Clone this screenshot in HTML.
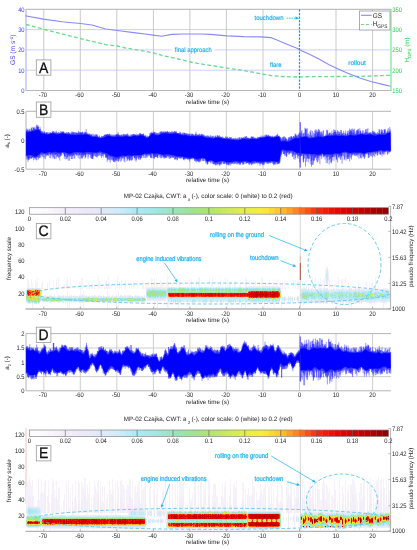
<!DOCTYPE html>
<html><head><meta charset="utf-8"><style>
html,body{margin:0;padding:0;background:#fff;width:417px;height:550px;overflow:hidden}
svg{display:block;filter:blur(0.25px)}
text{font-family:'Liberation Sans',Arial,sans-serif;text-rendering:geometricPrecision}
</style></head><body>
<svg width="417" height="550" viewBox="0 0 417 550">
<rect width="417" height="550" fill="#fff"/>
<line x1="26.0" y1="70.2" x2="391.0" y2="70.2" stroke="#c8c8ff" stroke-width="0.9"/>
<line x1="26.0" y1="49.9" x2="391.0" y2="49.9" stroke="#c8c8ff" stroke-width="0.9"/>
<line x1="26.0" y1="29.6" x2="391.0" y2="29.6" stroke="#c8c8ff" stroke-width="0.9"/>
<line x1="43.8" y1="9.3" x2="43.8" y2="90.5" stroke="#c4c4c4" stroke-width="0.9"/>
<line x1="80.3" y1="9.3" x2="80.3" y2="90.5" stroke="#c4c4c4" stroke-width="0.9"/>
<line x1="116.8" y1="9.3" x2="116.8" y2="90.5" stroke="#c4c4c4" stroke-width="0.9"/>
<line x1="153.4" y1="9.3" x2="153.4" y2="90.5" stroke="#c4c4c4" stroke-width="0.9"/>
<line x1="189.9" y1="9.3" x2="189.9" y2="90.5" stroke="#c4c4c4" stroke-width="0.9"/>
<line x1="226.4" y1="9.3" x2="226.4" y2="90.5" stroke="#c4c4c4" stroke-width="0.9"/>
<line x1="263.0" y1="9.3" x2="263.0" y2="90.5" stroke="#c4c4c4" stroke-width="0.9"/>
<line x1="336.0" y1="9.3" x2="336.0" y2="90.5" stroke="#c4c4c4" stroke-width="0.9"/>
<line x1="372.6" y1="9.3" x2="372.6" y2="90.5" stroke="#c4c4c4" stroke-width="0.9"/>
<line x1="26.0" y1="9.3" x2="391.0" y2="9.3" stroke="#b0b0b0" stroke-width="1"/>
<line x1="26.0" y1="90.5" x2="391.0" y2="90.5" stroke="#b8b8b8" stroke-width="1"/>
<line x1="26.0" y1="9" x2="26.0" y2="91" stroke="#b4b4ff" stroke-width="1.2"/>
<line x1="391.0" y1="9" x2="391.0" y2="91" stroke="#66ee88" stroke-width="1.2"/>
<text transform="translate(24.60,92.85) scale(0.88,1)" font-size="6.6" fill="#3c3cf0" color="#3c3cf0" text-anchor="end" >0</text>
<text transform="translate(24.60,72.55) scale(0.88,1)" font-size="6.6" fill="#3c3cf0" color="#3c3cf0" text-anchor="end" >10</text>
<text transform="translate(24.60,52.25) scale(0.88,1)" font-size="6.6" fill="#3c3cf0" color="#3c3cf0" text-anchor="end" >20</text>
<text transform="translate(24.60,31.95) scale(0.88,1)" font-size="6.6" fill="#3c3cf0" color="#3c3cf0" text-anchor="end" >30</text>
<text transform="translate(24.60,11.65) scale(0.88,1)" font-size="6.6" fill="#3c3cf0" color="#3c3cf0" text-anchor="end" >40</text>
<text transform="translate(392.20,92.85) scale(0.88,1)" font-size="6.6" fill="#22d048" color="#22d048" text-anchor="start" >150</text>
<text transform="translate(392.20,72.55) scale(0.88,1)" font-size="6.6" fill="#22d048" color="#22d048" text-anchor="start" >200</text>
<text transform="translate(392.20,52.25) scale(0.88,1)" font-size="6.6" fill="#22d048" color="#22d048" text-anchor="start" >250</text>
<text transform="translate(392.20,31.95) scale(0.88,1)" font-size="6.6" fill="#22d048" color="#22d048" text-anchor="start" >300</text>
<text transform="translate(392.20,11.65) scale(0.88,1)" font-size="6.6" fill="#22d048" color="#22d048" text-anchor="start" >350</text>
<text transform="translate(42.89,97.45) scale(0.88,1)" font-size="6.6" fill="#222" color="#222" text-anchor="middle" >-70</text>
<text transform="translate(79.42,97.45) scale(0.88,1)" font-size="6.6" fill="#222" color="#222" text-anchor="middle" >-60</text>
<text transform="translate(115.95,97.45) scale(0.88,1)" font-size="6.6" fill="#222" color="#222" text-anchor="middle" >-50</text>
<text transform="translate(152.48,97.45) scale(0.88,1)" font-size="6.6" fill="#222" color="#222" text-anchor="middle" >-40</text>
<text transform="translate(189.01,97.45) scale(0.88,1)" font-size="6.6" fill="#222" color="#222" text-anchor="middle" >-30</text>
<text transform="translate(225.54,97.45) scale(0.88,1)" font-size="6.6" fill="#222" color="#222" text-anchor="middle" >-20</text>
<text transform="translate(262.07,97.45) scale(0.88,1)" font-size="6.6" fill="#222" color="#222" text-anchor="middle" >-10</text>
<text transform="translate(299.50,97.45) scale(0.88,1)" font-size="6.6" fill="#222" color="#222" text-anchor="middle" >0</text>
<text transform="translate(336.03,97.45) scale(0.88,1)" font-size="6.6" fill="#222" color="#222" text-anchor="middle" >10</text>
<text transform="translate(372.56,97.45) scale(0.88,1)" font-size="6.6" fill="#222" color="#222" text-anchor="middle" >20</text>
<text x="207.5" y="104.0" font-size="6.2" fill="#222" color="#222" text-anchor="middle" textLength="43" lengthAdjust="spacingAndGlyphs" >relative time (s)</text>
<text transform="translate(14.9,49.8) rotate(-90)" font-size="6.6" fill="#3c3cf0" color="#3c3cf0" text-anchor="middle">GS (m s<tspan dy="-2" font-size="4.5">-1</tspan><tspan dy="2">)</tspan></text>
<text transform="translate(409,50) rotate(-90)" font-size="6.2" fill="#22d048" color="#22d048" text-anchor="middle">H<tspan dy="1.8" font-size="4.5">GPS</tspan><tspan dy="-1.8"> (m)</tspan></text>
<polyline points="26.0,24.5 43.5,29.2 62.0,33.9 80.4,38.6 98.8,42.9 105.6,44.6 117.3,46.0 125.7,48.0 135.8,49.6 154.0,53.0 162.0,55.4 176.8,58.7 193.6,62.7 210.4,65.4 227.1,68.1 243.9,70.5 260.7,73.8 270.8,75.5 280.8,76.5 297.6,77.0 310.0,76.6 340.0,76.5 360.0,76.4 390.5,75.3" fill="none" stroke="#6ad890" stroke-width="1.3" stroke-dasharray="3.8 2.4"/>
<polyline points="25.0,15.7 43.5,19.1 62.0,21.8 80.4,23.5 92.0,25.0 98.0,26.8 105.6,29.0 117.3,30.5 135.8,32.9 145.0,34.0 153.0,35.1 161.6,36.3 171.7,34.4 183.0,34.0 200.0,34.0 210.4,34.4 227.1,35.9 243.9,36.6 260.7,36.9 270.8,37.6 277.5,40.2 287.6,44.6 297.6,48.6 299.8,50.0 309.4,54.2 319.0,59.0 328.6,64.5 337.0,68.5 347.8,73.3 359.7,78.1 371.7,81.7 383.7,84.6 390.5,86.2" fill="none" stroke="#8a8af5" stroke-width="1.1"/>
<line x1="299.5" y1="9.5" x2="299.5" y2="90.5" stroke="#1890f0" stroke-width="1.2" stroke-dasharray="2.2 1.3"/>
<rect x="171.5" y="47.4" width="43" height="6" fill="#fff"/>
<text x="193.3" y="52.3" font-size="6.6" fill="#18b0f0" color="#18b0f0" text-anchor="middle" textLength="37" lengthAdjust="spacingAndGlyphs" stroke="#18b0f0" stroke-width="0.18">final approach</text>
<text x="269.0" y="20.3" font-size="6.6" fill="#18b0f0" color="#18b0f0" text-anchor="middle" textLength="29" lengthAdjust="spacingAndGlyphs" stroke="#18b0f0" stroke-width="0.18">touchdown</text>
<line x1="286.7" y1="18.2" x2="296" y2="18.2" stroke="#18b0f0" stroke-width="0.8" stroke-dasharray="1.6 0.8"/>
<path d="M299 18.2 L295.5 16.6 L295.5 19.8 Z" fill="#18b0f0"/>
<text x="275.8" y="67.0" font-size="6.6" fill="#18b0f0" color="#18b0f0" text-anchor="middle" textLength="11.5" lengthAdjust="spacingAndGlyphs" stroke="#18b0f0" stroke-width="0.18">flare</text>
<text x="357.0" y="65.2" font-size="6.6" fill="#18b0f0" color="#18b0f0" text-anchor="middle" textLength="17.5" lengthAdjust="spacingAndGlyphs" stroke="#18b0f0" stroke-width="0.18">rollout</text>
<rect x="359.5" y="11" width="30.5" height="19" fill="#fff" stroke="#9a9a9a" stroke-width="0.8"/>
<line x1="361" y1="15.3" x2="371.7" y2="15.3" stroke="#8a8af5" stroke-width="1.1"/>
<line x1="361" y1="24.5" x2="371.7" y2="24.5" stroke="#6ad890" stroke-width="1.2" stroke-dasharray="3 2"/>
<text transform="translate(372.80,17.60) scale(0.95,1)" font-size="6.8" fill="#222" color="#222" text-anchor="start" >GS</text>
<text transform="translate(372.80,26.00) scale(0.92,1)" font-size="6.8" fill="#222" color="#222" text-anchor="start" >H<tspan dy="2.2" font-size="5.2">GPS</tspan></text>
<rect x="36.3" y="59.9" width="14.6" height="15.3" fill="#fff" stroke="#9a9a9a" stroke-width="0.8"/>
<text transform="translate(43.60,72.65) scale(0.92,1)" font-size="15.2" fill="#111" color="#111" text-anchor="middle" stroke="#111" stroke-width="0.3">A</text>
<line x1="43.8" y1="111.3" x2="43.8" y2="169.2" stroke="#c8c8c8" stroke-width="0.9"/>
<line x1="80.3" y1="111.3" x2="80.3" y2="169.2" stroke="#c8c8c8" stroke-width="0.9"/>
<line x1="116.8" y1="111.3" x2="116.8" y2="169.2" stroke="#c8c8c8" stroke-width="0.9"/>
<line x1="153.4" y1="111.3" x2="153.4" y2="169.2" stroke="#c8c8c8" stroke-width="0.9"/>
<line x1="189.9" y1="111.3" x2="189.9" y2="169.2" stroke="#c8c8c8" stroke-width="0.9"/>
<line x1="226.4" y1="111.3" x2="226.4" y2="169.2" stroke="#c8c8c8" stroke-width="0.9"/>
<line x1="263.0" y1="111.3" x2="263.0" y2="169.2" stroke="#c8c8c8" stroke-width="0.9"/>
<line x1="299.5" y1="111.3" x2="299.5" y2="169.2" stroke="#c8c8c8" stroke-width="0.9"/>
<line x1="336.0" y1="111.3" x2="336.0" y2="169.2" stroke="#c8c8c8" stroke-width="0.9"/>
<line x1="372.6" y1="111.3" x2="372.6" y2="169.2" stroke="#c8c8c8" stroke-width="0.9"/>
<path d="M391.0 111.3H26.0V169.2H391.0" fill="none" stroke="#b4b4b4" stroke-width="1"/>
<path d="M26.2 132.2 27.1 132.4 28.0 132.5 28.9 132.3 29.8 132.0 30.7 131.7 31.6 131.4 32.5 131.2 33.4 130.9 34.3 130.7 35.2 130.6 36.1 130.4 37.0 130.1 37.9 129.8 38.8 130.1 39.7 130.4 40.6 132.2 41.5 133.4 42.4 133.6 43.3 133.8 44.2 134.1 45.1 134.3 46.0 134.5 46.9 134.7 47.8 134.8 48.7 134.6 49.6 134.3 50.5 134.0 51.4 133.6 52.3 133.5 53.2 133.5 54.1 133.7 55.0 134.0 55.9 134.2 56.8 134.4 57.7 134.4 58.6 134.3 59.5 134.1 60.4 133.8 61.3 133.5 62.2 133.3 63.1 133.4 64.0 133.7 64.9 134.0 65.8 134.2 66.7 134.3 67.6 134.4 68.5 134.5 69.4 134.6 70.3 134.7 71.2 134.8 72.1 134.9 73.0 134.9 73.9 135.0 74.8 135.0 75.7 135.0 76.6 135.0 77.5 134.9 78.4 134.8 79.3 134.8 80.2 134.8 81.1 134.8 82.0 134.8 82.9 134.8 83.8 134.7 84.7 134.6 85.6 134.5 86.5 134.6 87.4 134.8 88.3 135.0 89.2 135.5 90.1 135.9 91.0 136.4 91.9 136.8 92.8 137.1 93.7 137.1 94.6 137.0 95.5 137.1 96.4 137.1 97.3 137.4 98.2 137.8 99.1 138.1 100.0 138.3 100.9 138.2 101.8 138.1 102.7 138.0 103.6 137.7 104.5 137.3 105.4 136.9 106.3 136.5 107.2 136.2 108.1 136.0 109.0 136.1 109.9 136.2 110.8 136.6 111.7 136.9 112.6 137.1 113.5 137.2 114.4 137.1 115.3 136.9 116.2 136.7 117.1 136.4 118.0 136.4 118.9 136.5 119.8 136.7 120.7 136.9 121.6 137.0 122.5 137.0 123.4 136.9 124.3 136.6 125.2 136.4 126.1 136.3 127.0 136.3 127.9 136.5 128.8 136.9 129.7 137.1 130.6 137.1 131.5 136.8 132.4 136.4 133.3 136.1 134.2 136.0 135.1 136.1 136.0 136.3 136.9 136.4 137.8 136.3 138.7 136.0 139.6 135.7 140.5 135.5 141.4 135.4 142.3 135.7 143.2 136.1 144.1 136.6 145.0 137.2 145.9 137.8 146.8 138.0 147.7 137.9 148.6 137.3 149.5 136.5 150.4 135.5 151.3 134.6 152.2 134.2 153.1 134.1 154.0 134.3 154.9 134.8 155.8 135.2 156.7 135.4 157.6 135.4 158.5 135.3 159.4 135.0 160.3 134.6 161.2 134.1 162.1 133.8 163.0 133.5 163.9 133.4 164.8 133.4 165.7 133.5 166.6 133.6 167.5 133.6 168.4 133.8 169.3 133.9 170.2 133.9 171.1 133.9 172.0 133.9 172.9 133.8 173.8 133.7 174.7 133.7 175.6 133.6 176.5 133.7 177.4 133.8 178.3 134.0 179.2 134.3 180.1 134.5 181.0 135.0 181.9 135.2 182.8 135.4 183.7 135.3 184.6 135.3 185.5 135.2 186.4 135.4 187.3 135.7 188.2 136.0 189.1 136.3 190.0 136.4 190.9 136.3 191.8 136.3 192.7 136.3 193.6 136.2 194.5 136.2 195.4 136.2 196.3 136.3 197.2 136.5 198.1 136.6 199.0 136.5 199.9 136.3 200.8 136.3 201.7 136.3 202.6 136.5 203.5 136.9 204.4 137.3 205.3 137.7 206.2 137.9 207.1 138.1 208.0 138.0 208.9 138.0 209.8 138.1 210.7 138.3 211.6 138.5 212.5 138.6 213.4 138.6 214.3 138.6 215.2 138.3 216.1 138.1 217.0 137.8 217.9 137.7 218.8 137.7 219.7 137.9 220.6 138.2 221.5 138.5 222.4 138.9 223.3 139.1 224.2 139.2 225.1 139.1 226.0 139.1 226.9 139.0 227.8 139.1 228.7 139.4 229.6 139.5 230.5 139.7 231.4 139.8 232.3 139.9 233.2 140.0 234.1 140.1 235.0 140.2 235.9 140.2 236.8 140.2 237.7 140.2 238.6 140.2 239.5 140.1 240.4 139.9 241.3 139.7 242.2 139.3 243.1 139.0 244.0 138.9 244.9 138.9 245.8 139.1 246.7 139.4 247.6 139.6 248.5 139.6 249.4 139.5 250.3 139.2 251.2 139.0 252.1 138.9 253.0 138.9 253.9 139.1 254.8 139.3 255.7 139.4 256.6 139.4 257.5 139.2 258.4 138.8 259.3 138.6 260.2 138.3 261.1 138.1 262.0 137.9 262.9 137.9 263.8 137.7 264.7 137.5 265.6 137.3 266.5 137.0 267.4 136.8 268.3 136.9 269.2 137.2 270.1 137.4 271.0 137.6 271.9 137.7 272.8 137.8 273.7 137.7 274.6 137.5 275.5 137.2 276.4 137.1 277.3 137.0 278.2 136.9 279.1 136.9 280.0 138.7 280.9 141.9 281.8 141.8 282.7 141.5 283.6 141.2 284.5 141.1 285.4 141.4 286.3 141.6 287.2 141.8 288.1 141.9 289.0 141.7 289.9 141.2 290.8 140.6 291.7 140.0 292.6 139.4 293.5 138.9 294.4 138.6 295.3 138.4 296.2 138.2 297.1 138.4 298.0 138.4 298.9 138.3 299.8 138.8 L299.8 153.7 298.9 152.7 298.0 152.8 297.1 152.8 296.2 152.5 295.3 152.0 294.4 151.6 293.5 151.2 292.6 150.8 291.7 150.6 290.8 150.4 289.9 150.3 289.0 150.3 288.1 150.6 287.2 150.6 286.3 150.6 285.4 150.3 284.5 149.9 283.6 149.6 282.7 149.6 281.8 149.9 280.9 150.9 280.0 157.7 279.1 161.5 278.2 161.5 277.3 161.5 276.4 161.5 275.5 161.4 274.6 161.3 273.7 161.2 272.8 161.0 271.9 160.8 271.0 160.9 270.1 161.1 269.2 161.3 268.3 161.4 267.4 161.4 266.5 161.3 265.6 161.3 264.7 161.4 263.8 161.6 262.9 161.7 262.0 161.8 261.1 161.6 260.2 161.5 259.3 161.6 258.4 161.6 257.5 161.6 256.6 161.4 255.7 161.1 254.8 160.9 253.9 160.9 253.0 161.1 252.1 161.4 251.2 161.7 250.3 161.9 249.4 161.9 248.5 161.8 247.6 161.6 246.7 161.3 245.8 161.1 244.9 161.0 244.0 161.0 243.1 161.2 242.2 161.4 241.3 161.5 240.4 161.7 239.5 161.8 238.6 161.6 237.7 161.3 236.8 161.2 235.9 161.0 235.0 161.0 234.1 161.3 233.2 161.4 232.3 161.6 231.4 161.8 230.5 161.9 229.6 161.9 228.7 162.0 227.8 162.1 226.9 162.0 226.0 161.8 225.1 161.4 224.2 161.1 223.3 160.8 222.4 160.8 221.5 160.9 220.6 161.0 219.7 161.2 218.8 161.4 217.9 161.6 217.0 162.0 216.1 162.2 215.2 162.1 214.3 161.8 213.4 161.2 212.5 160.7 211.6 160.3 210.7 160.1 209.8 160.3 208.9 160.7 208.0 161.1 207.1 161.4 206.2 160.3 205.3 158.7 204.4 157.9 203.5 157.7 202.6 157.6 201.7 157.7 200.8 157.9 199.9 158.3 199.0 158.6 198.1 158.9 197.2 159.0 196.3 158.9 195.4 158.5 194.5 158.1 193.6 157.7 192.7 157.4 191.8 157.4 190.9 157.6 190.0 157.8 189.1 157.8 188.2 157.6 187.3 157.4 186.4 157.3 185.5 157.1 184.6 157.0 183.7 156.8 182.8 156.6 181.9 156.5 181.0 156.3 180.1 156.2 179.2 156.3 178.3 156.3 177.4 156.2 176.5 156.1 175.6 155.8 174.7 155.4 173.8 155.2 172.9 155.0 172.0 154.8 171.1 154.7 170.2 154.5 169.3 154.4 168.4 154.2 167.5 154.0 166.6 154.1 165.7 154.3 164.8 154.5 163.9 154.7 163.0 154.7 162.1 154.5 161.2 154.2 160.3 153.9 159.4 153.5 158.5 153.4 157.6 153.3 156.7 153.5 155.8 153.5 154.9 153.5 154.0 153.5 153.1 153.2 152.2 153.1 151.3 153.1 150.4 153.2 149.5 153.3 148.6 153.5 147.7 153.6 146.8 153.4 145.9 153.4 145.0 153.4 144.1 153.6 143.2 154.0 142.3 154.4 141.4 154.8 140.5 154.9 139.6 155.1 138.7 155.1 137.8 155.1 136.9 155.1 136.0 155.1 135.1 155.0 134.2 155.1 133.3 155.3 132.4 155.4 131.5 155.5 130.6 155.5 129.7 155.3 128.8 155.2 127.9 155.3 127.0 155.5 126.1 155.8 125.2 155.8 124.3 155.7 123.4 155.6 122.5 155.5 121.6 155.6 120.7 155.9 119.8 156.2 118.9 156.6 118.0 156.8 117.1 157.0 116.2 157.0 115.3 157.0 114.4 156.6 113.5 156.3 112.6 155.9 111.7 155.5 110.8 155.4 109.9 155.2 109.0 154.8 108.1 154.1 107.2 153.6 106.3 153.1 105.4 152.8 104.5 152.6 103.6 152.5 102.7 152.3 101.8 151.9 100.9 151.5 100.0 151.2 99.1 151.5 98.2 151.9 97.3 152.2 96.4 152.4 95.5 152.4 94.6 152.3 93.7 152.3 92.8 152.2 91.9 152.3 91.0 152.2 90.1 152.1 89.2 151.9 88.3 151.8 87.4 151.7 86.5 151.9 85.6 152.1 84.7 152.3 83.8 152.4 82.9 152.4 82.0 152.3 81.1 152.2 80.2 152.3 79.3 152.1 78.4 152.1 77.5 152.0 76.6 151.9 75.7 151.8 74.8 151.9 73.9 152.1 73.0 152.5 72.1 153.0 71.2 153.4 70.3 153.6 69.4 153.6 68.5 153.4 67.6 153.2 66.7 152.9 65.8 152.5 64.9 152.2 64.0 152.1 63.1 152.0 62.2 152.1 61.3 152.3 60.4 152.5 59.5 152.7 58.6 152.6 57.7 152.4 56.8 152.0 55.9 151.8 55.0 151.7 54.1 151.9 53.2 152.2 52.3 152.3 51.4 152.4 50.5 152.2 49.6 152.1 48.7 152.0 47.8 152.3 46.9 152.7 46.0 153.0 45.1 153.3 44.2 153.2 43.3 152.8 42.4 152.4 41.5 152.0 40.6 152.5 39.7 153.8 38.8 154.4 37.9 155.3 37.0 155.8 36.1 156.4 35.2 156.5 34.3 156.3 33.4 155.8 32.5 155.2 31.6 154.9 30.7 154.8 29.8 154.9 28.9 155.0 28.0 155.1 27.1 155.3 26.2 155.5Z" fill="#0000ff"/><path d="M26.2 131.1V156.5M26.5 130.7V156.1M26.8 128.7V159.3M27.1 128.8V156.1M27.4 129.9V159.5M27.7 130.3V157.9M28.0 131.8V161.9M28.3 131.4V158.6M28.6 130.7V159.7M28.9 129.6V159.8M29.2 128.5V159.5M29.5 130.7V156.5M29.8 131.0V158.2M30.1 129.1V158.6M30.4 130.7V158.4M30.7 131.1V155.4M31.0 130.9V155.5M31.3 127.6V158.8M31.6 127.7V158.2M31.9 129.0V158.4M32.2 130.4V157.8M32.5 130.2V157.1M32.8 126.8V157.3M33.1 130.3V157.0M33.4 127.6V160.4M33.7 127.6V157.7M34.0 127.9V157.3M34.3 129.1V157.9M34.6 127.2V158.0M34.9 129.8V159.7M35.2 129.5V157.7M35.5 128.9V159.1M35.8 128.7V157.3M36.1 126.3V157.3M36.4 129.6V160.5M36.7 124.6V157.4M37.0 125.3V159.9M37.3 126.5V157.2M37.6 127.0V157.3M37.9 125.0V156.0M38.2 126.9V157.5M38.5 126.5V159.5M38.8 129.4V155.4M39.1 129.2V156.6M39.4 129.4V158.0M39.7 129.7V158.2M40.0 126.7V154.7M40.3 130.5V153.8M40.6 128.8V157.7M40.9 131.2V155.1M41.2 130.7V152.8M41.5 132.7V155.4M41.8 131.6V154.1M42.1 130.9V157.3M42.4 132.3V153.5M42.7 131.5V156.3M43.0 133.1V154.9M43.3 133.2V153.5M43.6 131.8V153.7M43.9 133.3V158.7M44.2 132.9V157.3M44.5 131.4V153.9M44.8 131.6V153.9M45.1 132.8V154.0M45.4 133.8V159.2M45.7 132.9V155.0M46.0 133.2V156.7M46.3 132.2V153.5M46.6 132.4V155.3M46.9 132.3V155.8M47.2 133.4V153.6M47.5 132.4V155.2M47.8 133.7V155.1M48.1 134.0V154.9M48.4 132.3V156.3M48.7 133.6V152.9M49.0 133.8V153.6M49.3 133.7V154.6M49.6 132.1V152.7M49.9 133.1V157.9M50.2 133.1V154.1M50.5 132.2V154.7M50.8 133.2V158.2M51.1 132.8V153.8M51.4 132.9V155.2M51.7 132.9V153.4M52.0 132.9V153.3M52.3 130.8V156.4M52.6 132.2V154.6M52.9 132.0V158.5M53.2 131.4V153.0M53.5 131.1V157.6M53.8 132.8V154.4M54.1 133.0V153.4M54.4 131.6V159.0M54.7 132.5V154.2M55.0 133.1V158.8M55.3 132.6V154.8M55.6 133.3V154.9M55.9 131.7V154.0M56.2 130.9V158.7M56.5 132.5V154.0M56.8 133.7V156.5M57.1 132.7V156.5M57.4 132.9V153.3M57.7 133.0V156.6M58.0 133.6V156.5M58.3 132.1V153.9M58.6 133.7V158.1M58.9 131.8V153.2M59.2 132.7V157.3M59.5 133.2V153.9M59.8 133.2V160.5M60.1 133.2V156.9M60.4 130.9V155.9M60.7 133.0V155.4M61.0 132.8V154.1M61.3 132.7V155.6M61.6 131.8V153.3M61.9 131.4V155.3M62.2 132.7V152.9M62.5 131.9V152.9M62.8 131.4V152.8M63.1 131.9V152.7M63.4 131.9V153.1M63.7 131.3V154.0M64.0 132.5V154.9M64.3 132.8V158.8M64.6 133.2V156.0M64.9 133.4V156.4M65.2 132.5V157.0M65.5 133.3V153.0M65.8 133.2V159.6M66.1 133.6V153.6M66.4 132.0V153.8M66.7 133.6V159.0M67.0 133.6V158.6M67.3 132.3V157.3M67.6 133.2V155.0M67.9 133.8V157.0M68.2 132.5V160.7M68.5 132.0V154.4M68.8 133.5V155.9M69.1 132.4V155.1M69.4 133.3V160.7M69.7 133.5V156.2M70.0 132.8V155.0M70.3 134.1V156.5M70.6 134.0V155.6M70.9 132.7V154.3M71.2 134.1V159.0M71.5 131.7V155.7M71.8 133.7V159.0M72.1 133.6V153.6M72.4 131.8V156.1M72.7 133.0V158.9M73.0 131.6V155.2M73.3 132.1V156.0M73.6 132.6V154.3M73.9 134.1V155.0M74.2 132.0V158.1M74.5 133.8V153.4M74.8 132.4V158.8M75.1 133.6V153.2M75.4 132.1V154.0M75.7 134.4V153.9M76.0 132.9V155.2M76.3 133.0V155.3M76.6 132.4V155.5M76.9 133.2V153.4M77.2 133.3V152.6M77.5 133.3V155.3M77.8 134.2V153.5M78.1 132.2V158.1M78.4 130.7V153.3M78.7 132.9V155.7M79.0 133.9V153.0M79.3 131.8V155.0M79.6 133.5V155.0M79.9 132.2V159.2M80.2 132.7V155.4M80.5 132.4V153.1M80.8 133.7V152.8M81.1 132.4V157.4M81.4 132.4V154.9M81.7 132.7V158.5M82.0 132.0V158.6M82.3 133.4V154.2M82.6 131.5V158.2M82.9 132.0V155.0M83.2 133.5V156.2M83.5 134.1V156.6M83.8 133.2V154.5M84.1 133.8V154.7M84.4 133.7V154.1M84.7 131.9V155.5M85.0 132.2V158.5M85.3 132.6V154.3M85.6 131.8V157.3M85.9 133.1V157.4M86.2 129.1V155.0M86.5 132.5V153.4M86.8 134.1V153.2M87.1 134.0V154.6M87.4 133.9V153.5M87.7 132.7V153.4M88.0 134.1V158.8M88.3 133.6V156.7M88.6 134.4V154.0M88.9 134.3V152.6M89.2 134.4V154.3M89.5 133.6V154.4M89.8 134.7V155.0M90.1 134.9V153.8M90.4 134.8V158.0M90.7 133.7V153.3M91.0 135.6V156.3M91.3 134.6V154.7M91.6 134.5V158.8M91.9 135.4V157.7M92.2 133.6V158.9M92.5 136.4V158.9M92.8 135.8V156.4M93.1 136.5V159.1M93.4 136.3V156.4M93.7 134.1V153.2M94.0 135.3V153.7M94.3 136.4V154.3M94.6 134.9V155.8M94.9 135.9V153.0M95.2 136.0V155.9M95.5 134.4V153.0M95.8 136.4V156.5M96.1 134.2V156.7M96.4 134.6V157.4M96.7 134.8V153.8M97.0 136.7V153.4M97.3 134.4V155.6M97.6 136.0V157.4M97.9 135.8V153.0M98.2 137.1V156.1M98.5 137.0V152.8M98.8 137.3V155.5M99.1 136.0V153.2M99.4 135.3V155.4M99.7 137.6V152.9M100.0 136.8V155.5M100.3 137.7V152.5M100.6 137.3V153.2M100.9 137.6V156.5M101.2 137.6V152.3M101.5 135.8V157.9M101.8 137.5V153.7M102.1 136.2V155.8M102.4 136.3V153.8M102.7 137.2V156.0M103.0 136.0V154.1M103.3 136.5V157.3M103.6 135.4V153.9M103.9 136.6V154.8M104.2 136.7V153.2M104.5 134.8V154.6M104.8 135.1V154.0M105.1 134.4V153.6M105.4 135.3V157.3M105.7 134.6V157.4M106.0 134.6V158.0M106.3 134.0V155.5M106.6 135.0V157.3M106.9 134.8V157.6M107.2 134.6V161.8M107.5 133.9V159.7M107.8 134.0V157.6M108.1 135.2V159.0M108.4 134.6V155.5M108.7 134.4V160.2M109.0 134.3V156.1M109.3 133.8V160.3M109.6 133.7V156.0M109.9 135.6V159.3M110.2 135.4V162.7M110.5 135.8V156.7M110.8 134.4V159.6M111.1 134.4V157.2M111.4 136.0V156.4M111.7 135.2V160.3M112.0 136.4V159.5M112.3 136.0V157.3M112.6 135.5V160.7M112.9 134.5V156.7M113.2 135.3V159.8M113.5 136.6V161.8M113.8 134.7V161.9M114.1 136.1V160.8M114.4 135.9V158.5M114.7 134.5V162.5M115.0 136.4V161.5M115.3 134.5V160.0M115.6 135.6V161.3M115.9 135.1V158.2M116.2 134.6V159.9M116.5 134.7V158.4M116.8 134.4V161.1M117.1 133.9V161.0M117.4 134.2V159.3M117.7 134.9V158.9M118.0 132.1V158.0M118.3 134.7V161.0M118.6 133.7V161.8M118.9 134.8V159.2M119.2 135.1V160.5M119.5 135.5V158.8M119.8 135.7V158.1M120.1 134.5V157.0M120.4 136.1V157.6M120.7 135.4V161.7M121.0 135.4V156.6M121.3 135.2V157.5M121.6 134.6V160.7M121.9 135.9V158.8M122.2 134.2V157.2M122.5 136.0V158.0M122.8 135.5V156.4M123.1 136.1V159.3M123.4 133.7V156.5M123.7 134.6V157.7M124.0 135.3V161.4M124.3 134.2V156.6M124.6 135.6V159.0M124.9 134.1V162.4M125.2 135.5V156.6M125.5 134.7V156.7M125.8 134.5V156.6M126.1 135.7V156.8M126.4 134.6V156.4M126.7 133.8V158.1M127.0 135.2V161.3M127.3 135.6V159.3M127.6 133.7V156.0M127.9 133.7V160.4M128.2 135.0V159.3M128.5 135.8V156.5M128.8 136.3V159.0M129.1 135.6V157.6M129.4 136.5V160.3M129.7 135.7V161.3M130.0 135.7V160.3M130.3 134.3V157.9M130.6 136.4V159.6M130.9 136.5V156.2M131.2 135.9V160.1M131.5 134.7V156.9M131.8 135.2V161.0M132.1 134.3V160.0M132.4 135.8V156.1M132.7 134.0V159.4M133.0 135.2V155.9M133.3 133.9V156.5M133.6 134.0V156.1M133.9 135.0V156.0M134.2 135.1V158.1M134.5 134.1V158.0M134.8 134.7V157.6M135.1 134.3V160.3M135.4 134.8V156.2M135.7 134.7V158.8M136.0 135.1V161.7M136.3 135.7V155.9M136.6 134.9V160.1M136.9 133.7V157.8M137.2 135.7V158.5M137.5 134.5V156.2M137.8 135.3V155.7M138.1 135.2V156.0M138.4 134.7V158.4M138.7 134.4V159.1M139.0 135.2V159.9M139.3 133.3V157.2M139.6 133.6V157.4M139.9 133.6V157.5M140.2 134.7V160.0M140.5 132.9V159.0M140.8 134.1V158.1M141.1 134.5V155.8M141.4 134.6V158.1M141.7 133.7V156.3M142.0 134.2V158.1M142.3 134.1V155.2M142.6 134.4V155.5M142.9 135.1V154.8M143.2 133.9V155.9M143.5 133.6V157.8M143.8 133.8V154.7M144.1 136.0V154.3M144.4 135.5V154.5M144.7 135.7V157.9M145.0 136.1V154.4M145.3 135.8V154.5M145.6 134.9V158.1M145.9 137.2V155.7M146.2 136.1V155.3M146.5 137.4V157.6M146.8 137.3V154.6M147.1 135.6V155.7M147.4 137.3V157.6M147.7 136.1V154.3M148.0 137.1V154.9M148.3 136.8V155.8M148.6 136.5V154.1M148.9 136.5V156.4M149.2 136.1V154.0M149.5 135.5V155.5M149.8 133.3V154.9M150.1 135.1V154.5M150.4 132.7V156.6M150.7 133.5V158.0M151.0 133.3V157.9M151.3 132.3V157.5M151.6 133.1V153.8M151.9 131.7V158.2M152.2 133.1V153.9M152.5 132.7V154.5M152.8 133.0V153.9M153.1 133.5V158.3M153.4 131.5V156.0M153.7 132.9V158.2M154.0 132.2V155.4M154.3 132.4V158.4M154.6 132.2V158.5M154.9 132.1V157.0M155.2 133.2V155.6M155.5 134.4V157.0M155.8 132.4V156.5M156.1 134.4V157.2M156.4 132.8V154.1M156.7 134.0V156.5M157.0 134.6V157.4M157.3 133.1V156.8M157.6 133.0V158.1M157.9 134.6V158.1M158.2 134.7V155.2M158.5 132.9V155.4M158.8 134.6V154.2M159.1 132.6V154.2M159.4 134.0V155.0M159.7 132.3V157.4M160.0 134.0V154.5M160.3 131.9V156.5M160.6 132.6V154.6M160.9 131.6V158.7M161.2 131.2V158.0M161.5 131.7V155.9M161.8 132.9V155.1M162.1 131.8V157.9M162.4 132.9V155.3M162.7 132.2V155.8M163.0 131.0V157.0M163.3 132.2V156.8M163.6 132.1V158.4M163.9 132.4V157.3M164.2 130.7V156.3M164.5 132.8V157.5M164.8 132.7V158.8M165.1 131.9V157.8M165.4 132.0V157.0M165.7 131.4V157.5M166.0 131.6V157.4M166.3 131.7V158.1M166.6 132.3V155.2M166.9 131.8V157.9M167.2 132.1V155.8M167.5 130.8V156.1M167.8 131.5V156.5M168.1 132.4V155.5M168.4 132.1V157.4M168.7 132.6V156.7M169.0 131.8V155.0M169.3 133.2V158.9M169.6 131.7V156.3M169.9 133.3V158.8M170.2 132.2V155.4M170.5 132.5V157.9M170.8 132.4V158.2M171.1 132.6V155.5M171.4 131.7V156.0M171.7 133.3V157.3M172.0 130.8V158.0M172.3 131.8V156.2M172.6 133.1V157.0M172.9 132.8V157.5M173.2 131.8V157.9M173.5 132.1V155.8M173.8 133.1V157.7M174.1 131.9V157.8M174.4 130.8V156.0M174.7 131.6V159.6M175.0 132.0V159.7M175.3 131.8V156.7M175.6 131.3V159.2M175.9 133.0V158.9M176.2 131.3V157.5M176.5 131.7V156.7M176.8 133.1V159.3M177.1 133.2V160.4M177.4 133.1V160.1M177.7 133.0V157.3M178.0 133.3V156.9M178.3 133.1V158.0M178.6 133.0V157.2M178.9 133.5V158.3M179.2 133.3V157.1M179.5 133.6V158.6M179.8 131.5V158.0M180.1 133.9V156.9M180.4 133.1V158.4M180.7 132.0V157.7M181.0 133.3V159.2M181.3 134.2V157.4M181.6 134.5V157.7M181.9 134.3V157.1M182.2 133.5V158.4M182.5 134.7V157.2M182.8 132.8V157.3M183.1 132.6V158.8M183.4 134.7V159.3M183.7 134.6V160.1M184.0 132.6V159.1M184.3 132.7V160.4M184.6 133.2V158.4M184.9 133.3V158.5M185.2 133.2V158.6M185.5 134.5V159.3M185.8 134.5V158.0M186.1 133.1V158.8M186.4 133.8V158.4M186.7 133.4V158.4M187.0 134.6V159.5M187.3 134.5V158.3M187.6 133.4V159.3M187.9 134.7V159.2M188.2 135.3V159.6M188.5 134.4V158.9M188.8 133.5V158.8M189.1 134.7V159.6M189.4 133.9V158.7M189.7 133.9V161.6M190.0 135.7V159.7M190.3 135.8V158.7M190.6 135.5V159.1M190.9 133.9V158.9M191.2 133.5V158.9M191.5 134.8V159.2M191.8 135.3V158.1M192.1 133.8V158.1M192.4 134.1V159.5M192.7 133.7V158.3M193.0 135.4V158.2M193.3 134.0V158.6M193.6 135.0V158.6M193.9 135.3V158.7M194.2 135.6V159.3M194.5 135.5V160.4M194.8 134.4V161.2M195.1 135.6V159.2M195.4 133.9V161.5M195.7 133.9V159.7M196.0 131.7V161.4M196.3 135.3V159.7M196.6 133.8V162.4M196.9 135.7V160.3M197.2 134.9V161.1M197.5 135.2V161.2M197.8 134.2V159.9M198.1 135.2V161.8M198.4 135.2V160.9M198.7 135.1V162.2M199.0 133.7V161.7M199.3 133.7V160.9M199.6 135.3V162.3M199.9 135.6V159.7M200.2 134.3V161.5M200.5 135.7V159.9M200.8 135.5V161.3M201.1 133.8V159.5M201.4 135.0V159.0M201.7 133.9V158.6M202.0 134.8V158.8M202.3 134.7V158.9M202.6 134.0V161.0M202.9 135.9V158.3M203.2 135.5V161.0M203.5 134.4V159.2M203.8 135.7V160.7M204.1 135.8V161.3M204.4 136.4V158.5M204.7 134.9V159.1M205.0 135.8V158.9M205.3 137.1V160.2M205.6 136.2V161.7M205.9 136.7V163.5M206.2 136.5V160.9M206.5 136.2V161.4M206.8 135.3V162.6M207.1 137.1V164.7M207.4 135.5V164.3M207.7 137.2V163.0M208.0 135.8V164.2M208.3 136.5V161.7M208.6 135.6V161.6M208.9 137.1V161.4M209.2 137.0V161.3M209.5 136.7V161.3M209.8 137.3V162.0M210.1 136.0V161.4M210.4 135.2V162.4M210.7 137.4V163.4M211.0 137.4V160.8M211.3 137.0V160.8M211.6 135.7V162.2M211.9 137.6V161.0M212.2 137.7V163.9M212.5 136.4V161.6M212.8 135.8V161.7M213.1 137.3V163.8M213.4 135.9V164.4M213.7 137.9V162.2M214.0 138.0V163.9M214.3 137.3V164.9M214.6 137.3V163.9M214.9 135.7V163.4M215.2 136.7V163.4M215.5 136.7V164.9M215.8 135.5V165.7M216.1 136.7V162.8M216.4 137.4V165.0M216.7 136.9V163.4M217.0 137.2V163.6M217.3 135.4V163.9M217.6 135.3V164.4M217.9 135.8V165.3M218.2 136.6V162.3M218.5 136.4V163.9M218.8 136.7V162.2M219.1 135.1V164.6M219.4 135.8V163.7M219.7 137.3V166.0M220.0 137.3V164.9M220.3 136.4V164.6M220.6 137.2V163.9M220.9 137.3V161.6M221.2 136.8V163.3M221.5 137.0V164.6M221.8 138.0V162.4M222.1 137.7V162.3M222.4 136.4V161.4M222.7 137.8V161.9M223.0 138.0V164.1M223.3 137.0V161.5M223.6 138.2V163.5M223.9 138.0V163.5M224.2 138.5V164.2M224.5 138.2V162.3M224.8 137.8V164.1M225.1 137.6V163.2M225.4 138.4V162.2M225.7 136.2V162.4M226.0 138.4V163.4M226.3 136.9V164.6M226.6 138.4V164.2M226.9 137.7V162.7M227.2 136.8V165.0M227.5 138.4V162.9M227.8 136.6V164.5M228.1 138.6V163.8M228.4 138.2V165.6M228.7 138.0V165.2M229.0 138.8V163.6M229.3 138.6V163.1M229.6 136.9V164.7M229.9 138.8V162.6M230.2 137.2V165.5M230.5 137.6V162.6M230.8 138.3V164.1M231.1 137.4V162.9M231.4 137.4V164.3M231.7 139.2V162.4M232.0 139.3V163.8M232.3 138.7V162.8M232.6 138.5V163.6M232.9 139.3V163.0M233.2 138.3V164.1M233.5 139.0V162.1M233.8 138.4V162.1M234.1 138.0V164.1M234.4 139.2V162.4M234.7 139.5V163.8M235.0 138.9V163.2M235.3 138.3V164.0M235.6 139.6V162.0M235.9 137.6V162.7M236.2 138.7V161.7M236.5 139.3V164.4M236.8 139.2V162.3M237.1 138.8V162.3M237.4 137.9V164.0M237.7 139.6V162.6M238.0 139.5V164.2M238.3 139.1V163.4M238.6 137.6V162.7M238.9 139.6V163.2M239.2 137.4V164.5M239.5 137.6V164.6M239.8 139.4V162.7M240.1 137.5V163.6M240.4 139.1V164.4M240.7 138.8V164.8M241.0 138.4V163.1M241.3 137.2V162.2M241.6 138.4V162.8M241.9 137.9V162.5M242.2 137.6V162.1M242.5 138.3V163.6M242.8 138.5V165.0M243.1 138.1V163.8M243.4 137.0V162.7M243.7 138.2V164.2M244.0 137.2V164.5M244.3 138.1V161.7M244.6 137.9V161.8M244.9 136.4V162.0M245.2 136.8V163.8M245.5 136.6V161.9M245.8 138.5V161.7M246.1 138.5V163.6M246.4 136.0V163.0M246.7 136.7V163.4M247.0 137.9V162.5M247.3 138.1V162.6M247.6 137.8V163.0M247.9 137.4V163.4M248.2 138.2V162.7M248.5 138.4V163.8M248.8 137.8V162.5M249.1 138.1V165.1M249.4 138.7V162.7M249.7 138.4V164.7M250.0 138.6V163.4M250.3 138.2V163.9M250.6 138.5V163.1M250.9 136.8V162.7M251.2 138.1V163.8M251.5 136.3V165.2M251.8 137.4V163.3M252.1 136.8V165.0M252.4 137.3V162.6M252.7 136.5V163.8M253.0 136.8V163.2M253.3 138.2V164.3M253.6 136.7V162.6M253.9 138.4V163.0M254.2 138.4V161.5M254.5 137.8V163.6M254.8 137.6V163.1M255.1 138.0V164.1M255.4 137.7V161.8M255.7 138.6V162.6M256.0 138.4V162.2M256.3 138.7V163.3M256.6 137.9V162.6M256.9 138.6V163.3M257.2 138.6V162.7M257.5 137.3V162.2M257.8 138.3V164.5M258.1 136.8V162.4M258.4 137.7V162.5M258.7 137.5V163.3M259.0 137.5V162.7M259.3 136.9V162.6M259.6 137.7V163.8M259.9 136.6V165.9M260.2 137.0V162.8M260.5 137.3V164.0M260.8 136.8V164.2M261.1 135.4V162.8M261.4 137.4V163.8M261.7 137.2V163.1M262.0 136.8V163.0M262.3 137.2V163.7M262.6 135.6V164.8M262.9 137.2V165.4M263.2 137.1V162.3M263.5 137.2V164.2M263.8 136.1V165.2M264.1 135.5V162.5M264.4 137.0V164.4M264.7 136.9V162.0M265.0 135.0V163.1M265.3 136.7V162.3M265.6 136.4V162.6M265.9 134.1V161.9M266.2 135.9V162.3M266.5 134.9V162.2M266.8 135.0V164.0M267.1 135.8V162.2M267.4 136.0V162.6M267.7 136.1V164.0M268.0 134.8V163.1M268.3 134.8V162.1M268.6 136.3V163.7M268.9 135.2V162.9M269.2 136.0V162.4M269.5 136.2V162.5M269.8 136.5V162.4M270.1 135.7V163.5M270.4 136.6V162.1M270.7 136.0V162.8M271.0 137.0V163.1M271.3 136.2V162.6M271.6 137.1V161.5M271.9 136.6V161.4M272.2 136.6V161.9M272.5 135.7V163.7M272.8 137.0V162.5M273.1 136.9V162.2M273.4 137.1V165.4M273.7 136.7V164.2M274.0 136.9V162.7M274.3 135.9V163.9M274.6 136.5V164.5M274.9 136.8V164.6M275.2 136.7V162.0M275.5 136.4V164.4M275.8 135.5V162.2M276.1 136.1V162.5M276.4 134.9V162.5M276.7 136.4V164.4M277.0 135.4V162.3M277.3 134.9V162.2M277.6 133.7V164.3M277.9 136.2V163.9M278.2 136.1V164.0M278.5 136.0V162.9M278.8 135.4V164.1M279.1 136.3V162.6M279.4 135.9V163.0M279.7 136.9V163.5M280.0 137.9V161.9M280.3 137.4V159.2M280.6 137.1V155.4M280.9 139.3V157.0M281.2 140.5V154.5M281.5 139.4V152.8M281.8 137.7V154.7M282.1 140.5V150.4M282.4 137.1V152.1M282.7 139.6V150.7M283.0 137.7V150.5M283.3 137.5V153.9M283.6 136.6V154.1M283.9 140.3V151.0M284.2 136.0V154.4M284.5 140.1V153.7M284.8 137.3V156.0M285.1 137.2V151.6M285.4 138.9V155.4M285.7 137.3V151.3M286.0 138.9V153.2M286.3 139.0V156.6M286.6 138.5V156.8M286.9 140.6V156.3M287.2 141.2V152.7M287.5 141.0V152.8M287.8 139.8V152.6M288.1 138.6V151.9M288.4 139.6V151.6M288.7 137.1V153.9M289.0 137.5V154.9M289.3 138.1V153.9M289.6 136.9V152.8M289.9 140.4V153.0M290.2 140.1V152.3M290.5 137.4V153.3M290.8 136.0V151.2M291.1 138.0V151.2M291.4 136.0V153.8M291.7 136.7V151.6M292.0 136.9V153.0M292.3 137.3V156.8M292.6 138.8V156.8M292.9 137.2V151.5M293.2 138.4V154.4M293.5 136.0V155.2M293.8 136.0V159.1M294.1 137.5V152.2M294.4 136.5V155.5M294.7 137.8V152.4M295.0 133.5V159.8M295.3 135.3V153.9M295.6 134.6V158.1M295.9 133.8V152.9M296.2 137.2V155.0M296.5 135.7V154.4M296.8 135.4V153.6M297.1 136.1V154.5M297.4 137.4V157.6M297.7 134.7V155.4M298.0 137.6V159.0M298.3 135.2V153.4M298.6 134.0V156.4M298.9 137.4V155.6M299.2 133.0V156.1M299.5 135.7V154.8M299.8 132.1V162.0" stroke="#0000ff" stroke-width="0.42" fill="none"/>
<path d="M300.1 137.6 301.0 137.6 301.9 137.5 302.8 137.3 303.7 137.1 304.6 136.9 305.5 136.8 306.4 137.1 307.3 137.5 308.2 138.0 309.1 138.3 310.0 138.5 310.9 138.5 311.8 138.3 312.7 138.2 313.6 138.0 314.5 137.9 315.4 137.6 316.3 137.2 317.2 136.8 318.1 136.6 319.0 136.6 319.9 136.7 320.8 137.1 321.7 137.3 322.6 137.4 323.5 137.3 324.4 136.9 325.3 136.6 326.2 136.3 327.1 136.1 328.0 136.1 328.9 136.2 329.8 136.3 330.7 136.2 331.6 136.1 332.5 135.9 333.4 135.7 334.3 135.5 335.2 135.4 336.1 135.6 337.0 135.8 337.9 136.0 338.8 136.1 339.7 136.1 340.6 135.9 341.5 135.8 342.4 135.9 343.3 135.9 344.2 136.2 345.1 136.3 346.0 136.3 346.9 136.2 347.8 135.9 348.7 135.5 349.6 135.2 350.5 135.1 351.4 135.2 352.3 135.4 353.2 135.6 354.1 135.7 355.0 135.7 355.9 135.6 356.8 135.5 357.7 135.3 358.6 135.1 359.5 134.7 360.4 134.4 361.3 134.3 362.2 134.4 363.1 134.5 364.0 134.8 364.9 134.9 365.8 135.0 366.7 134.9 367.6 134.7 368.5 134.5 369.4 134.4 370.3 134.4 371.2 134.6 372.1 134.9 373.0 135.3 373.9 135.6 374.8 135.7 375.7 135.7 376.6 135.4 377.5 135.1 378.4 134.9 379.3 134.8 380.2 134.7 381.1 134.8 382.0 134.8 382.9 135.0 383.8 135.0 384.7 135.0 385.6 134.6 386.5 134.2 387.4 133.6 388.3 133.2 389.2 132.9 390.1 132.9 L390.7 150.4 389.8 150.6 388.9 150.5 388.0 150.3 387.1 150.2 386.2 150.2 385.3 150.4 384.4 150.7 383.5 150.7 382.6 150.6 381.7 150.3 380.8 150.1 379.9 150.1 379.0 150.3 378.1 150.7 377.2 150.9 376.3 151.1 375.4 151.2 374.5 151.3 373.6 151.4 372.7 151.6 371.8 151.7 370.9 151.8 370.0 151.9 369.1 151.9 368.2 151.9 367.3 152.1 366.4 152.5 365.5 152.9 364.6 153.3 363.7 153.4 362.8 153.2 361.9 152.8 361.0 152.5 360.1 152.4 359.2 152.5 358.3 152.6 357.4 152.6 356.5 152.5 355.6 152.4 354.7 152.2 353.8 152.2 352.9 152.4 352.0 152.6 351.1 152.8 350.2 152.9 349.3 152.9 348.4 152.5 347.5 152.2 346.6 151.9 345.7 151.7 344.8 151.6 343.9 151.7 343.0 151.9 342.1 152.3 341.2 152.9 340.3 153.4 339.4 153.8 338.5 153.8 337.6 153.5 336.7 153.2 335.8 153.0 334.9 153.2 334.0 153.6 333.1 154.0 332.2 154.2 331.3 154.3 330.4 154.2 329.5 154.0 328.6 153.9 327.7 153.9 326.8 154.1 325.9 154.3 325.0 154.4 324.1 154.2 323.2 153.9 322.3 153.6 321.4 153.5 320.5 153.8 319.6 154.2 318.7 154.7 317.8 154.8 316.9 154.6 316.0 154.4 315.1 154.1 314.2 154.1 313.3 154.1 312.4 154.2 311.5 154.1 310.6 153.9 309.7 153.7 308.8 153.6 307.9 153.7 307.0 153.7 306.1 153.7 305.2 153.5 304.3 153.3 303.4 153.2 302.5 153.2 301.6 153.3 300.7 153.4Z" fill="#0000ff"/><path d="M300.1 122.2V167.5M300.4 122.2V167.5M300.7 135.4V156.8M301.0 133.0V155.9M301.3 136.2V155.3M301.6 131.2V155.9M301.9 130.0V154.1M302.2 133.3V156.0M302.5 136.7V154.0M302.8 136.7V154.3M303.1 136.5V160.4M303.4 133.5V162.5M303.7 133.3V162.0M304.0 136.2V159.0M304.3 132.6V157.9M304.6 136.2V155.0M304.9 127.7V154.0M305.2 136.1V154.5M305.5 129.4V166.6M305.8 128.6V154.7M306.1 128.4V155.8M306.4 136.1V161.7M306.7 129.5V154.3M307.0 134.0V159.0M307.3 128.3V158.3M307.6 135.7V156.5M307.9 136.1V158.3M308.2 137.1V162.3M308.5 133.4V158.8M308.8 137.5V154.3M309.1 137.4V158.3M309.4 134.8V154.3M309.7 137.6V159.1M310.0 131.3V154.4M310.3 137.1V164.2M310.6 132.1V156.1M310.9 130.0V154.7M311.2 136.9V161.0M311.5 135.9V166.7M311.8 134.7V164.8M312.1 137.0V160.1M312.4 131.0V155.2M312.7 136.9V165.0M313.0 136.7V156.0M313.3 137.3V164.4M313.6 132.8V160.2M313.9 137.4V161.3M314.2 134.1V154.7M314.5 136.2V160.6M314.8 130.2V158.2M315.1 133.6V158.3M315.4 131.3V157.2M315.7 129.3V157.2M316.0 135.9V157.7M316.3 135.7V155.1M316.6 129.9V160.3M316.9 132.2V156.1M317.2 131.2V162.3M317.5 132.6V158.3M317.8 133.5V162.4M318.1 129.4V155.3M318.4 132.1V157.7M318.7 128.9V160.5M319.0 130.8V155.5M319.3 131.8V155.7M319.6 129.9V156.4M319.9 135.8V164.1M320.2 133.3V155.2M320.5 135.1V156.3M320.8 132.2V154.9M321.1 131.2V155.5M321.4 131.9V156.3M321.7 136.0V159.1M322.0 134.4V154.5M322.3 136.5V154.2M322.6 133.6V154.3M322.9 130.9V154.5M323.2 136.6V157.5M323.5 130.3V156.3M323.8 136.4V156.9M324.1 136.4V154.9M324.4 135.6V156.3M324.7 136.2V156.2M325.0 136.1V159.6M325.3 136.0V156.3M325.6 134.3V155.3M325.9 135.6V155.0M326.2 135.3V162.9M326.5 129.8V157.9M326.8 135.6V154.7M327.1 134.8V157.3M327.4 130.7V163.4M327.7 129.7V156.0M328.0 133.4V160.4M328.3 134.8V156.8M328.6 134.5V155.6M328.9 134.6V154.9M329.2 133.1V164.4M329.5 132.5V159.9M329.8 132.9V155.3M330.1 135.1V159.0M330.4 135.2V158.4M330.7 132.5V162.7M331.0 133.7V154.8M331.3 134.5V162.0M331.6 134.3V163.3M331.9 130.6V157.2M332.2 134.7V160.5M332.5 135.0V157.1M332.8 133.0V157.2M333.1 135.0V157.0M333.4 133.0V156.4M333.7 129.3V154.3M334.0 132.0V160.8M334.3 131.8V154.1M334.6 130.1V157.0M334.9 134.3V154.9M335.2 129.9V154.6M335.5 131.6V154.1M335.8 131.8V156.5M336.1 134.9V159.6M336.4 134.0V158.4M336.7 132.3V160.2M337.0 134.2V153.9M337.3 130.0V154.3M337.6 134.8V162.4M337.9 130.9V154.5M338.2 133.8V154.5M338.5 134.7V156.6M338.8 131.4V157.4M339.1 131.9V158.4M339.4 132.3V155.1M339.7 134.2V156.5M340.0 133.5V156.8M340.3 135.3V155.2M340.6 130.0V159.6M340.9 135.0V159.5M341.2 132.0V155.8M341.5 129.8V156.7M341.8 134.4V156.3M342.1 134.1V163.6M342.4 134.2V153.4M342.7 132.8V155.4M343.0 132.9V152.8M343.3 134.9V153.1M343.6 130.8V156.3M343.9 134.9V152.8M344.2 135.2V160.1M344.5 135.4V159.1M344.8 132.7V152.8M345.1 133.6V152.3M345.4 133.7V152.8M345.7 130.3V157.2M346.0 135.5V160.6M346.3 135.6V152.9M346.6 134.9V153.2M346.9 133.8V158.5M347.2 133.4V153.7M347.5 131.1V159.2M347.8 133.2V157.2M348.1 135.2V159.0M348.4 130.6V158.9M348.7 134.7V153.9M349.0 134.8V157.4M349.3 132.1V155.5M349.6 128.4V161.4M349.9 130.2V153.9M350.2 132.5V153.5M350.5 130.8V153.6M350.8 130.0V158.1M351.1 129.1V156.8M351.4 132.1V159.6M351.7 130.6V154.4M352.0 128.6V154.1M352.3 132.9V155.8M352.6 134.7V154.9M352.9 128.7V153.2M353.2 130.2V154.3M353.5 132.5V154.1M353.8 129.9V153.4M354.1 135.0V155.2M354.4 128.7V155.4M354.7 133.4V153.6M355.0 131.7V156.1M355.3 135.1V154.9M355.6 134.4V153.0M355.9 133.6V156.1M356.2 134.0V153.1M356.5 130.5V155.5M356.8 130.4V154.1M357.1 132.8V155.0M357.4 130.8V156.8M357.7 130.0V153.3M358.0 129.1V154.6M358.3 128.8V153.2M358.6 134.2V154.8M358.9 131.0V158.8M359.2 133.7V153.2M359.5 133.9V153.6M359.8 128.2V155.7M360.1 132.5V153.0M360.4 130.5V158.2M360.7 130.8V157.6M361.0 133.6V153.1M361.3 132.4V153.7M361.6 133.2V158.5M361.9 133.4V154.7M362.2 133.7V154.1M362.5 130.2V154.0M362.8 132.6V157.4M363.1 133.4V155.2M363.4 134.0V156.7M363.7 130.5V156.4M364.0 134.2V155.5M364.3 133.6V158.7M364.6 132.7V158.6M364.9 132.8V154.2M365.2 132.6V156.9M365.5 129.5V153.7M365.8 133.8V153.4M366.1 129.2V153.5M366.4 131.6V154.6M366.7 134.1V153.3M367.0 128.9V153.6M367.3 132.5V152.9M367.6 133.5V153.0M367.9 128.3V154.3M368.2 133.5V158.0M368.5 133.6V155.1M368.8 132.6V158.0M369.1 133.7V152.5M369.4 132.5V157.1M369.7 133.6V153.3M370.0 132.6V152.7M370.3 132.1V154.6M370.6 133.5V156.1M370.9 133.8V152.4M371.2 131.9V153.5M371.5 133.6V156.1M371.8 134.2V152.3M372.1 133.5V152.3M372.4 134.5V157.4M372.7 131.1V153.3M373.0 130.6V152.1M373.3 133.2V152.1M373.6 132.2V155.3M373.9 131.4V155.8M374.2 134.2V152.0M374.5 131.8V152.1M374.8 132.4V156.8M375.1 133.4V152.9M375.4 133.8V153.6M375.7 132.7V154.3M376.0 134.2V151.8M376.3 134.9V152.3M376.6 133.6V152.7M376.9 133.0V155.2M377.2 134.6V152.7M377.5 132.2V155.7M377.8 134.4V152.7M378.1 134.3V154.7M378.4 133.3V152.3M378.7 133.3V151.1M379.0 129.2V151.1M379.3 130.4V152.2M379.6 133.6V154.2M379.9 129.5V151.0M380.2 133.9V154.9M380.5 133.7V154.5M380.8 134.2V150.8M381.1 132.0V154.5M381.4 129.0V150.8M381.7 131.7V151.7M382.0 130.1V156.5M382.3 130.0V151.6M382.6 132.8V154.0M382.9 133.8V152.5M383.2 133.1V154.1M383.5 132.8V151.6M383.8 134.2V155.2M384.1 129.4V152.3M384.4 129.4V152.4M384.7 130.8V151.8M385.0 129.6V154.5M385.3 128.9V151.6M385.6 134.0V152.0M385.9 133.5V151.0M386.2 132.8V150.8M386.5 133.1V152.2M386.8 131.8V150.8M387.1 133.2V151.0M387.4 131.1V154.9M387.7 129.7V153.8M388.0 132.7V151.8M388.3 128.1V150.9M388.6 132.4V152.4M388.9 132.1V153.6M389.2 131.9V151.9M389.5 131.1V152.2M389.8 126.9V151.2M390.1 129.3V152.1M390.4 130.7V151.4M390.7 132.5V151.3" stroke="#0000ff" stroke-width="0.42" fill="none"/>
<text transform="translate(24.60,113.85) scale(0.88,1)" font-size="6.6" fill="#222" color="#222" text-anchor="end" >0.5</text>
<text transform="translate(24.60,142.75) scale(0.88,1)" font-size="6.6" fill="#222" color="#222" text-anchor="end" >0</text>
<text transform="translate(24.60,171.65) scale(0.88,1)" font-size="6.6" fill="#222" color="#222" text-anchor="end" >-0.5</text>
<text transform="translate(42.89,175.85) scale(0.88,1)" font-size="6.6" fill="#222" color="#222" text-anchor="middle" >-70</text>
<text transform="translate(79.42,175.85) scale(0.88,1)" font-size="6.6" fill="#222" color="#222" text-anchor="middle" >-60</text>
<text transform="translate(115.95,175.85) scale(0.88,1)" font-size="6.6" fill="#222" color="#222" text-anchor="middle" >-50</text>
<text transform="translate(152.48,175.85) scale(0.88,1)" font-size="6.6" fill="#222" color="#222" text-anchor="middle" >-40</text>
<text transform="translate(189.01,175.85) scale(0.88,1)" font-size="6.6" fill="#222" color="#222" text-anchor="middle" >-30</text>
<text transform="translate(225.54,175.85) scale(0.88,1)" font-size="6.6" fill="#222" color="#222" text-anchor="middle" >-20</text>
<text transform="translate(262.07,175.85) scale(0.88,1)" font-size="6.6" fill="#222" color="#222" text-anchor="middle" >-10</text>
<text transform="translate(299.50,175.85) scale(0.88,1)" font-size="6.6" fill="#222" color="#222" text-anchor="middle" >0</text>
<text transform="translate(336.03,175.85) scale(0.88,1)" font-size="6.6" fill="#222" color="#222" text-anchor="middle" >10</text>
<text transform="translate(372.56,175.85) scale(0.88,1)" font-size="6.6" fill="#222" color="#222" text-anchor="middle" >20</text>
<text x="207.5" y="182.3" font-size="6.2" fill="#222" color="#222" text-anchor="middle" textLength="43" lengthAdjust="spacingAndGlyphs" >relative time (s)</text>
<text transform="translate(8.6,141) rotate(-90)" font-size="6.2" fill="#222" color="#222" text-anchor="middle">a<tspan dy="1.6" font-size="4.4">x</tspan><tspan dy="-1.6"> (-)</tspan></text>
<rect x="36.3" y="102.0" width="14.6" height="15.3" fill="#fff" stroke="#9a9a9a" stroke-width="0.8"/>
<text transform="translate(43.60,114.75) scale(0.92,1)" font-size="15.2" fill="#111" color="#111" text-anchor="middle" stroke="#111" stroke-width="0.3">B</text>
<line x1="26.0" y1="376.6" x2="391.0" y2="376.6" stroke="#c8c8c8" stroke-width="0.9"/>
<line x1="26.0" y1="362.3" x2="391.0" y2="362.3" stroke="#c8c8c8" stroke-width="0.9"/>
<line x1="26.0" y1="348.0" x2="391.0" y2="348.0" stroke="#c8c8c8" stroke-width="0.9"/>
<line x1="43.8" y1="333.6" x2="43.8" y2="390.8" stroke="#c8c8c8" stroke-width="0.9"/>
<line x1="80.3" y1="333.6" x2="80.3" y2="390.8" stroke="#c8c8c8" stroke-width="0.9"/>
<line x1="116.8" y1="333.6" x2="116.8" y2="390.8" stroke="#c8c8c8" stroke-width="0.9"/>
<line x1="153.4" y1="333.6" x2="153.4" y2="390.8" stroke="#c8c8c8" stroke-width="0.9"/>
<line x1="189.9" y1="333.6" x2="189.9" y2="390.8" stroke="#c8c8c8" stroke-width="0.9"/>
<line x1="226.4" y1="333.6" x2="226.4" y2="390.8" stroke="#c8c8c8" stroke-width="0.9"/>
<line x1="263.0" y1="333.6" x2="263.0" y2="390.8" stroke="#c8c8c8" stroke-width="0.9"/>
<line x1="299.5" y1="333.6" x2="299.5" y2="390.8" stroke="#c8c8c8" stroke-width="0.9"/>
<line x1="336.0" y1="333.6" x2="336.0" y2="390.8" stroke="#c8c8c8" stroke-width="0.9"/>
<line x1="372.6" y1="333.6" x2="372.6" y2="390.8" stroke="#c8c8c8" stroke-width="0.9"/>
<path d="M391.0 333.6H26.0V390.8H391.0" fill="none" stroke="#b4b4b4" stroke-width="1"/>
<path d="M26.2 348.6 27.1 349.2 28.0 349.5 28.9 349.9 29.8 350.6 30.7 350.9 31.6 350.6 32.5 350.0 33.4 350.1 34.3 351.1 35.2 351.7 36.1 351.1 37.0 351.2 37.9 352.1 38.8 353.8 39.7 354.4 40.6 353.0 41.5 351.6 42.4 350.7 43.3 349.5 44.2 348.3 45.1 349.1 46.0 352.0 46.9 354.7 47.8 354.8 48.7 353.4 49.6 352.4 50.5 352.1 51.4 352.1 52.3 351.8 53.2 351.5 54.1 351.2 55.0 350.8 55.9 350.4 56.8 350.4 57.7 351.6 58.6 352.9 59.5 352.5 60.4 350.4 61.3 348.4 62.2 347.4 63.1 347.6 64.0 347.8 64.9 348.2 65.8 349.4 66.7 350.2 67.6 350.8 68.5 351.0 69.4 351.4 70.3 350.9 71.2 350.7 72.1 350.5 73.0 350.9 73.9 351.2 74.8 351.6 75.7 351.7 76.6 351.0 77.5 350.9 78.4 351.6 79.3 351.9 80.2 352.1 81.1 352.6 82.0 353.6 82.9 354.2 83.8 354.3 84.7 352.9 85.6 350.6 86.5 348.8 87.4 350.6 88.3 354.7 89.2 358.3 90.1 358.8 91.0 356.9 91.9 355.6 92.8 356.1 93.7 357.3 94.6 357.8 95.5 357.5 96.4 356.6 97.3 354.9 98.2 352.7 99.1 351.1 100.0 350.5 100.9 350.1 101.8 349.9 102.7 350.1 103.6 350.6 104.5 351.2 105.4 352.0 106.3 352.7 107.2 354.2 108.1 355.0 109.0 354.3 109.9 352.5 110.8 351.4 111.7 352.6 112.6 354.0 113.5 354.5 114.4 353.7 115.3 353.1 116.2 353.6 117.1 354.2 118.0 353.7 118.9 352.9 119.8 353.2 120.7 354.8 121.6 355.8 122.5 354.6 123.4 353.2 124.3 352.2 125.2 350.9 126.1 349.8 127.0 349.1 127.9 348.8 128.8 349.7 129.7 350.8 130.6 352.2 131.5 352.7 132.4 353.2 133.3 353.8 134.2 353.9 135.1 353.3 136.0 351.9 136.9 350.6 137.8 349.7 138.7 350.7 139.6 353.4 140.5 355.7 141.4 356.5 142.3 356.6 143.2 356.8 144.1 357.4 145.0 357.3 145.9 357.2 146.8 356.8 147.7 356.8 148.6 357.4 149.5 358.4 150.4 358.1 151.3 357.4 152.2 357.3 153.1 357.0 154.0 357.0 154.9 356.8 155.8 356.7 156.7 357.6 157.6 359.5 158.5 361.4 159.4 362.1 160.3 361.0 161.2 359.9 162.1 359.9 163.0 359.2 163.9 357.1 164.8 354.6 165.7 353.4 166.6 354.5 167.5 356.1 168.4 355.6 169.3 352.8 170.2 349.7 171.1 349.4 172.0 349.7 172.9 349.6 173.8 348.5 174.7 348.4 175.6 349.7 176.5 351.5 177.4 353.5 178.3 354.0 179.2 353.4 180.1 352.1 181.0 350.7 181.9 349.8 182.8 349.0 183.7 348.8 184.6 350.2 185.5 352.9 186.4 355.0 187.3 355.9 188.2 355.5 189.1 355.3 190.0 354.8 190.9 353.9 191.8 353.2 192.7 354.3 193.6 355.3 194.5 355.7 195.4 354.8 196.3 354.0 197.2 353.3 198.1 352.2 199.0 351.3 199.9 351.7 200.8 352.6 201.7 353.0 202.6 353.1 203.5 353.1 204.4 352.1 205.3 350.0 206.2 348.3 207.1 348.4 208.0 349.6 208.9 350.1 209.8 349.5 210.7 349.8 211.6 350.8 212.5 351.7 213.4 352.2 214.3 353.1 215.2 353.7 216.1 353.8 217.0 353.3 217.9 353.9 218.8 354.1 219.7 353.1 220.6 350.8 221.5 348.5 222.4 347.4 223.3 348.4 224.2 350.3 225.1 351.8 226.0 350.7 226.9 349.4 227.8 348.7 228.7 348.5 229.6 347.3 230.5 346.6 231.4 347.4 232.3 349.5 233.2 351.3 234.1 351.8 235.0 351.4 235.9 351.1 236.8 351.6 237.7 352.7 238.6 353.1 239.5 352.8 240.4 352.5 241.3 351.3 242.2 349.2 243.1 346.3 244.0 344.5 244.9 344.6 245.8 345.5 246.7 346.5 247.6 347.6 248.5 349.3 249.4 350.7 250.3 351.5 251.2 351.4 252.1 351.2 253.0 350.2 253.9 348.9 254.8 348.4 255.7 349.6 256.6 351.0 257.5 351.4 258.4 351.4 259.3 351.8 260.2 352.7 261.1 353.6 262.0 352.6 262.9 351.1 263.8 349.2 264.7 348.3 265.6 348.1 266.5 348.6 267.4 349.4 268.3 350.2 269.2 349.6 270.1 348.7 271.0 347.5 271.9 346.5 272.8 347.0 273.7 348.9 274.6 352.1 275.5 353.0 276.4 351.3 277.3 348.7 278.2 348.1 279.1 349.5 280.0 351.5 280.9 352.6 281.8 353.8 282.7 354.9 283.6 355.4 284.5 355.1 285.4 355.3 286.3 357.0 287.2 358.6 288.1 358.5 289.0 356.3 289.9 354.9 290.8 354.7 291.7 355.1 292.6 355.9 293.5 356.9 294.4 357.7 295.3 357.6 296.2 356.3 297.1 354.8 298.0 353.5 298.9 353.0 299.8 351.3 L299.8 363.8 298.9 361.0 298.0 360.0 297.1 359.8 296.2 361.1 295.3 363.4 294.4 365.6 293.5 366.8 292.6 366.5 291.7 365.0 290.8 362.5 289.9 361.2 289.0 361.4 288.1 363.0 287.2 364.5 286.3 365.2 285.4 365.3 284.5 365.4 283.6 366.1 282.7 365.5 281.8 364.3 280.9 363.3 280.0 363.4 279.1 367.1 278.2 371.1 277.3 373.7 276.4 373.4 275.5 372.3 274.6 371.6 273.7 370.7 272.8 368.9 271.9 367.2 271.0 367.3 270.1 370.4 269.2 374.1 268.3 375.8 267.4 374.5 266.5 372.3 265.6 370.9 264.7 370.8 263.8 371.1 262.9 371.1 262.0 371.0 261.1 371.0 260.2 370.9 259.3 369.8 258.4 367.8 257.5 366.6 256.6 368.3 255.7 370.4 254.8 371.4 253.9 371.4 253.0 372.1 252.1 373.4 251.2 373.6 250.3 372.0 249.4 372.0 248.5 374.1 247.6 375.9 246.7 374.4 245.8 371.0 244.9 369.9 244.0 371.9 243.1 374.2 242.2 374.5 241.3 373.2 240.4 371.4 239.5 370.5 238.6 370.8 237.7 371.9 236.8 373.5 235.9 375.0 235.0 375.8 234.1 375.1 233.2 374.0 232.3 373.6 231.4 375.1 230.5 376.0 229.6 375.3 228.7 373.7 227.8 371.7 226.9 370.9 226.0 371.4 225.1 372.3 224.2 372.8 223.3 372.9 222.4 371.3 221.5 369.5 220.6 368.1 219.7 368.4 218.8 370.3 217.9 371.8 217.0 372.6 216.1 373.5 215.2 375.0 214.3 374.8 213.4 373.5 212.5 373.3 211.6 374.3 210.7 374.7 209.8 374.2 208.9 374.0 208.0 374.8 207.1 375.8 206.2 375.5 205.3 375.1 204.4 375.2 203.5 376.9 202.6 377.6 201.7 376.3 200.8 373.6 199.9 371.5 199.0 370.4 198.1 370.4 197.2 370.1 196.3 371.2 195.4 373.6 194.5 375.9 193.6 376.4 192.7 374.9 191.8 373.0 190.9 372.1 190.0 371.5 189.1 371.7 188.2 372.7 187.3 374.1 186.4 374.6 185.5 374.4 184.6 374.4 183.7 375.0 182.8 375.9 181.9 377.0 181.0 377.2 180.1 376.2 179.2 374.9 178.3 374.8 177.4 376.4 176.5 377.9 175.6 377.8 174.7 375.6 173.8 372.6 172.9 371.6 172.0 373.1 171.1 375.5 170.2 377.0 169.3 376.3 168.4 373.5 167.5 370.6 166.6 369.5 165.7 369.3 164.8 368.3 163.9 366.5 163.0 365.8 162.1 366.7 161.2 369.1 160.3 370.4 159.4 370.6 158.5 369.6 157.6 368.5 156.7 368.8 155.8 370.1 154.9 371.2 154.0 371.1 153.1 370.4 152.2 369.6 151.3 368.6 150.4 367.1 149.5 365.3 148.6 363.7 147.7 363.5 146.8 363.9 145.9 365.0 145.0 365.7 144.1 366.1 143.2 367.0 142.3 367.9 141.4 368.1 140.5 367.6 139.6 366.9 138.7 366.5 137.8 366.6 136.9 367.4 136.0 369.6 135.1 371.9 134.2 373.1 133.3 372.3 132.4 371.1 131.5 368.8 130.6 367.5 129.7 366.0 128.8 365.4 127.9 365.3 127.0 365.2 126.1 365.0 125.2 365.3 124.3 364.9 123.4 364.0 122.5 364.8 121.6 367.5 120.7 370.8 119.8 372.1 118.9 370.9 118.0 369.3 117.1 369.2 116.2 370.2 115.3 370.1 114.4 368.6 113.5 367.1 112.6 366.4 111.7 366.1 110.8 365.7 109.9 366.2 109.0 367.8 108.1 369.7 107.2 371.1 106.3 372.2 105.4 372.6 104.5 371.9 103.6 370.4 102.7 368.1 101.8 365.7 100.9 364.3 100.0 364.4 99.1 365.7 98.2 368.2 97.3 369.5 96.4 369.3 95.5 367.6 94.6 365.0 93.7 363.1 92.8 362.4 91.9 362.8 91.0 363.6 90.1 364.8 89.2 366.7 88.3 368.4 87.4 369.4 86.5 370.2 85.6 370.7 84.7 370.4 83.8 369.3 82.9 368.7 82.0 369.4 81.1 370.1 80.2 369.1 79.3 367.7 78.4 366.5 77.5 366.6 76.6 367.7 75.7 369.3 74.8 370.9 73.9 371.9 73.0 371.5 72.1 370.5 71.2 370.0 70.3 369.6 69.4 369.6 68.5 369.8 67.6 370.6 66.7 371.7 65.8 372.2 64.9 372.6 64.0 373.1 63.1 373.1 62.2 372.1 61.3 371.3 60.4 370.7 59.5 371.4 58.6 372.0 57.7 372.5 56.8 372.1 55.9 371.8 55.0 371.3 54.1 370.2 53.2 368.6 52.3 368.0 51.4 369.3 50.5 371.7 49.6 373.2 48.7 372.7 47.8 370.9 46.9 369.6 46.0 370.4 45.1 371.8 44.2 371.8 43.3 371.0 42.4 370.7 41.5 371.0 40.6 370.7 39.7 369.6 38.8 369.8 37.9 371.5 37.0 373.7 36.1 375.1 35.2 374.7 34.3 374.6 33.4 374.9 32.5 375.0 31.6 375.0 30.7 374.9 29.8 374.8 28.9 374.3 28.0 373.0 27.1 372.0 26.2 372.8Z" fill="#0000ff"/><path d="M26.2 347.3V373.5M26.5 347.3V373.5M26.8 346.6V372.9M27.1 345.9V374.7M27.4 348.7V376.0M27.7 346.1V377.5M28.0 347.7V375.6M28.3 347.8V376.9M28.6 348.9V378.4M28.9 348.0V376.9M29.2 347.2V376.9M29.5 347.1V375.4M29.8 344.3V375.8M30.1 348.9V375.6M30.4 350.2V378.5M30.7 347.4V375.9M31.0 350.2V377.9M31.3 349.6V375.5M31.6 347.9V379.7M31.9 347.3V378.9M32.2 348.6V375.7M32.5 349.1V378.9M32.8 347.6V377.9M33.1 348.9V378.1M33.4 349.4V377.2M33.7 347.5V379.7M34.0 349.2V375.3M34.3 350.2V375.2M34.6 350.7V375.2M34.9 349.7V378.5M35.2 350.6V378.9M35.5 347.7V377.0M35.8 349.2V376.5M36.1 347.8V376.2M36.4 349.5V379.0M36.7 344.5V377.1M37.0 347.9V375.8M37.3 349.2V374.2M37.6 347.3V373.2M37.9 351.3V373.7M38.2 350.4V372.0M38.5 350.7V372.1M38.8 353.2V371.8M39.1 350.1V372.3M39.4 351.4V371.2M39.7 352.9V371.9M40.0 352.9V371.8M40.3 351.1V371.7M40.6 352.1V372.7M40.9 349.4V372.5M41.2 351.6V373.4M41.5 349.3V374.4M41.8 350.0V371.4M42.1 347.9V371.8M42.4 349.3V371.4M42.7 347.6V371.7M43.0 348.8V372.3M43.3 348.9V372.1M43.6 347.9V374.3M43.9 346.9V372.3M44.2 344.3V373.3M44.5 345.5V372.8M44.8 347.9V374.7M45.1 346.2V372.6M45.4 345.6V374.1M45.7 346.8V376.5M46.0 350.0V373.3M46.3 352.2V373.7M46.6 353.3V370.9M46.9 351.3V372.4M47.2 352.4V370.3M47.5 354.2V371.5M47.8 351.9V372.1M48.1 353.3V374.3M48.4 350.1V373.5M48.7 351.1V373.7M49.0 351.8V374.3M49.3 351.7V374.3M49.6 351.8V373.9M49.9 348.4V373.8M50.2 349.2V375.3M50.5 348.7V374.7M50.8 351.0V371.8M51.1 351.3V372.0M51.4 350.6V372.1M51.7 350.2V371.3M52.0 349.6V369.7M52.3 349.9V370.0M52.6 351.1V368.8M52.9 351.0V370.6M53.2 343.0V371.0M53.5 343.0V372.7M53.8 343.0V372.8M54.1 347.4V372.0M54.4 350.4V372.2M54.7 349.9V373.6M55.0 347.0V373.5M55.3 348.7V372.4M55.6 347.9V373.2M55.9 349.8V372.4M56.2 347.3V373.4M56.5 346.5V372.9M56.8 348.7V376.3M57.1 348.4V373.9M57.4 350.6V373.9M57.7 349.9V376.0M58.0 349.2V373.0M58.3 351.4V372.9M58.6 351.8V372.6M58.9 350.5V372.7M59.2 348.7V372.8M59.5 351.3V373.0M59.8 347.4V373.1M60.1 350.3V371.8M60.4 347.6V371.8M60.7 348.0V371.6M61.0 347.9V372.7M61.3 347.7V373.6M61.6 345.9V372.3M61.9 344.4V373.8M62.2 345.1V372.8M62.5 346.8V373.7M62.8 345.3V374.0M63.1 346.4V374.4M63.4 347.0V373.7M63.7 346.8V375.3M64.0 345.0V373.7M64.3 346.3V373.7M64.6 345.9V373.5M64.9 344.8V373.9M65.2 344.8V375.1M65.5 345.7V375.5M65.8 345.2V376.2M66.1 346.2V375.5M66.4 347.3V374.6M66.7 346.0V373.8M67.0 349.0V372.9M67.3 348.3V373.7M67.6 349.5V371.4M67.9 350.1V371.5M68.2 348.4V370.9M68.5 348.9V370.8M68.8 350.2V372.7M69.1 350.3V372.1M69.4 350.8V370.3M69.7 347.1V372.9M70.0 347.7V370.2M70.3 350.0V370.2M70.6 349.0V372.2M70.9 347.0V370.8M71.2 349.2V371.9M71.5 347.6V371.1M71.8 349.7V372.0M72.1 347.0V373.7M72.4 348.6V372.0M72.7 347.3V372.1M73.0 349.3V373.4M73.3 350.2V375.0M73.6 350.1V373.7M73.9 350.6V373.6M74.2 350.2V373.8M74.5 349.1V374.7M74.8 349.3V372.0M75.1 348.4V371.8M75.4 348.8V370.8M75.7 349.0V372.7M76.0 349.9V370.4M76.3 349.5V369.5M76.6 348.7V368.4M76.9 347.9V369.3M77.2 347.0V368.7M77.5 350.2V368.3M77.8 348.7V368.7M78.1 347.5V367.0M78.4 350.1V367.2M78.7 349.8V367.3M79.0 349.0V370.8M79.3 349.5V369.8M79.6 351.3V370.6M79.9 349.5V372.3M80.2 350.0V370.1M80.5 349.3V372.0M80.8 350.2V372.0M81.1 351.2V370.9M81.4 350.3V373.0M81.7 349.8V370.5M82.0 349.9V370.0M82.3 352.9V370.5M82.6 350.2V369.4M82.9 351.8V371.9M83.2 351.9V369.8M83.5 352.3V372.5M83.8 353.2V370.1M84.1 349.6V372.9M84.4 351.5V370.9M84.7 350.6V373.1M85.0 351.2V371.7M85.3 347.5V374.0M85.6 350.0V372.2M85.9 346.1V371.4M86.2 347.0V371.6M86.5 342.8V372.8M86.8 345.0V370.9M87.1 346.9V371.9M87.4 349.0V371.1M87.7 348.7V370.0M88.0 349.7V369.5M88.3 351.6V370.9M88.6 350.6V368.8M88.9 353.7V369.2M89.2 355.3V369.2M89.5 358.3V368.8M89.8 355.7V367.6M90.1 356.8V367.7M90.4 357.6V364.9M90.7 354.0V365.4M91.0 353.9V364.3M91.3 353.5V366.1M91.6 355.0V365.3M91.9 354.8V365.0M92.2 352.6V363.4M92.5 354.8V363.4M92.8 353.8V363.3M93.1 355.4V364.5M93.4 356.1V365.3M93.7 356.5V365.2M94.0 355.7V364.6M94.3 354.0V367.0M94.6 357.1V365.6M94.9 356.0V366.6M95.2 357.1V370.1M95.5 355.0V368.5M95.8 354.3V371.2M96.1 353.8V370.8M96.4 354.7V371.7M96.7 354.3V372.9M97.0 353.2V371.7M97.3 351.1V370.2M97.6 351.3V370.8M97.9 350.8V371.1M98.2 351.3V370.2M98.5 351.6V369.4M98.8 347.3V367.1M99.1 347.5V366.5M99.4 349.9V368.4M99.7 347.0V366.2M100.0 349.8V365.4M100.3 349.2V364.7M100.6 347.2V364.8M100.9 346.1V365.2M101.2 348.2V365.6M101.5 347.8V368.2M101.8 345.9V366.3M102.1 349.0V369.5M102.4 349.0V367.7M102.7 348.5V368.9M103.0 347.9V373.4M103.3 346.6V370.3M103.6 347.3V371.2M103.9 349.4V373.6M104.2 350.5V372.8M104.5 350.6V374.0M104.8 350.1V373.8M105.1 349.4V375.6M105.4 348.8V375.6M105.7 351.4V375.1M106.0 350.8V373.6M106.3 350.6V374.8M106.6 350.9V372.8M106.9 350.9V372.6M107.2 351.1V372.0M107.5 353.1V371.6M107.8 351.6V370.9M108.1 354.3V370.4M108.4 351.7V372.5M108.7 353.1V369.0M109.0 351.9V368.6M109.3 350.7V370.8M109.6 350.1V370.0M109.9 348.6V368.8M110.2 350.6V369.3M110.5 350.5V368.0M110.8 349.9V368.8M111.1 349.4V368.5M111.4 351.2V367.0M111.7 349.2V368.8M112.0 350.7V368.0M112.3 352.8V366.8M112.6 351.0V369.3M112.9 351.7V369.0M113.2 352.6V368.5M113.5 353.8V368.6M113.8 352.3V369.9M114.1 353.1V370.1M114.4 353.0V369.7M114.7 351.0V370.0M115.0 350.4V370.4M115.3 352.3V371.5M115.6 351.7V371.4M115.9 352.3V372.1M116.2 350.9V370.9M116.5 352.7V370.6M116.8 352.4V370.2M117.1 352.9V370.6M117.4 353.3V370.3M117.7 351.0V372.5M118.0 353.0V371.4M118.3 352.3V373.0M118.6 351.5V371.3M118.9 352.1V371.8M119.2 349.1V373.0M119.5 350.3V373.6M119.8 349.9V373.2M120.1 351.2V374.8M120.4 353.4V375.1M120.7 352.0V374.2M121.0 354.2V373.0M121.3 353.6V370.2M121.6 353.1V369.6M121.9 354.6V369.0M122.2 354.3V367.6M122.5 350.7V366.6M122.8 351.2V365.0M123.1 350.8V367.2M123.4 352.2V365.1M123.7 350.4V367.3M124.0 351.5V365.3M124.3 350.2V366.6M124.6 351.0V366.3M124.9 350.6V366.3M125.2 347.4V368.9M125.5 348.2V366.3M125.8 346.9V365.9M126.1 347.1V365.9M126.4 347.6V366.4M126.7 346.1V367.4M127.0 347.8V365.8M127.3 347.5V366.9M127.6 345.9V366.8M127.9 347.2V365.9M128.2 348.5V368.7M128.5 348.7V367.4M128.8 348.0V367.6M129.1 346.6V367.6M129.4 349.2V367.1M129.7 350.2V367.6M130.0 350.7V367.4M130.3 350.7V369.3M130.6 350.3V368.4M130.9 345.0V371.0M131.2 345.0V372.1M131.5 350.0V369.6M131.8 351.8V372.5M132.1 349.6V374.0M132.4 351.8V374.7M132.7 350.9V375.2M133.0 352.9V375.5M133.3 351.1V376.0M133.6 353.4V374.6M133.9 352.6V374.0M134.2 351.2V375.7M134.5 352.9V375.7M134.8 352.1V374.3M135.1 352.6V374.7M135.4 351.7V373.7M135.7 350.4V371.3M136.0 348.4V371.4M136.3 349.0V369.9M136.6 347.7V373.4M136.9 349.4V370.6M137.2 348.7V367.5M137.5 349.2V369.5M137.8 349.1V367.9M138.1 348.6V367.2M138.4 347.8V367.3M138.7 349.9V367.2M139.0 350.7V370.5M139.3 351.8V367.9M139.6 351.5V369.9M139.9 350.8V367.8M140.2 353.5V367.9M140.5 352.3V368.3M140.8 352.4V368.3M141.1 353.6V370.2M141.4 354.7V370.9M141.7 355.5V368.9M142.0 353.3V371.0M142.3 353.6V371.0M142.6 353.9V369.4M142.9 353.0V370.2M143.2 355.3V370.3M143.5 355.9V369.4M143.8 356.1V369.0M144.1 353.6V367.4M144.4 356.2V366.7M144.7 354.0V367.8M145.0 355.9V368.8M145.3 354.5V366.1M145.6 352.5V367.6M145.9 354.2V367.7M146.2 355.1V365.7M146.5 355.3V365.5M146.8 355.8V365.5M147.1 355.7V364.6M147.4 355.0V364.8M147.7 355.8V364.2M148.0 355.1V365.2M148.3 355.4V367.0M148.6 355.3V367.0M148.9 356.0V367.0M149.2 357.5V367.1M149.5 356.0V366.2M149.8 354.6V368.6M150.1 356.6V368.9M150.4 355.9V370.6M150.7 355.7V369.7M151.0 355.4V371.2M151.3 356.7V372.1M151.6 354.1V372.0M151.9 356.7V372.5M152.2 354.2V371.8M152.5 355.1V372.2M152.8 353.4V374.7M153.1 354.3V371.8M153.4 356.5V371.6M153.7 356.2V371.8M154.0 355.6V373.9M154.3 355.1V371.7M154.6 354.2V373.2M154.9 354.0V374.5M155.2 353.6V373.7M155.5 355.1V372.0M155.8 354.1V370.8M156.1 354.0V372.1M156.4 353.1V369.8M156.7 354.7V371.5M157.0 357.4V370.4M157.3 356.9V369.1M157.6 356.9V369.4M157.9 357.7V369.4M158.2 359.3V370.8M158.5 359.9V370.7M158.8 361.2V370.5M159.1 360.5V373.7M159.4 361.4V372.3M159.7 360.8V373.2M160.0 356.6V373.3M160.3 359.3V374.0M160.6 357.0V370.9M160.9 358.5V371.4M161.2 357.2V371.0M161.5 356.3V370.0M161.8 357.5V367.9M162.1 358.8V367.3M162.4 359.1V368.7M162.7 358.2V366.8M163.0 356.5V366.7M163.3 357.0V368.6M163.6 355.0V367.4M163.9 356.4V370.3M164.2 353.9V370.4M164.5 353.6V368.8M164.8 350.9V371.9M165.1 350.1V370.8M165.4 349.2V371.6M165.7 349.7V370.1M166.0 351.6V373.2M166.3 350.7V370.5M166.6 352.1V371.7M166.9 353.4V371.7M167.2 353.0V370.8M167.5 355.3V374.0M167.8 353.1V373.0M168.1 354.2V373.9M168.4 347.0V378.5M168.7 347.0V378.5M169.0 353.1V376.5M169.3 349.1V377.0M169.6 349.8V378.3M169.9 349.0V378.8M170.2 349.0V378.1M170.5 348.5V377.6M170.8 346.1V377.7M171.1 348.8V376.3M171.4 346.4V376.4M171.7 348.0V374.6M172.0 348.9V373.8M172.3 346.3V373.3M172.6 349.0V374.1M172.9 346.5V374.1M173.2 347.0V374.7M173.5 345.7V374.0M173.8 344.5V373.6M174.1 345.2V376.0M174.4 343.2V377.0M174.7 343.2V377.0M175.0 344.5V379.4M175.3 346.4V380.8M175.6 346.8V378.4M175.9 349.4V379.2M176.2 348.5V381.2M176.5 347.3V379.4M176.8 348.8V380.4M177.1 352.2V380.2M177.4 352.8V377.0M177.7 351.9V376.6M178.0 353.3V376.0M178.3 351.8V375.7M178.6 352.1V377.0M178.9 353.0V375.6M179.2 349.8V377.2M179.5 351.3V376.2M179.8 351.6V379.0M180.1 351.0V377.3M180.4 350.5V378.7M180.7 349.1V378.5M181.0 347.3V377.8M181.3 346.6V379.4M181.6 348.3V380.6M181.9 346.9V379.1M182.2 347.5V378.9M182.5 348.0V377.1M182.8 347.4V376.7M183.1 346.3V376.3M183.4 348.0V376.6M183.7 347.9V376.2M184.0 345.1V377.9M184.3 345.4V375.1M184.6 349.4V378.0M184.9 349.3V375.2M185.2 348.2V375.9M185.5 350.9V377.5M185.8 352.1V375.9M186.1 353.6V377.5M186.4 354.2V375.3M186.7 351.9V378.4M187.0 352.2V376.4M187.3 354.9V377.5M187.6 354.0V375.2M187.9 351.1V375.3M188.2 354.0V373.4M188.5 349.3V375.4M188.8 353.1V372.6M189.1 354.1V375.6M189.4 354.2V372.2M189.7 353.6V373.3M190.0 353.9V375.2M190.3 352.8V373.6M190.6 353.5V374.7M190.9 350.4V373.2M191.2 352.6V373.9M191.5 352.8V374.8M191.8 351.9V374.7M192.1 351.2V378.4M192.4 351.8V376.2M192.7 352.6V375.9M193.0 353.4V377.7M193.3 353.8V376.8M193.6 351.8V377.5M193.9 351.8V379.1M194.2 355.0V380.5M194.5 351.7V377.5M194.8 354.7V376.4M195.1 352.5V376.9M195.4 351.2V374.7M195.7 353.5V373.3M196.0 351.0V375.1M196.3 350.8V375.4M196.6 352.1V374.7M196.9 352.6V372.2M197.2 352.4V373.9M197.5 347.7V371.0M197.8 350.9V373.6M198.1 349.0V371.9M198.4 349.3V373.0M198.7 349.5V371.1M199.0 347.7V373.6M199.3 347.2V373.9M199.6 350.5V373.7M199.9 349.8V372.9M200.2 348.8V372.7M200.5 348.3V374.0M200.8 351.9V375.8M201.1 349.7V375.8M201.4 352.2V377.0M201.7 350.6V377.2M202.0 351.4V380.9M202.3 349.2V378.0M202.6 351.6V378.5M202.9 350.5V378.8M203.2 350.4V379.0M203.5 350.7V378.0M203.8 351.1V377.1M204.1 351.7V378.0M204.4 350.2V378.0M204.7 350.4V375.9M205.0 347.8V376.3M205.3 348.8V377.4M205.6 345.3V376.2M205.9 347.9V376.3M206.2 345.3V377.4M206.5 347.1V377.4M206.8 345.2V377.6M207.1 346.4V377.4M207.4 347.4V376.2M207.7 347.7V376.8M208.0 348.9V380.3M208.3 348.8V376.2M208.6 348.6V376.5M208.9 346.5V374.8M209.2 349.2V375.8M209.5 348.9V377.3M209.8 348.2V378.2M210.1 348.5V375.8M210.4 346.2V377.9M210.7 348.0V376.2M211.0 347.9V375.3M211.3 346.9V376.6M211.6 350.1V376.5M211.9 347.1V375.1M212.2 350.3V377.6M212.5 349.0V376.4M212.8 351.2V375.2M213.1 351.4V374.2M213.4 350.7V374.6M213.7 349.9V377.4M214.0 351.1V376.4M214.3 349.4V377.2M214.6 352.7V376.9M214.9 349.8V375.8M215.2 352.5V376.2M215.5 349.9V376.2M215.8 352.8V377.2M216.1 350.9V376.8M216.4 349.7V376.4M216.7 351.0V376.6M217.0 351.5V374.6M217.3 349.5V376.1M217.6 349.9V374.5M217.9 350.1V372.6M218.2 350.5V373.4M218.5 351.8V372.5M218.8 352.3V372.6M219.1 353.4V371.9M219.4 350.5V369.7M219.7 352.5V371.5M220.0 349.8V370.2M220.3 349.6V368.8M220.6 346.8V369.1M220.9 348.3V372.0M221.2 346.6V369.7M221.5 346.2V373.7M221.8 347.2V373.4M222.1 346.8V373.6M222.4 346.8V374.0M222.7 345.4V375.2M223.0 346.3V376.3M223.3 347.7V376.4M223.6 347.8V375.4M223.9 346.0V373.4M224.2 346.6V374.5M224.5 347.8V376.2M224.8 349.9V376.2M225.1 351.0V373.6M225.4 350.9V374.7M225.7 349.5V372.0M226.0 347.2V373.1M226.3 349.7V372.1M226.6 348.7V374.7M226.9 348.8V373.4M227.2 347.5V372.1M227.5 345.4V373.9M227.8 345.1V373.2M228.1 345.1V374.2M228.4 344.5V373.4M228.7 347.8V377.1M229.0 347.6V375.1M229.3 344.2V376.8M229.6 346.0V376.5M229.9 343.7V376.4M230.2 346.0V379.1M230.5 345.0V378.0M230.8 345.6V377.4M231.1 346.3V376.0M231.4 346.5V376.3M231.7 346.5V375.7M232.0 346.6V377.3M232.3 348.5V374.3M232.6 347.8V375.4M232.9 350.1V375.1M233.2 350.6V376.2M233.5 347.5V375.0M233.8 349.0V375.3M234.1 349.6V378.4M234.4 348.9V376.1M234.7 348.7V376.7M235.0 348.9V376.5M235.3 350.3V379.7M235.6 349.5V376.4M235.9 347.1V377.1M236.2 348.7V375.5M236.5 349.5V376.3M236.8 349.0V375.6M237.1 351.0V374.0M237.4 348.5V373.2M237.7 351.7V373.8M238.0 348.5V375.8M238.3 352.2V371.9M238.6 352.4V371.4M238.9 349.3V371.4M239.2 351.8V374.0M239.5 351.3V371.7M239.8 352.0V373.3M240.1 351.9V375.0M240.4 350.7V375.3M240.7 350.9V373.5M241.0 351.2V373.4M241.3 350.1V376.5M241.6 349.1V375.1M241.9 348.6V375.4M242.2 345.4V378.6M242.5 346.6V378.0M242.8 345.6V377.8M243.1 343.7V375.9M243.4 343.3V375.0M243.7 343.9V373.5M244.0 341.9V375.0M244.3 343.7V371.9M244.6 340.6V372.9M244.9 342.6V370.5M245.2 343.7V370.7M245.5 343.7V371.1M245.8 342.7V373.0M246.1 342.0V372.6M246.4 344.1V375.1M246.7 344.7V375.4M247.0 345.9V376.5M247.3 346.0V379.3M247.6 346.4V376.7M247.9 345.9V377.1M248.2 345.0V379.8M248.5 347.7V374.7M248.8 346.2V373.9M249.1 349.2V373.6M249.4 350.1V376.3M249.7 349.9V374.3M250.0 350.1V375.6M250.3 348.4V375.3M250.6 350.1V374.4M250.9 350.3V374.6M251.2 347.5V377.0M251.5 350.7V375.0M251.8 350.3V374.9M252.1 348.2V375.3M252.4 347.1V376.8M252.7 347.2V376.6M253.0 348.7V373.9M253.3 346.0V372.6M253.6 344.4V373.7M253.9 347.2V373.6M254.2 346.8V371.9M254.5 347.4V372.1M254.8 345.6V372.9M255.1 346.0V374.3M255.4 348.4V373.0M255.7 348.7V373.4M256.0 347.7V371.2M256.3 349.0V369.7M256.6 349.7V370.2M256.9 350.0V369.9M257.2 350.3V368.8M257.5 350.6V367.6M257.8 348.5V367.9M258.1 345.0V368.3M258.4 349.7V368.9M258.7 348.2V370.9M259.0 351.1V369.8M259.3 350.0V371.0M259.6 351.1V371.4M259.9 351.6V371.7M260.2 350.5V374.4M260.5 350.2V372.3M260.8 352.7V372.3M261.1 352.6V373.3M261.4 349.6V372.8M261.7 349.3V372.9M262.0 351.8V373.6M262.3 351.1V371.6M262.6 347.8V372.4M262.9 346.9V372.0M263.2 347.3V372.3M263.5 346.3V373.5M263.8 348.5V373.5M264.1 346.5V373.3M264.4 345.5V373.7M264.7 346.8V373.5M265.0 341.7V374.4M265.3 346.5V371.6M265.6 345.4V374.1M265.9 344.7V373.1M266.2 345.1V372.9M266.5 344.8V374.6M266.8 345.9V374.4M267.1 345.8V374.6M267.4 346.9V375.2M267.7 345.6V376.1M268.0 345.7V379.1M268.3 347.4V376.6M268.6 348.7V377.7M268.9 346.8V377.3M269.2 346.0V376.1M269.5 347.6V375.6M269.8 347.1V372.4M270.1 346.0V371.1M270.4 344.2V370.0M270.7 345.4V371.0M271.0 345.4V369.5M271.3 345.5V368.5M271.6 346.0V368.5M271.9 345.0V369.9M272.2 345.7V369.5M272.5 345.6V368.8M272.8 345.5V370.7M273.1 343.6V373.4M273.4 345.5V373.9M273.7 346.5V373.6M274.0 347.5V375.0M274.3 350.3V372.1M274.6 350.2V372.7M274.9 349.6V373.1M275.2 351.8V372.9M275.5 350.5V373.3M275.8 350.5V373.2M276.1 351.2V375.8M276.4 350.3V376.6M276.7 347.3V376.9M277.0 348.7V377.5M277.3 347.4V374.9M277.6 345.2V373.9M277.9 347.2V376.2M278.2 345.4V375.1M278.5 345.3V370.4M278.8 346.5V370.3M279.1 348.8V369.9M279.4 347.6V369.2M279.7 347.3V368.1M280.0 348.9V365.9M280.3 350.0V364.9M280.6 348.6V367.0M280.9 350.8V364.4M281.2 350.2V367.0M281.5 351.8V377.6M281.8 352.0V377.6M282.1 353.4V366.7M282.4 352.9V369.3M282.7 354.2V369.2M283.0 350.3V367.8M283.3 354.1V369.3M283.6 353.4V369.2M283.9 352.8V366.9M284.2 354.1V366.9M284.5 351.8V369.0M284.8 354.2V368.5M285.1 353.3V369.2M285.4 353.8V365.9M285.7 353.6V365.8M286.0 355.4V369.0M286.3 353.6V368.6M286.6 354.4V365.8M286.9 355.4V365.9M287.2 356.0V368.2M287.5 356.8V366.3M287.8 357.0V366.9M288.1 355.3V364.3M288.4 355.4V363.2M288.7 355.3V364.1M289.0 352.9V363.5M289.3 354.9V363.0M289.6 354.7V365.2M289.9 353.0V362.3M290.2 352.8V363.2M290.5 352.6V363.9M290.8 354.0V363.6M291.1 352.6V364.0M291.4 352.9V366.2M291.7 351.9V366.4M292.0 353.0V367.1M292.3 353.3V368.5M292.6 353.6V368.6M292.9 352.9V371.3M293.2 353.8V368.5M293.5 354.2V368.0M293.8 356.4V367.3M294.1 354.4V367.2M294.4 356.1V366.3M294.7 356.0V366.1M295.0 357.1V366.4M295.3 355.7V364.0M295.6 355.2V363.7M295.9 353.9V364.1M296.2 354.0V362.5M296.5 354.3V362.2M296.8 353.2V361.0M297.1 352.1V360.5M297.4 351.5V362.8M297.7 353.2V361.2M298.0 352.8V363.0M298.3 351.4V361.0M298.6 349.9V361.3M298.9 351.4V362.6M299.2 351.7V362.0M299.5 351.4V362.8M299.8 350.3V366.6" stroke="#0000ff" stroke-width="0.42" fill="none"/>
<path d="M300.1 348.8 301.0 348.8 301.9 348.8 302.8 348.5 303.7 348.3 304.6 348.2 305.5 348.6 306.4 349.3 307.3 350.1 308.2 350.5 309.1 350.5 310.0 350.0 310.9 349.5 311.8 348.8 312.7 348.2 313.6 348.0 314.5 348.1 315.4 348.3 316.3 348.5 317.2 348.7 318.1 348.5 319.0 348.2 319.9 347.9 320.8 348.0 321.7 348.5 322.6 348.6 323.5 348.4 324.4 348.2 325.3 348.3 326.2 348.8 327.1 348.9 328.0 348.3 328.9 347.4 329.8 346.6 330.7 346.7 331.6 347.5 332.5 348.5 333.4 349.5 334.3 350.3 335.2 350.7 336.1 350.5 337.0 349.6 337.9 348.9 338.8 348.6 339.7 349.0 340.6 350.0 341.5 351.0 342.4 351.6 343.3 351.9 344.2 351.7 345.1 351.4 346.0 351.2 346.9 351.4 347.8 351.9 348.7 352.4 349.6 352.6 350.5 352.5 351.4 352.7 352.3 352.8 353.2 353.0 354.1 352.9 355.0 352.7 355.9 352.7 356.8 352.8 357.7 352.8 358.6 352.8 359.5 352.6 360.4 352.5 361.3 352.4 362.2 352.2 363.1 351.6 364.0 350.7 364.9 349.9 365.8 349.6 366.7 350.0 367.6 350.7 368.5 351.5 369.4 351.9 370.3 352.2 371.2 352.3 372.1 352.5 373.0 352.8 373.9 353.1 374.8 353.5 375.7 353.6 376.6 353.4 377.5 352.8 378.4 352.3 379.3 352.4 380.2 353.1 381.1 353.7 382.0 353.9 382.9 353.7 383.8 353.3 384.7 353.1 385.6 353.2 386.5 353.2 387.4 353.4 388.3 353.5 389.2 353.3 390.1 353.0 L390.7 367.7 389.8 368.0 388.9 368.1 388.0 367.9 387.1 367.6 386.2 367.1 385.3 366.6 384.4 366.5 383.5 366.5 382.6 366.9 381.7 367.3 380.8 367.7 379.9 368.1 379.0 368.5 378.1 368.6 377.2 368.7 376.3 368.4 375.4 368.3 374.5 368.4 373.6 368.7 372.7 368.8 371.8 368.7 370.9 368.4 370.0 368.2 369.1 368.5 368.2 369.2 367.3 369.9 366.4 370.2 365.5 370.2 364.6 369.6 363.7 368.8 362.8 367.7 361.9 366.7 361.0 366.5 360.1 366.8 359.2 367.7 358.3 368.6 357.4 368.9 356.5 368.7 355.6 368.3 354.7 368.1 353.8 368.0 352.9 367.9 352.0 367.6 351.1 367.4 350.2 367.5 349.3 368.0 348.4 368.0 347.5 367.8 346.6 367.1 345.7 366.7 344.8 366.7 343.9 367.2 343.0 368.0 342.1 368.7 341.2 369.3 340.3 369.7 339.4 369.6 338.5 369.4 337.6 369.4 336.7 369.7 335.8 370.3 334.9 370.7 334.0 370.6 333.1 370.1 332.2 369.5 331.3 369.0 330.4 369.2 329.5 369.8 328.6 370.5 327.7 371.3 326.8 371.7 325.9 371.8 325.0 371.2 324.1 370.0 323.2 368.8 322.3 368.2 321.4 368.3 320.5 369.2 319.6 369.8 318.7 369.6 317.8 369.0 316.9 368.2 316.0 367.4 315.1 367.1 314.2 367.3 313.3 367.9 312.4 369.1 311.5 369.9 310.6 370.1 309.7 369.9 308.8 369.6 307.9 369.5 307.0 370.0 306.1 370.2 305.2 370.3 304.3 370.2 303.4 370.1 302.5 370.0 301.6 370.2 300.7 370.2Z" fill="#0000ff"/><path d="M300.1 336.5V381.0M300.4 336.5V381.0M300.7 348.2V382.1M301.0 346.1V371.3M301.3 342.1V370.9M301.6 342.5V377.3M301.9 346.2V371.7M302.2 347.3V379.7M302.5 344.0V370.6M302.8 342.8V372.2M303.1 345.9V372.7M303.4 347.1V373.7M303.7 345.3V385.2M304.0 344.6V375.7M304.3 343.8V370.9M304.6 345.1V385.3M304.9 340.3V373.7M305.2 344.9V375.7M305.5 347.4V372.1M305.8 343.8V370.9M306.1 344.2V370.8M306.4 343.6V370.8M306.7 339.7V377.2M307.0 344.3V379.5M307.3 349.0V379.8M307.6 349.2V371.4M307.9 343.0V375.3M308.2 349.7V370.2M308.5 349.0V370.9M308.8 339.4V372.3M309.1 346.6V371.9M309.4 349.8V375.9M309.7 349.7V371.6M310.0 341.6V374.3M310.3 344.7V370.9M310.6 349.0V371.8M310.9 341.7V370.7M311.2 347.0V371.0M311.5 347.2V370.6M311.8 347.3V374.5M312.1 340.9V375.8M312.4 340.6V370.7M312.7 344.2V372.3M313.0 344.0V377.1M313.3 338.6V381.0M313.6 344.0V379.7M313.9 345.9V368.7M314.2 344.2V377.6M314.5 347.0V377.2M314.8 347.5V369.0M315.1 342.1V368.1M315.4 338.7V370.6M315.7 347.7V370.0M316.0 345.2V372.3M316.3 347.2V376.6M316.6 343.2V377.7M316.9 340.0V372.4M317.2 346.1V370.9M317.5 339.8V369.4M317.8 342.4V369.6M318.1 340.8V380.5M318.4 346.2V370.4M318.7 347.6V377.1M319.0 341.9V377.8M319.3 347.4V371.3M319.6 338.1V370.4M319.9 344.6V379.8M320.2 344.9V370.9M320.5 347.3V378.6M320.8 338.2V377.0M321.1 347.4V376.6M321.4 340.2V369.1M321.7 347.4V377.3M322.0 339.9V371.4M322.3 339.4V371.0M322.6 344.0V374.3M322.9 347.7V369.1M323.2 347.9V371.2M323.5 346.8V377.4M323.8 345.9V373.7M324.1 343.7V371.5M324.4 344.9V372.8M324.7 347.5V373.7M325.0 345.7V373.4M325.3 346.1V373.1M325.6 344.1V376.1M325.9 346.9V376.4M326.2 341.8V375.2M326.5 348.1V373.0M326.8 348.4V377.6M327.1 348.0V377.3M327.4 348.2V384.4M327.7 347.6V372.9M328.0 347.7V376.2M328.3 347.0V375.6M328.6 339.7V375.3M328.9 338.6V371.4M329.2 345.7V372.8M329.5 342.0V372.2M329.8 341.9V383.6M330.1 342.2V381.2M330.4 342.0V370.7M330.7 345.4V379.5M331.0 340.7V372.0M331.3 346.3V375.8M331.6 343.8V372.6M331.9 346.9V381.8M332.2 347.4V376.3M332.5 343.3V379.0M332.8 348.2V375.6M333.1 347.4V370.8M333.4 348.9V370.9M333.7 347.0V371.4M334.0 344.1V378.3M334.3 349.2V372.3M334.6 348.9V372.1M334.9 348.4V376.0M335.2 345.4V375.8M335.5 344.0V371.8M335.8 349.4V373.6M336.1 349.8V372.6M336.4 346.8V378.5M336.7 348.7V371.2M337.0 344.8V372.2M337.3 348.3V377.0M337.6 345.1V370.0M337.9 344.5V371.2M338.2 344.9V372.2M338.5 346.3V371.8M338.8 342.2V378.3M339.1 348.0V370.9M339.4 347.4V374.4M339.7 347.8V371.0M340.0 348.3V376.5M340.3 347.0V371.2M340.6 349.4V374.6M340.9 348.5V371.3M341.2 348.5V370.6M341.5 346.2V371.1M341.8 350.4V369.6M342.1 350.1V373.2M342.4 349.3V370.2M342.7 347.5V368.8M343.0 351.2V370.9M343.3 351.3V372.1M343.6 348.5V368.4M343.9 351.1V369.6M344.2 349.6V369.8M344.5 346.9V367.8M344.8 344.4V371.4M345.1 350.6V370.2M345.4 350.6V367.4M345.7 350.0V374.5M346.0 346.9V373.4M346.3 345.4V368.9M346.6 347.1V373.9M346.9 348.0V371.2M347.2 348.2V368.1M347.5 351.1V369.9M347.8 351.2V371.4M348.1 345.5V370.5M348.4 348.1V368.9M348.7 351.7V373.0M349.0 348.4V369.0M349.3 351.8V371.5M349.6 351.5V372.7M349.9 348.9V372.7M350.2 351.5V373.5M350.5 350.2V372.6M350.8 351.4V373.5M351.1 348.4V368.1M351.4 351.8V374.1M351.7 348.5V372.6M352.0 352.1V371.8M352.3 352.1V375.3M352.6 351.4V377.0M352.9 348.1V368.6M353.2 352.2V370.9M353.5 351.8V368.6M353.8 347.1V368.8M354.1 347.8V368.9M354.4 352.1V370.3M354.7 348.8V368.9M355.0 349.3V368.9M355.3 349.3V373.9M355.6 351.0V369.1M355.9 347.4V370.3M356.2 347.8V373.6M356.5 352.0V369.4M356.8 351.4V375.8M357.1 352.1V369.8M357.4 352.0V371.2M357.7 351.8V371.1M358.0 351.7V370.0M358.3 349.1V371.9M358.6 352.0V372.4M358.9 350.7V372.2M359.2 351.8V368.8M359.5 350.8V369.8M359.8 346.7V372.3M360.1 350.8V367.8M360.4 351.6V370.5M360.7 346.6V369.2M361.0 349.5V367.1M361.3 346.2V367.8M361.6 347.7V367.1M361.9 349.6V367.3M362.2 349.6V368.0M362.5 351.2V369.8M362.8 351.1V368.8M363.1 346.7V373.1M363.4 350.4V369.1M363.7 347.7V369.7M364.0 346.6V369.7M364.3 349.5V376.6M364.6 348.7V370.2M364.9 349.2V374.3M365.2 348.6V370.6M365.5 346.5V370.9M365.8 342.8V370.9M366.1 346.8V371.6M366.4 348.3V376.5M366.7 346.0V373.8M367.0 345.3V371.1M367.3 349.8V372.9M367.6 346.9V370.7M367.9 344.4V372.6M368.2 346.3V373.4M368.5 345.2V371.3M368.8 345.5V370.9M369.1 349.5V375.7M369.4 349.1V371.0M369.7 348.4V369.0M370.0 351.3V368.9M370.3 347.0V369.6M370.6 348.2V368.9M370.9 351.3V369.3M371.2 351.2V369.0M371.5 351.4V372.0M371.8 351.9V370.3M372.1 350.4V372.6M372.4 346.8V370.4M372.7 352.0V374.3M373.0 350.0V369.6M373.3 351.8V370.8M373.6 351.5V376.3M373.9 351.0V373.7M374.2 351.6V369.1M374.5 351.5V369.4M374.8 352.4V372.1M375.1 351.7V370.9M375.4 348.1V375.4M375.7 350.9V372.8M376.0 351.8V369.3M376.3 349.3V371.9M376.6 352.4V374.6M376.9 352.3V372.9M377.2 349.9V373.5M377.5 349.4V372.5M377.8 349.4V374.3M378.1 348.2V373.6M378.4 350.5V371.3M378.7 350.7V371.2M379.0 351.7V370.6M379.3 346.0V369.0M379.6 348.4V369.9M379.9 350.4V373.4M380.2 349.9V373.9M380.5 350.1V369.2M380.8 352.8V374.7M381.1 353.0V372.0M381.4 349.9V372.6M381.7 353.0V373.9M382.0 347.2V373.4M382.3 351.0V371.1M382.6 353.1V373.8M382.9 351.9V368.5M383.2 351.5V370.3M383.5 351.5V371.1M383.8 352.3V367.4M384.1 352.5V372.3M384.4 350.8V372.0M384.7 352.5V370.8M385.0 348.4V367.3M385.3 352.2V367.4M385.6 351.9V370.0M385.9 348.1V368.4M386.2 352.5V370.6M386.5 350.8V373.6M386.8 352.7V368.1M387.1 351.7V369.6M387.4 349.9V374.2M387.7 349.9V370.3M388.0 348.7V369.1M388.3 352.0V368.8M388.6 352.7V369.9M388.9 352.6V373.0M389.2 348.8V369.8M389.5 352.7V372.4M389.8 347.4V373.5M390.1 352.1V368.7M390.4 352.2V370.5M390.7 352.1V373.6" stroke="#0000ff" stroke-width="0.42" fill="none"/>
<text transform="translate(24.60,336.05) scale(0.88,1)" font-size="6.6" fill="#222" color="#222" text-anchor="end" >2</text>
<text transform="translate(24.60,350.35) scale(0.88,1)" font-size="6.6" fill="#222" color="#222" text-anchor="end" >1.5</text>
<text transform="translate(24.60,364.65) scale(0.88,1)" font-size="6.6" fill="#222" color="#222" text-anchor="end" >1</text>
<text transform="translate(24.60,378.95) scale(0.88,1)" font-size="6.6" fill="#222" color="#222" text-anchor="end" >0.5</text>
<text transform="translate(24.60,393.25) scale(0.88,1)" font-size="6.6" fill="#222" color="#222" text-anchor="end" >0</text>
<text transform="translate(42.89,397.45) scale(0.88,1)" font-size="6.6" fill="#222" color="#222" text-anchor="middle" >-70</text>
<text transform="translate(79.42,397.45) scale(0.88,1)" font-size="6.6" fill="#222" color="#222" text-anchor="middle" >-60</text>
<text transform="translate(115.95,397.45) scale(0.88,1)" font-size="6.6" fill="#222" color="#222" text-anchor="middle" >-50</text>
<text transform="translate(152.48,397.45) scale(0.88,1)" font-size="6.6" fill="#222" color="#222" text-anchor="middle" >-40</text>
<text transform="translate(189.01,397.45) scale(0.88,1)" font-size="6.6" fill="#222" color="#222" text-anchor="middle" >-30</text>
<text transform="translate(225.54,397.45) scale(0.88,1)" font-size="6.6" fill="#222" color="#222" text-anchor="middle" >-20</text>
<text transform="translate(262.07,397.45) scale(0.88,1)" font-size="6.6" fill="#222" color="#222" text-anchor="middle" >-10</text>
<text transform="translate(299.50,397.45) scale(0.88,1)" font-size="6.6" fill="#222" color="#222" text-anchor="middle" >0</text>
<text transform="translate(336.03,397.45) scale(0.88,1)" font-size="6.6" fill="#222" color="#222" text-anchor="middle" >10</text>
<text transform="translate(372.56,397.45) scale(0.88,1)" font-size="6.6" fill="#222" color="#222" text-anchor="middle" >20</text>
<text x="207.5" y="404.0" font-size="6.2" fill="#222" color="#222" text-anchor="middle" textLength="43" lengthAdjust="spacingAndGlyphs" >relative time (s)</text>
<text transform="translate(8.9,363) rotate(-90)" font-size="6.2" fill="#222" color="#222" text-anchor="middle">a<tspan dy="1.6" font-size="4.4">z</tspan><tspan dy="-1.6"> (-)</tspan></text>
<rect x="36.3" y="327.2" width="14.6" height="15.3" fill="#fff" stroke="#9a9a9a" stroke-width="0.8"/>
<text transform="translate(43.60,339.95) scale(0.92,1)" font-size="15.2" fill="#111" color="#111" text-anchor="middle" stroke="#111" stroke-width="0.3">D</text>
<path fill="#f6f2fa" d="M27 278v10h1v-10zM28 280v8h1v-8zM29 285v3h1v-3zM31 279v9h1v-9zM32 283v5h1v-5zM35 280v8h1v-8zM36 282v6h1v-6zM37 278v10h1v-10zM41 284v5h1v-5zM42 281v8h1v-8zM42 295v1h1v-1zM42 302v1h1v-1zM44 295v1h1v-1zM44 302v1h1v-1zM45 295v1h1v-1zM45 302v1h1v-1zM46 296v1h1v-1zM47 283v6h1v-6zM49 279v10h1v-10zM50 295v1h1v-1zM50 302v1h1v-1zM51 288v1h1v-1zM51 295v1h1v-1zM51 302v1h1v-1zM53 280v9h1v-9zM54 295v1h1v-1zM54 302v1h1v-1zM55 287v2h1v-2zM56 279v10h1v-10zM56 296v1h1v-1zM58 277v12h1v-12zM63 285v4h1v-4zM64 284v5h1v-5zM64 296v1h1v-1zM64 301v1h1v-1zM65 295v1h1v-1zM65 302v1h1v-1zM66 280v9h1v-9zM67 278v11h1v-11zM67 291v5h1v-5zM67 302v6h1v-6zM68 285v4h1v-4zM70 277v12h1v-12zM75 295v1h1v-1zM75 302v1h1v-1zM79 282v7h1v-7zM80 284v12h1v-12zM80 302v6h1v-6zM81 278v11h1v-11zM82 278v11h1v-11zM83 290v2h1v-2zM84 295v1h1v-1zM84 302v1h1v-1zM87 284v5h1v-5zM87 296v1h1v-1zM88 282v7h1v-7zM89 287v2h1v-2zM91 286v3h1v-3zM92 283v6h1v-6zM94 284v5h1v-5zM95 288v1h1v-1zM96 296v1h1v-1zM98 277v12h1v-12zM98 295v1h1v-1zM98 302v1h1v-1zM99 280v9h1v-9zM101 285v4h1v-4zM102 296v1h1v-1zM104 287v2h1v-2zM105 281v8h1v-8zM106 280v9h1v-9zM107 287v2h1v-2zM107 290v2h1v-2zM108 277v12h1v-12zM109 283v6h1v-6zM109 295v1h1v-1zM109 302v1h1v-1zM111 284v5h1v-5zM113 296v1h1v-1zM114 296v1h1v-1zM115 282v7h1v-7zM116 303v5h1v-5zM117 277v12h1v-12zM117 296v1h1v-1zM118 291v2h1v-2zM119 282v7h1v-7zM121 281v8h1v-8zM124 283v6h1v-6zM125 280v9h1v-9zM126 296v1h1v-1zM126 301v1h1v-1zM127 295v1h1v-1zM127 302v1h1v-1zM128 295v1h1v-1zM128 302v1h1v-1zM129 285v4h1v-4zM131 284v5h1v-5zM133 282v7h1v-7zM133 296v1h1v-1zM134 283v6h1v-6zM136 295v1h1v-1zM136 302v1h1v-1zM137 281v8h1v-8zM140 296v1h1v-1zM142 286v3h1v-3zM142 295v1h1v-1zM142 302v1h1v-1zM143 282v7h1v-7zM144 295v1h1v-1zM144 302v1h1v-1zM145 286v3h1v-3zM146 284v5h1v-5zM147 287v1h1v-1zM147 300v1h1v-1zM148 281v6h1v-6zM151 278v9h1v-9zM152 279v8h1v-8zM154 278v7h1v-7zM156 278v9h1v-9zM157 285v2h1v-2zM160 280v7h1v-7zM161 282v5h1v-5zM162 283v4h1v-4zM163 284v3h1v-3zM165 287v1h1v-1zM165 300v1h1v-1zM166 281v8h1v-8zM167 277v10h1v-10zM168 281v6h1v-6zM168 303v5h1v-5zM172 286v1h1v-1zM174 302v1h1v-1zM177 287v1h1v-1zM178 302v6h1v-6zM179 284v3h1v-3zM180 282v5h1v-5zM189 278v10h1v-10zM190 287v1h1v-1zM191 280v7h1v-7zM196 280v7h1v-7zM198 277v10h1v-10zM199 277v10h1v-10zM203 287v1h1v-1zM209 277v10h1v-10zM211 282v5h1v-5zM212 277v11h1v-11zM214 287v1h1v-1zM216 302v1h1v-1zM217 287v1h1v-1zM218 283v4h1v-4zM220 279v9h1v-9zM222 284v3h1v-3zM223 302v1h1v-1zM224 287v1h1v-1zM225 277v10h1v-10zM225 302v1h1v-1zM227 279v8h1v-8zM227 302v6h1v-6zM229 283v4h1v-4zM230 281v6h1v-6zM231 287v1h1v-1zM233 287v1h1v-1zM234 282v5h1v-5zM235 281v6h1v-6zM239 285v2h1v-2zM240 283v4h1v-4zM245 277v10h1v-10zM246 279v8h1v-8zM248 286v1h1v-1zM248 302v1h1v-1zM249 281v6h1v-6zM253 283v3h1v-3zM255 281v5h1v-5zM259 282v4h1v-4zM261 277v9h1v-9zM262 277v9h1v-9zM265 282v4h1v-4zM267 303v5h1v-5zM269 280v6h1v-6zM273 279v7h1v-7zM274 303v5h1v-5zM277 279v7h1v-7zM278 286v1h1v-1zM280 284v4h1v-4zM281 287v2h1v-2zM281 297v2h1v-2zM282 283v6h1v-6zM282 296v1h1v-1zM282 301v1h1v-1zM284 279v10h1v-10zM285 287v2h1v-2zM287 298v2h1v-2zM288 285v4h1v-4zM291 297v1h1v-1zM291 300v1h1v-1zM293 279v10h1v-10zM295 280v9h1v-9zM297 281v8h1v-8zM298 278v11h1v-11zM300 297v1h1v-1zM303 286v2h1v-2zM304 281v7h1v-7zM306 285v4h1v-4zM307 289v1h1v-1zM308 284v4h1v-4zM309 302v1h1v-1zM310 289v1h1v-1zM312 278v12h1v-12zM315 278v10h1v-10zM315 303v1h1v-1zM316 302v1h1v-1zM318 279v10h1v-10zM319 284v4h1v-4zM319 303v1h1v-1zM320 278v10h1v-10zM321 288v1h1v-1zM322 302v1h1v-1zM324 278v10h1v-10zM325 270v4h1v-4zM325 279v4h1v-4zM325 303v1h1v-1zM326 267v1h1v-1zM326 285v1h1v-1zM327 267v1h1v-1zM327 285v1h1v-1zM328 270v4h1v-4zM328 279v4h1v-4zM329 279v10h1v-10zM330 289v1h1v-1zM333 288v1h1v-1zM334 284v5h1v-5zM336 303v1h1v-1zM338 277v11h1v-11zM341 279v10h1v-10zM341 302v1h1v-1zM342 279v9h1v-9zM343 303v1h1v-1zM344 288v2h1v-2zM345 277v12h1v-12zM345 302v1h1v-1zM346 288v1h1v-1zM348 283v6h1v-6zM350 303v1h1v-1zM351 303v5h1v-5zM352 289v1h1v-1zM353 289v1h1v-1zM355 287v1h1v-1zM356 289v1h1v-1zM358 280v9h1v-9zM358 302v1h1v-1zM360 289v1h1v-1zM362 302v1h1v-1zM364 302v1h1v-1zM365 289v1h1v-1zM366 281v8h1v-8zM366 302v1h1v-1zM368 288v1h1v-1zM369 282v6h1v-6zM370 287v1h1v-1zM371 283v5h1v-5zM371 303v1h1v-1zM372 282v7h1v-7zM374 303v1h1v-1zM375 277v12h1v-12zM375 302v1h1v-1zM376 302v1h1v-1zM377 302v1h1v-1zM378 285v4h1v-4zM379 302v1h1v-1zM380 302v1h1v-1zM384 303v1h1v-1zM385 288v1h1v-1zM386 303v1h1v-1zM388 289v1h1v-1zM389 278v11h1v-11zM389 302v1h1v-1z"/>
<path fill="#f3edf8" d="M26 302v1h1v-1zM30 303v1h1v-1zM32 304v4h1v-4zM40 288v1h1v-1zM49 295v1h1v-1zM49 302v1h1v-1zM53 296v1h1v-1zM55 296v1h1v-1zM58 295v1h1v-1zM58 302v1h1v-1zM59 295v1h1v-1zM59 302v1h1v-1zM68 296v1h1v-1zM69 303v5h1v-5zM73 295v1h1v-1zM73 302v1h1v-1zM78 296v1h1v-1zM83 292v2h1v-2zM89 295v1h1v-1zM89 302v1h1v-1zM91 296v1h1v-1zM95 295v1h1v-1zM95 302v1h1v-1zM104 296v1h1v-1zM106 296v1h1v-1zM107 292v4h1v-4zM107 302v6h1v-6zM112 295v1h1v-1zM112 302v1h1v-1zM115 296v1h1v-1zM116 295v1h1v-1zM116 302v1h1v-1zM118 293v4h1v-4zM118 302v6h1v-6zM121 295v1h1v-1zM121 302v1h1v-1zM124 295v1h1v-1zM124 302v1h1v-1zM125 295v1h1v-1zM125 302v1h1v-1zM135 295v1h1v-1zM135 302v1h1v-1zM148 287v1h1v-1zM148 300v1h1v-1zM149 287v1h1v-1zM149 300v1h1v-1zM150 287v1h1v-1zM150 300v1h1v-1zM154 285v2h1v-2zM154 301v7h1v-7zM157 301v7h1v-7zM162 287v1h1v-1zM162 300v1h1v-1zM163 287v1h1v-1zM163 300v1h1v-1zM164 287v1h1v-1zM164 300v1h1v-1zM166 298v1h1v-1zM167 287v1h1v-1zM167 299v1h1v-1zM167 301v7h1v-7zM169 301v1h1v-1zM196 287v1h1v-1zM198 287v1h1v-1zM202 302v1h1v-1zM208 301v1h1v-1zM209 287v1h1v-1zM211 287v1h1v-1zM222 301v1h1v-1zM226 301v1h1v-1zM227 287v1h1v-1zM241 302v6h1v-6zM244 287v1h1v-1zM245 302v6h1v-6zM249 302v1h1v-1zM250 286v1h1v-1zM251 286v1h1v-1zM252 286v1h1v-1zM253 286v1h1v-1zM254 286v1h1v-1zM255 286v1h1v-1zM256 286v1h1v-1zM257 286v1h1v-1zM258 286v1h1v-1zM259 286v1h1v-1zM260 286v1h1v-1zM261 286v1h1v-1zM262 286v1h1v-1zM263 286v1h1v-1zM264 286v1h1v-1zM264 303v5h1v-5zM265 286v1h1v-1zM266 286v1h1v-1zM267 286v1h1v-1zM268 286v1h1v-1zM269 286v1h1v-1zM270 286v1h1v-1zM271 286v1h1v-1zM272 286v1h1v-1zM273 286v1h1v-1zM274 286v1h1v-1zM275 286v1h1v-1zM276 286v1h1v-1zM277 286v1h1v-1zM277 302v1h1v-1zM278 302v1h1v-1zM280 299v1h1v-1zM281 299v9h1v-9zM298 296v1h1v-1zM298 301v1h1v-1zM300 296v1h1v-1zM301 302v1h1v-1zM302 288v1h1v-1zM303 303v1h1v-1zM304 303v1h1v-1zM305 288v1h1v-1zM307 301v1h1v-1zM308 303v1h1v-1zM311 303v1h1v-1zM313 302v1h1v-1zM314 302v1h1v-1zM315 288v1h1v-1zM317 302v1h1v-1zM318 302v1h1v-1zM322 289v1h1v-1zM323 303v1h1v-1zM324 288v1h1v-1zM325 274v5h1v-5zM326 268v1h1v-1zM326 284v1h1v-1zM326 303v1h1v-1zM327 268v1h1v-1zM327 284v1h1v-1zM327 303v1h1v-1zM328 274v5h1v-5zM328 289v1h1v-1zM329 301v1h1v-1zM331 302v1h1v-1zM332 302v1h1v-1zM334 302v1h1v-1zM336 288v1h1v-1zM337 289v1h1v-1zM338 288v1h1v-1zM340 302v1h1v-1zM342 303v1h1v-1zM344 301v1h1v-1zM345 289v1h1v-1zM347 302v1h1v-1zM351 288v1h1v-1zM354 289v1h1v-1zM354 302v1h1v-1zM356 301v1h1v-1zM357 288v1h1v-1zM361 303v1h1v-1zM362 289v1h1v-1zM363 288v2h1v-2zM366 289v1h1v-1zM367 302v1h1v-1zM372 302v1h1v-1zM373 302v1h1v-1zM375 289v1h1v-1zM376 289v1h1v-1zM379 289v1h1v-1zM381 302v1h1v-1zM382 302v1h1v-1zM383 288v1h1v-1zM383 303v5h1v-5zM384 288v1h1v-1zM386 288v1h1v-1zM389 289v1h1v-1zM390 302v1h1v-1z"/>
<path fill="#efebf8" d="M43 296v1h1v-1zM61 296v1h1v-1zM62 295v1h1v-1zM62 302v1h1v-1zM63 295v1h1v-1zM63 302v1h1v-1zM69 295v1h1v-1zM69 302v1h1v-1zM71 295v1h1v-1zM71 302v1h1v-1zM72 296v1h1v-1zM72 301v1h1v-1zM79 295v1h1v-1zM79 302v1h1v-1zM83 294v3h1v-3zM83 302v6h1v-6zM86 295v1h1v-1zM86 302v1h1v-1zM93 296v1h1v-1zM94 295v1h1v-1zM94 302v1h1v-1zM97 296v1h1v-1zM99 295v1h1v-1zM99 302v1h1v-1zM103 295v1h1v-1zM103 302v1h1v-1zM108 296v1h1v-1zM119 296v1h1v-1zM122 296v1h1v-1zM129 295v1h1v-1zM129 302v1h1v-1zM130 295v1h1v-1zM130 302v1h1v-1zM131 296v1h1v-1zM138 295v1h1v-1zM138 302v1h1v-1zM151 287v1h1v-1zM151 300v1h1v-1zM152 287v1h1v-1zM152 300v1h1v-1zM153 300v1h1v-1zM154 287v1h1v-1zM154 300v1h1v-1zM155 287v1h1v-1zM155 300v1h1v-1zM156 287v1h1v-1zM156 300v1h1v-1zM157 287v1h1v-1zM157 300v1h1v-1zM158 287v1h1v-1zM158 300v1h1v-1zM159 287v1h1v-1zM159 300v1h1v-1zM160 300v1h1v-1zM161 287v1h1v-1zM161 300v1h1v-1zM170 287v1h1v-1zM195 287v1h1v-1zM196 301v1h1v-1zM199 302v1h1v-1zM212 302v1h1v-1zM214 301v1h1v-1zM218 301v1h1v-1zM219 301v1h1v-1zM223 287v1h1v-1zM224 301v1h1v-1zM236 301v1h1v-1zM237 287v1h1v-1zM242 287v1h1v-1zM244 301v1h1v-1zM250 302v1h1v-1zM251 302v1h1v-1zM253 302v1h1v-1zM257 302v1h1v-1zM259 302v1h1v-1zM261 302v1h1v-1zM263 302v1h1v-1zM265 302v1h1v-1zM266 302v1h1v-1zM267 302v1h1v-1zM269 302v1h1v-1zM270 302v1h1v-1zM271 302v1h1v-1zM274 302v1h1v-1zM276 302v1h1v-1zM286 298v2h1v-2zM289 297v1h1v-1zM289 300v1h1v-1zM290 296v1h1v-1zM290 301v1h1v-1zM292 296v1h1v-1zM292 301v1h1v-1zM296 298v2h1v-2zM304 288v1h1v-1zM309 289v1h1v-1zM310 301v1h1v-1zM312 301v1h1v-1zM313 289v1h1v-1zM313 301v1h1v-1zM314 289v1h1v-1zM316 289v1h1v-1zM319 288v1h1v-1zM320 303v1h1v-1zM321 302v1h1v-1zM325 288v1h1v-1zM328 301v1h1v-1zM329 290v1h1v-1zM330 301v1h1v-1zM332 289v1h1v-1zM333 302v1h1v-1zM334 289v1h1v-1zM337 301v1h1v-1zM342 288v1h1v-1zM343 288v1h1v-1zM346 302v1h1v-1zM347 289v1h1v-1zM348 302v1h1v-1zM349 303v1h1v-1zM350 288v1h1v-1zM352 301v1h1v-1zM355 303v1h1v-1zM359 303v1h1v-1zM360 301v1h1v-1zM367 289v1h1v-1zM369 303v1h1v-1zM370 303v1h1v-1zM371 288v1h1v-1zM372 289v1h1v-1zM373 289v1h1v-1zM374 288v1h1v-1zM377 289v1h1v-1zM378 289v2h1v-2zM378 301v1h1v-1zM380 289v1h1v-1zM382 289v1h1v-1zM385 302v1h1v-1zM387 289v1h1v-1zM387 301v1h1v-1zM388 301v1h1v-1z"/>
<path fill="#ece9f8" d="M43 301v1h1v-1zM57 296v1h1v-1zM64 297v1h1v-1zM67 296v1h1v-1zM74 296v1h1v-1zM81 295v1h1v-1zM81 302v1h1v-1zM82 295v1h1v-1zM82 302v1h1v-1zM88 296v1h1v-1zM92 295v1h1v-1zM92 302v1h1v-1zM100 296v1h1v-1zM105 296v1h1v-1zM105 301v1h1v-1zM108 301v1h1v-1zM111 296v1h1v-1zM111 301v1h1v-1zM117 297v1h1v-1zM118 297v1h1v-1zM120 295v1h1v-1zM120 302v1h1v-1zM123 296v1h1v-1zM123 301v1h1v-1zM139 296v1h1v-1zM147 299v1h1v-1zM160 287v1h1v-1zM165 299v1h1v-1zM166 289v1h1v-1zM168 302v1h1v-1zM173 287v1h1v-1zM185 301v1h1v-1zM194 302v1h1v-1zM195 302v1h1v-1zM197 287v1h1v-1zM197 301v1h1v-1zM203 302v1h1v-1zM204 302v1h1v-1zM210 302v1h1v-1zM231 302v1h1v-1zM236 287v1h1v-1zM241 301v1h1v-1zM264 302v1h1v-1zM273 302v1h1v-1zM283 297v1h1v-1zM283 300v1h1v-1zM288 296v1h1v-1zM288 301v1h1v-1zM301 289v1h1v-1zM302 302v1h1v-1zM303 288v1h1v-1zM305 302v1h1v-1zM306 289v1h1v-1zM308 288v1h1v-1zM311 288v1h1v-1zM317 289v1h1v-1zM318 289v1h1v-1zM321 289v1h1v-1zM322 301v1h1v-1zM323 288v1h1v-1zM324 302v1h1v-1zM326 269v1h1v-1zM326 283v1h1v-1zM326 288v1h1v-1zM327 269v1h1v-1zM327 283v1h1v-1zM327 288v1h1v-1zM330 290v1h1v-1zM331 289v1h1v-1zM333 289v1h1v-1zM336 302v1h1v-1zM338 302v1h1v-1zM339 301v1h1v-1zM340 289v1h1v-1zM345 301v1h1v-1zM346 289v1h1v-1zM349 288v1h1v-1zM351 302v1h1v-1zM354 301v1h1v-1zM356 290v1h1v-1zM357 302v1h1v-1zM358 301v1h1v-1zM359 288v1h1v-1zM361 288v1h1v-1zM366 301v1h1v-1zM368 302v1h1v-1zM375 301v1h1v-1zM376 301v1h1v-1zM379 301v1h1v-1zM381 289v1h1v-1zM383 302v1h1v-1zM384 302v1h1v-1zM385 289v1h1v-1zM386 302v1h1v-1zM389 301v1h1v-1zM390 289v1h1v-1z"/>
<path fill="#e7e9f9" d="M28 303v1h1v-1zM48 296v1h1v-1zM55 297v1h1v-1zM56 297v1h1v-1zM60 296v1h1v-1zM66 296v1h1v-1zM70 296v1h1v-1zM76 296v1h1v-1zM76 301v1h1v-1zM77 296v1h1v-1zM77 301v1h1v-1zM78 297v1h1v-1zM85 296v1h1v-1zM90 296v1h1v-1zM100 301v1h1v-1zM101 296v1h1v-1zM113 297v1h1v-1zM126 297v1h1v-1zM132 296v1h1v-1zM134 296v1h1v-1zM137 296v1h1v-1zM140 297v1h1v-1zM146 289v1h1v-1zM153 287v1h1v-1zM167 300v1h1v-1zM170 301v1h1v-1zM172 287v1h1v-1zM172 301v1h1v-1zM176 287v1h1v-1zM184 301v1h1v-1zM186 287v1h1v-1zM187 302v1h1v-1zM208 287v1h1v-1zM209 301v1h1v-1zM211 302v1h1v-1zM215 287v1h1v-1zM220 302v1h1v-1zM221 302v1h1v-1zM222 287v1h1v-1zM230 302v1h1v-1zM232 287v1h1v-1zM235 287v1h1v-1zM240 302v1h1v-1zM246 302v1h1v-1zM248 287v1h1v-1zM252 302v1h1v-1zM272 302v1h1v-1zM275 302v1h1v-1zM280 288v1h1v-1zM291 298v2h1v-2zM307 290v1h1v-1zM307 300v1h1v-1zM309 301v1h1v-1zM315 302v1h1v-1zM316 301v1h1v-1zM320 288v1h1v-1zM325 302v1h1v-1zM326 270v1h1v-1zM326 282v1h1v-1zM327 270v1h1v-1zM327 282v1h1v-1zM329 300v1h1v-1zM332 301v1h1v-1zM334 301v1h1v-1zM335 301v1h1v-1zM337 290v1h1v-1zM339 289v1h1v-1zM345 290v1h1v-1zM348 289v1h1v-1zM350 302v1h1v-1zM352 290v1h1v-1zM353 301v1h1v-1zM355 288v1h1v-1zM360 290v1h1v-1zM365 301v1h1v-1zM366 290v1h1v-1zM368 289v1h1v-1zM369 288v1h1v-1zM370 288v1h1v-1zM372 301v1h1v-1zM374 302v1h1v-1zM376 290v1h1v-1zM377 301v1h1v-1zM379 290v1h1v-1zM380 301v1h1v-1zM382 301v1h1v-1zM388 290v1h1v-1z"/>
<path fill="#e2eafa" d="M26 301v1h1v-1zM29 303v1h1v-1zM30 288v1h1v-1zM31 288v1h1v-1zM32 303v1h1v-1zM41 296v1h1v-1zM42 296v1h1v-1zM42 301v1h1v-1zM43 297v1h1v-1zM44 296v1h1v-1zM45 296v1h1v-1zM47 296v1h1v-1zM48 301v1h1v-1zM50 296v1h1v-1zM51 296v1h1v-1zM52 296v1h1v-1zM53 297v1h1v-1zM54 296v1h1v-1zM55 301v1h1v-1zM58 296v1h1v-1zM59 296v1h1v-1zM61 297v1h1v-1zM65 296v1h1v-1zM65 301v1h1v-1zM66 301v1h1v-1zM68 297v1h1v-1zM68 301v1h1v-1zM70 301v1h1v-1zM72 297v1h1v-1zM73 296v1h1v-1zM73 301v1h1v-1zM75 296v1h1v-1zM75 301v1h1v-1zM80 296v1h1v-1zM84 296v1h1v-1zM89 296v1h1v-1zM95 296v1h1v-1zM97 297v1h1v-1zM98 296v1h1v-1zM98 301v1h1v-1zM100 297v1h1v-1zM102 297v1h1v-1zM104 297v1h1v-1zM105 297v1h1v-1zM107 296v1h1v-1zM107 301v1h1v-1zM108 297v1h1v-1zM109 296v1h1v-1zM117 301v1h1v-1zM122 297v1h1v-1zM122 301v1h1v-1zM124 296v1h1v-1zM125 296v1h1v-1zM125 301v1h1v-1zM127 296v1h1v-1zM128 296v1h1v-1zM133 297v1h1v-1zM134 301v1h1v-1zM135 296v1h1v-1zM136 296v1h1v-1zM136 301v1h1v-1zM139 301v1h1v-1zM140 301v1h1v-1zM141 296v1h1v-1zM142 296v1h1v-1zM142 301v1h1v-1zM144 296v1h1v-1zM146 297v1h1v-1zM147 288v1h1v-1zM148 299v1h1v-1zM149 299v1h1v-1zM150 288v1h1v-1zM150 299v1h1v-1zM151 288v1h1v-1zM151 299v1h1v-1zM152 299v1h1v-1zM153 299v1h1v-1zM154 299v1h1v-1zM155 299v1h1v-1zM156 288v1h1v-1zM156 299v1h1v-1zM157 288v1h1v-1zM157 299v1h1v-1zM158 299v1h1v-1zM159 288v1h1v-1zM159 299v1h1v-1zM160 288v1h1v-1zM160 299v1h1v-1zM161 288v1h1v-1zM161 299v1h1v-1zM162 299v1h1v-1zM163 299v1h1v-1zM164 288v1h1v-1zM164 299v1h1v-1zM167 298v1h1v-1zM168 287v1h1v-1zM169 300v1h1v-1zM171 302v1h1v-1zM172 300v1h1v-1zM173 302v1h1v-1zM175 287v1h1v-1zM175 302v1h1v-1zM177 302v1h1v-1zM179 302v1h1v-1zM180 302v1h1v-1zM182 301v1h1v-1zM184 300v1h1v-1zM185 287v1h1v-1zM185 300v1h1v-1zM189 301v1h1v-1zM191 301v1h1v-1zM192 302v1h1v-1zM193 302v1h1v-1zM196 300v1h1v-1zM197 300v1h1v-1zM201 301v1h1v-1zM205 302v1h1v-1zM206 287v1h1v-1zM206 302v1h1v-1zM207 287v1h1v-1zM207 301v1h1v-1zM208 300v1h1v-1zM214 300v1h1v-1zM217 302v1h1v-1zM218 300v1h1v-1zM219 300v1h1v-1zM221 287v1h1v-1zM222 300v1h1v-1zM224 300v1h1v-1zM226 300v1h1v-1zM228 287v1h1v-1zM228 302v1h1v-1zM229 302v1h1v-1zM233 302v1h1v-1zM234 287v1h1v-1zM235 302v1h1v-1zM236 300v1h1v-1zM238 301v1h1v-1zM239 302v1h1v-1zM241 300v1h1v-1zM243 301v1h1v-1zM244 300v1h1v-1zM247 301v1h1v-1zM248 301v1h1v-1zM249 301v1h1v-1zM250 287v1h1v-1zM252 287v1h1v-1zM254 287v1h1v-1zM254 302v1h1v-1zM255 302v1h1v-1zM256 302v1h1v-1zM258 287v1h1v-1zM258 302v1h1v-1zM259 287v1h1v-1zM259 301v1h1v-1zM260 287v1h1v-1zM260 302v1h1v-1zM261 287v1h1v-1zM262 302v1h1v-1zM263 301v1h1v-1zM264 287v1h1v-1zM266 287v1h1v-1zM266 301v1h1v-1zM268 287v1h1v-1zM268 302v1h1v-1zM270 287v1h1v-1zM270 301v1h1v-1zM271 287v1h1v-1zM271 301v1h1v-1zM275 287v1h1v-1zM276 287v1h1v-1zM277 287v1h1v-1zM279 301v1h1v-1zM280 298v1h1v-1zM283 298v2h1v-2zM284 296v1h1v-1zM284 301v1h1v-1zM285 297v1h1v-1zM285 300v1h1v-1zM289 298v2h1v-2zM294 297v1h1v-1zM294 300v1h1v-1zM297 296v1h1v-1zM297 301v1h1v-1zM300 295v1h1v-1zM301 290v1h1v-1zM301 301v1h1v-1zM302 289v1h1v-1zM303 302v1h1v-1zM304 302v1h1v-1zM305 289v1h1v-1zM305 301v1h1v-1zM308 302v1h1v-1zM309 290v1h1v-1zM310 290v2h1v-2zM310 300v1h1v-1zM311 302v1h1v-1zM313 290v1h1v-1zM313 300v1h1v-1zM314 290v1h1v-1zM314 301v1h1v-1zM315 289v1h1v-1zM316 290v1h1v-1zM317 290v1h1v-1zM317 301v1h1v-1zM318 290v1h1v-1zM318 301v1h1v-1zM319 289v1h1v-1zM319 302v1h1v-1zM320 302v1h1v-1zM321 301v1h1v-1zM322 300v1h1v-1zM323 302v1h1v-1zM324 289v1h1v-1zM325 289v1h1v-1zM326 271v1h1v-1zM326 281v1h1v-1zM326 302v1h1v-1zM327 271v1h1v-1zM327 281v1h1v-1zM327 302v1h1v-1zM328 290v1h1v-1zM328 300v1h1v-1zM330 291v1h1v-1zM330 300v1h1v-1zM331 290v1h1v-1zM331 301v1h1v-1zM332 290v1h1v-1zM333 290v1h1v-1zM333 301v1h1v-1zM335 290v1h1v-1zM335 300v1h1v-1zM336 289v1h1v-1zM337 300v1h1v-1zM338 289v1h1v-1zM339 290v1h1v-1zM339 300v1h1v-1zM340 290v1h1v-1zM340 301v1h1v-1zM341 289v1h1v-1zM342 289v1h1v-1zM342 302v1h1v-1zM343 289v1h1v-1zM343 302v1h1v-1zM344 290v1h1v-1zM345 300v1h1v-1zM346 301v1h1v-1zM347 290v1h1v-1zM347 301v1h1v-1zM348 301v1h1v-1zM349 302v1h1v-1zM350 289v1h1v-1zM351 289v1h1v-1zM352 300v1h1v-1zM353 300v1h1v-1zM355 302v1h1v-1zM356 291v1h1v-1zM356 300v1h1v-1zM357 289v1h1v-1zM357 301v1h1v-1zM358 289v2h1v-2zM359 302v1h1v-1zM360 291v1h1v-1zM360 300v1h1v-1zM361 302v1h1v-1zM362 290v1h1v-1zM362 300v2h1v-2zM363 301v1h1v-1zM364 289v2h1v-2zM364 301v1h1v-1zM365 290v1h1v-1zM367 301v1h1v-1zM368 301v1h1v-1zM369 302v1h1v-1zM370 302v1h1v-1zM371 289v1h1v-1zM371 302v1h1v-1zM372 290v1h1v-1zM373 290v1h1v-1zM373 301v1h1v-1zM374 289v1h1v-1zM375 290v1h1v-1zM377 290v1h1v-1zM379 300v1h1v-1zM380 290v1h1v-1zM381 290v1h1v-1zM381 301v1h1v-1zM383 289v1h1v-1zM384 289v1h1v-1zM385 301v1h1v-1zM386 289v1h1v-1zM387 300v1h1v-1zM388 300v1h1v-1zM389 290v1h1v-1zM389 300v1h1v-1zM390 290v1h1v-1zM390 301v1h1v-1z"/>
<path fill="#d7ebfa" d="M27 288v1h1v-1zM27 302v1h1v-1zM28 288v1h1v-1zM29 288v1h1v-1zM31 302v1h1v-1zM33 288v1h1v-1zM34 288v1h1v-1zM34 303v1h1v-1zM35 303v1h1v-1zM37 288v1h1v-1zM37 302v1h1v-1zM38 288v1h1v-1zM38 303v1h1v-1zM39 288v1h1v-1zM40 301v1h1v-1zM41 295v1h1v-1zM41 297v1h1v-1zM42 297v1h1v-1zM44 297v1h1v-1zM44 301v1h1v-1zM45 297v1h1v-1zM45 301v1h1v-1zM46 297v1h1v-1zM48 297v1h1v-1zM49 296v1h1v-1zM49 301v1h1v-1zM50 297v1h1v-1zM52 297v1h1v-1zM54 297v1h1v-1zM57 297v1h1v-1zM60 297v1h1v-1zM60 301v1h1v-1zM61 301v1h1v-1zM62 296v1h1v-1zM62 301v1h1v-1zM63 296v1h1v-1zM63 301v1h1v-1zM65 297v1h1v-1zM66 297v1h1v-1zM67 297v1h1v-1zM69 296v1h1v-1zM69 301v1h1v-1zM70 297v1h1v-1zM71 296v1h1v-1zM71 301v1h1v-1zM73 297v1h1v-1zM74 297v1h1v-1zM75 297v1h1v-1zM76 297v2h1v-2zM77 297v1h1v-1zM79 296v1h1v-1zM80 297v1h1v-1zM81 296v1h1v-1zM81 301v1h1v-1zM82 296v1h1v-1zM83 297v1h1v-1zM84 297v1h1v-1zM85 297v1h1v-1zM86 296v1h1v-1zM86 301v1h1v-1zM89 297v1h1v-1zM90 297v1h1v-1zM91 297v1h1v-1zM92 296v1h1v-1zM94 296v1h1v-1zM95 297v1h1v-1zM98 297v1h1v-1zM99 296v1h1v-1zM99 301v1h1v-1zM101 297v1h1v-1zM101 301v1h1v-1zM102 301v1h1v-1zM103 296v1h1v-1zM104 301v1h1v-1zM107 297v1h1v-1zM109 297v1h1v-1zM110 297v1h1v-1zM111 297v1h1v-1zM112 296v1h1v-1zM112 301v1h1v-1zM116 296v1h1v-1zM119 297v1h1v-1zM120 296v1h1v-1zM121 296v1h1v-1zM123 297v1h1v-1zM124 297v1h1v-1zM124 301v1h1v-1zM128 297v1h1v-1zM129 296v1h1v-1zM130 296v1h1v-1zM133 301v1h1v-1zM134 297v1h1v-1zM135 301v1h1v-1zM136 297v1h1v-1zM138 296v1h1v-1zM139 297v1h1v-1zM141 297v1h1v-1zM141 301v1h1v-1zM142 297v1h1v-1zM144 297v1h1v-1zM145 298v1h1v-1zM146 290v1h1v-1zM146 296v1h1v-1zM147 298v1h1v-1zM148 288v1h1v-1zM148 298v1h1v-1zM149 288v1h1v-1zM149 298v1h1v-1zM150 298v1h1v-1zM151 298v1h1v-1zM152 288v1h1v-1zM152 298v1h1v-1zM153 298v1h1v-1zM156 298v1h1v-1zM157 298v1h1v-1zM158 288v1h1v-1zM158 298v1h1v-1zM159 298v1h1v-1zM161 298v1h1v-1zM162 288v1h1v-1zM162 298v1h1v-1zM163 288v1h1v-1zM163 298v1h1v-1zM164 298v1h1v-1zM165 288v1h1v-1zM165 298v1h1v-1zM166 297v1h1v-1zM169 299v1h1v-1zM170 300v1h1v-1zM174 287v1h1v-1zM176 301v1h1v-1zM178 287v1h1v-1zM178 301v1h1v-1zM181 287v1h1v-1zM181 300v2h1v-2zM182 300v1h1v-1zM183 300v2h1v-2zM184 287v1h1v-1zM186 301v1h1v-1zM187 287v1h1v-1zM188 287v1h1v-1zM188 300v2h1v-2zM189 300v1h1v-1zM190 300v2h1v-2zM191 300v1h1v-1zM192 287v1h1v-1zM193 287v1h1v-1zM194 287v1h1v-1zM198 301v1h1v-1zM200 287v1h1v-1zM200 301v1h1v-1zM201 300v1h1v-1zM204 287v1h1v-1zM207 300v1h1v-1zM209 300v1h1v-1zM213 287v1h1v-1zM213 301v1h1v-1zM215 301v1h1v-1zM219 287v1h1v-1zM225 287v1h1v-1zM225 301v1h1v-1zM227 301v1h1v-1zM230 287v1h1v-1zM232 301v1h1v-1zM234 301v1h1v-1zM237 300v2h1v-2zM238 287v1h1v-1zM238 300v1h1v-1zM241 287v1h1v-1zM242 301v1h1v-1zM243 287v1h1v-1zM243 300v1h1v-1zM245 287v1h1v-1zM247 300v1h1v-1zM251 287v1h1v-1zM253 287v1h1v-1zM255 287v1h1v-1zM256 287v1h1v-1zM261 301v1h1v-1zM262 287v1h1v-1zM265 301v1h1v-1zM267 287v1h1v-1zM267 301v1h1v-1zM273 287v1h1v-1zM274 287v1h1v-1zM274 301v1h1v-1zM276 301v1h1v-1zM278 301v1h1v-1zM279 287v1h1v-1zM281 293v4h1v-4zM282 297v1h1v-1zM282 300v1h1v-1zM285 298v2h1v-2zM288 297v1h1v-1zM288 300v1h1v-1zM290 297v1h1v-1zM290 300v1h1v-1zM292 297v1h1v-1zM292 300v1h1v-1zM294 298v2h1v-2zM298 297v1h1v-1zM298 300v1h1v-1zM300 294v1h1v-1zM301 291v1h1v-1zM301 300v1h1v-1zM302 290v1h1v-1zM302 300v2h1v-2zM303 289v1h1v-1zM303 301v1h1v-1zM304 289v1h1v-1zM304 301v1h1v-1zM305 290v1h1v-1zM305 300v1h1v-1zM306 301v1h1v-1zM308 289v1h1v-1zM308 301v1h1v-1zM309 291v1h1v-1zM309 299v2h1v-2zM310 299v1h1v-1zM311 289v1h1v-1zM311 301v1h1v-1zM312 290v1h1v-1zM312 299v2h1v-2zM313 291v1h1v-1zM313 299v1h1v-1zM314 291v1h1v-1zM314 300v1h1v-1zM315 290v1h1v-1zM315 301v1h1v-1zM316 291v1h1v-1zM316 299v2h1v-2zM317 291v1h1v-1zM317 300v1h1v-1zM318 300v1h1v-1zM319 290v1h1v-1zM319 301v1h1v-1zM320 289v1h1v-1zM320 301v1h1v-1zM321 290v1h1v-1zM321 300v1h1v-1zM322 290v3h1v-3zM323 289v1h1v-1zM323 301v1h1v-1zM324 290v1h1v-1zM324 300v2h1v-2zM325 290v1h1v-1zM325 301v1h1v-1zM326 272v2h1v-2zM326 279v2h1v-2zM326 289v1h1v-1zM326 301v1h1v-1zM327 272v2h1v-2zM327 279v2h1v-2zM327 289v1h1v-1zM327 301v1h1v-1zM328 299v1h1v-1zM329 291v2h1v-2zM329 297v1h1v-1zM329 299v1h1v-1zM330 292v1h1v-1zM330 299v1h1v-1zM331 291v1h1v-1zM331 300v1h1v-1zM332 300v1h1v-1zM333 291v1h1v-1zM333 300v1h1v-1zM334 290v2h1v-2zM334 300v1h1v-1zM335 291v1h1v-1zM336 290v1h1v-1zM336 301v1h1v-1zM337 291v1h1v-1zM337 299v1h1v-1zM338 290v1h1v-1zM338 301v1h1v-1zM340 300v1h1v-1zM341 290v1h1v-1zM341 301v1h1v-1zM342 290v1h1v-1zM342 301v1h1v-1zM343 290v1h1v-1zM343 301v1h1v-1zM344 300v1h1v-1zM345 291v1h1v-1zM346 290v1h1v-1zM347 291v1h1v-1zM347 300v1h1v-1zM348 290v1h1v-1zM348 300v1h1v-1zM349 289v1h1v-1zM349 301v1h1v-1zM350 290v1h1v-1zM350 301v1h1v-1zM351 290v1h1v-1zM351 300v2h1v-2zM352 292v1h1v-1zM353 290v2h1v-2zM353 299v1h1v-1zM354 290v2h1v-2zM355 289v1h1v-1zM355 301v1h1v-1zM357 290v1h1v-1zM357 300v1h1v-1zM358 300v1h1v-1zM359 289v1h1v-1zM359 301v1h1v-1zM360 292v1h1v-1zM360 298v2h1v-2zM361 289v1h1v-1zM361 301v1h1v-1zM363 290v1h1v-1zM364 291v1h1v-1zM364 299v2h1v-2zM366 299v1h1v-1zM367 291v1h1v-1zM368 300v1h1v-1zM369 289v1h1v-1zM369 301v1h1v-1zM370 289v1h1v-1zM370 301v1h1v-1zM371 290v1h1v-1zM371 301v1h1v-1zM372 291v1h1v-1zM372 300v1h1v-1zM373 291v1h1v-1zM373 300v1h1v-1zM374 290v1h1v-1zM374 301v1h1v-1zM375 300v1h1v-1zM376 299v2h1v-2zM377 300v1h1v-1zM378 300v1h1v-1zM379 291v1h1v-1zM380 291v1h1v-1zM380 299v2h1v-2zM381 291v1h1v-1zM381 300v1h1v-1zM383 290v1h1v-1zM383 301v1h1v-1zM384 290v1h1v-1zM384 301v1h1v-1zM385 290v1h1v-1zM385 300v1h1v-1zM386 290v1h1v-1zM386 301v1h1v-1zM387 290v2h1v-2zM388 291v1h1v-1zM389 292v1h1v-1zM389 299v1h1v-1zM390 291v1h1v-1zM390 300v1h1v-1z"/>
<path fill="#cdecfa" d="M32 288v1h1v-1zM33 302v1h1v-1zM35 288v1h1v-1zM36 288v1h1v-1zM36 303v1h1v-1zM39 302v1h1v-1zM40 289v1h1v-1zM41 290v5h1v-5zM41 300v1h1v-1zM46 301v1h1v-1zM49 297v1h1v-1zM50 301v1h1v-1zM52 301v1h1v-1zM53 301v1h1v-1zM56 301v1h1v-1zM57 301v1h1v-1zM58 297v1h1v-1zM62 297v1h1v-1zM63 297v2h1v-2zM63 300v1h1v-1zM67 301v1h1v-1zM69 297v1h1v-1zM71 297v1h1v-1zM74 301v1h1v-1zM77 300v1h1v-1zM78 301v1h1v-1zM81 297v1h1v-1zM82 297v1h1v-1zM82 301v1h1v-1zM85 301v1h1v-1zM86 297v1h1v-1zM89 301v1h1v-1zM90 301v1h1v-1zM92 297v1h1v-1zM92 301v1h1v-1zM94 297v1h1v-1zM94 301v1h1v-1zM97 301v1h1v-1zM99 297v1h1v-1zM103 297v1h1v-1zM103 301v1h1v-1zM106 297v1h1v-1zM112 297v2h1v-2zM113 301v1h1v-1zM115 297v1h1v-1zM116 297v1h1v-1zM116 301v1h1v-1zM118 301v1h1v-1zM120 297v1h1v-1zM120 301v1h1v-1zM121 297v1h1v-1zM125 297v1h1v-1zM127 297v1h1v-1zM129 297v1h1v-1zM129 301v1h1v-1zM130 297v1h1v-1zM131 297v1h1v-1zM131 301v1h1v-1zM135 297v1h1v-1zM137 297v1h1v-1zM137 301v1h1v-1zM138 297v1h1v-1zM138 301v1h1v-1zM143 297v1h1v-1zM144 301v1h1v-1zM146 291v1h1v-1zM146 295v1h1v-1zM147 289v1h1v-1zM147 297v1h1v-1zM151 289v1h1v-1zM153 288v1h1v-1zM154 288v1h1v-1zM154 298v1h1v-1zM155 288v1h1v-1zM155 298v1h1v-1zM156 289v1h1v-1zM159 289v1h1v-1zM159 297v1h1v-1zM160 298v1h1v-1zM161 289v1h1v-1zM163 289v1h1v-1zM164 289v1h1v-1zM165 289v1h1v-1zM165 297v1h1v-1zM166 290v1h1v-1zM166 296v1h1v-1zM167 297v1h1v-1zM168 298v2h1v-2zM169 287v1h1v-1zM170 299v1h1v-1zM171 287v1h1v-1zM172 299v1h1v-1zM174 299v1h1v-1zM174 301v1h1v-1zM176 299v2h1v-2zM177 288v1h1v-1zM178 299v2h1v-2zM179 287v1h1v-1zM180 287v1h1v-1zM181 299v1h1v-1zM182 287v1h1v-1zM182 299v1h1v-1zM183 287v1h1v-1zM183 299v1h1v-1zM184 299v1h1v-1zM185 299v1h1v-1zM186 299v2h1v-2zM187 299v1h1v-1zM188 299v1h1v-1zM189 299v1h1v-1zM190 288v1h1v-1zM190 299v1h1v-1zM191 287v1h1v-1zM191 299v1h1v-1zM194 299v1h1v-1zM195 299v1h1v-1zM196 299v1h1v-1zM197 299v1h1v-1zM198 299v2h1v-2zM199 287v1h1v-1zM199 299v1h1v-1zM199 301v1h1v-1zM200 299v2h1v-2zM201 287v1h1v-1zM201 299v1h1v-1zM202 287v1h1v-1zM202 299v1h1v-1zM202 301v1h1v-1zM203 299v1h1v-1zM204 299v1h1v-1zM205 287v1h1v-1zM207 299v1h1v-1zM208 299v1h1v-1zM209 299v1h1v-1zM210 287v1h1v-1zM210 299v1h1v-1zM212 288v1h1v-1zM212 299v1h1v-1zM212 301v1h1v-1zM213 299v2h1v-2zM214 288v1h1v-1zM214 299v1h1v-1zM215 299v2h1v-2zM216 287v1h1v-1zM216 299v1h1v-1zM216 301v1h1v-1zM217 288v1h1v-1zM218 287v1h1v-1zM218 299v1h1v-1zM219 299v1h1v-1zM220 288v1h1v-1zM220 299v1h1v-1zM221 299v1h1v-1zM222 299v1h1v-1zM223 299v1h1v-1zM223 301v1h1v-1zM224 288v1h1v-1zM224 299v1h1v-1zM225 299v2h1v-2zM226 287v1h1v-1zM226 299v1h1v-1zM227 299v2h1v-2zM229 287v1h1v-1zM230 299v1h1v-1zM231 288v1h1v-1zM231 299v1h1v-1zM232 299v2h1v-2zM233 288v1h1v-1zM234 299v2h1v-2zM236 299v1h1v-1zM237 299v1h1v-1zM238 299v1h1v-1zM239 287v1h1v-1zM240 287v1h1v-1zM240 299v1h1v-1zM241 299v1h1v-1zM242 299v2h1v-2zM243 299v1h1v-1zM244 299v1h1v-1zM245 299v1h1v-1zM245 301v1h1v-1zM246 287v1h1v-1zM247 287v1h1v-1zM247 299v1h1v-1zM249 287v1h1v-1zM250 301v1h1v-1zM251 301v1h1v-1zM253 301v1h1v-1zM257 287v1h1v-1zM257 301v1h1v-1zM261 300v1h1v-1zM263 287v1h1v-1zM263 300v1h1v-1zM265 287v1h1v-1zM267 300v1h1v-1zM269 287v1h1v-1zM269 301v1h1v-1zM270 300v1h1v-1zM271 288v1h1v-1zM271 300v1h1v-1zM272 287v1h1v-1zM274 300v1h1v-1zM277 301v1h1v-1zM278 287v1h1v-1zM278 300v1h1v-1zM280 289v2h1v-2zM282 298v2h1v-2zM284 297v1h1v-1zM284 300v1h1v-1zM288 298v2h1v-2zM290 298v2h1v-2zM292 298v2h1v-2zM297 297v1h1v-1zM297 300v1h1v-1zM298 298v2h1v-2zM301 292v1h1v-1zM301 299v1h1v-1zM303 300v1h1v-1zM304 290v1h1v-1zM304 300v1h1v-1zM306 290v1h1v-1zM306 300v1h1v-1zM308 290v1h1v-1zM308 300v1h1v-1zM310 297v2h1v-2zM311 290v1h1v-1zM311 300v1h1v-1zM312 291v1h1v-1zM314 292v1h1v-1zM314 299v1h1v-1zM315 291v1h1v-1zM315 299v2h1v-2zM316 292v1h1v-1zM316 297v2h1v-2zM317 298v2h1v-2zM318 291v1h1v-1zM318 298v2h1v-2zM319 291v1h1v-1zM319 300v1h1v-1zM320 290v1h1v-1zM320 300v1h1v-1zM323 290v1h1v-1zM323 300v1h1v-1zM324 299v1h1v-1zM325 300v1h1v-1zM326 274v5h1v-5zM326 290v1h1v-1zM327 274v5h1v-5zM327 290v1h1v-1zM327 300v1h1v-1zM328 291v1h1v-1zM329 293v1h1v-1zM330 297v2h1v-2zM331 292v1h1v-1zM331 298v2h1v-2zM332 291v1h1v-1zM332 299v1h1v-1zM333 299v1h1v-1zM334 298v2h1v-2zM336 291v1h1v-1zM336 299v2h1v-2zM337 295v1h1v-1zM338 291v1h1v-1zM338 299v2h1v-2zM341 300v1h1v-1zM342 300v1h1v-1zM343 291v1h1v-1zM343 300v1h1v-1zM344 291v1h1v-1zM344 297v1h1v-1zM345 298v2h1v-2zM346 291v1h1v-1zM346 300v1h1v-1zM347 298v2h1v-2zM348 291v1h1v-1zM348 299v1h1v-1zM349 290v1h1v-1zM349 300v1h1v-1zM350 291v1h1v-1zM350 300v1h1v-1zM351 291v1h1v-1zM351 299v1h1v-1zM352 291v1h1v-1zM352 293v1h1v-1zM354 299v1h1v-1zM355 290v1h1v-1zM357 299v1h1v-1zM359 290v1h1v-1zM359 300v1h1v-1zM361 290v1h1v-1zM361 300v1h1v-1zM363 299v2h1v-2zM365 291v1h1v-1zM365 299v2h1v-2zM366 300v1h1v-1zM367 290v1h1v-1zM368 290v1h1v-1zM369 290v1h1v-1zM370 290v1h1v-1zM370 300v1h1v-1zM371 291v1h1v-1zM371 300v1h1v-1zM372 292v1h1v-1zM372 298v2h1v-2zM373 292v1h1v-1zM373 298v2h1v-2zM374 291v1h1v-1zM374 300v1h1v-1zM376 291v1h1v-1zM377 291v2h1v-2zM377 298v1h1v-1zM378 298v2h1v-2zM379 299v1h1v-1zM380 292v1h1v-1zM380 297v2h1v-2zM381 292v1h1v-1zM381 298v2h1v-2zM382 290v1h1v-1zM382 300v1h1v-1zM383 291v1h1v-1zM383 299v2h1v-2zM384 291v1h1v-1zM384 299v2h1v-2zM385 292v1h1v-1zM385 299v1h1v-1zM386 299v2h1v-2zM387 298v2h1v-2zM388 298v2h1v-2zM389 291v1h1v-1zM389 293v1h1v-1zM390 292v1h1v-1zM390 298v2h1v-2z"/>
<path fill="#bceaf8" d="M30 302v1h1v-1zM40 300v1h1v-1zM41 298v1h1v-1zM47 297v1h1v-1zM49 298v1h1v-1zM51 297v1h1v-1zM54 301v1h1v-1zM59 297v1h1v-1zM59 301v1h1v-1zM64 298v1h1v-1zM73 298v1h1v-1zM73 300v1h1v-1zM76 299v1h1v-1zM77 298v1h1v-1zM79 297v1h1v-1zM79 301v1h1v-1zM80 301v1h1v-1zM83 301v1h1v-1zM84 301v1h1v-1zM87 297v1h1v-1zM91 301v1h1v-1zM93 297v1h1v-1zM96 297v1h1v-1zM106 301v1h1v-1zM109 301v1h1v-1zM110 301v1h1v-1zM112 300v1h1v-1zM114 297v1h1v-1zM114 301v1h1v-1zM115 301v1h1v-1zM119 301v1h1v-1zM121 301v1h1v-1zM123 298v1h1v-1zM126 300v1h1v-1zM127 301v1h1v-1zM128 301v1h1v-1zM130 301v1h1v-1zM132 297v1h1v-1zM132 301v1h1v-1zM143 301v1h1v-1zM145 300v1h1v-1zM146 294v1h1v-1zM148 289v1h1v-1zM150 289v1h1v-1zM151 297v1h1v-1zM154 289v1h1v-1zM155 289v1h1v-1zM156 297v1h1v-1zM157 289v1h1v-1zM158 289v1h1v-1zM158 297v1h1v-1zM160 289v1h1v-1zM162 289v1h1v-1zM162 297v1h1v-1zM167 288v1h1v-1zM168 301v1h1v-1zM169 298v1h1v-1zM170 288v1h1v-1zM170 298v1h1v-1zM171 298v2h1v-2zM172 298v1h1v-1zM173 288v1h1v-1zM173 298v2h1v-2zM173 301v1h1v-1zM174 298v1h1v-1zM174 300v1h1v-1zM175 298v2h1v-2zM176 298v1h1v-1zM177 298v2h1v-2zM177 301v1h1v-1zM178 298v1h1v-1zM179 298v2h1v-2zM180 298v2h1v-2zM180 301v1h1v-1zM181 298v1h1v-1zM182 298v1h1v-1zM183 298v1h1v-1zM184 298v1h1v-1zM185 298v1h1v-1zM186 298v1h1v-1zM187 298v1h1v-1zM187 301v1h1v-1zM188 298v1h1v-1zM189 288v1h1v-1zM189 298v1h1v-1zM190 298v1h1v-1zM191 298v1h1v-1zM192 298v2h1v-2zM193 298v2h1v-2zM193 301v1h1v-1zM194 298v1h1v-1zM194 301v1h1v-1zM195 288v1h1v-1zM195 298v1h1v-1zM195 301v1h1v-1zM196 288v1h1v-1zM196 298v1h1v-1zM197 298v1h1v-1zM198 288v1h1v-1zM198 298v1h1v-1zM199 298v1h1v-1zM199 300v1h1v-1zM200 298v1h1v-1zM201 298v1h1v-1zM202 298v1h1v-1zM202 300v1h1v-1zM203 288v1h1v-1zM203 298v1h1v-1zM203 301v1h1v-1zM204 298v1h1v-1zM204 301v1h1v-1zM205 298v2h1v-2zM205 301v1h1v-1zM206 298v2h1v-2zM206 301v1h1v-1zM207 298v1h1v-1zM208 298v1h1v-1zM209 288v1h1v-1zM209 298v1h1v-1zM210 298v1h1v-1zM210 301v1h1v-1zM211 288v1h1v-1zM211 298v2h1v-2zM211 301v1h1v-1zM212 298v1h1v-1zM212 300v1h1v-1zM213 298v1h1v-1zM214 298v1h1v-1zM215 298v1h1v-1zM216 298v1h1v-1zM216 300v1h1v-1zM217 298v2h1v-2zM218 298v1h1v-1zM219 298v1h1v-1zM220 298v1h1v-1zM220 301v1h1v-1zM221 298v1h1v-1zM221 301v1h1v-1zM222 298v1h1v-1zM223 288v1h1v-1zM223 298v1h1v-1zM223 300v1h1v-1zM224 298v1h1v-1zM225 298v1h1v-1zM226 298v1h1v-1zM227 288v1h1v-1zM227 298v1h1v-1zM228 298v2h1v-2zM228 301v1h1v-1zM229 298v2h1v-2zM230 298v1h1v-1zM230 301v1h1v-1zM231 298v1h1v-1zM231 301v1h1v-1zM232 298v1h1v-1zM233 298v2h1v-2zM234 298v1h1v-1zM235 298v2h1v-2zM235 301v1h1v-1zM236 298v1h1v-1zM237 288v1h1v-1zM237 298v1h1v-1zM238 298v1h1v-1zM239 298v2h1v-2zM240 298v1h1v-1zM240 301v1h1v-1zM241 298v1h1v-1zM242 288v1h1v-1zM242 298v1h1v-1zM243 298v1h1v-1zM244 288v1h1v-1zM244 298v1h1v-1zM245 298v1h1v-1zM245 300v1h1v-1zM246 298v2h1v-2zM246 301v1h1v-1zM247 298v1h1v-1zM248 288v1h1v-1zM248 300v1h1v-1zM250 299v2h1v-2zM251 299v2h1v-2zM252 301v1h1v-1zM253 299v2h1v-2zM254 299v1h1v-1zM254 301v1h1v-1zM256 301v1h1v-1zM257 299v2h1v-2zM258 288v1h1v-1zM260 299v1h1v-1zM260 301v1h1v-1zM261 288v1h1v-1zM261 299v1h1v-1zM263 299v1h1v-1zM264 299v1h1v-1zM264 301v1h1v-1zM266 288v1h1v-1zM267 299v1h1v-1zM268 299v1h1v-1zM268 301v1h1v-1zM270 299v1h1v-1zM271 299v1h1v-1zM272 301v1h1v-1zM273 301v1h1v-1zM275 301v1h1v-1zM276 288v1h1v-1zM277 299v2h1v-2zM278 299v1h1v-1zM284 298v2h1v-2zM297 298v2h1v-2zM301 294v1h1v-1zM301 296v3h1v-3zM302 291v2h1v-2zM302 299v1h1v-1zM303 290v2h1v-2zM303 299v1h1v-1zM304 291v2h1v-2zM304 299v1h1v-1zM305 291v1h1v-1zM305 299v1h1v-1zM306 291v1h1v-1zM307 298v1h1v-1zM308 291v1h1v-1zM308 299v1h1v-1zM309 298v1h1v-1zM310 292v1h1v-1zM311 291v1h1v-1zM311 299v1h1v-1zM315 292v1h1v-1zM317 294v1h1v-1zM317 296v1h1v-1zM318 292v1h1v-1zM319 292v1h1v-1zM319 298v2h1v-2zM320 291v1h1v-1zM320 299v1h1v-1zM322 298v2h1v-2zM323 291v2h1v-2zM323 299v1h1v-1zM324 291v2h1v-2zM324 298v1h1v-1zM325 299v1h1v-1zM326 291v1h1v-1zM326 300v1h1v-1zM327 291v1h1v-1zM328 297v2h1v-2zM329 295v2h1v-2zM329 298v1h1v-1zM331 297v1h1v-1zM332 292v1h1v-1zM333 292v3h1v-3zM333 296v1h1v-1zM333 298v1h1v-1zM334 294v1h1v-1zM335 293v1h1v-1zM335 298v2h1v-2zM336 292v1h1v-1zM336 298v1h1v-1zM337 296v2h1v-2zM339 291v1h1v-1zM340 292v1h1v-1zM340 294v1h1v-1zM340 298v2h1v-2zM342 291v1h1v-1zM342 299v1h1v-1zM343 292v1h1v-1zM343 299v1h1v-1zM344 294v1h1v-1zM344 299v1h1v-1zM345 293v1h1v-1zM346 298v2h1v-2zM347 294v2h1v-2zM347 297v1h1v-1zM348 292v3h1v-3zM348 296v3h1v-3zM349 291v1h1v-1zM349 299v1h1v-1zM350 292v1h1v-1zM350 299v1h1v-1zM351 292v1h1v-1zM351 298v1h1v-1zM352 299v1h1v-1zM353 298v1h1v-1zM354 300v1h1v-1zM355 299v2h1v-2zM356 299v1h1v-1zM357 291v3h1v-3zM358 291v1h1v-1zM359 291v1h1v-1zM359 299v1h1v-1zM361 291v2h1v-2zM361 299v1h1v-1zM362 291v1h1v-1zM362 299v1h1v-1zM363 291v1h1v-1zM366 291v2h1v-2zM367 292v1h1v-1zM367 298v1h1v-1zM367 300v1h1v-1zM369 299v2h1v-2zM370 291v1h1v-1zM370 299v1h1v-1zM373 294v4h1v-4zM374 292v1h1v-1zM374 299v1h1v-1zM375 291v1h1v-1zM375 299v1h1v-1zM377 299v1h1v-1zM378 291v1h1v-1zM378 294v1h1v-1zM379 298v1h1v-1zM382 293v1h1v-1zM382 299v1h1v-1zM383 292v2h1v-2zM384 292v1h1v-1zM384 298v1h1v-1zM385 291v1h1v-1zM385 298v1h1v-1zM386 291v1h1v-1zM386 293v1h1v-1zM388 296v1h1v-1zM389 298v1h1v-1zM390 294v2h1v-2z"/>
<path fill="#ace8f6" d="M26 290v2h1v-2zM26 293v1h1v-1zM28 302v1h1v-1zM30 289v1h1v-1zM31 289v1h1v-1zM31 301v1h1v-1zM32 302v1h1v-1zM47 301v1h1v-1zM51 301v1h1v-1zM58 301v1h1v-1zM61 298v1h1v-1zM63 299v1h1v-1zM64 300v1h1v-1zM70 298v1h1v-1zM71 298v1h1v-1zM72 298v1h1v-1zM72 300v1h1v-1zM76 300v1h1v-1zM81 298v1h1v-1zM88 297v1h1v-1zM93 301v1h1v-1zM95 301v1h1v-1zM96 301v1h1v-1zM108 298v1h1v-1zM123 300v1h1v-1zM126 298v1h1v-1zM134 298v1h1v-1zM136 298v1h1v-1zM141 298v1h1v-1zM146 292v2h1v-2zM147 290v1h1v-1zM147 296v1h1v-1zM149 289v1h1v-1zM151 290v1h1v-1zM152 289v1h1v-1zM152 297v1h1v-1zM153 289v1h1v-1zM153 297v1h1v-1zM155 297v1h1v-1zM163 297v1h1v-1zM164 297v1h1v-1zM166 292v2h1v-2zM166 295v1h1v-1zM167 291v1h1v-1zM168 288v1h1v-1zM168 300v1h1v-1zM171 301v1h1v-1zM172 288v1h1v-1zM173 300v1h1v-1zM175 301v1h1v-1zM176 288v1h1v-1zM177 291v1h1v-1zM179 301v1h1v-1zM180 300v1h1v-1zM186 288v1h1v-1zM187 300v1h1v-1zM189 291v1h1v-1zM190 291v1h1v-1zM192 301v1h1v-1zM194 300v1h1v-1zM195 300v1h1v-1zM196 291v1h1v-1zM197 288v1h1v-1zM198 291v1h1v-1zM203 291v1h1v-1zM203 300v1h1v-1zM204 300v1h1v-1zM205 300v1h1v-1zM206 288v1h1v-1zM208 288v1h1v-1zM209 291v1h1v-1zM210 300v1h1v-1zM211 291v1h1v-1zM211 300v1h1v-1zM212 291v1h1v-1zM214 291v1h1v-1zM215 288v1h1v-1zM217 291v1h1v-1zM217 301v1h1v-1zM220 291v1h1v-1zM220 300v1h1v-1zM221 300v1h1v-1zM222 288v1h1v-1zM224 291v1h1v-1zM227 291v1h1v-1zM228 288v1h1v-1zM228 300v1h1v-1zM229 301v1h1v-1zM230 300v1h1v-1zM231 291v1h1v-1zM231 300v1h1v-1zM232 288v1h1v-1zM233 291v1h1v-1zM233 301v1h1v-1zM234 288v1h1v-1zM235 288v1h1v-1zM235 300v1h1v-1zM236 288v1h1v-1zM239 301v1h1v-1zM240 300v1h1v-1zM244 291v1h1v-1zM246 300v1h1v-1zM249 300v1h1v-1zM250 288v1h1v-1zM252 288v1h1v-1zM254 288v1h1v-1zM255 301v1h1v-1zM258 301v1h1v-1zM259 288v1h1v-1zM260 288v1h1v-1zM262 301v1h1v-1zM264 288v1h1v-1zM264 300v1h1v-1zM265 300v1h1v-1zM266 300v1h1v-1zM268 288v1h1v-1zM268 300v1h1v-1zM270 288v1h1v-1zM273 300v1h1v-1zM274 299v1h1v-1zM275 288v1h1v-1zM275 300v1h1v-1zM301 295v1h1v-1zM305 292v1h1v-1zM305 297v1h1v-1zM306 292v1h1v-1zM307 291v1h1v-1zM308 293v1h1v-1zM308 298v1h1v-1zM309 292v1h1v-1zM311 293v1h1v-1zM312 298v1h1v-1zM313 293v1h1v-1zM313 297v1h1v-1zM315 294v1h1v-1zM315 296v3h1v-3zM316 293v1h1v-1zM317 292v1h1v-1zM319 297v1h1v-1zM320 293v1h1v-1zM320 298v1h1v-1zM321 291v2h1v-2zM323 294v1h1v-1zM323 298v1h1v-1zM325 291v1h1v-1zM326 292v1h1v-1zM328 292v1h1v-1zM330 293v1h1v-1zM331 293v2h1v-2zM332 298v1h1v-1zM334 297v1h1v-1zM335 296v1h1v-1zM336 294v1h1v-1zM336 297v1h1v-1zM337 292v1h1v-1zM337 294v1h1v-1zM337 298v1h1v-1zM338 297v1h1v-1zM340 291v1h1v-1zM341 291v1h1v-1zM341 297v1h1v-1zM341 299v1h1v-1zM342 297v2h1v-2zM343 293v2h1v-2zM343 296v1h1v-1zM343 298v1h1v-1zM344 293v1h1v-1zM344 295v1h1v-1zM344 298v1h1v-1zM345 292v1h1v-1zM345 296v1h1v-1zM346 296v1h1v-1zM347 292v2h1v-2zM348 295v1h1v-1zM349 292v1h1v-1zM349 298v1h1v-1zM350 298v1h1v-1zM351 296v1h1v-1zM352 294v5h1v-5zM353 295v1h1v-1zM357 294v2h1v-2zM358 299v1h1v-1zM359 292v2h1v-2zM359 298v1h1v-1zM360 297v1h1v-1zM361 293v1h1v-1zM361 297v2h1v-2zM362 292v1h1v-1zM363 297v2h1v-2zM364 292v2h1v-2zM365 293v1h1v-1zM365 296v1h1v-1zM366 293v2h1v-2zM367 299v1h1v-1zM368 291v1h1v-1zM369 291v1h1v-1zM369 298v1h1v-1zM370 298v1h1v-1zM371 292v1h1v-1zM371 298v2h1v-2zM372 297v1h1v-1zM373 293v1h1v-1zM374 293v1h1v-1zM374 297v2h1v-2zM375 295v1h1v-1zM376 292v1h1v-1zM376 294v1h1v-1zM376 296v3h1v-3zM377 293v1h1v-1zM377 297v1h1v-1zM378 293v1h1v-1zM379 292v1h1v-1zM379 294v1h1v-1zM379 297v1h1v-1zM382 291v1h1v-1zM383 295v2h1v-2zM384 294v4h1v-4zM385 293v1h1v-1zM387 295v2h1v-2zM388 295v1h1v-1zM390 297v1h1v-1z"/>
<path fill="#a6e8ed" d="M26 292v1h1v-1zM26 300v1h1v-1zM27 301v1h1v-1zM29 302v1h1v-1zM33 289v1h1v-1zM33 301v1h1v-1zM34 289v1h1v-1zM35 302v1h1v-1zM37 301v1h1v-1zM38 289v1h1v-1zM38 302v1h1v-1zM39 289v1h1v-1zM39 301v1h1v-1zM40 299v1h1v-1zM41 299v1h1v-1zM42 298v1h1v-1zM43 298v1h1v-1zM49 300v1h1v-1zM55 298v1h1v-1zM65 298v1h1v-1zM69 298v1h1v-1zM87 301v1h1v-1zM98 300v1h1v-1zM100 298v1h1v-1zM107 298v1h1v-1zM112 299v1h1v-1zM117 298v1h1v-1zM125 298v1h1v-1zM125 300v1h1v-1zM133 298v1h1v-1zM140 298v1h1v-1zM140 300v1h1v-1zM148 290v1h1v-1zM148 297v1h1v-1zM149 297v1h1v-1zM150 297v1h1v-1zM154 297v1h1v-1zM156 296v1h1v-1zM157 290v1h1v-1zM157 297v1h1v-1zM158 290v1h1v-1zM159 290v1h1v-1zM159 296v1h1v-1zM160 297v1h1v-1zM161 290v1h1v-1zM161 297v1h1v-1zM162 296v1h1v-1zM163 290v1h1v-1zM164 290v1h1v-1zM166 291v1h1v-1zM166 294v1h1v-1zM167 292v1h1v-1zM168 297v1h1v-1zM170 291v1h1v-1zM171 300v1h1v-1zM172 291v1h1v-1zM173 291v1h1v-1zM173 297v1h1v-1zM174 297v1h1v-1zM175 288v1h1v-1zM175 297v1h1v-1zM175 300v1h1v-1zM176 297v1h1v-1zM177 289v1h1v-1zM177 297v1h1v-1zM177 300v1h1v-1zM178 297v1h1v-1zM179 297v1h1v-1zM179 300v1h1v-1zM180 297v1h1v-1zM184 297v1h1v-1zM185 288v1h1v-1zM185 297v1h1v-1zM187 297v1h1v-1zM188 297v1h1v-1zM190 289v1h1v-1zM192 288v1h1v-1zM192 300v1h1v-1zM193 288v1h1v-1zM193 300v1h1v-1zM194 297v1h1v-1zM195 291v1h1v-1zM195 297v1h1v-1zM196 297v1h1v-1zM197 291v1h1v-1zM197 297v1h1v-1zM198 297v1h1v-1zM202 297v1h1v-1zM204 297v1h1v-1zM206 300v1h1v-1zM207 288v1h1v-1zM207 297v1h1v-1zM210 297v1h1v-1zM213 297v1h1v-1zM214 289v1h1v-1zM214 297v1h1v-1zM215 291v1h1v-1zM216 297v1h1v-1zM217 289v1h1v-1zM217 297v1h1v-1zM217 300v1h1v-1zM220 289v1h1v-1zM220 297v1h1v-1zM221 288v1h1v-1zM223 291v1h1v-1zM223 297v1h1v-1zM224 289v1h1v-1zM224 297v1h1v-1zM225 288v1h1v-1zM225 297v1h1v-1zM226 297v1h1v-1zM227 297v1h1v-1zM229 297v1h1v-1zM229 300v1h1v-1zM230 288v1h1v-1zM231 289v1h1v-1zM232 291v1h1v-1zM232 297v1h1v-1zM233 289v1h1v-1zM233 297v1h1v-1zM233 300v1h1v-1zM235 291v1h1v-1zM235 297v1h1v-1zM236 291v1h1v-1zM236 297v1h1v-1zM237 291v1h1v-1zM238 297v1h1v-1zM239 297v1h1v-1zM239 300v1h1v-1zM240 297v1h1v-1zM241 297v1h1v-1zM242 291v1h1v-1zM243 297v1h1v-1zM244 297v1h1v-1zM245 297v1h1v-1zM246 297v1h1v-1zM254 300v1h1v-1zM256 300v1h1v-1zM258 300v1h1v-1zM260 300v1h1v-1zM267 288v1h1v-1zM271 289v1h1v-1zM273 288v1h1v-1zM274 288v1h1v-1zM277 288v1h1v-1zM279 300v1h1v-1zM301 293v1h1v-1zM302 298v1h1v-1zM303 292v1h1v-1zM306 299v1h1v-1zM307 299v1h1v-1zM308 292v1h1v-1zM308 294v1h1v-1zM309 293v1h1v-1zM309 296v2h1v-2zM310 293v1h1v-1zM311 292v1h1v-1zM311 297v2h1v-2zM312 297v1h1v-1zM313 295v2h1v-2zM314 295v1h1v-1zM315 295v1h1v-1zM316 295v2h1v-2zM317 293v1h1v-1zM317 295v1h1v-1zM317 297v1h1v-1zM318 297v1h1v-1zM320 292v1h1v-1zM320 296v2h1v-2zM321 297v1h1v-1zM321 299v1h1v-1zM322 294v1h1v-1zM322 297v1h1v-1zM323 293v1h1v-1zM323 295v3h1v-3zM324 293v1h1v-1zM324 296v1h1v-1zM325 294v1h1v-1zM326 298v2h1v-2zM327 292v1h1v-1zM330 294v1h1v-1zM331 296v1h1v-1zM332 296v1h1v-1zM333 297v1h1v-1zM334 292v2h1v-2zM336 295v2h1v-2zM337 293v1h1v-1zM338 292v1h1v-1zM338 298v1h1v-1zM339 299v1h1v-1zM340 297v1h1v-1zM341 293v1h1v-1zM341 295v1h1v-1zM342 292v1h1v-1zM344 292v1h1v-1zM349 297v1h1v-1zM350 297v1h1v-1zM351 293v1h1v-1zM351 297v1h1v-1zM353 292v1h1v-1zM353 294v1h1v-1zM353 297v1h1v-1zM354 297v1h1v-1zM355 291v1h1v-1zM355 294v1h1v-1zM356 292v1h1v-1zM356 297v2h1v-2zM357 298v1h1v-1zM358 297v1h1v-1zM359 297v1h1v-1zM361 296v1h1v-1zM362 293v1h1v-1zM362 297v2h1v-2zM363 294v2h1v-2zM364 297v1h1v-1zM367 294v1h1v-1zM368 293v1h1v-1zM368 299v1h1v-1zM369 293v1h1v-1zM369 296v2h1v-2zM375 292v1h1v-1zM375 298v1h1v-1zM378 292v1h1v-1zM378 295v1h1v-1zM380 293v1h1v-1zM380 296v1h1v-1zM382 296v3h1v-3zM383 298v1h1v-1zM384 293v1h1v-1zM386 292v1h1v-1zM386 296v1h1v-1zM387 292v1h1v-1zM388 292v2h1v-2zM389 295v1h1v-1z"/>
<path fill="#a0e8e4" d="M26 294v1h1v-1zM27 289v1h1v-1zM27 299v2h1v-2zM29 289v1h1v-1zM32 289v1h1v-1zM33 299v1h1v-1zM34 302v1h1v-1zM37 289v1h1v-1zM37 300v1h1v-1zM40 298v1h1v-1zM42 300v1h1v-1zM44 298v1h1v-1zM45 298v1h1v-1zM48 300v1h1v-1zM49 299v1h1v-1zM55 300v1h1v-1zM56 298v1h1v-1zM62 300v1h1v-1zM66 298v1h1v-1zM67 298v1h1v-1zM69 300v1h1v-1zM70 300v1h1v-1zM75 300v1h1v-1zM77 299v1h1v-1zM78 300v1h1v-1zM82 298v1h1v-1zM82 300v1h1v-1zM88 301v1h1v-1zM98 298v1h1v-1zM99 298v1h1v-1zM101 298v1h1v-1zM102 298v1h1v-1zM104 298v1h1v-1zM105 298v1h1v-1zM108 300v1h1v-1zM109 298v1h1v-1zM111 298v1h1v-1zM111 300v1h1v-1zM113 298v1h1v-1zM120 298v1h1v-1zM123 299v1h1v-1zM124 298v1h1v-1zM135 298v1h1v-1zM135 300v1h1v-1zM140 299v1h1v-1zM145 299v1h1v-1zM147 291v1h1v-1zM148 296v1h1v-1zM149 290v1h1v-1zM150 290v1h1v-1zM151 296v1h1v-1zM152 290v1h1v-1zM154 290v1h1v-1zM155 290v1h1v-1zM156 290v1h1v-1zM158 296v1h1v-1zM162 290v1h1v-1zM163 296v1h1v-1zM164 296v1h1v-1zM165 290v1h1v-1zM165 296v1h1v-1zM167 289v2h1v-2zM168 291v1h1v-1zM169 297v1h1v-1zM170 297v1h1v-1zM171 297v1h1v-1zM172 297v1h1v-1zM174 288v1h1v-1zM176 291v1h1v-1zM177 290v1h1v-1zM178 288v1h1v-1zM181 288v1h1v-1zM181 297v1h1v-1zM182 297v1h1v-1zM183 297v1h1v-1zM184 288v1h1v-1zM185 291v1h1v-1zM186 291v1h1v-1zM186 297v1h1v-1zM187 288v1h1v-1zM188 288v1h1v-1zM189 289v2h1v-2zM189 297v1h1v-1zM190 290v1h1v-1zM190 297v1h1v-1zM191 297v1h1v-1zM192 297v1h1v-1zM193 297v1h1v-1zM194 288v1h1v-1zM196 289v2h1v-2zM198 289v2h1v-2zM199 297v1h1v-1zM200 288v1h1v-1zM200 297v1h1v-1zM201 297v1h1v-1zM203 289v2h1v-2zM203 297v1h1v-1zM204 288v1h1v-1zM205 297v1h1v-1zM206 291v1h1v-1zM206 297v1h1v-1zM207 291v1h1v-1zM208 291v1h1v-1zM208 297v1h1v-1zM209 289v2h1v-2zM209 297v1h1v-1zM211 289v2h1v-2zM211 297v1h1v-1zM212 289v2h1v-2zM212 297v1h1v-1zM213 288v1h1v-1zM214 290v1h1v-1zM215 297v1h1v-1zM217 290v1h1v-1zM218 297v1h1v-1zM219 288v1h1v-1zM219 297v1h1v-1zM220 290v1h1v-1zM221 297v1h1v-1zM222 291v1h1v-1zM222 297v1h1v-1zM224 290v1h1v-1zM227 289v2h1v-2zM228 291v1h1v-1zM228 297v1h1v-1zM230 297v1h1v-1zM231 290v1h1v-1zM231 297v1h1v-1zM233 290v1h1v-1zM234 291v1h1v-1zM234 297v1h1v-1zM237 289v1h1v-1zM237 297v1h1v-1zM238 288v1h1v-1zM241 288v1h1v-1zM242 297v1h1v-1zM243 288v1h1v-1zM244 289v2h1v-2zM245 288v1h1v-1zM250 298v1h1v-1zM251 288v1h1v-1zM253 288v1h1v-1zM255 288v1h1v-1zM255 300v1h1v-1zM256 288v1h1v-1zM258 289v1h1v-1zM259 300v1h1v-1zM261 289v1h1v-1zM262 288v1h1v-1zM266 289v1h1v-1zM271 290v1h1v-1zM272 300v1h1v-1zM276 300v1h1v-1zM278 298v1h1v-1zM302 293v1h1v-1zM302 297v1h1v-1zM303 298v1h1v-1zM306 293v2h1v-2zM307 294v1h1v-1zM307 297v1h1v-1zM308 296v1h1v-1zM310 296v1h1v-1zM312 292v2h1v-2zM312 296v1h1v-1zM313 292v1h1v-1zM313 298v1h1v-1zM314 294v1h1v-1zM315 293v1h1v-1zM316 294v1h1v-1zM318 293v1h1v-1zM318 296v1h1v-1zM319 293v1h1v-1zM319 296v1h1v-1zM321 293v1h1v-1zM321 295v2h1v-2zM321 298v1h1v-1zM322 293v1h1v-1zM322 295v1h1v-1zM325 292v1h1v-1zM325 296v1h1v-1zM326 294v1h1v-1zM327 299v1h1v-1zM329 294v1h1v-1zM330 295v2h1v-2zM332 294v1h1v-1zM333 295v1h1v-1zM334 296v1h1v-1zM338 293v1h1v-1zM339 293v1h1v-1zM340 296v1h1v-1zM341 296v1h1v-1zM341 298v1h1v-1zM343 295v1h1v-1zM343 297v1h1v-1zM344 296v1h1v-1zM345 294v1h1v-1zM345 297v1h1v-1zM346 292v1h1v-1zM346 295v1h1v-1zM349 293v1h1v-1zM349 296v1h1v-1zM350 293v1h1v-1zM350 296v1h1v-1zM351 294v1h1v-1zM354 298v1h1v-1zM355 292v1h1v-1zM355 297v1h1v-1zM356 294v1h1v-1zM358 298v1h1v-1zM359 296v1h1v-1zM363 292v1h1v-1zM365 292v1h1v-1zM365 297v2h1v-2zM368 292v1h1v-1zM368 298v1h1v-1zM369 292v1h1v-1zM370 292v1h1v-1zM370 297v1h1v-1zM371 297v1h1v-1zM374 295v1h1v-1zM376 295v1h1v-1zM377 294v1h1v-1zM379 293v1h1v-1zM381 293v1h1v-1zM381 297v1h1v-1zM382 292v1h1v-1zM385 294v2h1v-2zM386 295v1h1v-1zM386 297v2h1v-2zM387 293v1h1v-1zM389 294v1h1v-1zM389 296v2h1v-2zM390 293v1h1v-1zM390 296v1h1v-1z"/>
<path fill="#9ee6d1" d="M26 295v1h1v-1zM28 289v1h1v-1zM29 296v1h1v-1zM30 301v1h1v-1zM31 300v1h1v-1zM33 300v1h1v-1zM35 289v1h1v-1zM36 289v1h1v-1zM36 302v1h1v-1zM43 300v1h1v-1zM44 300v1h1v-1zM48 298v1h1v-1zM50 300v1h1v-1zM60 298v1h1v-1zM61 300v1h1v-1zM62 298v1h1v-1zM64 299v1h1v-1zM65 300v1h1v-1zM67 300v1h1v-1zM71 300v1h1v-1zM75 298v1h1v-1zM78 298v1h1v-1zM81 299v2h1v-2zM86 298v1h1v-1zM94 298v1h1v-1zM99 300v1h1v-1zM101 300v1h1v-1zM104 300v1h1v-1zM117 300v1h1v-1zM120 300v1h1v-1zM121 298v1h1v-1zM122 298v1h1v-1zM131 298v1h1v-1zM136 300v1h1v-1zM137 298v1h1v-1zM139 298v1h1v-1zM141 299v1h1v-1zM144 300v1h1v-1zM147 292v1h1v-1zM147 295v1h1v-1zM148 291v1h1v-1zM149 296v1h1v-1zM151 295v1h1v-1zM152 296v1h1v-1zM153 296v1h1v-1zM154 296v1h1v-1zM157 291v1h1v-1zM157 296v1h1v-1zM158 295v1h1v-1zM159 291v1h1v-1zM159 295v1h1v-1zM160 290v1h1v-1zM160 296v1h1v-1zM161 295v2h1v-2zM164 294v2h1v-2zM170 289v2h1v-2zM171 288v1h1v-1zM172 289v1h1v-1zM173 289v2h1v-2zM175 291v1h1v-1zM176 289v1h1v-1zM179 288v1h1v-1zM182 288v1h1v-1zM186 289v1h1v-1zM191 288v1h1v-1zM192 291v1h1v-1zM193 291v1h1v-1zM195 289v2h1v-2zM197 289v1h1v-1zM199 288v1h1v-1zM201 288v1h1v-1zM202 288v1h1v-1zM205 288v1h1v-1zM210 288v1h1v-1zM213 291v1h1v-1zM215 289v1h1v-1zM216 288v1h1v-1zM218 288v1h1v-1zM221 291v1h1v-1zM223 289v2h1v-2zM225 291v1h1v-1zM226 288v1h1v-1zM229 288v1h1v-1zM230 291v1h1v-1zM232 289v1h1v-1zM235 289v1h1v-1zM236 289v1h1v-1zM237 290v1h1v-1zM239 288v1h1v-1zM240 288v1h1v-1zM242 289v2h1v-2zM246 288v1h1v-1zM248 289v2h1v-2zM249 288v1h1v-1zM251 298v1h1v-1zM252 300v1h1v-1zM253 298v1h1v-1zM254 298v1h1v-1zM256 299v1h1v-1zM257 298v1h1v-1zM258 290v1h1v-1zM258 299v1h1v-1zM260 289v1h1v-1zM261 290v1h1v-1zM261 298v1h1v-1zM262 300v1h1v-1zM263 288v1h1v-1zM263 298v1h1v-1zM264 298v1h1v-1zM265 288v1h1v-1zM266 290v1h1v-1zM267 298v1h1v-1zM268 289v1h1v-1zM268 298v1h1v-1zM269 288v1h1v-1zM269 300v1h1v-1zM270 289v1h1v-1zM270 298v1h1v-1zM271 298v1h1v-1zM272 288v1h1v-1zM273 299v1h1v-1zM275 289v2h1v-2zM275 299v1h1v-1zM276 289v2h1v-2zM277 298v1h1v-1zM278 288v1h1v-1zM279 288v1h1v-1zM302 295v1h1v-1zM303 295v1h1v-1zM304 294v1h1v-1zM305 293v1h1v-1zM305 295v1h1v-1zM307 292v1h1v-1zM308 297v1h1v-1zM311 294v1h1v-1zM312 294v1h1v-1zM314 293v1h1v-1zM314 297v2h1v-2zM321 294v1h1v-1zM322 296v1h1v-1zM324 294v2h1v-2zM324 297v1h1v-1zM325 298v1h1v-1zM326 297v1h1v-1zM327 293v1h1v-1zM327 296v2h1v-2zM328 293v1h1v-1zM328 296v1h1v-1zM331 295v1h1v-1zM332 293v1h1v-1zM334 295v1h1v-1zM335 292v1h1v-1zM335 294v2h1v-2zM336 293v1h1v-1zM339 292v1h1v-1zM339 298v1h1v-1zM340 293v1h1v-1zM341 292v1h1v-1zM342 293v2h1v-2zM346 293v2h1v-2zM346 297v1h1v-1zM351 295v1h1v-1zM353 293v1h1v-1zM354 292v1h1v-1zM354 296v1h1v-1zM355 295v1h1v-1zM356 293v1h1v-1zM358 292v1h1v-1zM359 294v2h1v-2zM361 294v2h1v-2zM364 294v3h1v-3zM364 298v1h1v-1zM365 294v1h1v-1zM366 295v1h1v-1zM366 298v1h1v-1zM367 293v1h1v-1zM367 296v1h1v-1zM368 294v1h1v-1zM369 294v1h1v-1zM370 293v1h1v-1zM370 295v1h1v-1zM371 293v1h1v-1zM371 296v1h1v-1zM372 293v1h1v-1zM372 296v1h1v-1zM374 296v1h1v-1zM375 293v1h1v-1zM376 293v1h1v-1zM377 296v1h1v-1zM382 295v1h1v-1zM383 294v1h1v-1zM383 297v1h1v-1zM387 297v1h1v-1zM388 294v1h1v-1zM388 297v1h1v-1z"/>
<path fill="#9ce4be" d="M26 299v1h1v-1zM28 301v1h1v-1zM29 297v1h1v-1zM39 300v1h1v-1zM40 296v1h1v-1zM45 300v1h1v-1zM50 298v1h1v-1zM52 298v1h1v-1zM62 299v1h1v-1zM66 300v1h1v-1zM68 298v1h1v-1zM68 300v1h1v-1zM70 299v1h1v-1zM72 299v1h1v-1zM74 298v1h1v-1zM83 298v1h1v-1zM83 300v1h1v-1zM85 300v1h1v-1zM86 300v1h1v-1zM89 298v1h1v-1zM90 298v1h1v-1zM94 300v1h1v-1zM97 298v1h1v-1zM99 299v1h1v-1zM100 300v1h1v-1zM105 300v1h1v-1zM111 299v1h1v-1zM113 300v1h1v-1zM116 298v1h1v-1zM118 298v1h1v-1zM118 300v1h1v-1zM122 300v1h1v-1zM124 299v2h1v-2zM126 299v1h1v-1zM127 298v1h1v-1zM130 298v1h1v-1zM133 300v1h1v-1zM138 298v1h1v-1zM141 300v1h1v-1zM142 300v1h1v-1zM143 300v1h1v-1zM144 298v1h1v-1zM149 291v1h1v-1zM149 295v1h1v-1zM150 291v1h1v-1zM150 296v1h1v-1zM151 291v1h1v-1zM151 294v1h1v-1zM153 290v1h1v-1zM155 296v1h1v-1zM156 292v1h1v-1zM158 292v1h1v-1zM160 291v1h1v-1zM161 291v1h1v-1zM162 291v1h1v-1zM163 294v2h1v-2zM164 291v1h1v-1zM165 291v1h1v-1zM165 294v2h1v-2zM168 289v1h1v-1zM168 292v1h1v-1zM169 288v1h1v-1zM172 290v1h1v-1zM174 291v1h1v-1zM175 289v1h1v-1zM176 290v1h1v-1zM180 288v1h1v-1zM181 291v1h1v-1zM183 288v1h1v-1zM184 291v1h1v-1zM185 289v1h1v-1zM186 290v1h1v-1zM187 291v1h1v-1zM188 291v2h1v-2zM194 291v1h1v-1zM197 290v1h1v-1zM198 292v1h1v-1zM200 291v1h1v-1zM204 291v1h1v-1zM206 289v2h1v-2zM207 289v1h1v-1zM208 289v2h1v-2zM215 290v1h1v-1zM222 289v2h1v-2zM228 289v1h1v-1zM232 290v1h1v-1zM234 289v2h1v-2zM235 290v1h1v-1zM236 290v1h1v-1zM239 292v1h1v-1zM241 291v1h1v-1zM245 291v1h1v-1zM247 288v1h1v-1zM250 289v2h1v-2zM252 289v1h1v-1zM254 289v1h1v-1zM257 288v1h1v-1zM259 289v1h1v-1zM260 290v1h1v-1zM260 298v1h1v-1zM264 289v1h1v-1zM268 290v1h1v-1zM270 290v1h1v-1zM274 298v1h1v-1zM277 289v1h1v-1zM280 291v1h1v-1zM280 297v1h1v-1zM302 294v1h1v-1zM303 293v1h1v-1zM303 296v1h1v-1zM304 293v1h1v-1zM305 294v1h1v-1zM305 298v1h1v-1zM307 295v1h1v-1zM308 295v1h1v-1zM313 294v1h1v-1zM314 296v1h1v-1zM320 294v2h1v-2zM325 293v1h1v-1zM325 295v1h1v-1zM325 297v1h1v-1zM326 293v1h1v-1zM327 298v1h1v-1zM332 297v1h1v-1zM335 297v1h1v-1zM338 296v1h1v-1zM339 296v1h1v-1zM342 296v1h1v-1zM345 295v1h1v-1zM347 296v1h1v-1zM353 296v1h1v-1zM354 294v1h1v-1zM355 296v1h1v-1zM355 298v1h1v-1zM357 297v1h1v-1zM358 293v1h1v-1zM358 296v1h1v-1zM360 293v1h1v-1zM360 296v1h1v-1zM363 293v1h1v-1zM363 296v1h1v-1zM366 296v1h1v-1zM367 297v1h1v-1zM375 294v1h1v-1zM375 297v1h1v-1zM378 296v2h1v-2zM379 296v1h1v-1zM381 296v1h1v-1zM382 294v1h1v-1zM385 296v2h1v-2z"/>
<path fill="#9ee3a9" d="M26 298v1h1v-1zM27 296v1h1v-1zM27 298v1h1v-1zM28 299v1h1v-1zM29 298v1h1v-1zM29 301v1h1v-1zM32 301v1h1v-1zM37 299v1h1v-1zM47 298v1h1v-1zM53 300v1h1v-1zM55 299v1h1v-1zM57 300v1h1v-1zM58 298v1h1v-1zM60 299v1h1v-1zM73 299v1h1v-1zM80 298v1h1v-1zM84 300v1h1v-1zM100 299v1h1v-1zM101 299v1h1v-1zM107 299v1h1v-1zM108 299v1h1v-1zM127 300v1h1v-1zM129 298v1h1v-1zM134 300v1h1v-1zM136 299v1h1v-1zM142 298v1h1v-1zM147 294v1h1v-1zM148 295v1h1v-1zM150 295v1h1v-1zM153 291v1h1v-1zM154 292v1h1v-1zM155 294v2h1v-2zM156 293v1h1v-1zM156 295v1h1v-1zM157 293v1h1v-1zM157 295v1h1v-1zM158 291v1h1v-1zM159 292v2h1v-2zM160 292v1h1v-1zM160 295v1h1v-1zM162 292v1h1v-1zM163 291v1h1v-1zM164 292v2h1v-2zM168 290v1h1v-1zM171 292v1h1v-1zM172 292v1h1v-1zM173 292v1h1v-1zM174 292v1h1v-1zM175 290v1h1v-1zM178 291v2h1v-2zM179 291v2h1v-2zM180 292v1h1v-1zM182 291v1h1v-1zM184 292v1h1v-1zM185 290v1h1v-1zM185 292v1h1v-1zM187 292v1h1v-1zM190 292v1h1v-1zM191 291v1h1v-1zM192 289v1h1v-1zM193 289v1h1v-1zM193 292v1h1v-1zM195 292v1h1v-1zM197 292v1h1v-1zM200 292v1h1v-1zM202 292v1h1v-1zM204 292v1h1v-1zM205 291v1h1v-1zM206 292v1h1v-1zM207 290v1h1v-1zM207 292v1h1v-1zM210 291v2h1v-2zM213 292v1h1v-1zM214 292v1h1v-1zM216 291v2h1v-2zM217 292v1h1v-1zM218 291v1h1v-1zM219 291v1h1v-1zM220 292v1h1v-1zM221 289v2h1v-2zM221 292v1h1v-1zM222 292v1h1v-1zM223 292v1h1v-1zM224 292v1h1v-1zM225 289v1h1v-1zM225 292v1h1v-1zM226 292v1h1v-1zM227 292v1h1v-1zM228 290v1h1v-1zM228 292v1h1v-1zM229 291v2h1v-2zM230 289v2h1v-2zM232 292v1h1v-1zM234 292v1h1v-1zM235 292v1h1v-1zM236 292v1h1v-1zM238 291v2h1v-2zM239 291v1h1v-1zM240 291v1h1v-1zM241 292v1h1v-1zM243 291v2h1v-2zM244 292v1h1v-1zM245 292v1h1v-1zM246 291v2h1v-2zM252 290v1h1v-1zM254 290v1h1v-1zM256 298v1h1v-1zM258 298v1h1v-1zM259 290v1h1v-1zM264 290v1h1v-1zM267 289v1h1v-1zM273 289v1h1v-1zM273 298v1h1v-1zM274 289v1h1v-1zM275 298v1h1v-1zM277 290v1h1v-1zM302 296v1h1v-1zM304 295v1h1v-1zM304 298v1h1v-1zM305 296v1h1v-1zM306 298v1h1v-1zM307 293v1h1v-1zM307 296v1h1v-1zM332 295v1h1v-1zM339 297v1h1v-1zM341 294v1h1v-1zM342 295v1h1v-1zM354 293v1h1v-1zM354 295v1h1v-1zM356 295v2h1v-2zM357 296v1h1v-1zM358 294v1h1v-1zM362 296v1h1v-1zM366 297v1h1v-1zM368 295v3h1v-3zM374 294v1h1v-1zM375 296v1h1v-1zM377 295v1h1v-1zM379 295v1h1v-1zM386 294v1h1v-1zM387 294v1h1v-1z"/>
<path fill="#a0e296" d="M26 296v1h1v-1zM28 296v1h1v-1zM28 300v1h1v-1zM29 299v1h1v-1zM30 300v1h1v-1zM31 299v1h1v-1zM33 298v1h1v-1zM34 301v1h1v-1zM35 301v1h1v-1zM38 301v1h1v-1zM40 297v1h1v-1zM42 299v1h1v-1zM46 298v1h1v-1zM46 300v1h1v-1zM48 299v1h1v-1zM52 300v1h1v-1zM53 298v1h1v-1zM54 298v1h1v-1zM56 300v1h1v-1zM60 300v1h1v-1zM61 299v1h1v-1zM65 299v1h1v-1zM66 299v1h1v-1zM67 299v1h1v-1zM71 299v1h1v-1zM85 298v1h1v-1zM86 299v1h1v-1zM90 300v1h1v-1zM95 298v1h1v-1zM95 300v1h1v-1zM98 299v1h1v-1zM104 299v1h1v-1zM107 300v1h1v-1zM110 298v1h1v-1zM116 300v1h1v-1zM119 298v1h1v-1zM121 299v2h1v-2zM125 299v1h1v-1zM128 298v1h1v-1zM128 300v1h1v-1zM129 300v1h1v-1zM132 298v1h1v-1zM139 299v2h1v-2zM142 299v1h1v-1zM143 298v1h1v-1zM147 293v1h1v-1zM148 293v2h1v-2zM149 292v1h1v-1zM149 294v1h1v-1zM150 292v1h1v-1zM150 294v1h1v-1zM151 292v2h1v-2zM152 291v1h1v-1zM152 293v1h1v-1zM152 295v1h1v-1zM154 293v1h1v-1zM154 295v1h1v-1zM155 291v2h1v-2zM156 291v1h1v-1zM156 294v1h1v-1zM157 294v1h1v-1zM158 293v2h1v-2zM160 293v1h1v-1zM161 294v1h1v-1zM162 293v3h1v-3zM163 293v1h1v-1zM165 292v2h1v-2zM169 291v2h1v-2zM170 292v1h1v-1zM171 291v1h1v-1zM174 289v1h1v-1zM175 292v1h1v-1zM176 292v1h1v-1zM177 292v1h1v-1zM180 291v1h1v-1zM181 289v2h1v-2zM181 292v1h1v-1zM182 292v1h1v-1zM183 291v2h1v-2zM186 292v1h1v-1zM187 289v1h1v-1zM188 289v2h1v-2zM189 292v1h1v-1zM191 292v1h1v-1zM192 290v1h1v-1zM192 292v1h1v-1zM193 290v1h1v-1zM194 289v1h1v-1zM194 292v1h1v-1zM196 292v1h1v-1zM199 291v2h1v-2zM200 289v2h1v-2zM201 291v2h1v-2zM202 291v1h1v-1zM203 292v1h1v-1zM205 292v1h1v-1zM208 292v1h1v-1zM209 292v1h1v-1zM211 292v1h1v-1zM212 292v1h1v-1zM213 289v2h1v-2zM215 292v1h1v-1zM218 292v1h1v-1zM219 292v1h1v-1zM225 290v1h1v-1zM226 291v1h1v-1zM230 292v1h1v-1zM231 292v1h1v-1zM233 292v1h1v-1zM237 292v1h1v-1zM240 292v1h1v-1zM241 289v2h1v-2zM242 292v1h1v-1zM251 289v2h1v-2zM253 289v1h1v-1zM255 289v1h1v-1zM256 289v2h1v-2zM262 289v1h1v-1zM267 290v1h1v-1zM273 290v1h1v-1zM274 290v1h1v-1zM280 292v1h1v-1zM304 297v1h1v-1zM306 297v1h1v-1zM311 295v2h1v-2zM312 295v1h1v-1zM340 295v1h1v-1zM355 293v1h1v-1zM362 294v1h1v-1zM365 295v1h1v-1zM370 296v1h1v-1z"/>
<path fill="#a8e383" d="M27 297v1h1v-1zM28 297v1h1v-1zM29 300v1h1v-1zM32 300v1h1v-1zM37 298v1h1v-1zM38 296v1h1v-1zM38 298v1h1v-1zM43 299v1h1v-1zM44 299v1h1v-1zM46 299v1h1v-1zM50 299v1h1v-1zM53 299v1h1v-1zM54 299v2h1v-2zM56 299v1h1v-1zM57 298v1h1v-1zM58 300v1h1v-1zM68 299v1h1v-1zM69 299v1h1v-1zM74 300v1h1v-1zM75 299v1h1v-1zM80 300v1h1v-1zM84 298v1h1v-1zM85 299v1h1v-1zM87 298v1h1v-1zM89 300v1h1v-1zM91 298v2h1v-2zM97 300v1h1v-1zM102 299v2h1v-2zM103 298v1h1v-1zM106 298v1h1v-1zM109 300v1h1v-1zM115 298v1h1v-1zM117 299v1h1v-1zM120 299v1h1v-1zM131 300v1h1v-1zM134 299v1h1v-1zM137 299v2h1v-2zM143 299v1h1v-1zM152 292v1h1v-1zM153 294v2h1v-2zM154 291v1h1v-1zM154 294v1h1v-1zM155 293v1h1v-1zM157 292v1h1v-1zM159 294v1h1v-1zM161 292v2h1v-2zM163 292v1h1v-1zM174 290v1h1v-1zM178 289v2h1v-2zM179 289v1h1v-1zM182 289v1h1v-1zM184 289v2h1v-2zM187 290v1h1v-1zM191 289v2h1v-2zM194 290v1h1v-1zM204 289v2h1v-2zM218 289v1h1v-1zM219 289v2h1v-2zM229 289v1h1v-1zM238 289v2h1v-2zM239 289v1h1v-1zM240 289v1h1v-1zM243 289v2h1v-2zM245 289v2h1v-2zM246 289v1h1v-1zM248 299v1h1v-1zM249 289v1h1v-1zM249 299v1h1v-1zM253 290v1h1v-1zM255 290v1h1v-1zM262 290v1h1v-1zM265 289v2h1v-2zM265 299v1h1v-1zM266 299v1h1v-1zM272 289v2h1v-2zM278 289v2h1v-2zM279 289v2h1v-2zM303 294v1h1v-1zM303 297v1h1v-1zM304 296v1h1v-1zM306 295v2h1v-2zM326 295v2h1v-2zM358 295v1h1v-1zM362 295v1h1v-1zM369 295v1h1v-1z"/>
<path fill="#b0e470" d="M28 298v1h1v-1zM31 297v2h1v-2zM34 298v2h1v-2zM35 300v1h1v-1zM36 301v1h1v-1zM38 297v1h1v-1zM38 299v2h1v-2zM39 299v1h1v-1zM45 299v1h1v-1zM51 300v1h1v-1zM78 299v1h1v-1zM82 299v1h1v-1zM83 299v1h1v-1zM88 298v1h1v-1zM91 300v1h1v-1zM92 298v1h1v-1zM92 300v1h1v-1zM93 298v1h1v-1zM103 300v1h1v-1zM105 299v1h1v-1zM106 300v1h1v-1zM113 299v1h1v-1zM115 300v1h1v-1zM130 300v1h1v-1zM132 300v1h1v-1zM133 299v1h1v-1zM135 299v1h1v-1zM138 300v1h1v-1zM144 299v1h1v-1zM148 292v1h1v-1zM150 293v1h1v-1zM152 294v1h1v-1zM153 292v1h1v-1zM160 294v1h1v-1zM169 289v1h1v-1zM171 289v1h1v-1zM179 290v1h1v-1zM180 289v1h1v-1zM182 290v1h1v-1zM183 289v1h1v-1zM199 289v1h1v-1zM201 289v1h1v-1zM202 289v2h1v-2zM205 289v2h1v-2zM210 289v2h1v-2zM216 289v2h1v-2zM218 290v1h1v-1zM226 289v1h1v-1zM229 290v1h1v-1zM239 290v1h1v-1zM240 290v1h1v-1zM246 290v1h1v-1zM247 289v1h1v-1zM249 290v1h1v-1zM257 289v1h1v-1zM263 289v2h1v-2zM269 289v2h1v-2zM309 294v2h1v-2zM310 294v2h1v-2zM367 295v1h1v-1zM370 294v1h1v-1z"/>
<path fill="#bde766" d="M33 296v1h1v-1zM34 296v1h1v-1zM34 300v1h1v-1zM36 299v1h1v-1zM40 295v1h1v-1zM51 298v1h1v-1zM52 299v1h1v-1zM59 298v1h1v-1zM74 299v1h1v-1zM79 298v2h1v-2zM84 299v1h1v-1zM87 300v1h1v-1zM88 300v1h1v-1zM92 299v1h1v-1zM96 298v1h1v-1zM97 299v1h1v-1zM103 299v1h1v-1zM106 299v1h1v-1zM109 299v1h1v-1zM114 298v2h1v-2zM118 299v1h1v-1zM122 299v1h1v-1zM131 299v1h1v-1zM153 293v1h1v-1zM169 290v1h1v-1zM171 290v1h1v-1zM180 290v1h1v-1zM183 290v1h1v-1zM199 290v1h1v-1zM201 290v1h1v-1zM226 290v1h1v-1zM247 290v1h1v-1zM248 298v1h1v-1zM257 290v1h1v-1zM380 294v2h1v-2zM381 294v2h1v-2z"/>
<path fill="#ccea5c" d="M36 296v1h1v-1zM36 300v1h1v-1zM39 296v1h1v-1zM39 298v1h1v-1zM47 300v1h1v-1zM57 299v1h1v-1zM59 300v1h1v-1zM79 300v1h1v-1zM80 299v1h1v-1zM90 299v1h1v-1zM93 299v1h1v-1zM95 299v1h1v-1zM110 299v2h1v-2zM114 300v1h1v-1zM127 299v1h1v-1zM129 299v1h1v-1zM149 293v1h1v-1zM249 298v1h1v-1zM265 298v1h1v-1zM266 298v1h1v-1zM279 299v1h1v-1zM318 294v2h1v-2zM319 294v2h1v-2zM338 294v2h1v-2zM339 294v2h1v-2zM349 294v2h1v-2zM350 294v2h1v-2z"/>
<path fill="#d8ec51" d="M26 297v1h1v-1zM30 298v2h1v-2zM32 296v1h1v-1zM33 297v1h1v-1zM35 296v1h1v-1zM37 296v1h1v-1zM89 299v1h1v-1zM93 300v1h1v-1zM96 300v1h1v-1zM119 300v1h1v-1zM128 299v1h1v-1zM138 299v1h1v-1zM255 299v1h1v-1zM259 299v1h1v-1zM272 299v1h1v-1zM276 299v1h1v-1zM280 296v1h1v-1zM327 294v2h1v-2zM328 294v2h1v-2zM371 294v2h1v-2zM372 294v2h1v-2z"/>
<path fill="#e4ee48" d="M31 296v1h1v-1zM32 299v1h1v-1zM35 299v1h1v-1zM36 298v1h1v-1zM37 297v1h1v-1zM40 290v2h1v-2zM40 293v1h1v-1zM47 299v1h1v-1zM94 299v1h1v-1zM130 299v1h1v-1zM132 299v1h1v-1zM167 296v1h1v-1zM247 291v1h1v-1zM247 297v1h1v-1zM360 294v2h1v-2z"/>
<path fill="#efed42" d="M34 297v1h1v-1zM35 297v1h1v-1zM36 297v1h1v-1zM39 297v1h1v-1zM51 299v1h1v-1zM58 299v1h1v-1zM96 299v1h1v-1zM115 299v1h1v-1zM116 299v1h1v-1zM119 299v1h1v-1zM167 293v1h1v-1zM167 295v1h1v-1zM252 299v1h1v-1zM262 299v1h1v-1zM269 299v1h1v-1zM279 298v1h1v-1zM280 293v2h1v-2z"/>
<path fill="#faec3c" d="M40 292v1h1v-1zM40 294v1h1v-1zM167 294v1h1v-1zM247 292v1h1v-1zM255 298v1h1v-1zM259 298v1h1v-1zM272 298v1h1v-1zM276 298v1h1v-1zM280 295v1h1v-1z"/>
<path fill="#fcd836" d="M32 290v1h1v-1zM32 297v2h1v-2zM33 290v1h1v-1zM59 299v1h1v-1zM279 291v1h1v-1zM279 297v1h1v-1z"/>
<path fill="#ffc430" d="M31 295v1h1v-1zM34 290v1h1v-1zM34 295v1h1v-1zM35 298v1h1v-1zM87 299v1h1v-1zM88 299v1h1v-1zM252 298v1h1v-1zM262 298v1h1v-1zM269 298v1h1v-1z"/>
<path fill="#ff9f27" d="M27 295v1h1v-1zM30 296v1h1v-1zM31 290v1h1v-1zM31 293v2h1v-2zM33 292v1h1v-1zM37 295v1h1v-1zM39 294v2h1v-2zM168 296v1h1v-1zM248 291v1h1v-1zM248 297v1h1v-1z"/>
<path fill="#ff7a1e" d="M27 294v1h1v-1zM28 290v1h1v-1zM29 290v1h1v-1zM29 295v1h1v-1zM30 290v2h1v-2zM30 294v2h1v-2zM30 297v1h1v-1zM31 291v1h1v-1zM32 293v1h1v-1zM32 295v1h1v-1zM33 293v1h1v-1zM33 295v1h1v-1zM34 291v2h1v-2zM35 294v1h1v-1zM36 290v1h1v-1zM38 290v2h1v-2zM38 294v2h1v-2zM39 290v1h1v-1zM39 293v1h1v-1zM198 296v1h1v-1zM235 296v1h1v-1zM250 291v1h1v-1zM263 297v1h1v-1zM268 291v1h1v-1zM269 291v1h1v-1zM269 297v1h1v-1zM271 291v1h1v-1zM278 291v1h1v-1zM278 297v1h1v-1zM279 292v1h1v-1zM279 296v1h1v-1z"/>
<path fill="#fc5317" d="M27 290v1h1v-1zM29 291v1h1v-1zM29 293v1h1v-1zM31 292v1h1v-1zM32 292v1h1v-1zM34 294v1h1v-1zM35 295v1h1v-1zM39 291v2h1v-2zM168 295v1h1v-1zM175 296v1h1v-1zM176 296v1h1v-1zM180 296v1h1v-1zM184 296v1h1v-1zM185 296v1h1v-1zM187 296v1h1v-1zM189 296v1h1v-1zM190 296v1h1v-1zM196 296v1h1v-1zM197 296v1h1v-1zM200 296v1h1v-1zM207 296v1h1v-1zM216 296v1h1v-1zM217 296v1h1v-1zM224 296v1h1v-1zM226 296v1h1v-1zM229 296v1h1v-1zM236 296v1h1v-1zM246 296v1h1v-1zM249 291v1h1v-1zM250 297v1h1v-1zM252 297v1h1v-1zM255 291v1h1v-1zM257 297v1h1v-1zM258 297v1h1v-1zM259 291v1h1v-1zM259 297v1h1v-1zM261 297v1h1v-1zM262 297v1h1v-1zM263 291v1h1v-1zM264 297v1h1v-1zM267 291v1h1v-1zM267 297v1h1v-1zM268 297v1h1v-1zM270 297v1h1v-1zM271 297v1h1v-1zM274 291v1h1v-1zM275 297v1h1v-1zM276 297v1h1v-1z"/>
<path fill="#fa2c10" d="M28 292v1h1v-1zM28 295v1h1v-1zM29 294v1h1v-1zM30 292v2h1v-2zM32 291v1h1v-1zM33 294v1h1v-1zM34 293v1h1v-1zM35 290v2h1v-2zM35 293v1h1v-1zM37 290v3h1v-3zM38 293v1h1v-1zM168 293v2h1v-2zM169 296v1h1v-1zM171 296v1h1v-1zM172 296v1h1v-1zM174 293v1h1v-1zM174 296v1h1v-1zM177 296v1h1v-1zM179 296v1h1v-1zM180 294v1h1v-1zM184 293v1h1v-1zM184 295v1h1v-1zM185 293v1h1v-1zM186 296v1h1v-1zM187 293v1h1v-1zM188 296v1h1v-1zM195 296v1h1v-1zM197 293v1h1v-1zM198 295v1h1v-1zM199 296v1h1v-1zM201 296v1h1v-1zM202 293v1h1v-1zM202 296v1h1v-1zM204 293v1h1v-1zM204 296v1h1v-1zM206 296v1h1v-1zM208 296v1h1v-1zM213 296v1h1v-1zM214 296v1h1v-1zM215 296v1h1v-1zM216 294v1h1v-1zM217 293v1h1v-1zM220 293v1h1v-1zM220 296v1h1v-1zM221 296v1h1v-1zM225 296v1h1v-1zM227 293v1h1v-1zM227 295v2h1v-2zM228 296v1h1v-1zM229 293v1h1v-1zM232 296v1h1v-1zM233 296v1h1v-1zM234 296v1h1v-1zM235 293v1h1v-1zM238 296v1h1v-1zM239 295v2h1v-2zM241 296v1h1v-1zM242 296v1h1v-1zM243 296v1h1v-1zM244 296v1h1v-1zM245 296v1h1v-1zM248 292v1h1v-1zM248 296v1h1v-1zM251 297v1h1v-1zM252 291v1h1v-1zM253 291v1h1v-1zM254 297v1h1v-1zM255 297v1h1v-1zM258 291v1h1v-1zM260 297v1h1v-1zM261 291v1h1v-1zM262 291v1h1v-1zM264 291v1h1v-1zM265 291v1h1v-1zM265 297v1h1v-1zM266 291v1h1v-1zM270 291v1h1v-1zM273 297v1h1v-1zM274 297v1h1v-1zM275 291v1h1v-1zM276 291v1h1v-1zM277 297v1h1v-1zM279 293v3h1v-3z"/>
<path fill="#f31a0a" d="M27 291v3h1v-3zM28 291v1h1v-1zM28 294v1h1v-1zM32 294v1h1v-1zM33 291v1h1v-1zM36 291v1h1v-1zM37 293v2h1v-2zM38 292v1h1v-1zM170 293v1h1v-1zM170 296v1h1v-1zM171 293v2h1v-2zM173 296v1h1v-1zM174 294v2h1v-2zM176 293v1h1v-1zM179 293v1h1v-1zM179 295v1h1v-1zM180 293v1h1v-1zM180 295v1h1v-1zM181 295v2h1v-2zM182 296v1h1v-1zM183 296v1h1v-1zM185 294v1h1v-1zM186 293v1h1v-1zM187 294v2h1v-2zM188 293v1h1v-1zM190 293v1h1v-1zM190 295v1h1v-1zM191 296v1h1v-1zM192 296v1h1v-1zM193 296v1h1v-1zM194 296v1h1v-1zM195 293v2h1v-2zM197 295v1h1v-1zM198 293v1h1v-1zM199 293v1h1v-1zM200 295v1h1v-1zM202 295v1h1v-1zM203 296v1h1v-1zM204 294v1h1v-1zM205 296v1h1v-1zM206 293v1h1v-1zM209 296v1h1v-1zM210 296v1h1v-1zM211 296v1h1v-1zM212 296v1h1v-1zM213 293v2h1v-2zM214 293v1h1v-1zM216 293v1h1v-1zM217 295v1h1v-1zM218 296v1h1v-1zM219 296v1h1v-1zM220 294v2h1v-2zM222 296v1h1v-1zM223 293v1h1v-1zM223 296v1h1v-1zM224 293v1h1v-1zM225 293v2h1v-2zM226 293v1h1v-1zM226 295v1h1v-1zM227 294v1h1v-1zM228 293v1h1v-1zM228 295v1h1v-1zM229 294v2h1v-2zM230 296v1h1v-1zM231 296v1h1v-1zM232 293v1h1v-1zM233 293v2h1v-2zM235 295v1h1v-1zM237 296v1h1v-1zM238 293v1h1v-1zM239 293v1h1v-1zM240 296v1h1v-1zM241 293v1h1v-1zM243 295v1h1v-1zM245 293v1h1v-1zM246 293v1h1v-1zM246 295v1h1v-1zM247 296v1h1v-1zM248 293v1h1v-1zM249 297v1h1v-1zM251 291v1h1v-1zM253 297v1h1v-1zM254 291v1h1v-1zM256 297v1h1v-1zM257 291v1h1v-1zM259 296v1h1v-1zM260 291v1h1v-1zM263 292v1h1v-1zM263 296v1h1v-1zM266 297v1h1v-1zM269 295v1h1v-1zM271 292v1h1v-1zM272 291v1h1v-1zM272 297v1h1v-1zM273 291v1h1v-1zM277 291v1h1v-1zM278 292v1h1v-1z"/>
<path fill="#ec0804" d="M29 292v1h1v-1zM36 295v1h1v-1zM172 293v2h1v-2zM173 293v1h1v-1zM173 295v1h1v-1zM175 293v2h1v-2zM176 295v1h1v-1zM177 293v1h1v-1zM178 296v1h1v-1zM179 294v1h1v-1zM181 293v2h1v-2zM184 294v1h1v-1zM185 295v1h1v-1zM186 295v1h1v-1zM188 294v2h1v-2zM189 293v1h1v-1zM189 295v1h1v-1zM190 294v1h1v-1zM191 295v1h1v-1zM192 293v1h1v-1zM193 293v1h1v-1zM194 295v1h1v-1zM195 295v1h1v-1zM196 293v1h1v-1zM197 294v1h1v-1zM198 294v1h1v-1zM199 294v2h1v-2zM200 293v2h1v-2zM203 295v1h1v-1zM204 295v1h1v-1zM206 294v1h1v-1zM207 293v1h1v-1zM208 293v1h1v-1zM209 293v1h1v-1zM210 293v1h1v-1zM210 295v1h1v-1zM212 293v1h1v-1zM213 295v1h1v-1zM214 294v2h1v-2zM216 295v1h1v-1zM217 294v1h1v-1zM221 293v2h1v-2zM222 293v1h1v-1zM224 294v2h1v-2zM225 295v1h1v-1zM226 294v1h1v-1zM228 294v1h1v-1zM230 293v2h1v-2zM231 293v2h1v-2zM232 294v1h1v-1zM233 295v1h1v-1zM234 295v1h1v-1zM235 294v1h1v-1zM236 293v3h1v-3zM237 295v1h1v-1zM238 294v2h1v-2zM239 294v1h1v-1zM241 295v1h1v-1zM242 294v2h1v-2zM243 293v2h1v-2zM244 294v2h1v-2zM245 294v2h1v-2zM246 294v1h1v-1zM247 293v1h1v-1zM248 295v1h1v-1zM250 292v1h1v-1zM250 295v2h1v-2zM252 292v1h1v-1zM252 295v1h1v-1zM256 291v1h1v-1zM258 296v1h1v-1zM259 292v1h1v-1zM261 292v1h1v-1zM261 295v1h1v-1zM267 292v1h1v-1zM267 296v1h1v-1zM268 292v1h1v-1zM268 295v2h1v-2zM269 292v1h1v-1zM269 294v1h1v-1zM269 296v1h1v-1zM271 293v1h1v-1zM271 295v2h1v-2zM276 296v1h1v-1zM278 293v2h1v-2zM278 296v1h1v-1z"/>
<path fill="#df0301" d="M28 293v1h1v-1zM35 292v1h1v-1zM36 293v1h1v-1zM169 293v1h1v-1zM169 295v1h1v-1zM170 295v1h1v-1zM171 295v1h1v-1zM172 295v1h1v-1zM173 294v1h1v-1zM175 295v1h1v-1zM176 294v1h1v-1zM177 294v2h1v-2zM178 293v1h1v-1zM178 295v1h1v-1zM183 293v3h1v-3zM189 294v1h1v-1zM191 293v2h1v-2zM192 294v1h1v-1zM194 293v2h1v-2zM196 294v2h1v-2zM201 293v1h1v-1zM201 295v1h1v-1zM202 294v1h1v-1zM203 293v1h1v-1zM205 293v3h1v-3zM206 295v1h1v-1zM207 294v2h1v-2zM208 294v2h1v-2zM209 295v1h1v-1zM210 294v1h1v-1zM211 293v1h1v-1zM211 295v1h1v-1zM212 294v1h1v-1zM215 295v1h1v-1zM218 293v1h1v-1zM219 293v3h1v-3zM221 295v1h1v-1zM222 295v1h1v-1zM223 294v2h1v-2zM230 295v1h1v-1zM231 295v1h1v-1zM232 295v1h1v-1zM234 293v1h1v-1zM237 293v2h1v-2zM240 293v1h1v-1zM240 295v1h1v-1zM241 294v1h1v-1zM242 293v1h1v-1zM244 293v1h1v-1zM248 294v1h1v-1zM249 292v2h1v-2zM249 296v1h1v-1zM250 293v1h1v-1zM251 292v1h1v-1zM252 293v1h1v-1zM252 296v1h1v-1zM253 292v1h1v-1zM253 296v1h1v-1zM254 292v1h1v-1zM254 296v1h1v-1zM255 295v1h1v-1zM258 292v4h1v-4zM259 293v1h1v-1zM261 294v1h1v-1zM261 296v1h1v-1zM262 296v1h1v-1zM263 295v1h1v-1zM264 293v2h1v-2zM264 296v1h1v-1zM265 292v1h1v-1zM265 296v1h1v-1zM266 296v1h1v-1zM267 294v1h1v-1zM268 293v2h1v-2zM269 293v1h1v-1zM270 293v1h1v-1zM271 294v1h1v-1zM272 293v1h1v-1zM272 296v1h1v-1zM274 296v1h1v-1zM275 292v1h1v-1zM276 292v1h1v-1zM276 294v1h1v-1zM277 292v1h1v-1zM278 295v1h1v-1z"/>
<path fill="#d40000" d="M36 294v1h1v-1zM169 294v1h1v-1zM170 294v1h1v-1zM178 294v1h1v-1zM182 293v1h1v-1zM182 295v1h1v-1zM186 294v1h1v-1zM192 295v1h1v-1zM193 294v2h1v-2zM201 294v1h1v-1zM209 294v1h1v-1zM211 294v1h1v-1zM212 295v1h1v-1zM215 293v2h1v-2zM218 295v1h1v-1zM222 294v1h1v-1zM234 294v1h1v-1zM240 294v1h1v-1zM247 295v1h1v-1zM250 294v1h1v-1zM251 293v1h1v-1zM251 295v2h1v-2zM252 294v1h1v-1zM254 293v1h1v-1zM254 295v1h1v-1zM257 292v2h1v-2zM257 296v1h1v-1zM259 295v1h1v-1zM260 293v2h1v-2zM260 296v1h1v-1zM261 293v1h1v-1zM262 292v1h1v-1zM263 293v2h1v-2zM264 292v1h1v-1zM264 295v1h1v-1zM265 295v1h1v-1zM266 292v2h1v-2zM267 293v1h1v-1zM267 295v1h1v-1zM270 292v1h1v-1zM270 294v3h1v-3zM272 292v1h1v-1zM272 295v1h1v-1zM273 292v3h1v-3zM273 296v1h1v-1zM274 292v1h1v-1zM274 294v2h1v-2zM275 295v1h1v-1zM276 293v1h1v-1zM276 295v1h1v-1zM277 294v3h1v-3z"/>
<path fill="#c30000" d="M36 292v1h1v-1zM182 294v1h1v-1zM203 294v1h1v-1zM218 294v1h1v-1zM247 294v1h1v-1zM249 294v2h1v-2zM253 293v3h1v-3zM254 294v1h1v-1zM255 292v3h1v-3zM255 296v1h1v-1zM256 292v1h1v-1zM256 294v1h1v-1zM256 296v1h1v-1zM257 295v1h1v-1zM259 294v1h1v-1zM260 292v1h1v-1zM260 295v1h1v-1zM262 293v3h1v-3zM265 293v2h1v-2zM266 295v1h1v-1zM273 295v1h1v-1zM274 293v1h1v-1zM275 293v2h1v-2zM275 296v1h1v-1zM277 293v1h1v-1z"/>
<path fill="#b20000" d="M251 294v1h1v-1zM256 293v1h1v-1zM256 295v1h1v-1zM257 294v1h1v-1zM266 294v1h1v-1zM272 294v1h1v-1z"/>
<line x1="300.3" y1="206" x2="300.3" y2="309" stroke="#b8b8b8" stroke-width="0.7" opacity="0.8"/>
<line x1="25.5" y1="309" x2="391" y2="309" stroke="#b4b4b4" stroke-width="1.3"/>
<line x1="390.6" y1="206" x2="390.6" y2="309" stroke="#b4b4b4" stroke-width="1"/>
<line x1="43.8" y1="306.5" x2="43.8" y2="309" stroke="#999" stroke-width="0.7"/>
<line x1="80.3" y1="306.5" x2="80.3" y2="309" stroke="#999" stroke-width="0.7"/>
<line x1="116.8" y1="306.5" x2="116.8" y2="309" stroke="#999" stroke-width="0.7"/>
<line x1="153.4" y1="306.5" x2="153.4" y2="309" stroke="#999" stroke-width="0.7"/>
<line x1="189.9" y1="306.5" x2="189.9" y2="309" stroke="#999" stroke-width="0.7"/>
<line x1="226.4" y1="306.5" x2="226.4" y2="309" stroke="#999" stroke-width="0.7"/>
<line x1="263.0" y1="306.5" x2="263.0" y2="309" stroke="#999" stroke-width="0.7"/>
<line x1="299.5" y1="306.5" x2="299.5" y2="309" stroke="#999" stroke-width="0.7"/>
<line x1="336.0" y1="306.5" x2="336.0" y2="309" stroke="#999" stroke-width="0.7"/>
<line x1="372.6" y1="306.5" x2="372.6" y2="309" stroke="#999" stroke-width="0.7"/>
<line x1="388.4" y1="206.3" x2="390.6" y2="206.3" stroke="#999" stroke-width="0.7"/>
<text transform="translate(392.00,208.63) scale(0.88,1)" font-size="6.6" fill="#222" color="#222" text-anchor="start" >7.87</text>
<line x1="388.4" y1="231.4" x2="390.6" y2="231.4" stroke="#999" stroke-width="0.7"/>
<text transform="translate(392.00,233.80) scale(0.88,1)" font-size="6.6" fill="#222" color="#222" text-anchor="start" >10.42</text>
<line x1="388.4" y1="257.4" x2="390.6" y2="257.4" stroke="#999" stroke-width="0.7"/>
<text transform="translate(392.00,259.78) scale(0.88,1)" font-size="6.6" fill="#222" color="#222" text-anchor="start" >15.63</text>
<line x1="388.4" y1="283.4" x2="390.6" y2="283.4" stroke="#999" stroke-width="0.7"/>
<text transform="translate(392.00,285.77) scale(0.88,1)" font-size="6.6" fill="#222" color="#222" text-anchor="start" >31.25</text>
<line x1="388.4" y1="308.6" x2="390.6" y2="308.6" stroke="#999" stroke-width="0.7"/>
<text transform="translate(392.00,310.94) scale(0.88,1)" font-size="6.6" fill="#222" color="#222" text-anchor="start" >1000</text>
<text transform="translate(24.60,295.51) scale(0.88,1)" font-size="6.6" fill="#222" color="#222" text-anchor="end" >20</text>
<text transform="translate(24.60,279.27) scale(0.88,1)" font-size="6.6" fill="#222" color="#222" text-anchor="end" >40</text>
<text transform="translate(24.60,263.03) scale(0.88,1)" font-size="6.6" fill="#222" color="#222" text-anchor="end" >60</text>
<text transform="translate(24.60,246.79) scale(0.88,1)" font-size="6.6" fill="#222" color="#222" text-anchor="end" >80</text>
<text transform="translate(24.60,230.55) scale(0.88,1)" font-size="6.6" fill="#222" color="#222" text-anchor="end" >100</text>
<text transform="translate(24.60,214.31) scale(0.88,1)" font-size="6.6" fill="#222" color="#222" text-anchor="end" >120</text>
<text transform="translate(42.89,315.55) scale(0.88,1)" font-size="6.6" fill="#222" color="#222" text-anchor="middle" >-70</text>
<text transform="translate(79.42,315.55) scale(0.88,1)" font-size="6.6" fill="#222" color="#222" text-anchor="middle" >-60</text>
<text transform="translate(115.95,315.55) scale(0.88,1)" font-size="6.6" fill="#222" color="#222" text-anchor="middle" >-50</text>
<text transform="translate(152.48,315.55) scale(0.88,1)" font-size="6.6" fill="#222" color="#222" text-anchor="middle" >-40</text>
<text transform="translate(189.01,315.55) scale(0.88,1)" font-size="6.6" fill="#222" color="#222" text-anchor="middle" >-30</text>
<text transform="translate(225.54,315.55) scale(0.88,1)" font-size="6.6" fill="#222" color="#222" text-anchor="middle" >-20</text>
<text transform="translate(262.07,315.55) scale(0.88,1)" font-size="6.6" fill="#222" color="#222" text-anchor="middle" >-10</text>
<text transform="translate(299.50,315.55) scale(0.88,1)" font-size="6.6" fill="#222" color="#222" text-anchor="middle" >0</text>
<text transform="translate(336.03,315.55) scale(0.88,1)" font-size="6.6" fill="#222" color="#222" text-anchor="middle" >10</text>
<text transform="translate(372.56,315.55) scale(0.88,1)" font-size="6.6" fill="#222" color="#222" text-anchor="middle" >20</text>
<text x="207.5" y="321.7" font-size="6.2" fill="#222" color="#222" text-anchor="middle" textLength="43" lengthAdjust="spacingAndGlyphs" >relative time (s)</text>
<text transform="translate(10.6,258.5) rotate(-90)" font-size="6.2" fill="#222" color="#222" text-anchor="middle" textLength="43" lengthAdjust="spacingAndGlyphs">frequency scale</text>
<text transform="translate(413.0,256.2) rotate(-90)" font-size="6.2" fill="#222" color="#222" text-anchor="middle" textLength="61.5" lengthAdjust="spacingAndGlyphs">pseudo frequency (Hz)</text>
<text x="123.8" y="198.3" font-size="6.3" fill="#222" color="#222" text-anchor="start" textLength="62.6" lengthAdjust="spacingAndGlyphs" >MP-02 Czajka, CWT: a</text>
<text x="188.1" y="201.2" font-size="4.6" fill="#222" color="#222" text-anchor="start" >x</text>
<text x="191.4" y="198.3" font-size="6.3" fill="#222" color="#222" text-anchor="start" textLength="101.2" lengthAdjust="spacingAndGlyphs" > (-), color scale: 0 (white) to 0.2 (red)</text>
<rect x="29.40" y="207.7" width="6.28" height="6.5" fill="#fefdfe"/>
<rect x="35.38" y="207.7" width="6.28" height="6.5" fill="#fcfbfd"/>
<rect x="41.37" y="207.7" width="6.28" height="6.5" fill="#faf9fc"/>
<rect x="47.35" y="207.7" width="6.28" height="6.5" fill="#f8f6fb"/>
<rect x="53.33" y="207.7" width="6.28" height="6.5" fill="#f6f2fa"/>
<rect x="59.32" y="207.7" width="6.28" height="6.5" fill="#f4eef8"/>
<rect x="65.30" y="207.7" width="6.28" height="6.5" fill="#f1ecf8"/>
<rect x="71.28" y="207.7" width="6.28" height="6.5" fill="#efebf8"/>
<rect x="77.27" y="207.7" width="6.28" height="6.5" fill="#ede9f8"/>
<rect x="83.25" y="207.7" width="6.28" height="6.5" fill="#eae9f8"/>
<rect x="89.23" y="207.7" width="6.28" height="6.5" fill="#e7e9f9"/>
<rect x="95.22" y="207.7" width="6.28" height="6.5" fill="#e3e9f9"/>
<rect x="101.20" y="207.7" width="6.28" height="6.5" fill="#deeafa"/>
<rect x="107.18" y="207.7" width="6.28" height="6.5" fill="#d7ebfa"/>
<rect x="113.17" y="207.7" width="6.28" height="6.5" fill="#d0ebfa"/>
<rect x="119.15" y="207.7" width="6.28" height="6.5" fill="#c7ebf9"/>
<rect x="125.13" y="207.7" width="6.28" height="6.5" fill="#bceaf8"/>
<rect x="131.12" y="207.7" width="6.28" height="6.5" fill="#b1e8f6"/>
<rect x="137.10" y="207.7" width="6.28" height="6.5" fill="#aae8f2"/>
<rect x="143.08" y="207.7" width="6.28" height="6.5" fill="#a6e8ed"/>
<rect x="149.07" y="207.7" width="6.28" height="6.5" fill="#a2e8e7"/>
<rect x="155.05" y="207.7" width="6.28" height="6.5" fill="#9fe7dd"/>
<rect x="161.03" y="207.7" width="6.28" height="6.5" fill="#9ee6d0"/>
<rect x="167.02" y="207.7" width="6.28" height="6.5" fill="#9ce4c4"/>
<rect x="173.00" y="207.7" width="6.28" height="6.5" fill="#9ce3b7"/>
<rect x="178.98" y="207.7" width="6.28" height="6.5" fill="#9ee3a9"/>
<rect x="184.97" y="207.7" width="6.28" height="6.5" fill="#9fe29c"/>
<rect x="190.95" y="207.7" width="6.28" height="6.5" fill="#a2e28f"/>
<rect x="196.93" y="207.7" width="6.28" height="6.5" fill="#a8e383"/>
<rect x="202.92" y="207.7" width="6.28" height="6.5" fill="#ade376"/>
<rect x="208.90" y="207.7" width="6.28" height="6.5" fill="#b4e56c"/>
<rect x="214.88" y="207.7" width="6.28" height="6.5" fill="#bee765"/>
<rect x="220.87" y="207.7" width="6.28" height="6.5" fill="#c7e95f"/>
<rect x="226.85" y="207.7" width="6.28" height="6.5" fill="#d0ea58"/>
<rect x="232.83" y="207.7" width="6.28" height="6.5" fill="#d7ec52"/>
<rect x="238.82" y="207.7" width="6.28" height="6.5" fill="#e0ed4b"/>
<rect x="244.80" y="207.7" width="6.28" height="6.5" fill="#e7ed46"/>
<rect x="250.78" y="207.7" width="6.28" height="6.5" fill="#efed42"/>
<rect x="256.77" y="207.7" width="6.28" height="6.5" fill="#f6ec3d"/>
<rect x="262.75" y="207.7" width="6.28" height="6.5" fill="#fae539"/>
<rect x="268.73" y="207.7" width="6.28" height="6.5" fill="#fcd836"/>
<rect x="274.72" y="207.7" width="6.28" height="6.5" fill="#feca32"/>
<rect x="280.70" y="207.7" width="6.28" height="6.5" fill="#ffb72c"/>
<rect x="286.68" y="207.7" width="6.28" height="6.5" fill="#ff9f27"/>
<rect x="292.67" y="207.7" width="6.28" height="6.5" fill="#ff8620"/>
<rect x="298.65" y="207.7" width="6.28" height="6.5" fill="#fe6c1b"/>
<rect x="304.63" y="207.7" width="6.28" height="6.5" fill="#fc5216"/>
<rect x="310.62" y="207.7" width="6.28" height="6.5" fill="#fa3912"/>
<rect x="316.60" y="207.7" width="6.28" height="6.5" fill="#f7250d"/>
<rect x="322.58" y="207.7" width="6.28" height="6.5" fill="#f31a0a"/>
<rect x="328.57" y="207.7" width="6.28" height="6.5" fill="#ee0e06"/>
<rect x="334.55" y="207.7" width="6.28" height="6.5" fill="#e80603"/>
<rect x="340.53" y="207.7" width="6.28" height="6.5" fill="#df0301"/>
<rect x="346.52" y="207.7" width="6.28" height="6.5" fill="#d70100"/>
<rect x="352.50" y="207.7" width="6.28" height="6.5" fill="#ce0000"/>
<rect x="358.48" y="207.7" width="6.28" height="6.5" fill="#c20000"/>
<rect x="364.47" y="207.7" width="6.28" height="6.5" fill="#b70000"/>
<rect x="370.45" y="207.7" width="6.28" height="6.5" fill="#ab0000"/>
<rect x="376.43" y="207.7" width="6.28" height="6.5" fill="#9f0000"/>
<rect x="382.42" y="207.7" width="6.28" height="6.5" fill="#920000"/>
<line x1="65.3" y1="207.7" x2="65.3" y2="214.2" stroke="#555" stroke-width="0.6"/>
<line x1="101.2" y1="207.7" x2="101.2" y2="214.2" stroke="#555" stroke-width="0.6"/>
<line x1="137.1" y1="207.7" x2="137.1" y2="214.2" stroke="#555" stroke-width="0.6"/>
<line x1="173.0" y1="207.7" x2="173.0" y2="214.2" stroke="#555" stroke-width="0.6"/>
<line x1="208.9" y1="207.7" x2="208.9" y2="214.2" stroke="#555" stroke-width="0.6"/>
<line x1="244.8" y1="207.7" x2="244.8" y2="214.2" stroke="#555" stroke-width="0.6"/>
<line x1="280.7" y1="207.7" x2="280.7" y2="214.2" stroke="#555" stroke-width="0.6"/>
<line x1="316.6" y1="207.7" x2="316.6" y2="214.2" stroke="#555" stroke-width="0.6"/>
<line x1="352.5" y1="207.7" x2="352.5" y2="214.2" stroke="#555" stroke-width="0.6"/>
<rect x="29.4" y="207.7" width="359.0" height="6.5" fill="none" stroke="#888" stroke-width="0.7"/>
<text transform="translate(29.40,220.65) scale(0.88,1)" font-size="6.6" fill="#222" color="#222" text-anchor="middle" >0</text>
<text transform="translate(65.30,220.65) scale(0.88,1)" font-size="6.6" fill="#222" color="#222" text-anchor="middle" >0.02</text>
<text transform="translate(101.20,220.65) scale(0.88,1)" font-size="6.6" fill="#222" color="#222" text-anchor="middle" >0.04</text>
<text transform="translate(137.10,220.65) scale(0.88,1)" font-size="6.6" fill="#222" color="#222" text-anchor="middle" >0.06</text>
<text transform="translate(173.00,220.65) scale(0.88,1)" font-size="6.6" fill="#222" color="#222" text-anchor="middle" >0.08</text>
<text transform="translate(208.90,220.65) scale(0.88,1)" font-size="6.6" fill="#222" color="#222" text-anchor="middle" >0.1</text>
<text transform="translate(244.80,220.65) scale(0.88,1)" font-size="6.6" fill="#222" color="#222" text-anchor="middle" >0.12</text>
<text transform="translate(280.70,220.65) scale(0.88,1)" font-size="6.6" fill="#222" color="#222" text-anchor="middle" >0.14</text>
<text transform="translate(316.60,220.65) scale(0.88,1)" font-size="6.6" fill="#222" color="#222" text-anchor="middle" >0.16</text>
<text transform="translate(352.50,220.65) scale(0.88,1)" font-size="6.6" fill="#222" color="#222" text-anchor="middle" >0.18</text>
<text transform="translate(388.40,220.65) scale(0.88,1)" font-size="6.6" fill="#222" color="#222" text-anchor="middle" >0.2</text>
<defs><clipPath id="cc0"><rect x="26" y="206" width="365" height="103"/></clipPath></defs>
<g clip-path="url(#cc0)" fill="none" stroke="#5ac4ee" stroke-width="0.9" stroke-dasharray="3.4 2.2">
<ellipse cx="212" cy="293.5" rx="178" ry="10.5"/>
<ellipse cx="344.5" cy="264" rx="36.5" ry="40.5"/>
</g>
<text x="168.9" y="260.6" font-size="6.9" fill="#18b0f0" color="#18b0f0" text-anchor="middle" textLength="65.2" lengthAdjust="spacingAndGlyphs" stroke="#18b0f0" stroke-width="0.22">engine induced vibrations</text>
<line x1="164.4" y1="262.8" x2="175.8" y2="279.7" stroke="#18b0f0" stroke-width="0.7"/>
<path d="M177.6 282.4L174.6 280.6L177.1 278.9Z" fill="#18b0f0"/>
<text x="237.0" y="237.4" font-size="6.9" fill="#18b0f0" color="#18b0f0" text-anchor="middle" textLength="54" lengthAdjust="spacingAndGlyphs" stroke="#18b0f0" stroke-width="0.22">rolling on the ground</text>
<line x1="269" y1="235.5" x2="304.5" y2="249.8" stroke="#18b0f0" stroke-width="0.7"/>
<path d="M307.5 251.0L304.0 251.2L305.1 248.4Z" fill="#18b0f0"/>
<text x="264.3" y="260.4" font-size="6.9" fill="#18b0f0" color="#18b0f0" text-anchor="middle" textLength="28.6" lengthAdjust="spacingAndGlyphs" stroke="#18b0f0" stroke-width="0.22">touchdown</text>
<line x1="280.5" y1="260.6" x2="293.2" y2="265.5" stroke="#18b0f0" stroke-width="0.7"/>
<path d="M296.2 266.6L292.7 266.9L293.7 264.1Z" fill="#18b0f0"/>
<line x1="300.3" y1="256" x2="300.3" y2="263" stroke="#d2bca8" stroke-width="0.9"/>
<line x1="300.3" y1="263" x2="300.3" y2="280" stroke="#a8503c" stroke-width="1.0"/>
<rect x="36.3" y="223.5" width="14.6" height="15.3" fill="#fff" stroke="#9a9a9a" stroke-width="0.8"/>
<text transform="translate(43.60,236.25) scale(0.92,1)" font-size="15.2" fill="#111" color="#111" text-anchor="middle" stroke="#111" stroke-width="0.3">C</text>
<line x1="26" y1="428" x2="26" y2="504" stroke="#f2c2c2" stroke-width="1"/>
<path fill="#f6f2fa" d="M26 487v19h1v-19zM27 482v17h1v-17zM28 480v16h1v-16zM29 477v15h1v-15zM30 482v16h1v-16zM31 486v19h1v-19zM32 480v17h1v-17zM33 496v10h1v-10zM35 506v1h1v-1zM36 506v1h1v-1zM37 500v7h1v-7zM38 478v16h1v-16zM39 500v7h1v-7zM39 527v1h1v-1zM40 493v15h1v-15zM41 479v15h1v-15zM42 491v22h1v-22zM43 493v20h1v-20zM44 482v16h1v-16zM44 528v1h1v-1zM45 480v15h1v-15zM45 528v1h1v-1zM46 514v1h1v-1zM46 528v2h1v-2zM47 496v17h1v-17zM47 528v1h1v-1zM48 480v16h1v-16zM48 528v1h1v-1zM49 502v11h1v-11zM49 528v1h1v-1zM51 494v19h1v-19zM51 528v1h1v-1zM52 478v16h1v-16zM52 528v1h1v-1zM53 482v17h1v-17zM53 528v1h1v-1zM54 490v23h1v-23zM55 497v16h1v-16zM55 528v1h1v-1zM56 481v17h1v-17zM56 528v1h1v-1zM57 500v13h1v-13zM57 528v1h1v-1zM58 489v24h1v-24zM58 528v1h1v-1zM59 487v18h1v-18zM59 528v1h1v-1zM60 528v1h1v-1zM61 507v6h1v-6zM61 528v1h1v-1zM62 528v1h1v-1zM63 501v12h1v-12zM63 528v1h1v-1zM64 494v19h1v-19zM64 528v1h1v-1zM65 528v1h1v-1zM66 482v17h1v-17zM66 528v1h1v-1zM67 528v1h1v-1zM68 480v16h1v-16zM68 528v1h1v-1zM69 508v5h1v-5zM69 528v1h1v-1zM70 493v20h1v-20zM70 528v1h1v-1zM71 528v1h1v-1zM72 484v18h1v-18zM73 507v8h1v-8zM73 528v2h1v-2zM74 498v15h1v-15zM74 528v1h1v-1zM75 481v16h1v-16zM75 528v1h1v-1zM76 500v13h1v-13zM76 528v1h1v-1zM77 528v1h1v-1zM78 480v16h1v-16zM78 528v1h1v-1zM79 483v18h1v-18zM79 528v1h1v-1zM80 528v1h1v-1zM81 481v16h1v-16zM81 528v1h1v-1zM82 484v17h1v-17zM82 528v1h1v-1zM83 488v19h1v-19zM83 528v1h1v-1zM84 478v16h1v-16zM84 528v1h1v-1zM85 478v16h1v-16zM85 528v1h1v-1zM86 498v15h1v-15zM86 528v1h1v-1zM87 484v17h1v-17zM87 513v2h1v-2zM87 528v2h1v-2zM88 494v19h1v-19zM88 528v1h1v-1zM89 481v16h1v-16zM89 528v1h1v-1zM90 528v1h1v-1zM91 498v15h1v-15zM91 528v1h1v-1zM92 528v1h1v-1zM93 495v18h1v-18zM93 514v1h1v-1zM94 481v16h1v-16zM94 528v1h1v-1zM95 486v18h1v-18zM95 528v1h1v-1zM96 492v21h1v-21zM96 528v1h1v-1zM97 482v17h1v-17zM97 528v1h1v-1zM98 479v15h1v-15zM98 528v1h1v-1zM99 528v1h1v-1zM100 481v16h1v-16zM100 528v1h1v-1zM101 501v14h1v-14zM102 486v19h1v-19zM102 528v1h1v-1zM103 502v11h1v-11zM103 528v1h1v-1zM104 486v18h1v-18zM104 528v1h1v-1zM105 528v1h1v-1zM106 499v14h1v-14zM106 528v1h1v-1zM107 494v19h1v-19zM107 528v1h1v-1zM108 528v1h1v-1zM109 481v16h1v-16zM109 528v1h1v-1zM110 490v23h1v-23zM110 528v1h1v-1zM111 494v21h1v-21zM111 528v2h1v-2zM112 479v16h1v-16zM112 528v1h1v-1zM113 490v23h1v-23zM113 528v1h1v-1zM114 528v1h1v-1zM115 483v17h1v-17zM116 528v1h1v-1zM117 482v17h1v-17zM117 528v1h1v-1zM118 486v19h1v-19zM118 528v1h1v-1zM119 528v1h1v-1zM120 481v17h1v-17zM120 528v1h1v-1zM121 479v16h1v-16zM121 528v1h1v-1zM122 484v18h1v-18zM122 528v1h1v-1zM123 485v18h1v-18zM123 528v1h1v-1zM124 489v24h1v-24zM124 528v1h1v-1zM125 507v6h1v-6zM125 528v1h1v-1zM126 489v19h1v-19zM126 528v1h1v-1zM127 485v18h1v-18zM127 528v1h1v-1zM128 486v18h1v-18zM128 514v1h1v-1zM128 528v1h1v-1zM129 479v16h1v-16zM129 528v1h1v-1zM130 479v15h1v-15zM130 528v1h1v-1zM131 498v11h1v-11zM131 528v1h1v-1zM132 482v17h1v-17zM132 528v2h1v-2zM133 528v1h1v-1zM134 488v19h1v-19zM134 528v1h1v-1zM135 486v18h1v-18zM135 528v1h1v-1zM136 492v18h1v-18zM136 528v1h1v-1zM137 487v19h1v-19zM137 528v1h1v-1zM138 483v17h1v-17zM138 528v1h1v-1zM139 480v16h1v-16zM139 528v1h1v-1zM140 503v6h1v-6zM140 528v1h1v-1zM141 482v17h1v-17zM141 528v1h1v-1zM142 490v20h1v-20zM142 528v1h1v-1zM143 488v20h1v-20zM144 485v18h1v-18zM145 479v15h1v-15zM145 526v1h1v-1zM148 518v1h1v-1zM148 523v1h1v-1zM149 488v19h1v-19zM149 515v1h1v-1zM150 481v16h1v-16zM153 490v24h1v-24zM154 481v16h1v-16zM156 494v20h1v-20zM156 519v1h1v-1zM156 522v1h1v-1zM157 488v19h1v-19zM158 510v1h1v-1zM158 516v1h1v-1zM158 518v1h1v-1zM158 523v1h1v-1zM159 520v2h1v-2zM160 505v5h1v-5zM160 517v2h1v-2zM160 523v7h1v-7zM161 502v8h1v-8zM161 518v1h1v-1zM161 523v1h1v-1zM162 490v22h1v-22zM163 489v19h1v-19zM164 510v1h1v-1zM164 516v1h1v-1zM165 480v16h1v-16zM166 505v9h1v-9zM166 519v4h1v-4zM166 527v3h1v-3zM169 482v17h1v-17zM172 484v18h1v-18zM173 528v1h1v-1zM174 507v4h1v-4zM175 484v17h1v-17zM177 478v15h1v-15zM178 529v1h1v-1zM179 482v17h1v-17zM180 483v17h1v-17zM181 481v16h1v-16zM182 484v17h1v-17zM182 529v1h1v-1zM183 479v16h1v-16zM185 510v1h1v-1zM187 505v6h1v-6zM189 489v18h1v-18zM190 501v9h1v-9zM191 499v11h1v-11zM192 494v17h1v-17zM194 481v16h1v-16zM195 478v15h1v-15zM198 486v18h1v-18zM200 482v17h1v-17zM201 478v16h1v-16zM202 507v3h1v-3zM203 484v17h1v-17zM204 490v21h1v-21zM205 481v17h1v-17zM208 480v16h1v-16zM209 478v15h1v-15zM209 528v1h1v-1zM212 495v16h1v-16zM213 484v17h1v-17zM214 484v17h1v-17zM215 484v18h1v-18zM216 496v15h1v-15zM217 497v13h1v-13zM218 507v4h1v-4zM219 503v8h1v-8zM221 496v15h1v-15zM222 484v17h1v-17zM222 528v2h1v-2zM223 498v13h1v-13zM224 486v19h1v-19zM225 482v16h1v-16zM225 528v1h1v-1zM226 510v1h1v-1zM227 501v10h1v-10zM229 496v15h1v-15zM230 479v15h1v-15zM230 529v1h1v-1zM231 505v6h1v-6zM231 528v1h1v-1zM233 483v17h1v-17zM233 528v1h1v-1zM234 484v17h1v-17zM235 487v19h1v-19zM236 481v16h1v-16zM237 507v2h1v-2zM238 510v1h1v-1zM241 503v7h1v-7zM242 482v17h1v-17zM243 483v17h1v-17zM245 490v21h1v-21zM247 494v18h1v-18zM248 488v20h1v-20zM249 496v15h1v-15zM250 497v14h1v-14zM251 495v16h1v-16zM252 478v15h1v-15zM253 486v18h1v-18zM254 487v18h1v-18zM256 492v19h1v-19zM257 500v11h1v-11zM258 500v11h1v-11zM259 496v15h1v-15zM260 484v17h1v-17zM261 490v21h1v-21zM262 495v16h1v-16zM263 488v19h1v-19zM264 487v19h1v-19zM265 479v16h1v-16zM268 487v19h1v-19zM269 487v18h1v-18zM270 504v7h1v-7zM270 529v1h1v-1zM271 481v17h1v-17zM272 504v7h1v-7zM273 490v21h1v-21zM276 497v12h1v-12zM277 478v15h1v-15zM278 500v11h1v-11zM279 503v8h1v-8zM280 501v12h1v-12zM281 485v17h1v-17zM282 486v18h1v-18zM283 516v1h1v-1zM283 521v1h1v-1zM286 487v19h1v-19zM286 517v1h1v-1zM286 520v1h1v-1zM287 482v17h1v-17zM288 480v16h1v-16zM289 494v19h1v-19zM290 481v16h1v-16zM291 483v17h1v-17zM291 518v2h1v-2zM294 488v19h1v-19zM294 513v1h1v-1zM295 497v16h1v-16zM296 481v17h1v-17zM296 515v1h1v-1zM296 522v1h1v-1zM297 481v17h1v-17zM298 481v16h1v-16zM300 469v1h1v-1zM301 512v1h1v-1zM302 480v16h1v-16zM302 528v2h1v-2zM303 498v14h1v-14zM304 485v17h1v-17zM305 506v4h1v-4zM306 491v20h1v-20zM307 494v18h1v-18zM308 497v14h1v-14zM309 486v18h1v-18zM310 482v17h1v-17zM311 497v15h1v-15zM312 481v16h1v-16zM313 485v18h1v-18zM315 486v19h1v-19zM317 478v15h1v-15zM318 489v19h1v-19zM319 489v23h1v-23zM320 500v11h1v-11zM321 500v12h1v-12zM322 483v17h1v-17zM323 477v15h1v-15zM324 482v17h1v-17zM324 528v2h1v-2zM325 499v13h1v-13zM326 484v18h1v-18zM327 487v19h1v-19zM328 493v19h1v-19zM329 488v19h1v-19zM331 496v16h1v-16zM332 495v17h1v-17zM333 498v14h1v-14zM334 481v16h1v-16zM335 490v20h1v-20zM337 501v11h1v-11zM339 478v16h1v-16zM342 486v18h1v-18zM342 529v1h1v-1zM343 494v18h1v-18zM343 528v1h1v-1zM345 480v16h1v-16zM346 507v5h1v-5zM347 492v20h1v-20zM348 485v17h1v-17zM350 485v18h1v-18zM351 484v17h1v-17zM352 479v15h1v-15zM353 479v15h1v-15zM354 481v16h1v-16zM355 487v19h1v-19zM356 494v18h1v-18zM357 501v11h1v-11zM359 492v16h1v-16zM360 483v18h1v-18zM361 484v18h1v-18zM362 497v15h1v-15zM363 478v16h1v-16zM364 480v16h1v-16zM367 483v17h1v-17zM369 482v17h1v-17zM370 478v15h1v-15zM371 486v18h1v-18zM373 497v15h1v-15zM375 503v9h1v-9zM376 481v17h1v-17zM377 479v15h1v-15zM378 477v15h1v-15zM379 500v12h1v-12zM380 480v16h1v-16zM381 478v14h1v-14zM383 478v15h1v-15zM384 488v20h1v-20zM385 505v7h1v-7zM386 480v15h1v-15zM387 507v5h1v-5zM388 483v17h1v-17zM389 490v22h1v-22zM389 528v2h1v-2zM390 512v1h1v-1z"/>
<path fill="#f3edf8" d="M26 506v3h1v-3zM27 499v9h1v-9zM27 527v1h1v-1zM28 496v10h1v-10zM29 492v14h1v-14zM30 498v8h1v-8zM31 505v2h1v-2zM32 497v10h1v-10zM33 527v1h1v-1zM37 528v2h1v-2zM38 494v13h1v-13zM38 527v1h1v-1zM40 508v1h1v-1zM40 514v2h1v-2zM40 527v3h1v-3zM41 494v19h1v-19zM41 526v1h1v-1zM43 515v1h1v-1zM44 498v15h1v-15zM45 495v18h1v-18zM46 515v1h1v-1zM47 515v1h1v-1zM48 496v17h1v-17zM48 515v1h1v-1zM50 515v1h1v-1zM50 528v2h1v-2zM51 515v1h1v-1zM52 494v19h1v-19zM53 499v14h1v-14zM53 515v1h1v-1zM54 515v1h1v-1zM54 528v2h1v-2zM56 498v15h1v-15zM56 515v1h1v-1zM58 515v1h1v-1zM59 505v8h1v-8zM66 499v14h1v-14zM66 515v1h1v-1zM67 515v1h1v-1zM68 496v17h1v-17zM68 515v1h1v-1zM69 515v1h1v-1zM72 502v13h1v-13zM72 528v2h1v-2zM73 515v1h1v-1zM75 497v16h1v-16zM75 515v1h1v-1zM76 515v1h1v-1zM78 496v17h1v-17zM79 501v12h1v-12zM79 515v1h1v-1zM80 515v1h1v-1zM81 497v16h1v-16zM81 515v1h1v-1zM82 501v12h1v-12zM83 507v6h1v-6zM83 515v1h1v-1zM84 494v19h1v-19zM84 515v1h1v-1zM85 494v19h1v-19zM86 515v1h1v-1zM87 501v12h1v-12zM87 515v1h1v-1zM88 515v1h1v-1zM89 497v16h1v-16zM89 515v1h1v-1zM90 515v1h1v-1zM91 515v1h1v-1zM92 515v1h1v-1zM93 515v1h1v-1zM93 528v2h1v-2zM94 497v16h1v-16zM94 515v1h1v-1zM95 504v9h1v-9zM96 515v1h1v-1zM97 499v14h1v-14zM98 494v19h1v-19zM100 497v16h1v-16zM100 515v1h1v-1zM101 515v1h1v-1zM101 528v2h1v-2zM102 505v8h1v-8zM102 515v1h1v-1zM104 504v9h1v-9zM104 515v1h1v-1zM105 515v1h1v-1zM108 515v1h1v-1zM109 497v16h1v-16zM109 515v1h1v-1zM110 515v1h1v-1zM111 515v1h1v-1zM112 495v18h1v-18zM112 515v1h1v-1zM115 500v15h1v-15zM115 528v2h1v-2zM117 499v14h1v-14zM117 515v1h1v-1zM118 505v8h1v-8zM119 515v1h1v-1zM120 498v15h1v-15zM121 495v18h1v-18zM121 515v1h1v-1zM122 502v11h1v-11zM122 515v1h1v-1zM123 503v10h1v-10zM123 515v1h1v-1zM125 515v1h1v-1zM126 508v5h1v-5zM126 515v1h1v-1zM127 503v10h1v-10zM127 515v1h1v-1zM128 504v10h1v-10zM129 495v15h1v-15zM130 494v16h1v-16zM132 499v10h1v-10zM133 509v1h1v-1zM134 507v2h1v-2zM135 504v5h1v-5zM137 506v4h1v-4zM138 500v10h1v-10zM139 496v13h1v-13zM140 509v1h1v-1zM141 499v10h1v-10zM143 508v1h1v-1zM144 503v7h1v-7zM145 494v17h1v-17zM149 507v5h1v-5zM150 497v13h1v-13zM153 519v1h1v-1zM153 522v1h1v-1zM154 497v13h1v-13zM157 507v3h1v-3zM162 512v1h1v-1zM162 514v1h1v-1zM163 508v3h1v-3zM165 496v19h1v-19zM167 511v1h1v-1zM169 499v12h1v-12zM171 510v1h1v-1zM172 502v9h1v-9zM173 510v1h1v-1zM175 501v10h1v-10zM177 493v18h1v-18zM178 528v1h1v-1zM179 499v11h1v-11zM180 500v11h1v-11zM181 497v14h1v-14zM182 501v10h1v-10zM183 495v16h1v-16zM185 528v1h1v-1zM187 529v1h1v-1zM189 507v2h1v-2zM191 510v1h1v-1zM191 529v1h1v-1zM192 528v2h1v-2zM194 497v14h1v-14zM195 493v17h1v-17zM197 510v1h1v-1zM197 528v2h1v-2zM198 504v7h1v-7zM198 529v1h1v-1zM200 499v12h1v-12zM201 494v17h1v-17zM203 501v10h1v-10zM203 528v1h1v-1zM205 498v13h1v-13zM208 496v15h1v-15zM209 493v17h1v-17zM213 501v10h1v-10zM214 501v10h1v-10zM215 502v9h1v-9zM222 501v10h1v-10zM224 505v5h1v-5zM224 529v1h1v-1zM225 498v12h1v-12zM230 494v17h1v-17zM233 500v11h1v-11zM234 501v10h1v-10zM235 506v5h1v-5zM235 529v1h1v-1zM236 497v14h1v-14zM237 509v2h1v-2zM237 529v1h1v-1zM241 510v1h1v-1zM242 499v12h1v-12zM243 500v11h1v-11zM247 527v1h1v-1zM248 508v3h1v-3zM252 493v18h1v-18zM253 504v7h1v-7zM254 505v6h1v-6zM260 501v10h1v-10zM263 507v4h1v-4zM264 506v5h1v-5zM265 495v16h1v-16zM268 506v5h1v-5zM269 505v6h1v-6zM271 498v13h1v-13zM276 509v2h1v-2zM276 529v1h1v-1zM277 493v18h1v-18zM277 529v1h1v-1zM280 527v1h1v-1zM281 502v11h1v-11zM282 504v9h1v-9zM286 506v7h1v-7zM286 518v2h1v-2zM287 499v14h1v-14zM288 496v14h1v-14zM290 497v16h1v-16zM290 517v1h1v-1zM290 520v1h1v-1zM291 500v13h1v-13zM293 516v1h1v-1zM293 521v1h1v-1zM294 507v6h1v-6zM294 514v16h1v-16zM296 498v15h1v-15zM297 498v15h1v-15zM298 497v16h1v-16zM300 512v1h1v-1zM301 528v2h1v-2zM302 496v17h1v-17zM303 512v1h1v-1zM304 502v9h1v-9zM305 510v1h1v-1zM305 527v1h1v-1zM307 512v1h1v-1zM308 511v2h1v-2zM308 528v1h1v-1zM309 504v8h1v-8zM310 499v13h1v-13zM312 497v16h1v-16zM313 503v10h1v-10zM314 512v1h1v-1zM315 505v8h1v-8zM316 512v1h1v-1zM317 493v20h1v-20zM318 508v4h1v-4zM320 511v1h1v-1zM322 500v12h1v-12zM323 492v15h1v-15zM323 527v1h1v-1zM324 499v14h1v-14zM325 512v1h1v-1zM325 528v2h1v-2zM326 502v11h1v-11zM326 527v1h1v-1zM327 506v7h1v-7zM328 512v1h1v-1zM328 528v2h1v-2zM329 507v6h1v-6zM329 527v1h1v-1zM330 512v1h1v-1zM333 512v1h1v-1zM334 497v16h1v-16zM334 527v1h1v-1zM335 510v3h1v-3zM335 527v3h1v-3zM339 494v19h1v-19zM339 527v1h1v-1zM340 512v1h1v-1zM340 527v1h1v-1zM341 512v1h1v-1zM342 504v9h1v-9zM343 512v1h1v-1zM344 512v1h1v-1zM345 496v17h1v-17zM346 512v1h1v-1zM347 527v1h1v-1zM348 502v11h1v-11zM348 527v1h1v-1zM349 512v1h1v-1zM349 527v1h1v-1zM350 503v10h1v-10zM350 527v1h1v-1zM351 501v11h1v-11zM352 494v19h1v-19zM352 527v1h1v-1zM353 494v19h1v-19zM353 527v1h1v-1zM354 497v16h1v-16zM354 527v3h1v-3zM355 506v7h1v-7zM355 527v1h1v-1zM356 512v1h1v-1zM356 527v1h1v-1zM357 512v1h1v-1zM358 528v1h1v-1zM359 508v4h1v-4zM359 528v2h1v-2zM360 501v11h1v-11zM361 502v11h1v-11zM361 527v1h1v-1zM362 512v1h1v-1zM362 527v1h1v-1zM363 494v19h1v-19zM363 527v1h1v-1zM364 496v16h1v-16zM364 527v1h1v-1zM365 512v1h1v-1zM365 527v3h1v-3zM366 512v1h1v-1zM366 527v1h1v-1zM367 500v11h1v-11zM367 527v1h1v-1zM368 527v1h1v-1zM369 499v14h1v-14zM370 493v20h1v-20zM371 504v9h1v-9zM371 527v1h1v-1zM372 512v1h1v-1zM372 527v1h1v-1zM373 527v1h1v-1zM374 512v1h1v-1zM374 527v1h1v-1zM375 527v1h1v-1zM376 498v15h1v-15zM376 527v3h1v-3zM377 494v19h1v-19zM377 527v1h1v-1zM378 492v15h1v-15zM378 527v1h1v-1zM379 512v1h1v-1zM379 527v1h1v-1zM380 496v16h1v-16zM380 527v1h1v-1zM381 492v15h1v-15zM381 527v1h1v-1zM382 512v1h1v-1zM383 493v15h1v-15zM383 527v1h1v-1zM384 508v5h1v-5zM384 527v1h1v-1zM385 512v1h1v-1zM385 527v1h1v-1zM386 495v18h1v-18zM386 527v1h1v-1zM387 512v1h1v-1zM387 527v1h1v-1zM388 500v12h1v-12zM389 512v1h1v-1z"/>
<path fill="#efebf8" d="M26 509v1h1v-1zM26 513v1h1v-1zM33 506v1h1v-1zM45 515v1h1v-1zM57 515v1h1v-1zM65 515v1h1v-1zM82 515v1h1v-1zM114 515v1h1v-1zM130 510v1h1v-1zM136 510v1h1v-1zM144 510v1h1v-1zM145 515v1h1v-1zM147 510v1h1v-1zM147 516v1h1v-1zM148 511v1h1v-1zM148 515v1h1v-1zM149 512v1h1v-1zM149 514v1h1v-1zM150 510v1h1v-1zM150 516v1h1v-1zM151 510v1h1v-1zM151 516v1h1v-1zM151 520v2h1v-2zM154 510v1h1v-1zM154 516v1h1v-1zM155 520v2h1v-2zM157 519v1h1v-1zM157 522v1h1v-1zM160 510v1h1v-1zM160 516v1h1v-1zM162 513v1h1v-1zM162 519v1h1v-1zM162 522v1h1v-1zM163 511v1h1v-1zM163 515v1h1v-1zM163 520v2h1v-2zM164 511v1h1v-1zM164 515v1h1v-1zM183 511v1h1v-1zM189 509v2h1v-2zM189 529v1h1v-1zM190 510v1h1v-1zM193 511v1h1v-1zM202 510v1h1v-1zM204 528v1h1v-1zM217 510v1h1v-1zM225 510v1h1v-1zM230 511v1h1v-1zM236 528v1h1v-1zM242 528v1h1v-1zM244 510v1h1v-1zM248 511v1h1v-1zM279 511v1h1v-1zM283 517v1h1v-1zM283 520v1h1v-1zM288 510v6h1v-6zM288 522v8h1v-8zM290 518v2h1v-2zM297 516v1h1v-1zM297 521v1h1v-1zM298 516v1h1v-1zM298 521v1h1v-1zM302 527v1h1v-1zM320 528v2h1v-2zM323 507v5h1v-5zM347 512v1h1v-1zM351 512v1h1v-1zM360 512v1h1v-1zM378 507v6h1v-6zM381 507v5h1v-5zM383 508v4h1v-4z"/>
<path fill="#ece9f8" d="M28 506v1h1v-1zM38 507v1h1v-1zM42 515v1h1v-1zM42 527v1h1v-1zM77 515v1h1v-1zM78 515v1h1v-1zM115 515v1h1v-1zM118 515v1h1v-1zM138 510v1h1v-1zM143 509v1h1v-1zM144 527v1h1v-1zM149 513v1h1v-1zM154 519v1h1v-1zM154 522v1h1v-1zM158 511v1h1v-1zM158 515v1h1v-1zM159 510v1h1v-1zM159 516v1h1v-1zM161 510v1h1v-1zM161 516v1h1v-1zM179 510v1h1v-1zM182 528v1h1v-1zM195 510v1h1v-1zM209 510v1h1v-1zM210 510v1h1v-1zM219 528v1h1v-1zM228 510v1h1v-1zM288 516v1h1v-1zM288 521v1h1v-1zM304 511v1h1v-1zM310 527v1h1v-1zM311 527v1h1v-1zM323 512v1h1v-1zM373 512v1h1v-1zM375 512v1h1v-1zM382 527v1h1v-1zM388 527v1h1v-1z"/>
<path fill="#e7e9f9" d="M26 510v1h1v-1zM26 512v1h1v-1zM26 526v1h1v-1zM28 527v1h1v-1zM29 506v1h1v-1zM30 506v1h1v-1zM31 527v1h1v-1zM32 527v1h1v-1zM35 527v1h1v-1zM37 527v1h1v-1zM39 507v1h1v-1zM44 515v1h1v-1zM49 515v1h1v-1zM55 515v1h1v-1zM61 515v1h1v-1zM72 515v1h1v-1zM85 515v1h1v-1zM95 515v1h1v-1zM97 515v1h1v-1zM103 515v1h1v-1zM113 515v1h1v-1zM135 509v1h1v-1zM139 509v1h1v-1zM141 509v1h1v-1zM144 515v1h1v-1zM145 511v1h1v-1zM148 512v1h1v-1zM148 514v1h1v-1zM156 520v2h1v-2zM157 510v1h1v-1zM157 516v1h1v-1zM163 512v1h1v-1zM163 514v1h1v-1zM184 528v1h1v-1zM187 511v1h1v-1zM187 528v1h1v-1zM193 528v1h1v-1zM201 511v1h1v-1zM211 511v1h1v-1zM212 528v1h1v-1zM224 510v1h1v-1zM226 528v1h1v-1zM227 511v1h1v-1zM239 510v1h1v-1zM283 518v2h1v-2zM293 517v1h1v-1zM293 520v1h1v-1zM296 516v1h1v-1zM296 521v1h1v-1zM300 470v1h1v-1zM300 511v1h1v-1zM300 523v1h1v-1zM309 512v1h1v-1zM312 527v1h1v-1zM314 527v1h1v-1zM318 512v1h1v-1zM322 512v1h1v-1zM331 512v1h1v-1zM338 512v1h1v-1zM357 527v1h1v-1zM359 527v1h1v-1zM360 527v1h1v-1zM364 512v1h1v-1zM390 513v1h1v-1zM390 528v1h1v-1z"/>
<path fill="#e2eafa" d="M26 511v1h1v-1zM27 508v1h1v-1zM27 514v1h1v-1zM29 527v1h1v-1zM30 527v1h1v-1zM34 507v1h1v-1zM34 527v1h1v-1zM35 507v1h1v-1zM36 507v1h1v-1zM36 527v1h1v-1zM37 507v1h1v-1zM40 509v2h1v-2zM40 512v2h1v-2zM41 517v1h1v-1zM43 527v1h1v-1zM44 527v1h1v-1zM45 527v1h1v-1zM46 527v1h1v-1zM47 527v1h1v-1zM48 527v1h1v-1zM49 527v1h1v-1zM50 527v1h1v-1zM51 527v1h1v-1zM52 515v1h1v-1zM52 527v1h1v-1zM53 527v1h1v-1zM54 527v1h1v-1zM55 527v1h1v-1zM56 527v1h1v-1zM57 527v1h1v-1zM58 527v1h1v-1zM59 515v1h1v-1zM59 527v1h1v-1zM60 515v1h1v-1zM60 527v1h1v-1zM61 527v1h1v-1zM62 515v1h1v-1zM62 527v1h1v-1zM63 515v1h1v-1zM63 527v1h1v-1zM64 515v1h1v-1zM64 527v1h1v-1zM65 527v1h1v-1zM66 527v1h1v-1zM67 527v1h1v-1zM68 527v1h1v-1zM69 527v1h1v-1zM70 515v1h1v-1zM70 527v1h1v-1zM71 515v1h1v-1zM71 527v1h1v-1zM72 527v1h1v-1zM73 527v1h1v-1zM74 515v1h1v-1zM74 527v1h1v-1zM75 527v1h1v-1zM76 527v1h1v-1zM77 527v1h1v-1zM78 527v1h1v-1zM79 527v1h1v-1zM80 527v1h1v-1zM81 527v1h1v-1zM82 527v1h1v-1zM83 527v1h1v-1zM84 527v1h1v-1zM85 527v1h1v-1zM86 527v1h1v-1zM87 527v1h1v-1zM88 527v1h1v-1zM89 527v1h1v-1zM90 527v1h1v-1zM91 527v1h1v-1zM92 527v1h1v-1zM93 527v1h1v-1zM94 527v1h1v-1zM95 527v1h1v-1zM96 527v1h1v-1zM97 527v1h1v-1zM98 515v1h1v-1zM98 527v1h1v-1zM99 515v1h1v-1zM99 527v1h1v-1zM100 527v1h1v-1zM101 527v1h1v-1zM102 527v1h1v-1zM103 527v1h1v-1zM104 527v1h1v-1zM105 527v1h1v-1zM106 515v1h1v-1zM106 527v1h1v-1zM107 515v1h1v-1zM107 527v1h1v-1zM108 527v1h1v-1zM109 527v1h1v-1zM110 527v1h1v-1zM111 527v1h1v-1zM112 527v1h1v-1zM113 527v1h1v-1zM114 527v1h1v-1zM115 527v1h1v-1zM116 515v1h1v-1zM116 527v1h1v-1zM117 527v1h1v-1zM118 527v1h1v-1zM119 527v1h1v-1zM120 515v1h1v-1zM120 527v1h1v-1zM121 527v1h1v-1zM122 527v1h1v-1zM123 527v1h1v-1zM124 515v1h1v-1zM124 527v1h1v-1zM125 527v1h1v-1zM126 527v1h1v-1zM127 527v1h1v-1zM128 515v1h1v-1zM128 527v1h1v-1zM129 510v1h1v-1zM129 515v1h1v-1zM129 527v1h1v-1zM130 511v1h1v-1zM130 515v1h1v-1zM130 527v1h1v-1zM131 509v1h1v-1zM131 527v1h1v-1zM132 509v1h1v-1zM132 527v1h1v-1zM133 510v1h1v-1zM133 527v1h1v-1zM134 509v1h1v-1zM134 527v1h1v-1zM135 527v1h1v-1zM136 511v1h1v-1zM136 515v1h1v-1zM136 527v1h1v-1zM137 510v1h1v-1zM137 527v1h1v-1zM138 515v1h1v-1zM138 527v1h1v-1zM139 527v1h1v-1zM140 510v1h1v-1zM140 527v1h1v-1zM141 527v1h1v-1zM142 510v1h1v-1zM142 515v1h1v-1zM142 527v1h1v-1zM143 527v1h1v-1zM144 511v1h1v-1zM144 516v1h1v-1zM145 512v3h1v-3zM147 511v1h1v-1zM147 515v1h1v-1zM148 513v1h1v-1zM149 519v1h1v-1zM149 522v1h1v-1zM150 511v1h1v-1zM150 515v1h1v-1zM150 519v1h1v-1zM150 522v1h1v-1zM151 511v1h1v-1zM151 515v1h1v-1zM153 520v2h1v-2zM154 511v1h1v-1zM154 515v1h1v-1zM157 520v2h1v-2zM158 512v3h1v-3zM159 511v1h1v-1zM159 515v1h1v-1zM160 511v1h1v-1zM160 515v1h1v-1zM160 519v1h1v-1zM160 522v1h1v-1zM161 511v1h1v-1zM161 515v1h1v-1zM162 520v2h1v-2zM163 513v1h1v-1zM164 512v3h1v-3zM165 519v1h1v-1zM165 522v1h1v-1zM170 511v1h1v-1zM172 511v1h1v-1zM175 511v1h1v-1zM175 528v1h1v-1zM177 528v1h1v-1zM178 511v1h1v-1zM179 528v1h1v-1zM180 528v1h1v-1zM186 511v1h1v-1zM198 511v1h1v-1zM199 511v1h1v-1zM200 528v1h1v-1zM210 528v1h1v-1zM211 528v1h1v-1zM214 528v1h1v-1zM220 511v1h1v-1zM228 528v1h1v-1zM229 511v1h1v-1zM230 528v1h1v-1zM235 528v1h1v-1zM237 528v1h1v-1zM240 511v1h1v-1zM246 528v1h1v-1zM247 512v1h1v-1zM248 528v1h1v-1zM249 511v1h1v-1zM250 511v1h1v-1zM251 511v1h1v-1zM252 511v1h1v-1zM253 511v1h1v-1zM254 511v1h1v-1zM255 511v1h1v-1zM256 511v1h1v-1zM257 511v1h1v-1zM258 511v1h1v-1zM259 511v1h1v-1zM260 511v1h1v-1zM261 511v1h1v-1zM262 511v1h1v-1zM263 511v1h1v-1zM264 511v1h1v-1zM265 511v1h1v-1zM266 511v1h1v-1zM267 511v1h1v-1zM268 511v1h1v-1zM269 511v1h1v-1zM270 511v1h1v-1zM271 511v1h1v-1zM272 511v1h1v-1zM273 511v1h1v-1zM274 511v1h1v-1zM275 511v1h1v-1zM276 511v1h1v-1zM277 511v1h1v-1zM278 511v1h1v-1zM288 517v1h1v-1zM288 520v1h1v-1zM293 518v2h1v-2zM297 517v4h1v-4zM298 517v1h1v-1zM298 520v1h1v-1zM300 514v1h1v-1zM302 513v1h1v-1zM303 513v1h1v-1zM304 527v1h1v-1zM306 511v1h1v-1zM307 513v1h1v-1zM308 527v1h1v-1zM314 513v1h1v-1zM317 513v1h1v-1zM319 512v1h1v-1zM323 513v1h1v-1zM323 526v1h1v-1zM324 513v1h1v-1zM324 527v1h1v-1zM325 513v1h1v-1zM326 513v1h1v-1zM328 513v1h1v-1zM328 527v1h1v-1zM329 513v1h1v-1zM330 513v1h1v-1zM331 527v1h1v-1zM332 512v1h1v-1zM332 527v1h1v-1zM333 513v1h1v-1zM334 513v1h1v-1zM335 513v1h1v-1zM336 512v1h1v-1zM337 512v1h1v-1zM339 513v1h1v-1zM340 513v1h1v-1zM340 526v1h1v-1zM341 513v1h1v-1zM342 513v1h1v-1zM344 513v1h1v-1zM345 513v1h1v-1zM346 513v1h1v-1zM346 527v1h1v-1zM347 513v1h1v-1zM348 513v1h1v-1zM348 526v1h1v-1zM349 513v1h1v-1zM349 526v1h1v-1zM350 513v1h1v-1zM350 526v1h1v-1zM351 527v1h1v-1zM353 526v1h1v-1zM354 513v1h1v-1zM354 526v1h1v-1zM355 513v1h1v-1zM356 513v1h1v-1zM356 526v1h1v-1zM357 513v1h1v-1zM357 526v1h1v-1zM358 527v1h1v-1zM359 512v1h1v-1zM362 513v1h1v-1zM362 526v1h1v-1zM363 526v1h1v-1zM364 526v1h1v-1zM365 513v1h1v-1zM365 526v1h1v-1zM366 526v1h1v-1zM368 511v1h1v-1zM368 526v1h1v-1zM369 513v1h1v-1zM370 513v1h1v-1zM371 513v1h1v-1zM372 513v1h1v-1zM373 513v1h1v-1zM373 526v1h1v-1zM374 526v1h1v-1zM375 526v1h1v-1zM376 513v1h1v-1zM376 526v1h1v-1zM377 513v1h1v-1zM378 513v1h1v-1zM379 513v1h1v-1zM379 526v1h1v-1zM381 512v1h1v-1zM381 526v1h1v-1zM382 526v1h1v-1zM384 513v1h1v-1zM384 526v1h1v-1zM385 526v1h1v-1zM386 526v1h1v-1zM387 526v1h1v-1zM388 512v1h1v-1zM389 513v1h1v-1z"/>
<path fill="#d7ebfa" d="M26 516v1h1v-1zM27 509v1h1v-1zM27 513v1h1v-1zM27 515v1h1v-1zM28 507v1h1v-1zM28 515v1h1v-1zM29 507v1h1v-1zM29 515v1h1v-1zM30 507v1h1v-1zM31 507v1h1v-1zM32 507v1h1v-1zM32 515v1h1v-1zM33 507v1h1v-1zM34 508v1h1v-1zM34 514v1h1v-1zM37 515v1h1v-1zM38 508v1h1v-1zM38 514v2h1v-2zM39 508v1h1v-1zM39 514v2h1v-2zM40 511v1h1v-1zM40 526v1h1v-1zM42 526v1h1v-1zM43 516v1h1v-1zM46 516v1h1v-1zM47 516v1h1v-1zM48 516v1h1v-1zM50 516v1h1v-1zM51 516v1h1v-1zM53 516v1h1v-1zM54 516v1h1v-1zM56 516v1h1v-1zM57 516v1h1v-1zM58 516v1h1v-1zM66 516v1h1v-1zM67 516v1h1v-1zM68 516v1h1v-1zM69 516v1h1v-1zM73 516v1h1v-1zM75 516v1h1v-1zM76 516v1h1v-1zM79 516v1h1v-1zM80 516v1h1v-1zM81 516v1h1v-1zM83 516v1h1v-1zM84 516v1h1v-1zM86 516v1h1v-1zM87 516v1h1v-1zM88 516v1h1v-1zM89 516v1h1v-1zM90 516v1h1v-1zM91 516v1h1v-1zM92 516v1h1v-1zM93 516v1h1v-1zM94 516v1h1v-1zM96 516v1h1v-1zM100 516v1h1v-1zM101 516v1h1v-1zM102 516v1h1v-1zM104 516v1h1v-1zM105 516v1h1v-1zM108 516v1h1v-1zM109 516v1h1v-1zM110 516v1h1v-1zM111 516v1h1v-1zM112 516v1h1v-1zM114 516v1h1v-1zM117 516v1h1v-1zM119 516v1h1v-1zM121 516v1h1v-1zM122 516v1h1v-1zM123 516v1h1v-1zM125 516v1h1v-1zM126 516v1h1v-1zM127 516v1h1v-1zM129 511v4h1v-4zM130 512v3h1v-3zM132 510v1h1v-1zM133 511v1h1v-1zM133 515v2h1v-2zM134 516v1h1v-1zM135 510v1h1v-1zM136 512v3h1v-3zM137 511v1h1v-1zM137 515v1h1v-1zM138 511v4h1v-4zM139 510v1h1v-1zM139 516v1h1v-1zM140 511v1h1v-1zM140 515v1h1v-1zM141 510v1h1v-1zM141 516v1h1v-1zM142 511v1h1v-1zM142 514v1h1v-1zM143 510v1h1v-1zM143 515v2h1v-2zM144 512v3h1v-3zM144 526v1h1v-1zM145 517v1h1v-1zM145 525v1h1v-1zM146 524v1h1v-1zM147 512v3h1v-3zM148 519v1h1v-1zM148 522v1h1v-1zM149 520v2h1v-2zM150 512v3h1v-3zM150 520v2h1v-2zM151 512v3h1v-3zM152 519v1h1v-1zM152 522v1h1v-1zM154 512v3h1v-3zM154 520v2h1v-2zM157 511v5h1v-5zM158 519v1h1v-1zM158 522v1h1v-1zM159 512v3h1v-3zM160 512v3h1v-3zM161 512v3h1v-3zM161 519v1h1v-1zM161 522v1h1v-1zM165 520v2h1v-2zM166 514v2h1v-2zM166 517v2h1v-2zM166 526v1h1v-1zM167 520v1h1v-1zM167 527v1h1v-1zM172 528v1h1v-1zM176 511v1h1v-1zM176 528v1h1v-1zM182 511v1h1v-1zM183 528v1h1v-1zM184 511v1h1v-1zM186 528v1h1v-1zM188 511v1h1v-1zM188 528v1h1v-1zM190 528v1h1v-1zM192 511v1h1v-1zM195 528v1h1v-1zM196 511v1h1v-1zM196 528v1h1v-1zM198 528v1h1v-1zM207 528v1h1v-1zM208 528v1h1v-1zM213 511v1h1v-1zM215 528v1h1v-1zM218 528v1h1v-1zM219 511v1h1v-1zM221 511v1h1v-1zM221 528v1h1v-1zM223 511v1h1v-1zM223 528v1h1v-1zM231 511v1h1v-1zM234 511v1h1v-1zM236 511v1h1v-1zM237 511v1h1v-1zM243 511v1h1v-1zM244 528v1h1v-1zM245 511v1h1v-1zM246 511v1h1v-1zM249 528v1h1v-1zM256 528v1h1v-1zM261 528v1h1v-1zM263 528v1h1v-1zM265 528v1h1v-1zM266 528v1h1v-1zM271 528v1h1v-1zM279 528v1h1v-1zM288 518v2h1v-2zM296 517v4h1v-4zM298 518v2h1v-2zM300 522v1h1v-1zM300 525v1h1v-1zM301 513v1h1v-1zM301 527v1h1v-1zM302 514v1h1v-1zM303 514v1h1v-1zM305 526v1h1v-1zM309 513v1h1v-1zM310 512v1h1v-1zM312 513v1h1v-1zM313 513v2h1v-2zM315 513v1h1v-1zM315 527v1h1v-1zM316 513v2h1v-2zM316 527v1h1v-1zM317 514v1h1v-1zM325 514v1h1v-1zM326 514v1h1v-1zM326 526v1h1v-1zM327 513v1h1v-1zM328 514v1h1v-1zM329 525v1h1v-1zM331 513v1h1v-1zM333 514v1h1v-1zM337 527v1h1v-1zM338 513v1h1v-1zM339 514v1h1v-1zM340 525v1h1v-1zM343 513v1h1v-1zM344 514v1h1v-1zM345 514v1h1v-1zM346 514v1h1v-1zM347 514v1h1v-1zM347 526v1h1v-1zM348 525v1h1v-1zM349 514v1h1v-1zM349 525v1h1v-1zM350 514v1h1v-1zM351 513v1h1v-1zM352 513v1h1v-1zM353 513v1h1v-1zM354 514v1h1v-1zM355 526v1h1v-1zM356 514v1h1v-1zM357 525v1h1v-1zM358 512v1h1v-1zM358 526v1h1v-1zM359 526v1h1v-1zM360 513v1h1v-1zM361 513v1h1v-1zM362 514v1h1v-1zM362 525v1h1v-1zM363 513v1h1v-1zM364 513v1h1v-1zM365 525v1h1v-1zM366 525v1h1v-1zM367 511v1h1v-1zM367 526v1h1v-1zM369 527v1h1v-1zM370 514v1h1v-1zM370 527v1h1v-1zM371 526v1h1v-1zM374 525v1h1v-1zM375 525v1h1v-1zM376 525v1h1v-1zM377 514v1h1v-1zM377 526v1h1v-1zM378 514v1h1v-1zM380 512v1h1v-1zM380 526v1h1v-1zM381 525v1h1v-1zM383 512v2h1v-2zM383 526v1h1v-1zM384 525v1h1v-1zM385 525v1h1v-1zM386 525v1h1v-1zM389 527v1h1v-1zM390 514v1h1v-1z"/>
<path fill="#cdecfa" d="M27 510v3h1v-3zM30 515v1h1v-1zM31 508v1h1v-1zM31 514v1h1v-1zM32 508v1h1v-1zM32 514v1h1v-1zM33 508v1h1v-1zM33 514v1h1v-1zM34 509v1h1v-1zM34 513v1h1v-1zM35 508v1h1v-1zM35 514v1h1v-1zM36 508v1h1v-1zM36 514v2h1v-2zM37 508v1h1v-1zM37 514v1h1v-1zM38 509v2h1v-2zM38 512v2h1v-2zM39 509v1h1v-1zM39 513v1h1v-1zM39 526v1h1v-1zM41 525v1h1v-1zM42 516v1h1v-1zM43 526v1h1v-1zM44 516v1h1v-1zM44 526v1h1v-1zM45 516v1h1v-1zM46 526v1h1v-1zM47 526v1h1v-1zM48 526v1h1v-1zM49 516v1h1v-1zM49 526v1h1v-1zM50 526v1h1v-1zM51 526v1h1v-1zM52 526v1h1v-1zM53 526v1h1v-1zM54 526v1h1v-1zM55 516v1h1v-1zM55 526v1h1v-1zM56 526v1h1v-1zM57 526v1h1v-1zM58 526v1h1v-1zM59 526v1h1v-1zM60 526v1h1v-1zM61 516v1h1v-1zM61 526v1h1v-1zM62 526v1h1v-1zM63 526v1h1v-1zM64 526v1h1v-1zM65 516v1h1v-1zM65 526v1h1v-1zM66 526v1h1v-1zM67 526v1h1v-1zM68 526v1h1v-1zM69 526v1h1v-1zM70 516v1h1v-1zM70 526v1h1v-1zM71 526v1h1v-1zM72 516v1h1v-1zM72 526v1h1v-1zM73 526v1h1v-1zM74 526v1h1v-1zM75 526v1h1v-1zM76 526v1h1v-1zM77 516v1h1v-1zM77 526v1h1v-1zM78 516v1h1v-1zM78 526v1h1v-1zM80 526v1h1v-1zM81 526v1h1v-1zM82 516v1h1v-1zM82 526v1h1v-1zM83 526v1h1v-1zM85 516v1h1v-1zM85 526v1h1v-1zM86 526v1h1v-1zM87 526v1h1v-1zM88 526v1h1v-1zM89 526v1h1v-1zM90 526v1h1v-1zM91 526v1h1v-1zM92 526v1h1v-1zM93 526v1h1v-1zM95 516v1h1v-1zM95 526v1h1v-1zM96 526v1h1v-1zM97 516v1h1v-1zM97 526v1h1v-1zM98 526v1h1v-1zM99 526v1h1v-1zM100 526v1h1v-1zM102 526v1h1v-1zM103 516v1h1v-1zM103 526v1h1v-1zM104 526v1h1v-1zM105 526v1h1v-1zM106 526v1h1v-1zM107 526v1h1v-1zM108 526v1h1v-1zM109 526v1h1v-1zM110 526v1h1v-1zM111 526v1h1v-1zM113 516v1h1v-1zM113 526v1h1v-1zM114 526v1h1v-1zM115 516v1h1v-1zM115 526v1h1v-1zM116 526v1h1v-1zM117 526v1h1v-1zM118 516v1h1v-1zM118 526v1h1v-1zM119 526v1h1v-1zM120 526v1h1v-1zM121 526v1h1v-1zM122 526v1h1v-1zM123 526v1h1v-1zM124 516v1h1v-1zM124 526v1h1v-1zM125 526v1h1v-1zM126 526v1h1v-1zM127 526v1h1v-1zM128 526v1h1v-1zM129 516v1h1v-1zM129 526v1h1v-1zM130 526v1h1v-1zM131 510v1h1v-1zM131 515v1h1v-1zM131 526v1h1v-1zM132 515v1h1v-1zM133 512v3h1v-3zM133 526v1h1v-1zM134 510v1h1v-1zM134 515v1h1v-1zM134 526v1h1v-1zM135 511v1h1v-1zM135 515v2h1v-2zM135 526v1h1v-1zM136 526v1h1v-1zM137 512v3h1v-3zM137 516v1h1v-1zM137 526v1h1v-1zM138 516v1h1v-1zM138 526v1h1v-1zM139 511v1h1v-1zM139 515v1h1v-1zM139 526v1h1v-1zM140 512v3h1v-3zM140 516v1h1v-1zM140 526v1h1v-1zM141 511v1h1v-1zM141 515v1h1v-1zM141 526v1h1v-1zM142 512v2h1v-2zM142 516v1h1v-1zM142 526v1h1v-1zM143 511v1h1v-1zM143 514v1h1v-1zM143 526v1h1v-1zM146 519v5h1v-5zM148 520v2h1v-2zM152 520v2h1v-2zM158 520v2h1v-2zM160 520v2h1v-2zM161 520v2h1v-2zM166 516v1h1v-1zM166 523v3h1v-3zM168 511v1h1v-1zM168 528v1h1v-1zM169 511v1h1v-1zM169 528v1h1v-1zM171 528v1h1v-1zM174 528v1h1v-1zM177 511v1h1v-1zM181 511v1h1v-1zM181 528v1h1v-1zM189 528v1h1v-1zM191 528v1h1v-1zM199 528v1h1v-1zM200 511v1h1v-1zM201 528v1h1v-1zM204 511v1h1v-1zM205 528v1h1v-1zM206 511v1h1v-1zM207 511v1h1v-1zM216 511v1h1v-1zM218 511v1h1v-1zM224 528v1h1v-1zM227 528v1h1v-1zM229 528v1h1v-1zM232 528v1h1v-1zM233 511v1h1v-1zM234 528v1h1v-1zM235 511v1h1v-1zM238 528v1h1v-1zM239 528v1h1v-1zM240 528v1h1v-1zM241 528v1h1v-1zM245 528v1h1v-1zM246 521v1h1v-1zM247 513v1h1v-1zM250 528v1h1v-1zM251 528v1h1v-1zM252 528v1h1v-1zM253 528v1h1v-1zM254 528v1h1v-1zM255 528v1h1v-1zM257 528v1h1v-1zM258 528v1h1v-1zM259 528v1h1v-1zM260 528v1h1v-1zM262 528v1h1v-1zM264 528v1h1v-1zM267 528v1h1v-1zM268 528v1h1v-1zM269 528v1h1v-1zM270 528v1h1v-1zM272 528v1h1v-1zM273 528v1h1v-1zM274 528v1h1v-1zM275 528v1h1v-1zM276 528v1h1v-1zM277 528v1h1v-1zM278 528v1h1v-1zM280 513v1h1v-1zM300 471v40h1v-40zM305 511v1h1v-1zM307 527v1h1v-1zM308 513v1h1v-1zM311 512v1h1v-1zM313 515v1h1v-1zM314 514v1h1v-1zM315 514v1h1v-1zM317 515v1h1v-1zM320 512v1h1v-1zM320 527v1h1v-1zM321 512v1h1v-1zM324 514v1h1v-1zM328 524v1h1v-1zM329 524v1h1v-1zM332 513v1h1v-1zM333 527v1h1v-1zM341 527v1h1v-1zM342 528v1h1v-1zM343 527v1h1v-1zM345 527v1h1v-1zM348 514v1h1v-1zM349 515v1h1v-1zM349 524v1h1v-1zM352 526v1h1v-1zM353 525v1h1v-1zM355 514v1h1v-1zM358 513v1h1v-1zM359 513v1h1v-1zM361 526v1h1v-1zM364 525v1h1v-1zM366 513v1h1v-1zM367 525v1h1v-1zM372 526v1h1v-1zM373 525v1h1v-1zM374 513v1h1v-1zM378 526v1h1v-1zM382 513v1h1v-1zM385 513v1h1v-1zM385 524v1h1v-1zM386 524v1h1v-1zM387 525v1h1v-1zM388 525v2h1v-2zM389 514v1h1v-1z"/>
<path fill="#bceaf8" d="M26 518v2h1v-2zM27 526v1h1v-1zM28 508v1h1v-1zM28 514v1h1v-1zM29 508v1h1v-1zM29 514v1h1v-1zM30 508v1h1v-1zM30 514v1h1v-1zM31 509v1h1v-1zM31 513v1h1v-1zM31 515v1h1v-1zM32 509v1h1v-1zM32 513v1h1v-1zM33 515v1h1v-1zM34 510v1h1v-1zM34 512v1h1v-1zM34 515v1h1v-1zM34 526v1h1v-1zM35 509v1h1v-1zM35 513v1h1v-1zM35 515v1h1v-1zM36 509v2h1v-2zM36 512v2h1v-2zM37 509v2h1v-2zM37 512v2h1v-2zM38 511v1h1v-1zM38 526v1h1v-1zM39 510v3h1v-3zM42 517v1h1v-1zM45 526v1h1v-1zM52 516v1h1v-1zM59 516v1h1v-1zM60 516v1h1v-1zM62 516v1h1v-1zM63 516v1h1v-1zM64 516v1h1v-1zM65 517v1h1v-1zM67 517v1h1v-1zM71 516v1h1v-1zM73 517v1h1v-1zM74 516v1h1v-1zM79 526v1h1v-1zM84 526v1h1v-1zM94 526v1h1v-1zM98 516v1h1v-1zM99 516v1h1v-1zM101 526v1h1v-1zM106 516v1h1v-1zM107 516v1h1v-1zM108 517v1h1v-1zM112 526v1h1v-1zM116 516v1h1v-1zM120 516v1h1v-1zM128 516v1h1v-1zM130 516v1h1v-1zM131 511v1h1v-1zM131 514v1h1v-1zM131 516v1h1v-1zM132 511v4h1v-4zM132 516v1h1v-1zM132 526v1h1v-1zM134 511v1h1v-1zM134 514v1h1v-1zM135 512v3h1v-3zM136 516v1h1v-1zM139 512v3h1v-3zM141 512v3h1v-3zM143 512v2h1v-2zM167 512v2h1v-2zM167 521v1h1v-1zM168 521v1h1v-1zM168 527v1h1v-1zM170 528v1h1v-1zM176 527v1h1v-1zM183 512v1h1v-1zM184 527v1h1v-1zM187 527v1h1v-1zM193 512v1h1v-1zM194 511v1h1v-1zM203 527v1h1v-1zM205 511v1h1v-1zM206 528v1h1v-1zM207 527v1h1v-1zM208 511v1h1v-1zM210 527v1h1v-1zM212 511v1h1v-1zM213 528v1h1v-1zM215 511v1h1v-1zM217 528v1h1v-1zM220 528v1h1v-1zM222 511v1h1v-1zM222 527v1h1v-1zM230 512v1h1v-1zM232 511v1h1v-1zM233 527v1h1v-1zM239 527v1h1v-1zM242 511v1h1v-1zM242 527v1h1v-1zM243 528v1h1v-1zM246 520v1h1v-1zM246 527v1h1v-1zM248 512v1h1v-1zM279 512v1h1v-1zM300 521v1h1v-1zM304 512v1h1v-1zM310 526v1h1v-1zM311 526v1h1v-1zM317 527v1h1v-1zM319 527v1h1v-1zM321 527v1h1v-1zM322 513v1h1v-1zM322 527v1h1v-1zM323 514v1h1v-1zM323 525v1h1v-1zM324 524v1h1v-1zM325 515v2h1v-2zM327 514v1h1v-1zM327 527v1h1v-1zM328 523v1h1v-1zM329 523v1h1v-1zM330 514v1h1v-1zM332 514v1h1v-1zM334 514v1h1v-1zM334 525v1h1v-1zM335 525v1h1v-1zM336 527v1h1v-1zM339 515v1h1v-1zM339 525v1h1v-1zM340 524v1h1v-1zM341 514v1h1v-1zM342 514v1h1v-1zM346 515v1h1v-1zM347 515v1h1v-1zM350 525v1h1v-1zM353 514v1h1v-1zM355 515v1h1v-1zM356 515v1h1v-1zM358 514v1h1v-1zM361 514v1h1v-1zM364 514v1h1v-1zM365 514v1h1v-1zM365 524v1h1v-1zM369 514v1h1v-1zM371 514v1h1v-1zM372 514v1h1v-1zM373 514v1h1v-1zM374 524v1h1v-1zM376 514v1h1v-1zM379 514v2h1v-2zM379 525v1h1v-1zM380 525v1h1v-1zM381 513v1h1v-1zM384 524v1h1v-1zM387 513v1h1v-1z"/>
<path fill="#ace8f6" d="M26 517v1h1v-1zM26 525v1h1v-1zM28 509v1h1v-1zM28 513v1h1v-1zM29 509v1h1v-1zM29 513v1h1v-1zM29 526v1h1v-1zM30 509v1h1v-1zM30 513v1h1v-1zM31 510v3h1v-3zM31 526v1h1v-1zM32 510v1h1v-1zM32 512v1h1v-1zM32 526v1h1v-1zM33 509v2h1v-2zM33 512v2h1v-2zM33 526v1h1v-1zM34 511v1h1v-1zM35 510v3h1v-3zM35 526v1h1v-1zM36 511v1h1v-1zM36 526v1h1v-1zM37 511v1h1v-1zM37 526v1h1v-1zM40 516v1h1v-1zM40 519v1h1v-1zM43 517v1h1v-1zM44 517v1h1v-1zM46 517v1h1v-1zM48 517v1h1v-1zM49 517v1h1v-1zM51 517v1h1v-1zM53 517v1h1v-1zM56 517v1h1v-1zM57 517v1h1v-1zM59 517v1h1v-1zM60 517v1h1v-1zM61 517v1h1v-1zM62 517v1h1v-1zM63 517v1h1v-1zM64 517v1h1v-1zM68 517v1h1v-1zM70 517v1h1v-1zM71 517v1h1v-1zM72 517v1h1v-1zM74 517v1h1v-1zM75 517v1h1v-1zM77 517v1h1v-1zM78 517v1h1v-1zM86 517v1h1v-1zM89 517v1h1v-1zM90 517v1h1v-1zM92 517v1h1v-1zM93 517v1h1v-1zM95 517v1h1v-1zM97 517v1h1v-1zM98 517v1h1v-1zM99 517v1h1v-1zM100 517v1h1v-1zM101 517v1h1v-1zM102 517v1h1v-1zM104 517v1h1v-1zM106 517v1h1v-1zM109 517v1h1v-1zM111 517v1h1v-1zM113 517v1h1v-1zM115 517v1h1v-1zM116 517v1h1v-1zM121 517v1h1v-1zM126 517v1h1v-1zM127 517v1h1v-1zM128 517v1h1v-1zM131 512v2h1v-2zM131 517v1h1v-1zM132 517v1h1v-1zM133 517v1h1v-1zM134 512v2h1v-2zM134 517v1h1v-1zM136 517v1h1v-1zM141 517v1h1v-1zM142 517v1h1v-1zM143 517v1h1v-1zM144 517v1h1v-1zM145 518v1h1v-1zM169 520v2h1v-2zM169 527v1h1v-1zM170 512v1h1v-1zM170 520v2h1v-2zM170 527v1h1v-1zM171 521v1h1v-1zM171 527v1h1v-1zM172 512v1h1v-1zM172 527v1h1v-1zM173 527v1h1v-1zM174 511v1h1v-1zM174 521v1h1v-1zM174 527v1h1v-1zM175 527v1h1v-1zM177 527v1h1v-1zM178 512v1h1v-1zM178 521v1h1v-1zM178 527v1h1v-1zM179 527v1h1v-1zM180 511v1h1v-1zM180 521v1h1v-1zM180 527v1h1v-1zM182 520v2h1v-2zM182 527v1h1v-1zM183 527v1h1v-1zM184 520v2h1v-2zM185 511v1h1v-1zM185 527v1h1v-1zM186 512v1h1v-1zM186 520v1h1v-1zM186 527v1h1v-1zM187 512v1h1v-1zM188 521v1h1v-1zM188 527v1h1v-1zM189 511v1h1v-1zM189 527v1h1v-1zM190 521v1h1v-1zM190 527v1h1v-1zM191 527v1h1v-1zM192 527v1h1v-1zM193 521v1h1v-1zM193 527v1h1v-1zM194 521v1h1v-1zM194 527v1h1v-1zM195 527v1h1v-1zM197 520v1h1v-1zM198 512v1h1v-1zM198 527v1h1v-1zM199 512v1h1v-1zM199 521v1h1v-1zM201 512v1h1v-1zM201 521v1h1v-1zM201 527v1h1v-1zM202 521v1h1v-1zM202 527v1h1v-1zM203 520v1h1v-1zM204 527v1h1v-1zM205 520v2h1v-2zM206 521v1h1v-1zM206 527v1h1v-1zM208 521v1h1v-1zM210 521v1h1v-1zM211 512v1h1v-1zM211 520v2h1v-2zM212 521v1h1v-1zM214 511v1h1v-1zM214 520v2h1v-2zM215 521v1h1v-1zM215 527v1h1v-1zM216 520v1h1v-1zM216 527v1h1v-1zM217 527v1h1v-1zM218 521v1h1v-1zM218 527v1h1v-1zM219 527v1h1v-1zM220 512v1h1v-1zM220 521v1h1v-1zM220 527v1h1v-1zM221 527v1h1v-1zM222 520v2h1v-2zM223 520v2h1v-2zM223 527v1h1v-1zM224 520v1h1v-1zM224 527v1h1v-1zM225 520v1h1v-1zM226 511v1h1v-1zM227 512v1h1v-1zM227 520v2h1v-2zM228 520v2h1v-2zM228 527v1h1v-1zM229 520v1h1v-1zM229 527v1h1v-1zM230 521v1h1v-1zM230 527v1h1v-1zM231 527v1h1v-1zM232 521v1h1v-1zM232 527v1h1v-1zM233 521v1h1v-1zM234 527v1h1v-1zM235 521v1h1v-1zM236 527v1h1v-1zM237 527v1h1v-1zM238 527v1h1v-1zM239 520v2h1v-2zM240 512v1h1v-1zM240 521v1h1v-1zM240 527v1h1v-1zM243 520v2h1v-2zM243 527v1h1v-1zM244 520v2h1v-2zM245 521v1h1v-1zM245 527v1h1v-1zM248 527v1h1v-1zM257 512v1h1v-1zM258 512v1h1v-1zM260 512v1h1v-1zM261 512v1h1v-1zM262 512v1h1v-1zM263 512v1h1v-1zM264 512v1h1v-1zM265 512v1h1v-1zM266 512v1h1v-1zM267 512v1h1v-1zM278 512v1h1v-1zM279 527v1h1v-1zM300 515v1h1v-1zM300 526v1h1v-1zM305 525v1h1v-1zM306 512v1h1v-1zM307 514v1h1v-1zM308 514v1h1v-1zM309 514v1h1v-1zM312 514v1h1v-1zM313 527v1h1v-1zM314 526v1h1v-1zM316 515v1h1v-1zM318 513v1h1v-1zM318 524v1h1v-1zM318 527v1h1v-1zM319 513v1h1v-1zM319 524v1h1v-1zM322 524v1h1v-1zM326 515v1h1v-1zM326 525v1h1v-1zM327 515v1h1v-1zM329 526v1h1v-1zM331 514v1h1v-1zM331 526v1h1v-1zM332 526v1h1v-1zM334 524v1h1v-1zM335 514v1h1v-1zM335 526v1h1v-1zM336 513v1h1v-1zM337 513v1h1v-1zM338 514v1h1v-1zM339 516v1h1v-1zM340 514v1h1v-1zM343 514v1h1v-1zM344 527v1h1v-1zM346 526v1h1v-1zM347 525v1h1v-1zM348 515v1h1v-1zM348 524v1h1v-1zM349 516v1h1v-1zM350 515v1h1v-1zM351 514v1h1v-1zM352 514v1h1v-1zM354 515v1h1v-1zM354 525v1h1v-1zM356 525v1h1v-1zM357 514v1h1v-1zM360 526v1h1v-1zM362 524v1h1v-1zM364 515v1h1v-1zM368 512v1h1v-1zM368 525v1h1v-1zM373 515v1h1v-1zM374 523v1h1v-1zM375 513v1h1v-1zM375 524v1h1v-1zM376 524v1h1v-1zM382 514v1h1v-1zM382 524v2h1v-2zM383 525v1h1v-1zM385 523v1h1v-1zM386 513v1h1v-1zM386 523v1h1v-1zM387 524v1h1v-1zM389 515v1h1v-1zM389 526v1h1v-1zM390 527v1h1v-1z"/>
<path fill="#a6e8ed" d="M28 510v3h1v-3zM28 526v1h1v-1zM29 510v1h1v-1zM29 512v1h1v-1zM29 516v1h1v-1zM30 510v3h1v-3zM30 526v1h1v-1zM32 511v1h1v-1zM32 516v1h1v-1zM33 511v1h1v-1zM40 525v1h1v-1zM41 518v1h1v-1zM42 525v1h1v-1zM43 525v1h1v-1zM47 517v1h1v-1zM50 517v1h1v-1zM52 517v1h1v-1zM54 517v1h1v-1zM55 517v1h1v-1zM58 517v1h1v-1zM59 525v1h1v-1zM61 525v1h1v-1zM65 525v1h1v-1zM69 517v1h1v-1zM69 525v1h1v-1zM71 525v1h1v-1zM74 525v1h1v-1zM76 517v1h1v-1zM79 517v1h1v-1zM80 517v1h1v-1zM80 525v1h1v-1zM81 517v1h1v-1zM82 517v1h1v-1zM83 517v1h1v-1zM84 517v1h1v-1zM85 517v1h1v-1zM87 517v1h1v-1zM88 517v1h1v-1zM91 517v1h1v-1zM91 525v1h1v-1zM92 525v1h1v-1zM94 517v1h1v-1zM96 517v1h1v-1zM100 525v1h1v-1zM103 517v1h1v-1zM105 517v1h1v-1zM106 525v1h1v-1zM107 517v1h1v-1zM108 525v1h1v-1zM110 517v1h1v-1zM114 517v1h1v-1zM116 525v1h1v-1zM117 517v1h1v-1zM118 517v1h1v-1zM119 517v1h1v-1zM120 517v1h1v-1zM121 525v1h1v-1zM122 517v1h1v-1zM123 517v1h1v-1zM124 517v1h1v-1zM125 517v1h1v-1zM128 525v1h1v-1zM129 517v1h1v-1zM130 517v1h1v-1zM131 525v1h1v-1zM135 517v1h1v-1zM137 517v1h1v-1zM138 517v1h1v-1zM139 517v1h1v-1zM140 517v1h1v-1zM142 525v1h1v-1zM167 522v1h1v-1zM168 520v1h1v-1zM171 511v1h1v-1zM171 520v1h1v-1zM172 520v2h1v-2zM173 511v1h1v-1zM174 520v1h1v-1zM175 512v1h1v-1zM176 512v1h1v-1zM177 520v1h1v-1zM181 527v1h1v-1zM184 512v1h1v-1zM187 520v1h1v-1zM188 520v1h1v-1zM189 520v1h1v-1zM190 511v1h1v-1zM190 520v1h1v-1zM191 511v1h1v-1zM192 512v1h1v-1zM192 520v1h1v-1zM194 520v1h1v-1zM195 520v2h1v-2zM196 512v1h1v-1zM196 527v1h1v-1zM197 511v1h1v-1zM197 527v1h1v-1zM199 520v1h1v-1zM199 527v1h1v-1zM200 527v1h1v-1zM201 520v1h1v-1zM202 511v1h1v-1zM202 520v1h1v-1zM203 511v1h1v-1zM204 520v1h1v-1zM205 527v1h1v-1zM207 520v1h1v-1zM208 520v1h1v-1zM208 527v1h1v-1zM209 527v1h1v-1zM210 520v1h1v-1zM211 527v1h1v-1zM212 527v1h1v-1zM213 527v1h1v-1zM214 527v1h1v-1zM215 520v1h1v-1zM216 521v1h1v-1zM217 511v1h1v-1zM218 520v1h1v-1zM221 512v1h1v-1zM223 512v1h1v-1zM225 511v1h1v-1zM225 527v1h1v-1zM226 527v1h1v-1zM227 527v1h1v-1zM229 512v1h1v-1zM229 521v1h1v-1zM230 513v1h1v-1zM231 512v1h1v-1zM232 520v1h1v-1zM234 521v1h1v-1zM235 527v1h1v-1zM237 512v1h1v-1zM237 521v1h1v-1zM238 511v1h1v-1zM240 520v1h1v-1zM241 511v1h1v-1zM241 527v1h1v-1zM244 511v1h1v-1zM244 527v1h1v-1zM245 520v1h1v-1zM246 512v1h1v-1zM249 512v1h1v-1zM250 512v1h1v-1zM251 512v1h1v-1zM252 512v1h1v-1zM253 512v1h1v-1zM254 512v1h1v-1zM255 512v1h1v-1zM256 512v1h1v-1zM259 512v1h1v-1zM268 512v1h1v-1zM269 512v1h1v-1zM270 512v1h1v-1zM271 512v1h1v-1zM272 512v1h1v-1zM273 512v1h1v-1zM274 512v1h1v-1zM275 512v1h1v-1zM276 512v1h1v-1zM277 512v1h1v-1zM301 524v1h1v-1zM302 515v1h1v-1zM304 526v1h1v-1zM306 527v1h1v-1zM308 525v1h1v-1zM310 513v1h1v-1zM311 513v1h1v-1zM316 524v1h1v-1zM317 524v1h1v-1zM323 524v1h1v-1zM324 525v1h1v-1zM329 514v1h1v-1zM333 515v1h1v-1zM337 526v1h1v-1zM339 526v1h1v-1zM347 524v1h1v-1zM349 523v1h1v-1zM351 526v1h1v-1zM353 524v1h1v-1zM358 525v1h1v-1zM359 514v1h1v-1zM359 525v1h1v-1zM360 514v1h1v-1zM362 523v1h1v-1zM363 514v1h1v-1zM363 524v2h1v-2zM367 512v1h1v-1zM370 515v1h1v-1zM370 526v1h1v-1zM375 523v1h1v-1zM377 515v1h1v-1zM378 515v1h1v-1zM380 513v1h1v-1zM381 524v1h1v-1zM384 523v1h1v-1zM385 522v1h1v-1zM388 513v1h1v-1zM390 515v1h1v-1z"/>
<path fill="#a0e8e4" d="M29 511v1h1v-1zM37 516v1h1v-1zM39 516v1h1v-1zM40 518v1h1v-1zM44 525v1h1v-1zM45 517v1h1v-1zM46 525v1h1v-1zM47 525v1h1v-1zM48 525v1h1v-1zM49 525v1h1v-1zM51 525v1h1v-1zM53 525v1h1v-1zM54 525v1h1v-1zM55 525v1h1v-1zM56 525v1h1v-1zM57 525v1h1v-1zM58 525v1h1v-1zM60 525v1h1v-1zM62 525v1h1v-1zM64 525v1h1v-1zM66 517v1h1v-1zM67 525v1h1v-1zM68 525v1h1v-1zM70 525v1h1v-1zM72 525v1h1v-1zM73 525v1h1v-1zM75 525v1h1v-1zM76 525v1h1v-1zM77 525v1h1v-1zM78 525v1h1v-1zM85 525v1h1v-1zM86 525v1h1v-1zM87 525v1h1v-1zM89 525v1h1v-1zM93 525v1h1v-1zM95 525v1h1v-1zM97 525v1h1v-1zM98 525v1h1v-1zM99 525v1h1v-1zM101 525v1h1v-1zM102 525v1h1v-1zM103 525v1h1v-1zM104 525v1h1v-1zM107 525v1h1v-1zM109 525v1h1v-1zM110 525v1h1v-1zM111 525v1h1v-1zM112 517v1h1v-1zM112 525v1h1v-1zM113 525v1h1v-1zM119 525v1h1v-1zM125 525v1h1v-1zM126 525v1h1v-1zM127 525v1h1v-1zM129 525v1h1v-1zM130 525v1h1v-1zM133 525v1h1v-1zM134 525v1h1v-1zM135 525v1h1v-1zM136 525v1h1v-1zM137 525v1h1v-1zM138 525v1h1v-1zM139 525v1h1v-1zM141 525v1h1v-1zM143 525v1h1v-1zM144 525v1h1v-1zM169 512v1h1v-1zM170 513v1h1v-1zM172 513v1h1v-1zM175 521v1h1v-1zM176 521v1h1v-1zM177 512v1h1v-1zM178 513v1h1v-1zM179 511v1h1v-1zM180 520v1h1v-1zM181 520v1h1v-1zM182 512v1h1v-1zM184 513v1h1v-1zM186 513v1h1v-1zM187 513v1h1v-1zM187 521v1h1v-1zM188 512v1h1v-1zM192 513v1h1v-1zM192 521v1h1v-1zM195 511v1h1v-1zM198 513v1h1v-1zM198 520v1h1v-1zM200 520v2h1v-2zM204 512v1h1v-1zM209 511v1h1v-1zM210 511v1h1v-1zM211 513v1h1v-1zM212 520v1h1v-1zM213 512v1h1v-1zM213 521v1h1v-1zM219 512v1h1v-1zM221 513v1h1v-1zM223 513v1h1v-1zM224 511v1h1v-1zM224 521v1h1v-1zM225 521v1h1v-1zM227 513v1h1v-1zM228 511v1h1v-1zM229 513v1h1v-1zM231 513v1h1v-1zM233 520v1h1v-1zM234 512v1h1v-1zM235 520v1h1v-1zM236 512v1h1v-1zM237 513v1h1v-1zM239 511v1h1v-1zM240 513v1h1v-1zM243 512v1h1v-1zM245 512v1h1v-1zM246 513v1h1v-1zM249 527v1h1v-1zM250 527v1h1v-1zM251 527v1h1v-1zM255 527v1h1v-1zM259 527v1h1v-1zM260 527v1h1v-1zM261 527v1h1v-1zM262 527v1h1v-1zM263 527v1h1v-1zM264 527v1h1v-1zM265 527v1h1v-1zM266 527v1h1v-1zM267 527v1h1v-1zM270 527v1h1v-1zM271 527v1h1v-1zM277 527v1h1v-1zM301 523v1h1v-1zM302 525v1h1v-1zM303 515v1h1v-1zM304 513v1h1v-1zM305 512v1h1v-1zM306 524v1h1v-1zM307 515v1h1v-1zM307 524v1h1v-1zM308 524v1h1v-1zM308 526v1h1v-1zM315 515v1h1v-1zM320 513v1h1v-1zM322 514v1h1v-1zM323 523v1h1v-1zM326 516v1h1v-1zM328 522v1h1v-1zM328 525v1h1v-1zM329 522v1h1v-1zM333 516v1h1v-1zM333 524v1h1v-1zM338 515v1h1v-1zM339 517v1h1v-1zM342 515v1h1v-1zM344 515v2h1v-2zM345 515v1h1v-1zM347 523v1h1v-1zM352 515v1h1v-1zM352 525v1h1v-1zM355 525v1h1v-1zM356 516v1h1v-1zM357 524v1h1v-1zM358 524v1h1v-1zM359 524v1h1v-1zM361 525v1h1v-1zM362 515v1h1v-1zM363 523v1h1v-1zM366 514v1h1v-1zM366 524v1h1v-1zM369 515v1h1v-1zM369 526v1h1v-1zM371 525v1h1v-1zM372 525v1h1v-1zM373 524v1h1v-1zM376 523v1h1v-1zM377 525v1h1v-1zM382 523v1h1v-1zM384 514v1h1v-1zM387 522v2h1v-2zM388 524v1h1v-1z"/>
<path fill="#9ee6d1" d="M26 520v1h1v-1zM27 516v1h1v-1zM27 519v1h1v-1zM28 516v1h1v-1zM38 516v1h1v-1zM39 519v1h1v-1zM40 517v1h1v-1zM45 525v1h1v-1zM50 525v1h1v-1zM52 525v1h1v-1zM63 525v1h1v-1zM66 525v1h1v-1zM79 525v1h1v-1zM81 525v1h1v-1zM82 525v1h1v-1zM83 525v1h1v-1zM84 525v1h1v-1zM88 525v1h1v-1zM90 525v1h1v-1zM94 525v1h1v-1zM96 525v1h1v-1zM105 525v1h1v-1zM114 525v1h1v-1zM115 525v1h1v-1zM117 525v1h1v-1zM118 525v1h1v-1zM120 525v1h1v-1zM122 525v1h1v-1zM123 525v1h1v-1zM124 525v1h1v-1zM132 525v1h1v-1zM140 525v1h1v-1zM167 519v1h1v-1zM168 512v1h1v-1zM175 513v1h1v-1zM175 520v1h1v-1zM176 513v1h1v-1zM177 513v1h1v-1zM181 512v1h1v-1zM182 513v1h1v-1zM183 513v1h1v-1zM185 521v1h1v-1zM186 521v1h1v-1zM188 513v1h1v-1zM193 513v1h1v-1zM196 513v1h1v-1zM199 513v1h1v-1zM201 513v1h1v-1zM206 520v1h1v-1zM207 512v1h1v-1zM213 513v1h1v-1zM213 520v1h1v-1zM216 512v1h1v-1zM218 512v1h1v-1zM219 513v1h1v-1zM220 513v1h1v-1zM230 520v1h1v-1zM234 513v1h1v-1zM234 520v1h1v-1zM236 513v1h1v-1zM243 513v1h1v-1zM245 513v1h1v-1zM246 522v1h1v-1zM252 527v1h1v-1zM253 527v1h1v-1zM254 527v1h1v-1zM256 527v1h1v-1zM257 527v1h1v-1zM258 527v1h1v-1zM268 527v1h1v-1zM269 527v1h1v-1zM272 527v1h1v-1zM273 527v1h1v-1zM274 527v1h1v-1zM275 527v1h1v-1zM276 527v1h1v-1zM278 527v1h1v-1zM280 519v3h1v-3zM280 526v1h1v-1zM300 520v1h1v-1zM301 514v1h1v-1zM301 525v1h1v-1zM306 513v1h1v-1zM308 515v1h1v-1zM309 515v1h1v-1zM309 524v1h1v-1zM310 525v1h1v-1zM311 525v1h1v-1zM312 515v1h1v-1zM314 515v1h1v-1zM316 525v1h1v-1zM317 516v1h1v-1zM318 523v1h1v-1zM320 524v1h1v-1zM321 513v1h1v-1zM321 524v1h1v-1zM327 524v1h1v-1zM328 515v1h1v-1zM328 521v1h1v-1zM330 524v1h1v-1zM330 527v1h1v-1zM335 524v1h1v-1zM338 527v1h1v-1zM340 523v1h1v-1zM343 515v1h1v-1zM345 526v1h1v-1zM346 516v1h1v-1zM348 516v1h1v-1zM348 523v1h1v-1zM350 516v1h1v-1zM350 524v1h1v-1zM357 515v1h1v-1zM357 523v1h1v-1zM359 515v1h1v-1zM361 515v1h1v-1zM364 524v1h1v-1zM365 523v1h1v-1zM367 524v1h1v-1zM368 524v1h1v-1zM374 514v1h1v-1zM376 515v1h1v-1zM378 525v1h1v-1zM379 516v1h1v-1zM379 524v1h1v-1zM380 524v1h1v-1zM383 514v1h1v-1zM386 522v1h1v-1zM388 523v1h1v-1zM389 516v1h1v-1zM390 516v1h1v-1z"/>
<path fill="#9ce4be" d="M29 517v3h1v-3zM30 516v1h1v-1zM32 518v2h1v-2zM33 519v1h1v-1zM36 516v1h1v-1zM38 519v1h1v-1zM40 520v1h1v-1zM42 518v1h1v-1zM168 513v1h1v-1zM169 513v1h1v-1zM180 522v1h1v-1zM181 513v1h1v-1zM181 521v1h1v-1zM184 522v1h1v-1zM187 522v1h1v-1zM189 521v1h1v-1zM192 522v1h1v-1zM194 512v1h1v-1zM196 520v2h1v-2zM200 512v1h1v-1zM203 521v1h1v-1zM204 513v1h1v-1zM206 512v1h1v-1zM207 513v1h1v-1zM207 521v1h1v-1zM212 512v1h1v-1zM215 512v1h1v-1zM216 513v1h1v-1zM218 513v1h1v-1zM218 522v1h1v-1zM220 520v1h1v-1zM223 522v1h1v-1zM226 521v1h1v-1zM231 521v2h1v-2zM233 512v1h1v-1zM233 522v1h1v-1zM234 522v1h1v-1zM235 512v1h1v-1zM236 522v1h1v-1zM237 520v1h1v-1zM242 521v1h1v-1zM247 519v3h1v-3zM247 526v1h1v-1zM300 516v1h1v-1zM301 522v1h1v-1zM303 527v1h1v-1zM305 524v1h1v-1zM307 525v1h1v-1zM309 527v1h1v-1zM313 516v1h1v-1zM313 518v1h1v-1zM315 525v1h1v-1zM318 514v1h1v-1zM319 523v1h1v-1zM322 523v1h1v-1zM324 515v1h1v-1zM324 523v1h1v-1zM325 524v1h1v-1zM325 527v1h1v-1zM327 516v1h1v-1zM331 515v1h1v-1zM332 515v1h1v-1zM332 525v1h1v-1zM333 525v1h1v-1zM334 515v1h1v-1zM334 526v1h1v-1zM336 514v1h1v-1zM342 527v1h1v-1zM347 517v1h1v-1zM355 516v1h1v-1zM364 516v1h1v-1zM364 522v2h1v-2zM365 515v1h1v-1zM368 513v1h1v-1zM371 515v1h1v-1zM375 522v1h1v-1zM381 514v1h1v-1zM382 522v1h1v-1zM383 523v2h1v-2zM384 521v2h1v-2zM385 514v1h1v-1z"/>
<path fill="#9ee3a9" d="M26 524v1h1v-1zM27 525v1h1v-1zM28 519v1h1v-1zM29 525v1h1v-1zM30 519v1h1v-1zM31 516v1h1v-1zM31 519v1h1v-1zM32 517v1h1v-1zM33 516v1h1v-1zM34 516v1h1v-1zM34 519v1h1v-1zM35 516v1h1v-1zM35 519v1h1v-1zM36 519v1h1v-1zM37 518v1h1v-1zM38 525v1h1v-1zM39 518v1h1v-1zM39 525v1h1v-1zM67 518v1h1v-1zM100 518v1h1v-1zM128 518v1h1v-1zM168 522v1h1v-1zM169 522v1h1v-1zM170 522v1h1v-1zM172 522v1h1v-1zM173 522v1h1v-1zM174 522v1h1v-1zM176 522v1h1v-1zM177 522v1h1v-1zM178 520v1h1v-1zM178 522v1h1v-1zM179 522v1h1v-1zM183 522v1h1v-1zM186 522v1h1v-1zM188 522v1h1v-1zM189 522v1h1v-1zM194 522v1h1v-1zM195 522v1h1v-1zM197 521v1h1v-1zM198 522v1h1v-1zM199 522v1h1v-1zM200 513v1h1v-1zM200 522v1h1v-1zM202 522v1h1v-1zM203 522v1h1v-1zM205 512v1h1v-1zM206 513v1h1v-1zM207 522v1h1v-1zM208 512v1h1v-1zM209 521v1h1v-1zM210 522v1h1v-1zM212 513v1h1v-1zM215 513v1h1v-1zM215 522v1h1v-1zM216 522v1h1v-1zM217 521v2h1v-2zM221 522v1h1v-1zM222 512v1h1v-1zM222 522v1h1v-1zM226 522v1h1v-1zM229 522v1h1v-1zM232 512v1h1v-1zM232 522v1h1v-1zM233 513v1h1v-1zM235 513v1h1v-1zM236 520v1h1v-1zM238 522v1h1v-1zM239 522v1h1v-1zM241 522v1h1v-1zM242 512v1h1v-1zM242 520v1h1v-1zM242 522v1h1v-1zM243 522v1h1v-1zM245 522v1h1v-1zM246 519v1h1v-1zM248 513v1h1v-1zM279 513v1h1v-1zM280 518v1h1v-1zM302 526v1h1v-1zM304 514v1h1v-1zM306 523v1h1v-1zM308 523v1h1v-1zM316 516v1h1v-1zM316 523v1h1v-1zM319 514v1h1v-1zM320 525v1h1v-1zM323 515v1h1v-1zM325 517v1h1v-1zM331 525v1h1v-1zM333 517v1h1v-1zM337 514v1h1v-1zM341 525v1h1v-1zM342 516v1h1v-1zM343 516v1h1v-1zM343 525v1h1v-1zM346 525v1h1v-1zM347 516v1h1v-1zM347 522v1h1v-1zM351 515v1h1v-1zM353 515v1h1v-1zM353 523v1h1v-1zM354 524v1h1v-1zM356 524v1h1v-1zM359 523v1h1v-1zM360 525v1h1v-1zM363 522v1h1v-1zM367 513v1h1v-1zM372 515v1h1v-1zM373 516v1h1v-1zM374 522v1h1v-1zM376 522v1h1v-1zM377 516v1h1v-1zM379 517v1h1v-1zM381 523v1h1v-1zM382 515v1h1v-1zM387 514v1h1v-1zM389 517v1h1v-1zM389 525v1h1v-1zM390 526v1h1v-1z"/>
<path fill="#a0e296" d="M27 518v1h1v-1zM28 518v1h1v-1zM28 525v1h1v-1zM30 525v1h1v-1zM31 525v1h1v-1zM32 525v1h1v-1zM33 525v1h1v-1zM34 525v1h1v-1zM37 517v1h1v-1zM37 519v1h1v-1zM38 518v1h1v-1zM39 517v1h1v-1zM40 524v1h1v-1zM43 518v1h1v-1zM44 518v1h1v-1zM48 518v1h1v-1zM50 518v1h1v-1zM55 518v1h1v-1zM56 518v1h1v-1zM57 518v1h1v-1zM59 518v1h1v-1zM65 518v1h1v-1zM69 518v1h1v-1zM70 518v1h1v-1zM71 518v1h1v-1zM73 518v1h1v-1zM76 518v1h1v-1zM77 518v1h1v-1zM78 518v1h1v-1zM80 518v1h1v-1zM88 518v1h1v-1zM90 518v1h1v-1zM93 518v1h1v-1zM95 518v1h1v-1zM99 518v1h1v-1zM102 518v1h1v-1zM103 518v1h1v-1zM106 518v1h1v-1zM108 518v1h1v-1zM109 518v1h1v-1zM113 518v1h1v-1zM116 518v1h1v-1zM126 518v1h1v-1zM127 518v1h1v-1zM129 518v1h1v-1zM130 518v1h1v-1zM131 518v1h1v-1zM132 518v1h1v-1zM133 518v1h1v-1zM134 518v1h1v-1zM136 518v1h1v-1zM137 518v1h1v-1zM142 518v1h1v-1zM144 518v1h1v-1zM171 522v1h1v-1zM174 512v1h1v-1zM175 522v1h1v-1zM181 522v1h1v-1zM182 522v1h1v-1zM185 520v1h1v-1zM185 522v1h1v-1zM189 512v1h1v-1zM190 522v1h1v-1zM191 520v1h1v-1zM191 522v1h1v-1zM193 522v1h1v-1zM194 513v1h1v-1zM196 522v1h1v-1zM197 522v1h1v-1zM201 522v1h1v-1zM204 522v1h1v-1zM205 513v1h1v-1zM208 513v1h1v-1zM208 522v1h1v-1zM211 522v1h1v-1zM212 522v1h1v-1zM214 512v1h1v-1zM219 522v1h1v-1zM221 520v1h1v-1zM224 522v1h1v-1zM227 522v1h1v-1zM228 522v1h1v-1zM230 522v1h1v-1zM232 513v1h1v-1zM242 513v1h1v-1zM247 514v1h1v-1zM247 518v1h1v-1zM247 522v1h1v-1zM247 525v1h1v-1zM259 520v1h1v-1zM264 520v1h1v-1zM277 513v1h1v-1zM278 513v1h1v-1zM279 520v1h1v-1zM280 514v2h1v-2zM280 522v1h1v-1zM280 524v2h1v-2zM300 519v1h1v-1zM301 521v1h1v-1zM302 516v1h1v-1zM302 524v1h1v-1zM304 525v1h1v-1zM305 513v1h1v-1zM307 516v1h1v-1zM308 522v1h1v-1zM309 523v1h1v-1zM310 514v1h1v-1zM311 514v1h1v-1zM312 516v1h1v-1zM312 526v1h1v-1zM313 517v1h1v-1zM313 524v1h1v-1zM314 525v1h1v-1zM317 525v1h1v-1zM322 525v1h1v-1zM324 522v1h1v-1zM327 517v1h1v-1zM327 525v1h1v-1zM330 515v1h1v-1zM333 523v1h1v-1zM334 523v1h1v-1zM335 515v1h1v-1zM336 525v1h1v-1zM337 525v1h1v-1zM338 516v1h1v-1zM339 518v1h1v-1zM339 524v1h1v-1zM341 515v1h1v-1zM343 526v1h1v-1zM344 517v1h1v-1zM350 517v1h1v-1zM350 523v1h1v-1zM351 525v1h1v-1zM352 524v1h1v-1zM354 516v1h1v-1zM358 515v1h1v-1zM358 523v1h1v-1zM368 523v1h1v-1zM370 516v1h1v-1zM370 525v1h1v-1zM373 523v1h1v-1zM375 514v1h1v-1zM378 516v1h1v-1zM380 514v1h1v-1zM383 522v1h1v-1zM385 521v1h1v-1zM388 522v1h1v-1z"/>
<path fill="#a8e383" d="M27 517v1h1v-1zM28 517v1h1v-1zM35 525v1h1v-1zM36 518v1h1v-1zM36 525v1h1v-1zM38 517v1h1v-1zM46 518v1h1v-1zM49 518v1h1v-1zM53 518v1h1v-1zM54 518v1h1v-1zM58 518v1h1v-1zM60 518v1h1v-1zM61 518v1h1v-1zM62 518v1h1v-1zM63 518v1h1v-1zM68 518v1h1v-1zM72 518v1h1v-1zM74 518v1h1v-1zM75 518v1h1v-1zM84 518v1h1v-1zM85 518v1h1v-1zM86 518v1h1v-1zM87 518v1h1v-1zM89 518v1h1v-1zM91 518v1h1v-1zM92 518v1h1v-1zM94 518v1h1v-1zM97 518v1h1v-1zM98 518v1h1v-1zM101 518v1h1v-1zM105 518v1h1v-1zM107 518v1h1v-1zM110 518v1h1v-1zM114 518v1h1v-1zM115 518v1h1v-1zM117 518v1h1v-1zM118 518v1h1v-1zM119 518v1h1v-1zM120 518v1h1v-1zM121 518v1h1v-1zM122 518v1h1v-1zM124 518v1h1v-1zM138 518v1h1v-1zM139 518v1h1v-1zM141 518v1h1v-1zM143 518v1h1v-1zM169 519v1h1v-1zM173 512v1h1v-1zM173 521v1h1v-1zM174 513v1h1v-1zM177 519v1h1v-1zM178 519v1h1v-1zM180 512v1h1v-1zM185 512v1h1v-1zM186 519v1h1v-1zM189 513v1h1v-1zM191 512v1h1v-1zM191 519v1h1v-1zM193 519v1h1v-1zM197 512v1h1v-1zM197 519v1h1v-1zM198 519v1h1v-1zM204 521v1h1v-1zM205 522v1h1v-1zM206 519v1h1v-1zM206 522v1h1v-1zM207 519v1h1v-1zM209 522v1h1v-1zM211 519v1h1v-1zM213 519v1h1v-1zM213 522v1h1v-1zM214 513v1h1v-1zM214 522v1h1v-1zM217 519v1h1v-1zM220 522v1h1v-1zM221 519v1h1v-1zM222 513v1h1v-1zM223 519v1h1v-1zM225 522v1h1v-1zM226 512v1h1v-1zM228 519v1h1v-1zM229 519v1h1v-1zM235 519v1h1v-1zM235 522v1h1v-1zM237 522v1h1v-1zM238 512v1h1v-1zM238 520v1h1v-1zM240 522v1h1v-1zM241 519v1h1v-1zM244 522v1h1v-1zM247 515v3h1v-3zM247 523v2h1v-2zM249 513v1h1v-1zM249 520v1h1v-1zM250 513v1h1v-1zM251 513v1h1v-1zM252 513v1h1v-1zM253 513v1h1v-1zM254 520v1h1v-1zM255 513v1h1v-1zM256 513v1h1v-1zM258 513v1h1v-1zM259 513v1h1v-1zM260 513v1h1v-1zM261 513v1h1v-1zM262 513v1h1v-1zM263 513v1h1v-1zM264 513v1h1v-1zM266 513v1h1v-1zM268 513v1h1v-1zM269 520v1h1v-1zM270 513v1h1v-1zM271 513v1h1v-1zM272 513v1h1v-1zM273 513v1h1v-1zM274 513v1h1v-1zM275 513v1h1v-1zM276 513v1h1v-1zM278 520v1h1v-1zM280 516v2h1v-2zM280 523v1h1v-1zM300 517v1h1v-1zM306 514v1h1v-1zM307 523v1h1v-1zM309 516v1h1v-1zM313 525v1h1v-1zM315 516v1h1v-1zM316 517v1h1v-1zM317 523v1h1v-1zM319 525v1h1v-1zM321 525v1h1v-1zM322 515v1h1v-1zM322 522v1h1v-1zM324 526v1h1v-1zM326 524v1h1v-1zM328 520v1h1v-1zM329 521v1h1v-1zM330 523v1h1v-1zM338 524v1h1v-1zM340 522v1h1v-1zM344 525v1h1v-1zM345 516v1h1v-1zM347 518v1h1v-1zM349 517v1h1v-1zM352 516v1h1v-1zM356 517v1h1v-1zM357 516v1h1v-1zM360 515v1h1v-1zM361 524v1h1v-1zM362 520v3h1v-3zM364 520v2h1v-2zM369 525v1h1v-1zM374 521v1h1v-1zM376 516v1h1v-1zM376 520v2h1v-2zM377 524v1h1v-1zM379 523v1h1v-1zM389 518v1h1v-1z"/>
<path fill="#b0e470" d="M30 518v1h1v-1zM31 518v1h1v-1zM33 518v1h1v-1zM36 517v1h1v-1zM37 525v1h1v-1zM41 524v1h1v-1zM45 518v1h1v-1zM47 518v1h1v-1zM51 518v1h1v-1zM52 518v1h1v-1zM64 518v1h1v-1zM66 518v1h1v-1zM79 518v1h1v-1zM81 518v1h1v-1zM82 518v1h1v-1zM83 518v1h1v-1zM96 518v1h1v-1zM104 518v1h1v-1zM111 518v1h1v-1zM112 518v1h1v-1zM123 518v1h1v-1zM125 518v1h1v-1zM135 518v1h1v-1zM140 518v1h1v-1zM145 524v1h1v-1zM168 519v1h1v-1zM170 519v1h1v-1zM171 512v1h1v-1zM171 519v1h1v-1zM172 519v1h1v-1zM174 519v1h1v-1zM176 519v1h1v-1zM177 521v1h1v-1zM180 513v1h1v-1zM180 519v1h1v-1zM182 519v1h1v-1zM183 519v1h1v-1zM184 519v1h1v-1zM185 513v1h1v-1zM185 519v1h1v-1zM187 519v1h1v-1zM189 519v1h1v-1zM190 512v1h1v-1zM192 519v1h1v-1zM196 519v1h1v-1zM201 519v1h1v-1zM202 512v1h1v-1zM203 512v1h1v-1zM203 519v1h1v-1zM205 519v1h1v-1zM209 519v2h1v-2zM214 519v1h1v-1zM216 519v1h1v-1zM217 512v1h1v-1zM217 520v1h1v-1zM219 520v1h1v-1zM222 519v1h1v-1zM224 519v1h1v-1zM225 512v1h1v-1zM225 519v1h1v-1zM226 513v1h1v-1zM226 519v2h1v-2zM227 519v1h1v-1zM230 519v1h1v-1zM232 519v1h1v-1zM233 519v1h1v-1zM234 519v1h1v-1zM236 521v1h1v-1zM237 519v1h1v-1zM238 513v1h1v-1zM239 519v1h1v-1zM241 512v1h1v-1zM242 519v1h1v-1zM243 519v1h1v-1zM244 512v1h1v-1zM244 519v1h1v-1zM245 519v1h1v-1zM250 520v1h1v-1zM254 513v1h1v-1zM257 513v1h1v-1zM265 513v1h1v-1zM267 513v1h1v-1zM269 513v1h1v-1zM273 520v1h1v-1zM274 520v1h1v-1zM300 518v1h1v-1zM303 516v1h1v-1zM307 517v1h1v-1zM307 521v1h1v-1zM310 524v1h1v-1zM311 524v1h1v-1zM312 525v1h1v-1zM313 519v1h1v-1zM315 526v1h1v-1zM317 517v1h1v-1zM318 522v1h1v-1zM318 525v1h1v-1zM320 514v1h1v-1zM320 523v1h1v-1zM323 522v1h1v-1zM326 517v1h1v-1zM328 526v1h1v-1zM333 518v1h1v-1zM333 522v1h1v-1zM335 523v1h1v-1zM340 515v1h1v-1zM340 521v1h1v-1zM341 524v1h1v-1zM344 524v1h1v-1zM346 517v1h1v-1zM347 521v1h1v-1zM357 521v2h1v-2zM359 522v1h1v-1zM361 516v1h1v-1zM362 516v1h1v-1zM363 515v1h1v-1zM363 521v1h1v-1zM364 517v3h1v-3zM366 515v1h1v-1zM366 523v1h1v-1zM367 523v1h1v-1zM369 516v1h1v-1zM371 524v1h1v-1zM372 524v1h1v-1zM373 517v1h1v-1zM374 515v1h1v-1zM380 523v1h1v-1zM381 515v1h1v-1zM382 521v1h1v-1zM386 514v1h1v-1zM387 521v1h1v-1zM388 514v1h1v-1z"/>
<path fill="#bde766" d="M26 521v1h1v-1zM30 517v1h1v-1zM34 518v1h1v-1zM35 518v1h1v-1zM171 513v1h1v-1zM173 513v1h1v-1zM173 519v1h1v-1zM175 519v1h1v-1zM179 512v1h1v-1zM179 519v1h1v-1zM181 519v1h1v-1zM183 521v1h1v-1zM188 519v1h1v-1zM190 513v1h1v-1zM190 519v1h1v-1zM191 513v1h1v-1zM193 520v1h1v-1zM194 519v1h1v-1zM195 512v1h1v-1zM195 519v1h1v-1zM197 513v1h1v-1zM199 519v1h1v-1zM200 519v1h1v-1zM202 513v1h1v-1zM202 519v1h1v-1zM203 513v1h1v-1zM204 519v1h1v-1zM208 519v1h1v-1zM209 512v1h1v-1zM210 512v1h1v-1zM210 519v1h1v-1zM212 519v1h1v-1zM215 519v1h1v-1zM217 513v1h1v-1zM218 519v1h1v-1zM219 519v1h1v-1zM220 519v1h1v-1zM228 512v1h1v-1zM231 519v1h1v-1zM236 519v1h1v-1zM238 519v1h1v-1zM240 519v1h1v-1zM241 513v1h1v-1zM244 513v1h1v-1zM268 520v1h1v-1zM279 521v1h1v-1zM302 517v1h1v-1zM304 515v1h1v-1zM305 523v1h1v-1zM306 522v1h1v-1zM307 520v1h1v-1zM309 522v1h1v-1zM312 517v1h1v-1zM314 516v1h1v-1zM316 526v1h1v-1zM318 515v1h1v-1zM319 522v1h1v-1zM321 514v1h1v-1zM321 523v1h1v-1zM327 523v1h1v-1zM328 516v1h1v-1zM331 516v1h1v-1zM332 516v1h1v-1zM332 524v1h1v-1zM336 515v1h1v-1zM338 517v1h1v-1zM341 526v1h1v-1zM343 517v1h1v-1zM343 524v1h1v-1zM345 525v1h1v-1zM346 524v1h1v-1zM348 517v1h1v-1zM349 522v1h1v-1zM350 518v1h1v-1zM350 522v1h1v-1zM355 524v1h1v-1zM365 516v1h1v-1zM365 522v1h1v-1zM368 514v1h1v-1zM375 521v1h1v-1zM376 517v1h1v-1zM376 519v1h1v-1zM378 524v1h1v-1zM379 518v1h1v-1zM382 520v1h1v-1zM384 515v1h1v-1zM388 521v1h1v-1zM389 524v1h1v-1zM390 517v1h1v-1z"/>
<path fill="#ccea5c" d="M26 523v1h1v-1zM27 520v1h1v-1zM31 517v1h1v-1zM33 517v1h1v-1zM34 517v1h1v-1zM35 517v1h1v-1zM40 521v1h1v-1zM173 520v1h1v-1zM179 513v1h1v-1zM179 520v2h1v-2zM183 520v1h1v-1zM195 513v1h1v-1zM198 521v1h1v-1zM209 513v1h1v-1zM210 513v1h1v-1zM224 512v1h1v-1zM225 513v1h1v-1zM228 513v1h1v-1zM239 512v1h1v-1zM255 520v1h1v-1zM264 521v1h1v-1zM269 521v1h1v-1zM278 521v1h1v-1zM279 519v1h1v-1zM301 515v1h1v-1zM301 526v1h1v-1zM302 518v1h1v-1zM306 525v1h1v-1zM307 522v1h1v-1zM309 521v1h1v-1zM310 515v1h1v-1zM311 515v1h1v-1zM315 524v1h1v-1zM322 516v1h1v-1zM324 516v1h1v-1zM325 523v1h1v-1zM327 518v1h1v-1zM329 515v1h1v-1zM330 522v1h1v-1zM331 524v1h1v-1zM333 519v1h1v-1zM333 521v1h1v-1zM334 516v1h1v-1zM337 515v1h1v-1zM342 517v1h1v-1zM347 519v2h1v-2zM352 517v1h1v-1zM358 522v1h1v-1zM359 516v1h1v-1zM359 521v1h1v-1zM362 519v1h1v-1zM367 514v1h1v-1zM371 516v1h1v-1zM373 522v1h1v-1zM376 518v1h1v-1zM377 517v1h1v-1zM381 522v1h1v-1zM382 516v1h1v-1zM385 515v1h1v-1zM386 521v1h1v-1zM390 525v1h1v-1z"/>
<path fill="#d8ec51" d="M26 522v1h1v-1zM27 524v1h1v-1zM32 520v1h1v-1zM33 520v1h1v-1zM38 520v1h1v-1zM39 520v1h1v-1zM39 524v1h1v-1zM40 523v1h1v-1zM41 519v1h1v-1zM219 521v1h1v-1zM224 513v1h1v-1zM231 520v1h1v-1zM239 513v1h1v-1zM241 521v1h1v-1zM249 521v1h1v-1zM250 521v1h1v-1zM254 521v1h1v-1zM259 521v1h1v-1zM260 520v1h1v-1zM264 519v1h1v-1zM273 521v1h1v-1zM274 521v1h1v-1zM278 519v1h1v-1zM302 523v1h1v-1zM304 524v1h1v-1zM305 514v1h1v-1zM306 515v1h1v-1zM307 518v2h1v-2zM307 526v1h1v-1zM313 523v1h1v-1zM319 515v1h1v-1zM322 521v1h1v-1zM325 518v1h1v-1zM333 520v1h1v-1zM336 524v1h1v-1zM337 524v1h1v-1zM341 523v1h1v-1zM343 518v1h1v-1zM343 523v1h1v-1zM344 518v1h1v-1zM348 522v1h1v-1zM350 519v1h1v-1zM350 521v1h1v-1zM351 516v1h1v-1zM351 524v1h1v-1zM352 523v1h1v-1zM354 523v1h1v-1zM355 517v1h1v-1zM356 523v1h1v-1zM360 524v1h1v-1zM368 522v1h1v-1zM370 517v1h1v-1zM370 524v1h1v-1zM372 516v1h1v-1zM374 520v1h1v-1zM379 522v1h1v-1zM380 515v1h1v-1zM383 521v1h1v-1zM389 519v1h1v-1z"/>
<path fill="#e4ee48" d="M28 520v1h1v-1zM31 520v1h1v-1zM36 520v1h1v-1zM38 524v1h1v-1zM41 523v1h1v-1zM145 519v2h1v-2zM145 522v1h1v-1zM167 523v1h1v-1zM167 526v1h1v-1zM241 520v1h1v-1zM258 520v1h1v-1zM259 519v1h1v-1zM263 520v1h1v-1zM268 521v1h1v-1zM269 519v1h1v-1zM304 516v1h1v-1zM306 521v1h1v-1zM308 516v1h1v-1zM308 521v1h1v-1zM310 523v1h1v-1zM311 523v1h1v-1zM312 518v1h1v-1zM313 520v1h1v-1zM314 524v1h1v-1zM323 516v1h1v-1zM324 521v1h1v-1zM330 520v2h1v-2zM333 526v1h1v-1zM334 522v1h1v-1zM335 516v1h1v-1zM338 518v1h1v-1zM343 520v1h1v-1zM344 523v1h1v-1zM350 520v1h1v-1zM354 517v1h1v-1zM357 520v1h1v-1zM361 523v1h1v-1zM362 517v2h1v-2zM363 520v1h1v-1zM373 518v1h1v-1zM377 523v1h1v-1zM378 517v1h1v-1zM379 519v1h1v-1zM381 516v1h1v-1zM382 519v1h1v-1zM383 515v1h1v-1zM384 520v1h1v-1zM385 520v1h1v-1zM387 515v1h1v-1zM387 520v1h1v-1zM389 523v1h1v-1z"/>
<path fill="#efed42" d="M29 520v1h1v-1zM33 524v1h1v-1zM34 520v1h1v-1zM35 520v1h1v-1zM40 522v1h1v-1zM41 521v2h1v-2zM42 524v1h1v-1zM145 521v1h1v-1zM145 523v1h1v-1zM167 514v1h1v-1zM167 525v1h1v-1zM176 520v1h1v-1zM238 521v1h1v-1zM248 520v1h1v-1zM249 519v1h1v-1zM250 519v1h1v-1zM254 519v1h1v-1zM255 521v1h1v-1zM260 521v1h1v-1zM263 521v1h1v-1zM265 520v1h1v-1zM273 519v1h1v-1zM274 519v1h1v-1zM302 519v1h1v-1zM305 522v1h1v-1zM309 520v1h1v-1zM315 517v1h1v-1zM318 521v1h1v-1zM320 515v1h1v-1zM320 526v1h1v-1zM328 519v1h1v-1zM330 525v1h1v-1zM336 526v1h1v-1zM338 525v1h1v-1zM339 519v1h1v-1zM341 521v2h1v-2zM343 519v1h1v-1zM343 521v2h1v-2zM345 517v1h1v-1zM346 518v1h1v-1zM353 516v1h1v-1zM353 522v1h1v-1zM356 518v1h1v-1zM357 517v1h1v-1zM358 521v1h1v-1zM360 516v1h1v-1zM361 517v1h1v-1zM365 517v1h1v-1zM365 521v1h1v-1zM367 522v1h1v-1zM369 517v1h1v-1zM369 524v1h1v-1zM373 521v1h1v-1zM374 516v1h1v-1zM375 515v1h1v-1zM379 521v1h1v-1zM380 522v1h1v-1z"/>
<path fill="#faec3c" d="M29 524v1h1v-1zM30 520v1h1v-1zM32 524v1h1v-1zM37 520v1h1v-1zM41 520v1h1v-1zM167 524v1h1v-1zM191 521v1h1v-1zM253 520v1h1v-1zM255 519v1h1v-1zM270 520v1h1v-1zM301 520v1h1v-1zM302 522v1h1v-1zM303 517v1h1v-1zM303 525v1h1v-1zM304 517v1h1v-1zM306 516v1h1v-1zM309 517v1h1v-1zM309 525v1h1v-1zM313 521v2h1v-2zM316 522v1h1v-1zM317 526v1h1v-1zM318 516v1h1v-1zM319 521v1h1v-1zM320 522v1h1v-1zM322 517v1h1v-1zM322 520v1h1v-1zM322 526v1h1v-1zM323 521v1h1v-1zM325 525v1h1v-1zM328 517v1h1v-1zM330 516v1h1v-1zM331 517v1h1v-1zM332 517v1h1v-1zM332 523v1h1v-1zM335 522v1h1v-1zM336 516v1h1v-1zM339 523v1h1v-1zM341 516v1h1v-1zM341 520v1h1v-1zM342 525v1h1v-1zM344 519v1h1v-1zM346 523v1h1v-1zM352 518v1h1v-1zM352 522v1h1v-1zM368 515v1h1v-1zM371 523v1h1v-1zM373 519v1h1v-1zM379 520v1h1v-1zM381 521v1h1v-1zM382 517v1h1v-1zM389 520v1h1v-1zM389 522v1h1v-1zM390 518v1h1v-1z"/>
<path fill="#fcd836" d="M31 524v1h1v-1zM34 524v1h1v-1zM36 524v1h1v-1zM46 524v1h1v-1zM56 524v1h1v-1zM57 524v1h1v-1zM59 524v1h1v-1zM61 524v1h1v-1zM69 524v1h1v-1zM73 524v1h1v-1zM74 524v1h1v-1zM108 524v1h1v-1zM109 524v1h1v-1zM127 524v1h1v-1zM131 524v1h1v-1zM144 524v1h1v-1zM167 515v4h1v-4zM248 519v1h1v-1zM248 521v1h1v-1zM248 526v1h1v-1zM251 520v1h1v-1zM258 519v1h1v-1zM260 519v1h1v-1zM265 521v1h1v-1zM268 519v1h1v-1zM277 520v1h1v-1zM302 520v2h1v-2zM304 518v1h1v-1zM306 520v1h1v-1zM310 516v1h1v-1zM311 516v1h1v-1zM313 526v1h1v-1zM314 517v1h1v-1zM315 523v1h1v-1zM316 518v1h1v-1zM319 516v1h1v-1zM319 526v1h1v-1zM321 515v1h1v-1zM321 522v1h1v-1zM321 526v1h1v-1zM322 518v2h1v-2zM324 517v1h1v-1zM325 522v1h1v-1zM326 523v1h1v-1zM327 519v1h1v-1zM327 522v1h1v-1zM327 526v1h1v-1zM328 518v1h1v-1zM331 523v1h1v-1zM334 517v1h1v-1zM337 516v1h1v-1zM338 519v1h1v-1zM344 522v1h1v-1zM345 524v1h1v-1zM349 518v1h1v-1zM357 519v1h1v-1zM358 516v1h1v-1zM359 520v1h1v-1zM366 516v1h1v-1zM366 522v1h1v-1zM367 515v1h1v-1zM372 523v1h1v-1zM373 520v1h1v-1zM374 519v1h1v-1zM377 518v1h1v-1zM378 523v1h1v-1zM381 517v1h1v-1zM382 518v1h1v-1zM383 520v1h1v-1zM389 521v1h1v-1z"/>
<path fill="#ffc430" d="M28 524v1h1v-1zM30 524v1h1v-1zM35 524v1h1v-1zM37 524v1h1v-1zM43 524v1h1v-1zM44 524v1h1v-1zM51 524v1h1v-1zM55 524v1h1v-1zM58 524v1h1v-1zM60 524v1h1v-1zM65 524v1h1v-1zM67 524v1h1v-1zM68 524v1h1v-1zM70 524v1h1v-1zM77 524v1h1v-1zM78 524v1h1v-1zM80 524v1h1v-1zM89 524v1h1v-1zM90 524v1h1v-1zM93 524v1h1v-1zM95 524v1h1v-1zM100 524v1h1v-1zM102 524v1h1v-1zM103 524v1h1v-1zM106 524v1h1v-1zM107 524v1h1v-1zM110 524v1h1v-1zM111 524v1h1v-1zM114 524v1h1v-1zM116 524v1h1v-1zM119 524v1h1v-1zM126 524v1h1v-1zM128 524v1h1v-1zM129 524v1h1v-1zM130 524v1h1v-1zM134 524v1h1v-1zM136 524v1h1v-1zM137 524v1h1v-1zM138 524v1h1v-1zM141 524v1h1v-1zM142 524v1h1v-1zM143 524v1h1v-1zM168 526v1h1v-1zM180 526v1h1v-1zM210 526v1h1v-1zM221 521v1h1v-1zM223 526v1h1v-1zM234 526v1h1v-1zM253 521v1h1v-1zM258 521v1h1v-1zM263 519v1h1v-1zM265 519v1h1v-1zM270 521v1h1v-1zM272 520v1h1v-1zM275 520v1h1v-1zM277 521v1h1v-1zM279 526v1h1v-1zM303 524v1h1v-1zM304 523v1h1v-1zM305 515v1h1v-1zM306 517v1h1v-1zM312 524v1h1v-1zM318 526v1h1v-1zM325 519v1h1v-1zM326 518v1h1v-1zM336 523v1h1v-1zM337 523v1h1v-1zM338 523v1h1v-1zM340 520v1h1v-1zM342 518v1h1v-1zM344 520v2h1v-2zM344 526v1h1v-1zM346 519v1h1v-1zM349 521v1h1v-1zM351 517v1h1v-1zM354 518v1h1v-1zM354 522v1h1v-1zM355 523v1h1v-1zM356 522v1h1v-1zM357 518v1h1v-1zM359 517v1h1v-1zM363 516v1h1v-1zM368 521v1h1v-1zM370 518v1h1v-1zM370 523v1h1v-1zM371 517v1h1v-1zM374 517v1h1v-1zM375 520v1h1v-1zM380 516v1h1v-1zM381 520v1h1v-1zM385 516v1h1v-1zM386 515v1h1v-1zM388 515v1h1v-1zM390 524v1h1v-1z"/>
<path fill="#ff9f27" d="M27 521v1h1v-1zM33 521v1h1v-1zM45 524v1h1v-1zM48 524v1h1v-1zM49 524v1h1v-1zM53 524v1h1v-1zM54 524v1h1v-1zM62 524v1h1v-1zM66 524v1h1v-1zM72 524v1h1v-1zM91 524v1h1v-1zM98 524v1h1v-1zM105 524v1h1v-1zM113 524v1h1v-1zM115 524v1h1v-1zM117 524v1h1v-1zM120 524v1h1v-1zM122 524v1h1v-1zM123 524v1h1v-1zM132 524v1h1v-1zM133 524v1h1v-1zM135 524v1h1v-1zM170 526v1h1v-1zM183 526v1h1v-1zM188 526v1h1v-1zM189 526v1h1v-1zM192 526v1h1v-1zM198 526v1h1v-1zM201 526v1h1v-1zM207 526v1h1v-1zM216 526v1h1v-1zM217 526v1h1v-1zM231 526v1h1v-1zM232 526v1h1v-1zM233 526v1h1v-1zM236 526v1h1v-1zM243 526v1h1v-1zM245 526v1h1v-1zM246 514v1h1v-1zM246 526v1h1v-1zM251 519v1h1v-1zM253 519v1h1v-1zM256 520v1h1v-1zM267 521v1h1v-1zM270 519v1h1v-1zM275 521v1h1v-1zM277 519v1h1v-1zM279 522v1h1v-1zM301 516v1h1v-1zM306 518v2h1v-2zM310 522v1h1v-1zM311 522v1h1v-1zM317 518v1h1v-1zM317 522v1h1v-1zM318 520v1h1v-1zM324 520v1h1v-1zM329 520v1h1v-1zM334 521v1h1v-1zM340 516v1h1v-1zM346 522v1h1v-1zM348 518v1h1v-1zM351 523v1h1v-1zM352 519v1h1v-1zM352 521v1h1v-1zM356 519v1h1v-1zM361 522v1h1v-1zM365 518v1h1v-1zM365 520v1h1v-1zM372 517v1h1v-1zM374 518v1h1v-1zM377 522v1h1v-1zM380 521v1h1v-1zM381 518v1h1v-1zM384 516v1h1v-1zM385 519v1h1v-1zM388 520v1h1v-1z"/>
<path fill="#ff7a1e" d="M32 521v1h1v-1zM38 521v1h1v-1zM39 521v1h1v-1zM42 519v1h1v-1zM63 524v1h1v-1zM64 524v1h1v-1zM71 524v1h1v-1zM75 524v1h1v-1zM79 524v1h1v-1zM83 524v1h1v-1zM84 524v1h1v-1zM85 524v1h1v-1zM86 524v1h1v-1zM88 524v1h1v-1zM92 524v1h1v-1zM94 524v1h1v-1zM96 524v1h1v-1zM97 524v1h1v-1zM99 524v1h1v-1zM101 524v1h1v-1zM104 524v1h1v-1zM121 524v1h1v-1zM140 524v1h1v-1zM169 526v1h1v-1zM170 523v1h1v-1zM171 526v1h1v-1zM172 525v2h1v-2zM173 526v1h1v-1zM174 526v1h1v-1zM178 514v1h1v-1zM184 526v1h1v-1zM185 514v1h1v-1zM185 526v1h1v-1zM186 514v1h1v-1zM186 526v1h1v-1zM187 526v1h1v-1zM190 526v1h1v-1zM191 526v1h1v-1zM192 523v1h1v-1zM192 525v1h1v-1zM194 526v1h1v-1zM200 526v1h1v-1zM202 526v1h1v-1zM203 526v1h1v-1zM208 526v1h1v-1zM215 526v1h1v-1zM218 526v1h1v-1zM223 514v1h1v-1zM224 514v1h1v-1zM229 514v1h1v-1zM229 526v1h1v-1zM232 525v1h1v-1zM235 514v1h1v-1zM243 514v1h1v-1zM246 515v1h1v-1zM246 518v1h1v-1zM246 525v1h1v-1zM248 518v1h1v-1zM251 521v1h1v-1zM251 526v1h1v-1zM256 519v1h1v-1zM261 521v1h1v-1zM262 520v1h1v-1zM267 519v2h1v-2zM272 519v1h1v-1zM272 521v1h1v-1zM275 519v1h1v-1zM305 521v1h1v-1zM309 518v2h1v-2zM314 523v1h1v-1zM315 518v1h1v-1zM318 517v1h1v-1zM323 517v1h1v-1zM327 520v2h1v-2zM332 518v1h1v-1zM332 522v1h1v-1zM335 517v1h1v-1zM348 521v1h1v-1zM352 520v1h1v-1zM354 519v1h1v-1zM355 518v1h1v-1zM360 523v1h1v-1zM361 518v1h1v-1zM365 519v1h1v-1zM367 521v1h1v-1zM368 516v1h1v-1zM369 523v1h1v-1zM378 518v1h1v-1zM381 519v1h1v-1zM386 520v1h1v-1zM387 516v1h1v-1zM387 519v1h1v-1z"/>
<path fill="#fc5317" d="M29 521v1h1v-1zM34 521v1h1v-1zM38 523v1h1v-1zM39 523v1h1v-1zM42 522v1h1v-1zM47 524v1h1v-1zM50 524v1h1v-1zM52 524v1h1v-1zM65 519v1h1v-1zM76 524v1h1v-1zM81 524v1h1v-1zM82 524v1h1v-1zM87 524v1h1v-1zM100 519v1h1v-1zM106 519v1h1v-1zM112 524v1h1v-1zM118 524v1h1v-1zM124 524v1h1v-1zM125 524v1h1v-1zM139 524v1h1v-1zM168 514v1h1v-1zM168 523v1h1v-1zM168 525v1h1v-1zM169 514v1h1v-1zM170 524v1h1v-1zM175 526v1h1v-1zM176 526v1h1v-1zM178 526v1h1v-1zM179 526v1h1v-1zM180 525v1h1v-1zM184 523v1h1v-1zM191 514v1h1v-1zM192 514v1h1v-1zM194 525v1h1v-1zM195 523v1h1v-1zM201 514v1h1v-1zM203 514v1h1v-1zM207 523v1h1v-1zM207 525v1h1v-1zM211 514v1h1v-1zM212 526v1h1v-1zM217 514v1h1v-1zM218 523v1h1v-1zM219 514v1h1v-1zM219 526v1h1v-1zM222 514v1h1v-1zM222 526v1h1v-1zM223 525v1h1v-1zM224 526v1h1v-1zM227 526v1h1v-1zM230 514v1h1v-1zM230 526v1h1v-1zM231 523v1h1v-1zM231 525v1h1v-1zM232 523v1h1v-1zM237 514v1h1v-1zM239 525v2h1v-2zM242 523v1h1v-1zM242 526v1h1v-1zM243 523v2h1v-2zM244 514v1h1v-1zM246 524v1h1v-1zM249 526v1h1v-1zM250 526v1h1v-1zM252 519v1h1v-1zM252 526v1h1v-1zM253 526v1h1v-1zM254 526v1h1v-1zM255 526v1h1v-1zM256 521v1h1v-1zM257 519v2h1v-2zM257 526v1h1v-1zM259 526v1h1v-1zM261 519v2h1v-2zM266 521v1h1v-1zM268 526v1h1v-1zM269 526v1h1v-1zM271 526v1h1v-1zM274 526v1h1v-1zM276 520v1h1v-1zM276 526v1h1v-1zM278 526v1h1v-1zM279 514v1h1v-1zM279 518v1h1v-1zM304 519v1h1v-1zM308 520v1h1v-1zM310 517v1h1v-1zM311 517v1h1v-1zM318 519v1h1v-1zM319 517v1h1v-1zM319 520v1h1v-1zM320 516v1h1v-1zM320 521v1h1v-1zM324 518v2h1v-2zM325 520v2h1v-2zM330 519v1h1v-1zM331 518v1h1v-1zM331 522v1h1v-1zM336 517v1h1v-1zM342 524v1h1v-1zM345 518v1h1v-1zM346 520v2h1v-2zM349 519v1h1v-1zM354 521v1h1v-1zM356 521v1h1v-1zM359 519v1h1v-1zM360 517v1h1v-1zM368 520v1h1v-1zM369 518v1h1v-1zM375 516v1h1v-1zM377 519v1h1v-1zM380 517v1h1v-1zM384 519v1h1v-1zM390 519v1h1v-1z"/>
<path fill="#fa2c10" d="M27 523v1h1v-1zM29 523v1h1v-1zM30 521v1h1v-1zM31 521v1h1v-1zM33 523v1h1v-1zM36 521v1h1v-1zM42 520v2h1v-2zM42 523v1h1v-1zM43 523v1h1v-1zM44 519v1h1v-1zM53 519v1h1v-1zM59 522v1h1v-1zM61 519v1h1v-1zM62 519v1h1v-1zM67 519v2h1v-2zM71 519v1h1v-1zM78 519v1h1v-1zM97 519v1h1v-1zM100 522v1h1v-1zM108 519v1h1v-1zM108 521v3h1v-3zM109 520v1h1v-1zM113 519v1h1v-1zM116 519v1h1v-1zM116 521v3h1v-3zM121 519v1h1v-1zM128 523v1h1v-1zM131 523v1h1v-1zM143 519v1h1v-1zM144 519v1h1v-1zM170 514v1h1v-1zM170 525v1h1v-1zM172 524v1h1v-1zM175 523v1h1v-1zM177 514v1h1v-1zM178 523v1h1v-1zM180 524v1h1v-1zM181 514v1h1v-1zM181 526v1h1v-1zM182 514v1h1v-1zM182 526v1h1v-1zM183 524v1h1v-1zM184 514v1h1v-1zM185 515v1h1v-1zM185 523v1h1v-1zM186 523v1h1v-1zM186 525v1h1v-1zM187 523v1h1v-1zM187 525v1h1v-1zM189 525v1h1v-1zM190 514v1h1v-1zM193 514v1h1v-1zM193 526v1h1v-1zM194 523v2h1v-2zM195 524v1h1v-1zM195 526v1h1v-1zM196 526v1h1v-1zM197 514v1h1v-1zM198 514v1h1v-1zM198 523v2h1v-2zM199 523v1h1v-1zM199 526v1h1v-1zM200 523v1h1v-1zM203 525v1h1v-1zM204 526v1h1v-1zM206 526v1h1v-1zM207 514v1h1v-1zM210 523v1h1v-1zM213 514v1h1v-1zM213 526v1h1v-1zM214 514v1h1v-1zM214 526v1h1v-1zM215 525v1h1v-1zM219 523v1h1v-1zM219 525v1h1v-1zM220 526v1h1v-1zM221 525v2h1v-2zM222 523v1h1v-1zM223 523v2h1v-2zM225 514v1h1v-1zM225 526v1h1v-1zM227 514v1h1v-1zM228 514v1h1v-1zM229 515v1h1v-1zM229 518v1h1v-1zM229 525v1h1v-1zM231 524v1h1v-1zM233 514v1h1v-1zM234 523v1h1v-1zM236 514v1h1v-1zM237 526v1h1v-1zM238 514v1h1v-1zM238 526v1h1v-1zM241 526v1h1v-1zM242 514v1h1v-1zM243 525v1h1v-1zM246 517v1h1v-1zM246 523v1h1v-1zM248 514v1h1v-1zM248 517v1h1v-1zM248 522v1h1v-1zM248 525v1h1v-1zM252 520v2h1v-2zM256 526v1h1v-1zM257 521v1h1v-1zM258 526v1h1v-1zM259 522v1h1v-1zM260 526v1h1v-1zM261 526v1h1v-1zM262 519v1h1v-1zM262 521v1h1v-1zM262 526v1h1v-1zM263 526v1h1v-1zM264 526v1h1v-1zM265 526v1h1v-1zM266 519v2h1v-2zM266 526v1h1v-1zM267 526v1h1v-1zM270 526v1h1v-1zM271 519v3h1v-3zM272 526v1h1v-1zM273 526v1h1v-1zM275 526v1h1v-1zM276 519v1h1v-1zM277 526v1h1v-1zM279 516v2h1v-2zM279 524v2h1v-2zM301 519v1h1v-1zM303 518v1h1v-1zM304 522v1h1v-1zM305 516v1h1v-1zM306 526v1h1v-1zM310 521v1h1v-1zM311 521v1h1v-1zM312 519v1h1v-1zM315 522v1h1v-1zM318 518v1h1v-1zM321 516v1h1v-1zM321 521v1h1v-1zM323 520v1h1v-1zM329 516v1h1v-1zM330 517v1h1v-1zM334 518v1h1v-1zM334 520v1h1v-1zM335 521v1h1v-1zM336 522v1h1v-1zM337 517v1h1v-1zM339 520v1h1v-1zM339 522v1h1v-1zM341 517v1h1v-1zM341 519v1h1v-1zM349 520v1h1v-1zM354 520v1h1v-1zM356 520v1h1v-1zM359 518v1h1v-1zM361 521v1h1v-1zM363 519v1h1v-1zM367 516v1h1v-1zM370 519v1h1v-1zM370 522v1h1v-1zM371 522v1h1v-1zM377 520v2h1v-2zM378 522v1h1v-1zM383 516v1h1v-1zM385 517v2h1v-2zM390 523v1h1v-1z"/>
<path fill="#f31a0a" d="M27 522v1h1v-1zM31 523v1h1v-1zM34 523v1h1v-1zM38 522v1h1v-1zM39 522v1h1v-1zM43 519v2h1v-2zM46 519v2h1v-2zM48 519v1h1v-1zM48 522v1h1v-1zM49 519v1h1v-1zM54 523v1h1v-1zM55 519v1h1v-1zM56 519v1h1v-1zM57 522v1h1v-1zM58 519v1h1v-1zM59 521v1h1v-1zM59 523v1h1v-1zM61 522v1h1v-1zM62 522v1h1v-1zM63 519v1h1v-1zM64 519v1h1v-1zM65 520v3h1v-3zM67 522v1h1v-1zM69 519v1h1v-1zM69 521v1h1v-1zM70 523v1h1v-1zM72 519v1h1v-1zM72 523v1h1v-1zM73 519v1h1v-1zM74 520v1h1v-1zM75 519v2h1v-2zM77 521v2h1v-2zM78 522v1h1v-1zM88 523v1h1v-1zM90 519v1h1v-1zM90 521v1h1v-1zM95 519v1h1v-1zM100 523v1h1v-1zM102 521v2h1v-2zM103 519v1h1v-1zM105 519v1h1v-1zM106 520v1h1v-1zM106 523v1h1v-1zM107 519v1h1v-1zM109 519v1h1v-1zM109 521v3h1v-3zM110 519v1h1v-1zM113 520v1h1v-1zM115 519v1h1v-1zM116 520v1h1v-1zM117 519v1h1v-1zM127 519v1h1v-1zM128 519v3h1v-3zM129 521v1h1v-1zM131 519v2h1v-2zM133 519v1h1v-1zM134 520v2h1v-2zM136 520v1h1v-1zM137 519v1h1v-1zM139 519v1h1v-1zM141 519v1h1v-1zM141 523v1h1v-1zM142 523v1h1v-1zM143 520v1h1v-1zM144 523v1h1v-1zM168 524v1h1v-1zM169 523v3h1v-3zM170 516v1h1v-1zM170 518v1h1v-1zM172 514v1h1v-1zM172 523v1h1v-1zM173 514v1h1v-1zM174 524v1h1v-1zM175 514v1h1v-1zM177 526v1h1v-1zM178 515v4h1v-4zM178 525v1h1v-1zM179 514v1h1v-1zM180 514v1h1v-1zM180 523v1h1v-1zM182 525v1h1v-1zM183 514v1h1v-1zM184 524v2h1v-2zM185 517v1h1v-1zM186 516v3h1v-3zM187 514v1h1v-1zM188 514v1h1v-1zM188 523v3h1v-3zM189 514v1h1v-1zM189 523v2h1v-2zM190 523v1h1v-1zM193 524v2h1v-2zM197 515v1h1v-1zM198 518v1h1v-1zM198 525v1h1v-1zM199 524v1h1v-1zM200 514v1h1v-1zM200 524v2h1v-2zM201 518v1h1v-1zM203 523v2h1v-2zM205 514v1h1v-1zM205 526v1h1v-1zM206 514v1h1v-1zM207 518v1h1v-1zM207 524v1h1v-1zM208 514v1h1v-1zM209 514v2h1v-2zM209 517v1h1v-1zM210 524v2h1v-2zM211 526v1h1v-1zM214 518v1h1v-1zM215 523v1h1v-1zM216 514v1h1v-1zM216 523v1h1v-1zM216 525v1h1v-1zM217 525v1h1v-1zM219 524v1h1v-1zM220 514v1h1v-1zM221 514v1h1v-1zM221 523v1h1v-1zM222 518v1h1v-1zM222 524v1h1v-1zM223 517v2h1v-2zM224 517v1h1v-1zM225 515v1h1v-1zM225 525v1h1v-1zM226 514v1h1v-1zM226 523v2h1v-2zM226 526v1h1v-1zM227 518v1h1v-1zM228 526v1h1v-1zM229 523v1h1v-1zM230 517v1h1v-1zM230 524v2h1v-2zM231 514v1h1v-1zM232 514v1h1v-1zM232 524v1h1v-1zM233 523v3h1v-3zM234 514v1h1v-1zM234 518v1h1v-1zM234 525v1h1v-1zM235 516v1h1v-1zM236 523v1h1v-1zM237 515v1h1v-1zM237 517v2h1v-2zM239 523v1h1v-1zM241 514v1h1v-1zM241 518v1h1v-1zM241 525v1h1v-1zM242 524v2h1v-2zM243 518v1h1v-1zM244 515v1h1v-1zM248 515v2h1v-2zM248 523v2h1v-2zM249 518v1h1v-1zM250 522v1h1v-1zM255 522v1h1v-1zM264 522v1h1v-1zM276 521v1h1v-1zM278 518v1h1v-1zM278 522v1h1v-1zM279 515v1h1v-1zM279 523v1h1v-1zM305 520v1h1v-1zM308 517v1h1v-1zM314 518v1h1v-1zM319 518v2h1v-2zM332 519v1h1v-1zM332 521v1h1v-1zM334 519v1h1v-1zM337 522v1h1v-1zM342 519v1h1v-1zM345 523v1h1v-1zM351 518v1h1v-1zM351 522v1h1v-1zM353 521v1h1v-1zM358 520v1h1v-1zM361 519v2h1v-2zM366 517v1h1v-1zM366 521v1h1v-1zM367 520v1h1v-1zM368 517v1h1v-1zM368 519v1h1v-1zM371 518v1h1v-1zM372 522v1h1v-1zM375 519v1h1v-1zM380 520v1h1v-1z"/>
<path fill="#ec0804" d="M28 521v1h1v-1zM28 523v1h1v-1zM29 522v1h1v-1zM32 523v1h1v-1zM35 521v1h1v-1zM35 523v1h1v-1zM37 521v1h1v-1zM43 521v1h1v-1zM44 520v1h1v-1zM45 519v1h1v-1zM46 522v1h1v-1zM48 520v1h1v-1zM48 523v1h1v-1zM51 523v1h1v-1zM53 522v2h1v-2zM54 520v3h1v-3zM55 523v1h1v-1zM56 520v1h1v-1zM56 522v1h1v-1zM57 519v1h1v-1zM57 521v1h1v-1zM57 523v1h1v-1zM59 519v1h1v-1zM60 523v1h1v-1zM61 520v2h1v-2zM61 523v1h1v-1zM62 520v1h1v-1zM62 523v1h1v-1zM65 523v1h1v-1zM67 523v1h1v-1zM68 520v1h1v-1zM69 520v1h1v-1zM69 522v2h1v-2zM72 522v1h1v-1zM73 522v2h1v-2zM74 519v1h1v-1zM74 522v1h1v-1zM75 523v1h1v-1zM76 520v1h1v-1zM77 519v1h1v-1zM78 520v1h1v-1zM78 523v1h1v-1zM80 519v3h1v-3zM80 523v1h1v-1zM84 523v1h1v-1zM85 519v1h1v-1zM85 523v1h1v-1zM86 522v1h1v-1zM87 519v2h1v-2zM88 519v2h1v-2zM89 519v2h1v-2zM90 522v1h1v-1zM91 520v1h1v-1zM91 523v1h1v-1zM92 519v1h1v-1zM93 523v1h1v-1zM98 519v3h1v-3zM98 523v1h1v-1zM99 521v1h1v-1zM100 520v1h1v-1zM102 519v2h1v-2zM102 523v1h1v-1zM103 523v1h1v-1zM105 523v1h1v-1zM106 522v1h1v-1zM107 522v2h1v-2zM110 523v1h1v-1zM111 519v1h1v-1zM113 522v2h1v-2zM118 519v1h1v-1zM118 523v1h1v-1zM119 519v1h1v-1zM121 520v1h1v-1zM123 520v1h1v-1zM123 523v1h1v-1zM126 519v2h1v-2zM127 523v1h1v-1zM129 519v1h1v-1zM129 522v1h1v-1zM130 520v1h1v-1zM134 522v1h1v-1zM136 519v1h1v-1zM137 520v1h1v-1zM138 520v3h1v-3zM140 519v1h1v-1zM141 520v1h1v-1zM142 520v1h1v-1zM142 522v1h1v-1zM143 523v1h1v-1zM144 520v3h1v-3zM168 517v1h1v-1zM169 515v4h1v-4zM170 515v1h1v-1zM171 514v1h1v-1zM171 523v3h1v-3zM172 518v1h1v-1zM173 524v1h1v-1zM174 514v1h1v-1zM174 523v1h1v-1zM174 525v1h1v-1zM175 524v1h1v-1zM176 514v1h1v-1zM176 523v1h1v-1zM177 515v1h1v-1zM177 523v1h1v-1zM179 523v1h1v-1zM180 515v1h1v-1zM180 518v1h1v-1zM182 517v2h1v-2zM182 523v1h1v-1zM183 518v1h1v-1zM183 523v1h1v-1zM183 525v1h1v-1zM184 517v2h1v-2zM185 518v1h1v-1zM185 524v1h1v-1zM186 515v1h1v-1zM186 524v1h1v-1zM187 515v1h1v-1zM187 518v1h1v-1zM190 524v2h1v-2zM191 515v1h1v-1zM191 517v1h1v-1zM191 524v1h1v-1zM192 515v1h1v-1zM195 514v1h1v-1zM195 525v1h1v-1zM196 514v1h1v-1zM196 523v3h1v-3zM197 516v3h1v-3zM197 526v1h1v-1zM198 515v1h1v-1zM199 514v1h1v-1zM201 516v1h1v-1zM201 525v1h1v-1zM202 523v1h1v-1zM202 525v1h1v-1zM204 523v1h1v-1zM205 515v1h1v-1zM205 517v1h1v-1zM205 525v1h1v-1zM206 515v1h1v-1zM207 517v1h1v-1zM208 525v1h1v-1zM209 518v1h1v-1zM209 526v1h1v-1zM211 515v1h1v-1zM211 518v1h1v-1zM211 525v1h1v-1zM212 514v1h1v-1zM212 523v2h1v-2zM213 518v1h1v-1zM215 514v1h1v-1zM216 515v1h1v-1zM217 523v1h1v-1zM218 524v2h1v-2zM219 515v1h1v-1zM219 518v1h1v-1zM221 517v2h1v-2zM222 515v1h1v-1zM222 525v1h1v-1zM223 516v1h1v-1zM224 515v1h1v-1zM224 518v1h1v-1zM227 515v1h1v-1zM228 517v2h1v-2zM228 523v1h1v-1zM230 518v1h1v-1zM230 523v1h1v-1zM232 515v2h1v-2zM233 517v2h1v-2zM234 524v1h1v-1zM235 515v1h1v-1zM235 518v1h1v-1zM236 518v1h1v-1zM236 524v2h1v-2zM238 523v1h1v-1zM239 514v1h1v-1zM239 524v1h1v-1zM240 514v1h1v-1zM240 525v2h1v-2zM241 517v1h1v-1zM241 523v2h1v-2zM242 517v2h1v-2zM243 515v1h1v-1zM244 516v1h1v-1zM244 518v1h1v-1zM244 526v1h1v-1zM245 514v1h1v-1zM245 518v1h1v-1zM245 523v3h1v-3zM249 522v1h1v-1zM253 522v1h1v-1zM254 518v1h1v-1zM254 522v1h1v-1zM258 522v1h1v-1zM259 518v1h1v-1zM260 522v1h1v-1zM263 522v1h1v-1zM264 518v1h1v-1zM265 518v1h1v-1zM265 522v1h1v-1zM268 522v1h1v-1zM269 518v1h1v-1zM269 522v1h1v-1zM270 522v1h1v-1zM273 518v1h1v-1zM273 522v1h1v-1zM274 518v1h1v-1zM274 522v1h1v-1zM301 517v1h1v-1zM303 523v1h1v-1zM304 520v2h1v-2zM305 517v1h1v-1zM310 518v1h1v-1zM310 520v1h1v-1zM311 518v1h1v-1zM311 520v1h1v-1zM315 519v1h1v-1zM316 521v1h1v-1zM323 518v2h1v-2zM326 519v1h1v-1zM326 522v1h1v-1zM330 518v1h1v-1zM331 519v1h1v-1zM331 521v1h1v-1zM332 520v1h1v-1zM338 520v1h1v-1zM338 522v1h1v-1zM339 521v1h1v-1zM348 519v1h1v-1zM353 517v1h1v-1zM355 522v1h1v-1zM363 517v1h1v-1zM368 518v1h1v-1zM369 522v1h1v-1zM370 520v2h1v-2zM378 519v1h1v-1zM380 518v2h1v-2zM384 517v2h1v-2zM387 517v2h1v-2zM390 520v1h1v-1z"/>
<path fill="#df0301" d="M30 523v1h1v-1zM31 522v1h1v-1zM32 522v1h1v-1zM33 522v1h1v-1zM34 522v1h1v-1zM36 523v1h1v-1zM44 521v1h1v-1zM44 523v1h1v-1zM46 521v1h1v-1zM46 523v1h1v-1zM47 519v3h1v-3zM49 523v1h1v-1zM50 520v1h1v-1zM50 522v1h1v-1zM51 519v1h1v-1zM52 519v1h1v-1zM52 522v1h1v-1zM53 520v1h1v-1zM54 519v1h1v-1zM55 520v1h1v-1zM56 523v1h1v-1zM57 520v1h1v-1zM58 520v1h1v-1zM58 522v1h1v-1zM59 520v1h1v-1zM60 519v2h1v-2zM60 522v1h1v-1zM64 520v1h1v-1zM67 521v1h1v-1zM68 519v1h1v-1zM70 519v2h1v-2zM71 520v2h1v-2zM71 523v1h1v-1zM72 521v1h1v-1zM73 520v2h1v-2zM74 523v1h1v-1zM75 522v1h1v-1zM76 519v1h1v-1zM77 520v1h1v-1zM77 523v1h1v-1zM79 519v1h1v-1zM81 519v1h1v-1zM82 519v2h1v-2zM82 523v1h1v-1zM84 519v1h1v-1zM84 521v1h1v-1zM86 519v1h1v-1zM86 521v1h1v-1zM88 522v1h1v-1zM89 523v1h1v-1zM90 523v1h1v-1zM91 519v1h1v-1zM91 521v1h1v-1zM92 520v1h1v-1zM92 523v1h1v-1zM93 519v1h1v-1zM93 522v1h1v-1zM94 523v1h1v-1zM95 523v1h1v-1zM96 522v2h1v-2zM97 520v1h1v-1zM97 522v2h1v-2zM99 519v2h1v-2zM99 523v1h1v-1zM100 521v1h1v-1zM101 519v3h1v-3zM101 523v1h1v-1zM103 520v1h1v-1zM104 519v2h1v-2zM104 522v2h1v-2zM105 520v1h1v-1zM105 522v1h1v-1zM106 521v1h1v-1zM107 520v1h1v-1zM108 520v1h1v-1zM111 522v2h1v-2zM112 523v1h1v-1zM114 519v1h1v-1zM114 522v2h1v-2zM115 523v1h1v-1zM117 523v1h1v-1zM119 522v1h1v-1zM120 519v1h1v-1zM120 522v2h1v-2zM121 522v2h1v-2zM122 520v1h1v-1zM122 523v1h1v-1zM123 519v1h1v-1zM124 519v2h1v-2zM125 523v1h1v-1zM126 523v1h1v-1zM127 522v1h1v-1zM128 522v1h1v-1zM129 520v1h1v-1zM129 523v1h1v-1zM130 519v1h1v-1zM130 521v3h1v-3zM131 522v1h1v-1zM132 522v1h1v-1zM133 520v1h1v-1zM133 523v1h1v-1zM134 519v1h1v-1zM135 519v1h1v-1zM135 522v1h1v-1zM136 523v1h1v-1zM137 523v1h1v-1zM138 519v1h1v-1zM138 523v1h1v-1zM139 520v1h1v-1zM139 523v1h1v-1zM142 519v1h1v-1zM143 522v1h1v-1zM168 515v2h1v-2zM168 518v1h1v-1zM170 517v1h1v-1zM171 515v1h1v-1zM172 515v2h1v-2zM173 517v1h1v-1zM173 523v1h1v-1zM175 515v1h1v-1zM175 518v1h1v-1zM175 525v1h1v-1zM176 515v1h1v-1zM176 524v2h1v-2zM177 516v3h1v-3zM177 525v1h1v-1zM179 524v2h1v-2zM180 517v1h1v-1zM181 517v1h1v-1zM181 524v2h1v-2zM182 515v2h1v-2zM183 516v1h1v-1zM184 515v2h1v-2zM185 525v1h1v-1zM187 516v2h1v-2zM188 516v1h1v-1zM189 516v1h1v-1zM189 518v1h1v-1zM190 518v1h1v-1zM191 516v1h1v-1zM191 518v1h1v-1zM191 525v1h1v-1zM192 517v2h1v-2zM193 517v2h1v-2zM193 523v1h1v-1zM194 514v1h1v-1zM194 518v1h1v-1zM195 515v1h1v-1zM195 518v1h1v-1zM196 515v1h1v-1zM199 515v1h1v-1zM199 525v1h1v-1zM201 515v1h1v-1zM201 523v1h1v-1zM202 514v1h1v-1zM202 524v1h1v-1zM203 515v2h1v-2zM203 518v1h1v-1zM204 514v1h1v-1zM204 524v2h1v-2zM205 518v1h1v-1zM205 523v1h1v-1zM206 517v2h1v-2zM207 515v1h1v-1zM208 518v1h1v-1zM208 523v2h1v-2zM210 514v2h1v-2zM210 517v1h1v-1zM211 516v2h1v-2zM211 523v1h1v-1zM212 516v1h1v-1zM213 515v3h1v-3zM213 525v1h1v-1zM214 523v1h1v-1zM215 524v1h1v-1zM216 516v1h1v-1zM216 518v1h1v-1zM217 515v1h1v-1zM217 518v1h1v-1zM217 524v1h1v-1zM218 514v1h1v-1zM218 518v1h1v-1zM219 516v1h1v-1zM220 517v2h1v-2zM221 515v1h1v-1zM221 524v1h1v-1zM222 517v1h1v-1zM223 515v1h1v-1zM224 516v1h1v-1zM224 523v1h1v-1zM225 517v1h1v-1zM225 523v2h1v-2zM226 525v1h1v-1zM227 516v1h1v-1zM227 523v1h1v-1zM227 525v1h1v-1zM228 515v2h1v-2zM228 524v1h1v-1zM229 516v2h1v-2zM230 515v2h1v-2zM231 518v1h1v-1zM232 517v1h1v-1zM233 515v1h1v-1zM234 515v1h1v-1zM234 517v1h1v-1zM235 517v1h1v-1zM235 525v2h1v-2zM236 515v1h1v-1zM237 516v1h1v-1zM237 523v1h1v-1zM237 525v1h1v-1zM238 518v1h1v-1zM238 525v1h1v-1zM239 515v1h1v-1zM239 518v1h1v-1zM240 524v1h1v-1zM241 515v1h1v-1zM243 516v1h1v-1zM244 517v1h1v-1zM245 515v1h1v-1zM246 516v1h1v-1zM249 514v1h1v-1zM250 518v1h1v-1zM253 514v1h1v-1zM253 518v1h1v-1zM255 518v1h1v-1zM257 514v1h1v-1zM260 518v1h1v-1zM261 514v1h1v-1zM261 518v1h1v-1zM262 518v1h1v-1zM263 514v1h1v-1zM268 514v1h1v-1zM268 518v1h1v-1zM269 514v1h1v-1zM272 514v1h1v-1zM272 518v1h1v-1zM273 514v1h1v-1zM274 514v1h1v-1zM277 518v1h1v-1zM277 522v1h1v-1zM278 514v1h1v-1zM301 518v1h1v-1zM305 519v1h1v-1zM310 519v1h1v-1zM311 519v1h1v-1zM312 523v1h1v-1zM314 522v1h1v-1zM315 521v1h1v-1zM316 519v1h1v-1zM320 517v1h1v-1zM320 520v1h1v-1zM331 520v1h1v-1zM335 518v1h1v-1zM336 518v1h1v-1zM336 521v1h1v-1zM337 518v1h1v-1zM340 519v1h1v-1zM341 518v1h1v-1zM342 523v1h1v-1zM348 520v1h1v-1zM355 519v1h1v-1zM358 517v1h1v-1zM360 522v1h1v-1zM367 517v1h1v-1zM369 519v1h1v-1zM372 518v1h1v-1zM375 517v2h1v-2zM378 521v1h1v-1zM383 519v1h1v-1zM386 516v1h1v-1zM390 522v1h1v-1z"/>
<path fill="#d40000" d="M30 522v1h1v-1zM37 523v1h1v-1zM43 522v1h1v-1zM45 520v3h1v-3zM47 522v2h1v-2zM49 520v3h1v-3zM50 519v1h1v-1zM50 523v1h1v-1zM51 520v3h1v-3zM52 521v1h1v-1zM52 523v1h1v-1zM53 521v1h1v-1zM55 522v1h1v-1zM56 521v1h1v-1zM58 523v1h1v-1zM62 521v1h1v-1zM63 520v1h1v-1zM63 523v1h1v-1zM64 522v1h1v-1zM66 519v1h1v-1zM68 522v2h1v-2zM70 521v1h1v-1zM71 522v1h1v-1zM72 520v1h1v-1zM74 521v1h1v-1zM76 521v2h1v-2zM83 522v2h1v-2zM84 522v1h1v-1zM85 522v1h1v-1zM86 520v1h1v-1zM86 523v1h1v-1zM87 522v1h1v-1zM90 520v1h1v-1zM91 522v1h1v-1zM92 522v1h1v-1zM93 520v2h1v-2zM94 520v1h1v-1zM95 520v1h1v-1zM95 522v1h1v-1zM96 519v2h1v-2zM98 522v1h1v-1zM101 522v1h1v-1zM103 521v2h1v-2zM105 521v1h1v-1zM107 521v1h1v-1zM110 520v1h1v-1zM110 522v1h1v-1zM111 520v1h1v-1zM112 522v1h1v-1zM114 520v2h1v-2zM115 520v1h1v-1zM115 522v1h1v-1zM119 520v1h1v-1zM119 523v1h1v-1zM120 520v1h1v-1zM121 521v1h1v-1zM122 519v1h1v-1zM123 521v1h1v-1zM124 523v1h1v-1zM125 520v1h1v-1zM126 521v2h1v-2zM127 520v2h1v-2zM131 521v1h1v-1zM132 519v1h1v-1zM133 521v2h1v-2zM134 523v1h1v-1zM135 520v1h1v-1zM136 521v1h1v-1zM137 522v1h1v-1zM141 522v1h1v-1zM171 517v2h1v-2zM172 517v1h1v-1zM173 518v1h1v-1zM173 525v1h1v-1zM174 515v1h1v-1zM175 517v1h1v-1zM176 517v2h1v-2zM178 524v1h1v-1zM179 515v1h1v-1zM179 517v1h1v-1zM181 518v1h1v-1zM181 523v1h1v-1zM183 515v1h1v-1zM183 517v1h1v-1zM188 517v1h1v-1zM190 516v2h1v-2zM191 523v1h1v-1zM192 516v1h1v-1zM192 524v1h1v-1zM193 515v1h1v-1zM195 516v1h1v-1zM196 517v1h1v-1zM197 523v2h1v-2zM198 516v2h1v-2zM199 517v2h1v-2zM201 517v1h1v-1zM201 524v1h1v-1zM202 515v1h1v-1zM202 518v1h1v-1zM203 517v1h1v-1zM204 515v1h1v-1zM204 517v1h1v-1zM205 516v1h1v-1zM205 524v1h1v-1zM206 523v3h1v-3zM207 516v1h1v-1zM209 516v1h1v-1zM209 524v2h1v-2zM212 515v1h1v-1zM212 517v2h1v-2zM212 525v1h1v-1zM213 523v2h1v-2zM214 515v2h1v-2zM214 525v1h1v-1zM215 515v1h1v-1zM215 517v2h1v-2zM216 517v1h1v-1zM216 524v1h1v-1zM217 517v1h1v-1zM218 515v1h1v-1zM219 517v1h1v-1zM220 515v2h1v-2zM220 523v3h1v-3zM221 516v1h1v-1zM222 516v1h1v-1zM224 524v1h1v-1zM225 516v1h1v-1zM225 518v1h1v-1zM226 515v1h1v-1zM226 518v1h1v-1zM227 517v1h1v-1zM227 524v1h1v-1zM228 525v1h1v-1zM229 524v1h1v-1zM232 518v1h1v-1zM233 516v1h1v-1zM235 523v2h1v-2zM236 516v1h1v-1zM238 515v1h1v-1zM238 517v1h1v-1zM239 516v2h1v-2zM240 515v1h1v-1zM240 518v1h1v-1zM241 516v1h1v-1zM242 515v2h1v-2zM244 523v1h1v-1zM245 516v2h1v-2zM249 517v1h1v-1zM249 523v3h1v-3zM250 514v1h1v-1zM250 517v1h1v-1zM250 524v1h1v-1zM251 518v1h1v-1zM251 522v2h1v-2zM252 518v1h1v-1zM252 523v1h1v-1zM253 525v1h1v-1zM254 514v1h1v-1zM254 523v1h1v-1zM254 525v1h1v-1zM255 514v1h1v-1zM255 525v1h1v-1zM256 514v1h1v-1zM256 518v1h1v-1zM256 522v1h1v-1zM257 515v1h1v-1zM257 522v1h1v-1zM257 525v1h1v-1zM258 514v1h1v-1zM258 518v1h1v-1zM259 514v2h1v-2zM260 514v1h1v-1zM260 524v1h1v-1zM262 514v1h1v-1zM262 522v1h1v-1zM263 518v1h1v-1zM263 525v1h1v-1zM264 514v1h1v-1zM264 523v1h1v-1zM265 515v1h1v-1zM265 517v1h1v-1zM265 523v1h1v-1zM265 525v1h1v-1zM266 514v1h1v-1zM266 518v1h1v-1zM266 522v1h1v-1zM266 525v1h1v-1zM267 514v2h1v-2zM267 518v1h1v-1zM267 522v1h1v-1zM267 524v2h1v-2zM268 515v1h1v-1zM268 517v1h1v-1zM268 523v3h1v-3zM269 523v1h1v-1zM269 525v1h1v-1zM270 515v1h1v-1zM270 518v1h1v-1zM271 514v1h1v-1zM271 516v1h1v-1zM271 518v1h1v-1zM271 525v1h1v-1zM272 515v1h1v-1zM272 522v2h1v-2zM272 525v1h1v-1zM273 523v1h1v-1zM273 525v1h1v-1zM275 515v1h1v-1zM275 522v1h1v-1zM276 514v2h1v-2zM276 517v1h1v-1zM276 522v2h1v-2zM277 514v1h1v-1zM277 523v1h1v-1zM277 525v1h1v-1zM278 515v3h1v-3zM278 523v2h1v-2zM305 518v1h1v-1zM315 520v1h1v-1zM321 517v1h1v-1zM330 526v1h1v-1zM335 520v1h1v-1zM337 521v1h1v-1zM338 521v1h1v-1zM340 517v1h1v-1zM345 519v1h1v-1zM351 519v1h1v-1zM363 518v1h1v-1zM367 518v2h1v-2zM371 521v1h1v-1zM378 520v1h1v-1zM388 516v1h1v-1zM388 519v1h1v-1zM390 521v1h1v-1z"/>
<path fill="#c30000" d="M36 522v1h1v-1zM44 522v1h1v-1zM50 521v1h1v-1zM52 520v1h1v-1zM55 521v1h1v-1zM63 521v2h1v-2zM64 523v1h1v-1zM66 520v1h1v-1zM66 522v1h1v-1zM68 521v1h1v-1zM70 522v1h1v-1zM75 521v1h1v-1zM76 523v1h1v-1zM79 520v1h1v-1zM79 522v1h1v-1zM80 522v1h1v-1zM81 520v1h1v-1zM81 522v1h1v-1zM82 521v1h1v-1zM83 519v3h1v-3zM84 520v1h1v-1zM85 520v1h1v-1zM87 521v1h1v-1zM87 523v1h1v-1zM88 521v1h1v-1zM89 521v1h1v-1zM94 519v1h1v-1zM94 521v2h1v-2zM95 521v1h1v-1zM97 521v1h1v-1zM111 521v1h1v-1zM112 519v1h1v-1zM113 521v1h1v-1zM115 521v1h1v-1zM117 520v1h1v-1zM117 522v1h1v-1zM118 520v1h1v-1zM118 522v1h1v-1zM119 521v1h1v-1zM122 521v2h1v-2zM124 521v2h1v-2zM125 519v1h1v-1zM125 522v1h1v-1zM132 523v1h1v-1zM135 523v1h1v-1zM136 522v1h1v-1zM137 521v1h1v-1zM140 520v4h1v-4zM141 521v1h1v-1zM143 521v1h1v-1zM173 515v1h1v-1zM174 516v3h1v-3zM176 516v1h1v-1zM179 516v1h1v-1zM179 518v1h1v-1zM180 516v1h1v-1zM181 515v2h1v-2zM188 515v1h1v-1zM188 518v1h1v-1zM189 515v1h1v-1zM189 517v1h1v-1zM190 515v1h1v-1zM194 515v1h1v-1zM194 517v1h1v-1zM195 517v1h1v-1zM196 516v1h1v-1zM196 518v1h1v-1zM197 525v1h1v-1zM199 516v1h1v-1zM200 515v1h1v-1zM200 517v2h1v-2zM202 516v2h1v-2zM204 518v1h1v-1zM206 516v1h1v-1zM208 516v2h1v-2zM209 523v1h1v-1zM210 518v1h1v-1zM211 524v1h1v-1zM214 517v1h1v-1zM214 524v1h1v-1zM215 516v1h1v-1zM217 516v1h1v-1zM218 517v1h1v-1zM224 525v1h1v-1zM231 515v1h1v-1zM231 517v1h1v-1zM234 516v1h1v-1zM236 517v1h1v-1zM237 524v1h1v-1zM238 516v1h1v-1zM240 516v2h1v-2zM240 523v1h1v-1zM244 525v1h1v-1zM249 515v1h1v-1zM250 515v2h1v-2zM250 523v1h1v-1zM250 525v1h1v-1zM251 514v2h1v-2zM251 517v1h1v-1zM251 524v2h1v-2zM252 514v2h1v-2zM252 517v1h1v-1zM252 522v1h1v-1zM252 524v2h1v-2zM253 515v1h1v-1zM253 517v1h1v-1zM253 523v2h1v-2zM254 515v1h1v-1zM254 517v1h1v-1zM254 524v1h1v-1zM255 515v3h1v-3zM255 524v1h1v-1zM256 515v3h1v-3zM256 525v1h1v-1zM257 517v2h1v-2zM257 523v2h1v-2zM258 515v1h1v-1zM258 517v1h1v-1zM258 525v1h1v-1zM259 523v1h1v-1zM259 525v1h1v-1zM260 515v3h1v-3zM260 523v1h1v-1zM261 517v1h1v-1zM261 522v4h1v-4zM262 517v1h1v-1zM262 523v1h1v-1zM262 525v1h1v-1zM263 517v1h1v-1zM263 523v2h1v-2zM264 525v1h1v-1zM265 514v1h1v-1zM265 516v1h1v-1zM265 524v1h1v-1zM266 516v2h1v-2zM267 516v2h1v-2zM267 523v1h1v-1zM269 517v1h1v-1zM270 514v1h1v-1zM270 523v1h1v-1zM271 517v1h1v-1zM271 522v1h1v-1zM271 524v1h1v-1zM272 516v2h1v-2zM273 515v3h1v-3zM273 524v1h1v-1zM274 515v1h1v-1zM274 517v1h1v-1zM274 523v1h1v-1zM275 514v1h1v-1zM275 516v3h1v-3zM275 525v1h1v-1zM276 516v1h1v-1zM276 518v1h1v-1zM276 524v2h1v-2zM277 515v3h1v-3zM277 524v1h1v-1zM278 525v1h1v-1zM303 519v1h1v-1zM308 519v1h1v-1zM309 526v1h1v-1zM314 519v1h1v-1zM316 520v1h1v-1zM317 519v1h1v-1zM317 521v1h1v-1zM320 518v2h1v-2zM321 520v1h1v-1zM329 519v1h1v-1zM335 519v1h1v-1zM336 519v2h1v-2zM338 526v1h1v-1zM342 520v1h1v-1zM345 522v1h1v-1zM351 521v1h1v-1zM360 518v1h1v-1zM366 518v1h1v-1zM366 520v1h1v-1zM369 520v2h1v-2zM371 519v1h1v-1zM372 521v1h1v-1zM386 519v1h1v-1z"/>
<path fill="#b20000" d="M28 522v1h1v-1zM35 522v1h1v-1zM45 523v1h1v-1zM58 521v1h1v-1zM60 521v1h1v-1zM66 523v1h1v-1zM78 521v1h1v-1zM79 523v1h1v-1zM81 521v1h1v-1zM81 523v1h1v-1zM82 522v1h1v-1zM85 521v1h1v-1zM89 522v1h1v-1zM104 521v1h1v-1zM110 521v1h1v-1zM112 520v2h1v-2zM118 521v1h1v-1zM123 522v1h1v-1zM125 521v1h1v-1zM132 520v1h1v-1zM135 521v1h1v-1zM139 521v2h1v-2zM142 521v1h1v-1zM173 516v1h1v-1zM175 516v1h1v-1zM177 524v1h1v-1zM182 524v1h1v-1zM185 516v1h1v-1zM194 516v1h1v-1zM200 516v1h1v-1zM204 516v1h1v-1zM208 515v1h1v-1zM210 516v1h1v-1zM218 516v1h1v-1zM226 517v1h1v-1zM231 516v1h1v-1zM238 524v1h1v-1zM244 524v1h1v-1zM249 516v1h1v-1zM251 516v1h1v-1zM252 516v1h1v-1zM253 516v1h1v-1zM254 516v1h1v-1zM255 523v1h1v-1zM256 523v2h1v-2zM257 516v1h1v-1zM258 516v1h1v-1zM258 523v2h1v-2zM259 517v1h1v-1zM259 524v1h1v-1zM260 525v1h1v-1zM261 515v2h1v-2zM262 515v2h1v-2zM262 524v1h1v-1zM263 515v1h1v-1zM264 515v3h1v-3zM264 524v1h1v-1zM266 515v1h1v-1zM266 523v2h1v-2zM269 515v2h1v-2zM269 524v1h1v-1zM270 516v2h1v-2zM270 524v2h1v-2zM271 515v1h1v-1zM271 523v1h1v-1zM272 524v1h1v-1zM274 516v1h1v-1zM274 524v2h1v-2zM275 523v2h1v-2zM303 522v1h1v-1zM303 526v1h1v-1zM308 518v1h1v-1zM312 520v1h1v-1zM314 521v1h1v-1zM325 526v1h1v-1zM326 520v2h1v-2zM337 519v2h1v-2zM340 518v1h1v-1zM342 521v2h1v-2zM342 526v1h1v-1zM351 520v1h1v-1zM355 520v2h1v-2zM358 519v1h1v-1zM371 520v1h1v-1zM372 519v1h1v-1zM383 517v1h1v-1z"/>
<path fill="#9f0000" d="M37 522v1h1v-1zM48 521v1h1v-1zM66 521v1h1v-1zM79 521v1h1v-1zM92 521v1h1v-1zM96 521v1h1v-1zM99 522v1h1v-1zM117 521v1h1v-1zM132 521v1h1v-1zM187 524v1h1v-1zM193 516v1h1v-1zM226 516v1h1v-1zM243 517v1h1v-1zM259 516v1h1v-1zM263 516v1h1v-1zM268 516v1h1v-1zM314 520v1h1v-1zM321 518v2h1v-2zM329 517v1h1v-1zM345 520v1h1v-1zM358 518v1h1v-1zM360 521v1h1v-1zM366 519v1h1v-1zM372 520v1h1v-1zM383 518v1h1v-1z"/>
<path fill="#8c0000" d="M64 521v1h1v-1zM120 521v1h1v-1zM171 516v1h1v-1zM303 520v1h1v-1zM312 522v1h1v-1zM317 520v1h1v-1zM345 521v1h1v-1zM353 518v1h1v-1zM353 520v1h1v-1zM360 519v1h1v-1zM386 517v2h1v-2zM388 517v2h1v-2z"/>
<path fill="#8c0000" d="M303 521v1h1v-1zM312 521v1h1v-1zM329 518v1h1v-1zM360 520v1h1v-1z"/>
<path fill="#8c0000" d="M353 519v1h1v-1z"/>
<line x1="300.3" y1="428.3" x2="300.3" y2="531.3" stroke="#b8b8b8" stroke-width="0.7" opacity="0.8"/>
<line x1="25.5" y1="531.3" x2="391" y2="531.3" stroke="#b4b4b4" stroke-width="1.3"/>
<line x1="390.6" y1="428.3" x2="390.6" y2="531.3" stroke="#b4b4b4" stroke-width="1"/>
<line x1="43.8" y1="528.8" x2="43.8" y2="531.3" stroke="#999" stroke-width="0.7"/>
<line x1="80.3" y1="528.8" x2="80.3" y2="531.3" stroke="#999" stroke-width="0.7"/>
<line x1="116.8" y1="528.8" x2="116.8" y2="531.3" stroke="#999" stroke-width="0.7"/>
<line x1="153.4" y1="528.8" x2="153.4" y2="531.3" stroke="#999" stroke-width="0.7"/>
<line x1="189.9" y1="528.8" x2="189.9" y2="531.3" stroke="#999" stroke-width="0.7"/>
<line x1="226.4" y1="528.8" x2="226.4" y2="531.3" stroke="#999" stroke-width="0.7"/>
<line x1="263.0" y1="528.8" x2="263.0" y2="531.3" stroke="#999" stroke-width="0.7"/>
<line x1="299.5" y1="528.8" x2="299.5" y2="531.3" stroke="#999" stroke-width="0.7"/>
<line x1="336.0" y1="528.8" x2="336.0" y2="531.3" stroke="#999" stroke-width="0.7"/>
<line x1="372.6" y1="528.8" x2="372.6" y2="531.3" stroke="#999" stroke-width="0.7"/>
<line x1="388.4" y1="428.6" x2="390.6" y2="428.6" stroke="#999" stroke-width="0.7"/>
<text transform="translate(392.00,430.93) scale(0.88,1)" font-size="6.6" fill="#222" color="#222" text-anchor="start" >7.87</text>
<line x1="388.4" y1="453.7" x2="390.6" y2="453.7" stroke="#999" stroke-width="0.7"/>
<text transform="translate(392.00,456.10) scale(0.88,1)" font-size="6.6" fill="#222" color="#222" text-anchor="start" >10.42</text>
<line x1="388.4" y1="479.7" x2="390.6" y2="479.7" stroke="#999" stroke-width="0.7"/>
<text transform="translate(392.00,482.08) scale(0.88,1)" font-size="6.6" fill="#222" color="#222" text-anchor="start" >15.63</text>
<line x1="388.4" y1="505.7" x2="390.6" y2="505.7" stroke="#999" stroke-width="0.7"/>
<text transform="translate(392.00,508.07) scale(0.88,1)" font-size="6.6" fill="#222" color="#222" text-anchor="start" >31.25</text>
<line x1="388.4" y1="530.9" x2="390.6" y2="530.9" stroke="#999" stroke-width="0.7"/>
<text transform="translate(392.00,533.24) scale(0.88,1)" font-size="6.6" fill="#222" color="#222" text-anchor="start" >1000</text>
<text transform="translate(24.60,517.81) scale(0.88,1)" font-size="6.6" fill="#222" color="#222" text-anchor="end" >20</text>
<text transform="translate(24.60,501.57) scale(0.88,1)" font-size="6.6" fill="#222" color="#222" text-anchor="end" >40</text>
<text transform="translate(24.60,485.33) scale(0.88,1)" font-size="6.6" fill="#222" color="#222" text-anchor="end" >60</text>
<text transform="translate(24.60,469.09) scale(0.88,1)" font-size="6.6" fill="#222" color="#222" text-anchor="end" >80</text>
<text transform="translate(24.60,452.85) scale(0.88,1)" font-size="6.6" fill="#222" color="#222" text-anchor="end" >100</text>
<text transform="translate(24.60,436.61) scale(0.88,1)" font-size="6.6" fill="#222" color="#222" text-anchor="end" >120</text>
<text transform="translate(42.89,537.85) scale(0.88,1)" font-size="6.6" fill="#222" color="#222" text-anchor="middle" >-70</text>
<text transform="translate(79.42,537.85) scale(0.88,1)" font-size="6.6" fill="#222" color="#222" text-anchor="middle" >-60</text>
<text transform="translate(115.95,537.85) scale(0.88,1)" font-size="6.6" fill="#222" color="#222" text-anchor="middle" >-50</text>
<text transform="translate(152.48,537.85) scale(0.88,1)" font-size="6.6" fill="#222" color="#222" text-anchor="middle" >-40</text>
<text transform="translate(189.01,537.85) scale(0.88,1)" font-size="6.6" fill="#222" color="#222" text-anchor="middle" >-30</text>
<text transform="translate(225.54,537.85) scale(0.88,1)" font-size="6.6" fill="#222" color="#222" text-anchor="middle" >-20</text>
<text transform="translate(262.07,537.85) scale(0.88,1)" font-size="6.6" fill="#222" color="#222" text-anchor="middle" >-10</text>
<text transform="translate(299.50,537.85) scale(0.88,1)" font-size="6.6" fill="#222" color="#222" text-anchor="middle" >0</text>
<text transform="translate(336.03,537.85) scale(0.88,1)" font-size="6.6" fill="#222" color="#222" text-anchor="middle" >10</text>
<text transform="translate(372.56,537.85) scale(0.88,1)" font-size="6.6" fill="#222" color="#222" text-anchor="middle" >20</text>
<text x="207.5" y="544.0" font-size="6.2" fill="#222" color="#222" text-anchor="middle" textLength="43" lengthAdjust="spacingAndGlyphs" >relative time (s)</text>
<text transform="translate(10.6,480.8) rotate(-90)" font-size="6.2" fill="#222" color="#222" text-anchor="middle" textLength="43" lengthAdjust="spacingAndGlyphs">frequency scale</text>
<text transform="translate(413.0,478.5) rotate(-90)" font-size="6.2" fill="#222" color="#222" text-anchor="middle" textLength="61.5" lengthAdjust="spacingAndGlyphs">pseudo frequency (Hz)</text>
<text x="123.8" y="420.6" font-size="6.3" fill="#222" color="#222" text-anchor="start" textLength="62.6" lengthAdjust="spacingAndGlyphs" >MP-02 Czajka, CWT: a</text>
<text x="188.1" y="423.5" font-size="4.6" fill="#222" color="#222" text-anchor="start" >z</text>
<text x="191.4" y="420.6" font-size="6.3" fill="#222" color="#222" text-anchor="start" textLength="101.2" lengthAdjust="spacingAndGlyphs" > (-), color scale: 0 (white) to 0.2 (red)</text>
<rect x="29.40" y="430.0" width="6.28" height="6.5" fill="#fefdfe"/>
<rect x="35.38" y="430.0" width="6.28" height="6.5" fill="#fcfbfd"/>
<rect x="41.37" y="430.0" width="6.28" height="6.5" fill="#faf9fc"/>
<rect x="47.35" y="430.0" width="6.28" height="6.5" fill="#f8f6fb"/>
<rect x="53.33" y="430.0" width="6.28" height="6.5" fill="#f6f2fa"/>
<rect x="59.32" y="430.0" width="6.28" height="6.5" fill="#f4eef8"/>
<rect x="65.30" y="430.0" width="6.28" height="6.5" fill="#f1ecf8"/>
<rect x="71.28" y="430.0" width="6.28" height="6.5" fill="#efebf8"/>
<rect x="77.27" y="430.0" width="6.28" height="6.5" fill="#ede9f8"/>
<rect x="83.25" y="430.0" width="6.28" height="6.5" fill="#eae9f8"/>
<rect x="89.23" y="430.0" width="6.28" height="6.5" fill="#e7e9f9"/>
<rect x="95.22" y="430.0" width="6.28" height="6.5" fill="#e3e9f9"/>
<rect x="101.20" y="430.0" width="6.28" height="6.5" fill="#deeafa"/>
<rect x="107.18" y="430.0" width="6.28" height="6.5" fill="#d7ebfa"/>
<rect x="113.17" y="430.0" width="6.28" height="6.5" fill="#d0ebfa"/>
<rect x="119.15" y="430.0" width="6.28" height="6.5" fill="#c7ebf9"/>
<rect x="125.13" y="430.0" width="6.28" height="6.5" fill="#bceaf8"/>
<rect x="131.12" y="430.0" width="6.28" height="6.5" fill="#b1e8f6"/>
<rect x="137.10" y="430.0" width="6.28" height="6.5" fill="#aae8f2"/>
<rect x="143.08" y="430.0" width="6.28" height="6.5" fill="#a6e8ed"/>
<rect x="149.07" y="430.0" width="6.28" height="6.5" fill="#a2e8e7"/>
<rect x="155.05" y="430.0" width="6.28" height="6.5" fill="#9fe7dd"/>
<rect x="161.03" y="430.0" width="6.28" height="6.5" fill="#9ee6d0"/>
<rect x="167.02" y="430.0" width="6.28" height="6.5" fill="#9ce4c4"/>
<rect x="173.00" y="430.0" width="6.28" height="6.5" fill="#9ce3b7"/>
<rect x="178.98" y="430.0" width="6.28" height="6.5" fill="#9ee3a9"/>
<rect x="184.97" y="430.0" width="6.28" height="6.5" fill="#9fe29c"/>
<rect x="190.95" y="430.0" width="6.28" height="6.5" fill="#a2e28f"/>
<rect x="196.93" y="430.0" width="6.28" height="6.5" fill="#a8e383"/>
<rect x="202.92" y="430.0" width="6.28" height="6.5" fill="#ade376"/>
<rect x="208.90" y="430.0" width="6.28" height="6.5" fill="#b4e56c"/>
<rect x="214.88" y="430.0" width="6.28" height="6.5" fill="#bee765"/>
<rect x="220.87" y="430.0" width="6.28" height="6.5" fill="#c7e95f"/>
<rect x="226.85" y="430.0" width="6.28" height="6.5" fill="#d0ea58"/>
<rect x="232.83" y="430.0" width="6.28" height="6.5" fill="#d7ec52"/>
<rect x="238.82" y="430.0" width="6.28" height="6.5" fill="#e0ed4b"/>
<rect x="244.80" y="430.0" width="6.28" height="6.5" fill="#e7ed46"/>
<rect x="250.78" y="430.0" width="6.28" height="6.5" fill="#efed42"/>
<rect x="256.77" y="430.0" width="6.28" height="6.5" fill="#f6ec3d"/>
<rect x="262.75" y="430.0" width="6.28" height="6.5" fill="#fae539"/>
<rect x="268.73" y="430.0" width="6.28" height="6.5" fill="#fcd836"/>
<rect x="274.72" y="430.0" width="6.28" height="6.5" fill="#feca32"/>
<rect x="280.70" y="430.0" width="6.28" height="6.5" fill="#ffb72c"/>
<rect x="286.68" y="430.0" width="6.28" height="6.5" fill="#ff9f27"/>
<rect x="292.67" y="430.0" width="6.28" height="6.5" fill="#ff8620"/>
<rect x="298.65" y="430.0" width="6.28" height="6.5" fill="#fe6c1b"/>
<rect x="304.63" y="430.0" width="6.28" height="6.5" fill="#fc5216"/>
<rect x="310.62" y="430.0" width="6.28" height="6.5" fill="#fa3912"/>
<rect x="316.60" y="430.0" width="6.28" height="6.5" fill="#f7250d"/>
<rect x="322.58" y="430.0" width="6.28" height="6.5" fill="#f31a0a"/>
<rect x="328.57" y="430.0" width="6.28" height="6.5" fill="#ee0e06"/>
<rect x="334.55" y="430.0" width="6.28" height="6.5" fill="#e80603"/>
<rect x="340.53" y="430.0" width="6.28" height="6.5" fill="#df0301"/>
<rect x="346.52" y="430.0" width="6.28" height="6.5" fill="#d70100"/>
<rect x="352.50" y="430.0" width="6.28" height="6.5" fill="#ce0000"/>
<rect x="358.48" y="430.0" width="6.28" height="6.5" fill="#c20000"/>
<rect x="364.47" y="430.0" width="6.28" height="6.5" fill="#b70000"/>
<rect x="370.45" y="430.0" width="6.28" height="6.5" fill="#ab0000"/>
<rect x="376.43" y="430.0" width="6.28" height="6.5" fill="#9f0000"/>
<rect x="382.42" y="430.0" width="6.28" height="6.5" fill="#920000"/>
<line x1="65.3" y1="430.0" x2="65.3" y2="436.5" stroke="#555" stroke-width="0.6"/>
<line x1="101.2" y1="430.0" x2="101.2" y2="436.5" stroke="#555" stroke-width="0.6"/>
<line x1="137.1" y1="430.0" x2="137.1" y2="436.5" stroke="#555" stroke-width="0.6"/>
<line x1="173.0" y1="430.0" x2="173.0" y2="436.5" stroke="#555" stroke-width="0.6"/>
<line x1="208.9" y1="430.0" x2="208.9" y2="436.5" stroke="#555" stroke-width="0.6"/>
<line x1="244.8" y1="430.0" x2="244.8" y2="436.5" stroke="#555" stroke-width="0.6"/>
<line x1="280.7" y1="430.0" x2="280.7" y2="436.5" stroke="#555" stroke-width="0.6"/>
<line x1="316.6" y1="430.0" x2="316.6" y2="436.5" stroke="#555" stroke-width="0.6"/>
<line x1="352.5" y1="430.0" x2="352.5" y2="436.5" stroke="#555" stroke-width="0.6"/>
<rect x="29.4" y="430.0" width="359.0" height="6.5" fill="none" stroke="#888" stroke-width="0.7"/>
<text transform="translate(29.40,442.95) scale(0.88,1)" font-size="6.6" fill="#222" color="#222" text-anchor="middle" >0</text>
<text transform="translate(65.30,442.95) scale(0.88,1)" font-size="6.6" fill="#222" color="#222" text-anchor="middle" >0.02</text>
<text transform="translate(101.20,442.95) scale(0.88,1)" font-size="6.6" fill="#222" color="#222" text-anchor="middle" >0.04</text>
<text transform="translate(137.10,442.95) scale(0.88,1)" font-size="6.6" fill="#222" color="#222" text-anchor="middle" >0.06</text>
<text transform="translate(173.00,442.95) scale(0.88,1)" font-size="6.6" fill="#222" color="#222" text-anchor="middle" >0.08</text>
<text transform="translate(208.90,442.95) scale(0.88,1)" font-size="6.6" fill="#222" color="#222" text-anchor="middle" >0.1</text>
<text transform="translate(244.80,442.95) scale(0.88,1)" font-size="6.6" fill="#222" color="#222" text-anchor="middle" >0.12</text>
<text transform="translate(280.70,442.95) scale(0.88,1)" font-size="6.6" fill="#222" color="#222" text-anchor="middle" >0.14</text>
<text transform="translate(316.60,442.95) scale(0.88,1)" font-size="6.6" fill="#222" color="#222" text-anchor="middle" >0.16</text>
<text transform="translate(352.50,442.95) scale(0.88,1)" font-size="6.6" fill="#222" color="#222" text-anchor="middle" >0.18</text>
<text transform="translate(388.40,442.95) scale(0.88,1)" font-size="6.6" fill="#222" color="#222" text-anchor="middle" >0.2</text>
<defs><clipPath id="ce"><rect x="26" y="428" width="365" height="103"/></clipPath></defs>
<g clip-path="url(#ce)" fill="none" stroke="#5ac4ee" stroke-width="0.9" stroke-dasharray="3.4 2.2">
<ellipse cx="212" cy="518.8" rx="178" ry="10.6"/>
<ellipse cx="342" cy="501" rx="35.6" ry="27"/>
</g>
<text x="173.8" y="481.1" font-size="6.9" fill="#18b0f0" color="#18b0f0" text-anchor="middle" textLength="65.9" lengthAdjust="spacingAndGlyphs" stroke="#18b0f0" stroke-width="0.22">engine induced vibrations</text>
<line x1="169.6" y1="484.2" x2="162.3" y2="504.7" stroke="#18b0f0" stroke-width="0.7"/>
<path d="M161.2 507.7L160.9 504.2L163.7 505.2Z" fill="#18b0f0"/>
<text x="241.6" y="458.0" font-size="6.9" fill="#18b0f0" color="#18b0f0" text-anchor="middle" textLength="53.3" lengthAdjust="spacingAndGlyphs" stroke="#18b0f0" stroke-width="0.22">rolling on the ground</text>
<line x1="271.2" y1="456" x2="313.0" y2="480.8" stroke="#18b0f0" stroke-width="0.7"/>
<path d="M315.8 482.4L312.3 482.1L313.8 479.5Z" fill="#18b0f0"/>
<text x="268.9" y="481.1" font-size="6.9" fill="#18b0f0" color="#18b0f0" text-anchor="middle" textLength="28.8" lengthAdjust="spacingAndGlyphs" stroke="#18b0f0" stroke-width="0.22">touchdown</text>
<line x1="287" y1="481.8" x2="296.9" y2="484.5" stroke="#18b0f0" stroke-width="0.7"/>
<path d="M300.0 485.3L296.5 485.9L297.3 483.0Z" fill="#18b0f0"/>
<rect x="36.3" y="445.6" width="14.6" height="15.3" fill="#fff" stroke="#9a9a9a" stroke-width="0.8"/>
<text transform="translate(43.60,458.35) scale(0.92,1)" font-size="15.2" fill="#111" color="#111" text-anchor="middle" stroke="#111" stroke-width="0.3">E</text>
</svg></body></html>
